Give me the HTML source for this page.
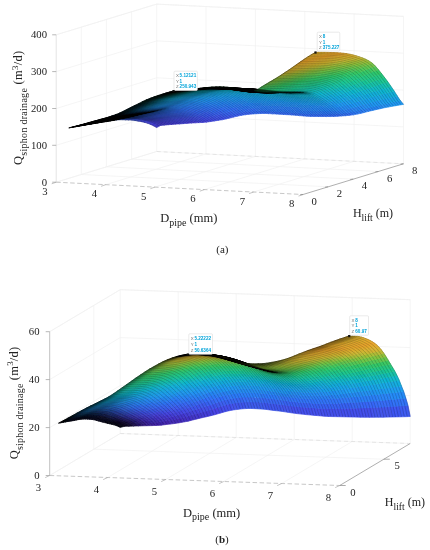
<!DOCTYPE html>
<html><head><meta charset="utf-8"><title>Siphon drainage surfaces</title>
<style>
html,body{margin:0;padding:0;background:#fff}
body{width:430px;height:550px;overflow:hidden}
svg{display:block}
text{font-family:"Liberation Serif",serif;fill:#222}
.surf path{stroke-width:.7;stroke-linejoin:round}
text.tipl{font-family:"Liberation Sans",sans-serif;fill:#6e6e6e}
.tipv{fill:#00a3d9;font-weight:bold}
.aa{fill:#3c36c0;stroke:#3c36c0}.ab{fill:#3c36ba;stroke:#3c36ba}.ac{fill:#3c36c6;stroke:#3c36c6}.ad{fill:#3c3cc6;stroke:#3c3cc6}.ae{fill:#3c3ccc;stroke:#3c3ccc}.af{fill:#423ccc;stroke:#423ccc}.ag{fill:#3c3cc0;stroke:#3c3cc0}.ah{fill:#423cd2;stroke:#423cd2}.ai{fill:#4242d2;stroke:#4242d2}.aj{fill:#4242d8;stroke:#4242d8}.ak{fill:#3636ba;stroke:#3636ba}.al{fill:#3c42cc;stroke:#3c42cc}.am{fill:#363cba;stroke:#363cba}.an{fill:#4248de;stroke:#4248de}.ao{fill:#3c42d2;stroke:#3c42d2}.ap{fill:#363cc0;stroke:#363cc0}.aq{fill:#3c48de;stroke:#3c48de}.ar{fill:#3c4ede;stroke:#3c4ede}.as{fill:#3c48d2;stroke:#3c48d2}.at{fill:#3c42c6;stroke:#3c42c6}.au{fill:#3c4ee4;stroke:#3c4ee4}.av{fill:#3636ae;stroke:#3636ae}.aw{fill:#3c48d8;stroke:#3c48d8}.ax{fill:#3c54e4;stroke:#3c54e4}.ay{fill:#303cae;stroke:#303cae}.az{fill:#363cb4;stroke:#363cb4}.ba{fill:#3c48cc;stroke:#3c48cc}.bb{fill:#365aea;stroke:#365aea}.bc{fill:#3642ba;stroke:#3642ba}.bd{fill:#3642c0;stroke:#3642c0}.be{fill:#3036a2;stroke:#3036a2}.bf{fill:#3660ea;stroke:#3660ea}.bg{fill:#3c4ed8;stroke:#3c4ed8}.bh{fill:#3648c6;stroke:#3648c6}.bi{fill:#365ae4;stroke:#365ae4}.bj{fill:#303ca8;stroke:#303ca8}.bk{fill:#3654de;stroke:#3654de}.bl{fill:#3648cc;stroke:#3648cc}.bm{fill:#3066ea;stroke:#3066ea}.bn{fill:#3654e4;stroke:#3654e4}.bo{fill:#364ecc;stroke:#364ecc}.bp{fill:#3042b4;stroke:#3042b4}.bq{fill:#3666ea;stroke:#3666ea}.br{fill:#364ed2;stroke:#364ed2}.bs{fill:#3042ba;stroke:#3042ba}.bt{fill:#2a369c;stroke:#2a369c}.bu{fill:#3654d8;stroke:#3654d8}.bv{fill:#3048c0;stroke:#3048c0}.bw{fill:#306cf0;stroke:#306cf0}.bx{fill:#2a3ca2;stroke:#2a3ca2}.by{fill:#365ade;stroke:#365ade}.bz{fill:#304ec6;stroke:#304ec6}.ca{fill:#2a3ca8;stroke:#2a3ca8}.cb{fill:#304ecc;stroke:#304ecc}.cc{fill:#2a42ae;stroke:#2a42ae}.cd{fill:#3054d2;stroke:#3054d2}.ce{fill:#3660e4;stroke:#3660e4}.cf{fill:#3048b4;stroke:#3048b4}.cg{fill:#3072ea;stroke:#3072ea}.ch{fill:#3054d8;stroke:#3054d8}.ci{fill:#3048ba;stroke:#3048ba}.cj{fill:#2a3c9c;stroke:#2a3c9c}.ck{fill:#2a72ea;stroke:#2a72ea}.cl{fill:#304ec0;stroke:#304ec0}.cm{fill:#3066e4;stroke:#3066e4}.cn{fill:#3060e4;stroke:#3060e4}.co{fill:#2a42a8;stroke:#2a42a8}.cp{fill:#3054cc;stroke:#3054cc}.cq{fill:#2a48b4;stroke:#2a48b4}.cr{fill:#3072f0;stroke:#3072f0}.cs{fill:#2a78ea;stroke:#2a78ea}.ct{fill:#243690;stroke:#243690}.cu{fill:#2a48ba;stroke:#2a48ba}.cv{fill:#305ad8;stroke:#305ad8}.cw{fill:#2a4eba;stroke:#2a4eba}.cx{fill:#306cea;stroke:#306cea}.cy{fill:#243c9c;stroke:#243c9c}.cz{fill:#3060de;stroke:#3060de}.da{fill:#2a4ec0;stroke:#2a4ec0}.db{fill:#2442a2;stroke:#2442a2}.dc{fill:#3054c6;stroke:#3054c6}.dd{fill:#247eea;stroke:#247eea}.de{fill:#1e2a72;stroke:#1e2a72}.df{fill:#305ad2;stroke:#305ad2}.dg{fill:#1e3078;stroke:#1e3078}.dh{fill:#2a4eb4;stroke:#2a4eb4}.di{fill:#3060d8;stroke:#3060d8}.dj{fill:#2a6cea;stroke:#2a6cea}.dk{fill:#1e3684;stroke:#1e3684}.dl{fill:#247ee4;stroke:#247ee4}.dm{fill:#1e3c8a;stroke:#1e3c8a}.dn{fill:#2a54c0;stroke:#2a54c0}.do{fill:#243c96;stroke:#243c96}.dp{fill:#2484ea;stroke:#2484ea}.dq{fill:#2484e4;stroke:#2484e4}.dr{fill:#244296;stroke:#244296}.ds{fill:#2a5acc;stroke:#2a5acc}.dt{fill:#2a6ce4;stroke:#2a6ce4}.du{fill:#182a6c;stroke:#182a6c}.dv{fill:#2a5ad2;stroke:#2a5ad2}.dw{fill:#2a72e4;stroke:#2a72e4}.dx{fill:#2a72f0;stroke:#2a72f0}.dy{fill:#2a7eea;stroke:#2a7eea}.dz{fill:#2448a8;stroke:#2448a8}.ea{fill:#2a60d8;stroke:#2a60d8}.eb{fill:#1e8ae4;stroke:#1e8ae4}.ec{fill:#2a78f0;stroke:#2a78f0}.ed{fill:#183078;stroke:#183078}.ee{fill:#244eae;stroke:#244eae}.ef{fill:#2a66de;stroke:#2a66de}.eg{fill:#2454ba;stroke:#2454ba}.eh{fill:#1e368a;stroke:#1e368a}.ei{fill:#2a7ef0;stroke:#2a7ef0}.ej{fill:#182a60;stroke:#182a60}.ek{fill:#1e4296;stroke:#1e4296}.el{fill:#1e429c;stroke:#1e429c}.em{fill:#2484f0;stroke:#2484f0}.en{fill:#2a60d2;stroke:#2a60d2}.eo{fill:#18306c;stroke:#18306c}.ep{fill:#2478e4;stroke:#2478e4}.eq{fill:#2448a2;stroke:#2448a2}.er{fill:#1e90e4;stroke:#1e90e4}.es{fill:#2a84f0;stroke:#2a84f0}.et{fill:#183678;stroke:#183678}.eu{fill:#1e90de;stroke:#1e90de}.ev{fill:#248af0;stroke:#248af0}.ew{fill:#1e367e;stroke:#1e367e}.ex{fill:#2a6cde;stroke:#2a6cde}.ey{fill:#2490f0;stroke:#2490f0}.ez{fill:#122454;stroke:#122454}.fa{fill:#1890de;stroke:#1890de}.fb{fill:#245ac0;stroke:#245ac0}.fc{fill:#1e90f0;stroke:#1e90f0}.fd{fill:#1e4290;stroke:#1e4290}.fe{fill:#2460cc;stroke:#2460cc}.ff{fill:#1e96f0;stroke:#1e96f0}.fg{fill:#122a60;stroke:#122a60}.fh{fill:#1e4896;stroke:#1e4896}.fi{fill:#248aea;stroke:#248aea}.fj{fill:#1896de;stroke:#1896de}.fk{fill:#246cd2;stroke:#246cd2}.fl{fill:#1e4ea2;stroke:#1e4ea2}.fm{fill:#1e8aea;stroke:#1e8aea}.fn{fill:#1896d8;stroke:#1896d8}.fo{fill:#2472d8;stroke:#2472d8}.fp{fill:#183672;stroke:#183672}.fq{fill:#1e54ae;stroke:#1e54ae}.fr{fill:#000000;stroke:#000000}.fs{fill:#2478de;stroke:#2478de}.ft{fill:#18367e;stroke:#18367e}.fu{fill:#1e9cf0;stroke:#1e9cf0}.fv{fill:#245aba;stroke:#245aba}.fw{fill:#1890d8;stroke:#1890d8}.fx{fill:#183c84;stroke:#183c84}.fy{fill:#189cea;stroke:#189cea}.fz{fill:#2460c6;stroke:#2460c6}.ga{fill:#1e9cea;stroke:#1e9cea}.gb{fill:#18428a;stroke:#18428a}.gc{fill:#18a2ea;stroke:#18a2ea}.gd{fill:#247ede;stroke:#247ede}.ge{fill:#000006;stroke:#000006}.gf{fill:#18a2e4;stroke:#18a2e4}.gg{fill:#1e84de;stroke:#1e84de}.gh{fill:#1896d2;stroke:#1896d2}.gi{fill:#060c12;stroke:#060c12}.gj{fill:#1e8ade;stroke:#1e8ade}.gk{fill:#1e96ea;stroke:#1e96ea}.gl{fill:#06121e;stroke:#06121e}.gm{fill:#2478d8;stroke:#2478d8}.gn{fill:#1e5aae;stroke:#1e5aae}.go{fill:#1296cc;stroke:#1296cc}.gp{fill:#061224;stroke:#061224}.gq{fill:#18a8e4;stroke:#18a8e4}.gr{fill:#1e7ed8;stroke:#1e7ed8}.gs{fill:#1e60ba;stroke:#1e60ba}.gt{fill:#061830;stroke:#061830}.gu{fill:#189ce4;stroke:#189ce4}.gv{fill:#18a8de;stroke:#18a8de}.gw{fill:#189cd2;stroke:#189cd2}.gx{fill:#246ccc;stroke:#246ccc}.gy{fill:#0c2448;stroke:#0c2448}.gz{fill:#1890d2;stroke:#1890d2}.ha{fill:#129cd2;stroke:#129cd2}.hb{fill:#129ccc;stroke:#129ccc}.hc{fill:#12a8de;stroke:#12a8de}.hd{fill:#2472d2;stroke:#2472d2}.he{fill:#12366c;stroke:#12366c}.hf{fill:#12aed8;stroke:#12aed8}.hg{fill:#188ade;stroke:#188ade}.hh{fill:#1e78d2;stroke:#1e78d2}.hi{fill:#184284;stroke:#184284}.hj{fill:#189cde;stroke:#189cde}.hk{fill:#129cc6;stroke:#129cc6}.hl{fill:#1e7ed2;stroke:#1e7ed2}.hm{fill:#18549c;stroke:#18549c}.hn{fill:#18a2de;stroke:#18a2de}.ho{fill:#1296c6;stroke:#1296c6}.hp{fill:#1e84d8;stroke:#1e84d8}.hq{fill:#1e66ba;stroke:#1e66ba}.hr{fill:#000606;stroke:#000606}.hs{fill:#12b4d2;stroke:#12b4d2}.ht{fill:#1890cc;stroke:#1890cc}.hu{fill:#1296c0;stroke:#1296c0}.hv{fill:#188ad8;stroke:#188ad8}.hw{fill:#1e6cc6;stroke:#1e6cc6}.hx{fill:#0cb4d2;stroke:#0cb4d2}.hy{fill:#1296ba;stroke:#1296ba}.hz{fill:#1290c6;stroke:#1290c6}.ia{fill:#188ad2;stroke:#188ad2}.ib{fill:#12a8d8;stroke:#12a8d8}.ic{fill:#1e72c6;stroke:#1e72c6}.id{fill:#0c2a4e;stroke:#0c2a4e}.ie{fill:#12bacc;stroke:#12bacc}.if{fill:#129cc0;stroke:#129cc0}.ig{fill:#1290b4;stroke:#1290b4}.ih{fill:#18a2d8;stroke:#18a2d8}.ii{fill:#1878c6;stroke:#1878c6}.ij{fill:#0c90b4;stroke:#0c90b4}.ik{fill:#12427e;stroke:#12427e}.il{fill:#12bac6;stroke:#12bac6}.im{fill:#12b4cc;stroke:#12b4cc}.in{fill:#0c90ae;stroke:#0c90ae}.io{fill:#1890c6;stroke:#1890c6}.ip{fill:#187ecc;stroke:#187ecc}.iq{fill:#185aa2;stroke:#185aa2}.ir{fill:#0cb4cc;stroke:#0cb4cc}.is{fill:#129cba;stroke:#129cba}.it{fill:#0c96b4;stroke:#0c96b4}.iu{fill:#1884cc;stroke:#1884cc}.iv{fill:#12bac0;stroke:#12bac0}.iw{fill:#00060c;stroke:#00060c}.ix{fill:#12aed2;stroke:#12aed2}.iy{fill:#1290c0;stroke:#1290c0}.iz{fill:#0c90a8;stroke:#0c90a8}.ja{fill:#188ac6;stroke:#188ac6}.jb{fill:#1872ba;stroke:#1872ba}.jc{fill:#12baba;stroke:#12baba}.jd{fill:#12a2cc;stroke:#12a2cc}.je{fill:#0c8aa2;stroke:#0c8aa2}.jf{fill:#1290ba;stroke:#1290ba}.jg{fill:#12a8d2;stroke:#12a8d2}.jh{fill:#12c0b4;stroke:#12c0b4}.ji{fill:#128ac0;stroke:#128ac0}.jj{fill:#124278;stroke:#124278}.jk{fill:#0c849c;stroke:#0c849c}.jl{fill:#12bab4;stroke:#12bab4}.jm{fill:#18c0a8;stroke:#18c0a8}.jn{fill:#0c8496;stroke:#0c8496}.jo{fill:#1284ba;stroke:#1284ba}.jp{fill:#1878c0;stroke:#1878c0}.jq{fill:#12a2c0;stroke:#12a2c0}.jr{fill:#0c7e96;stroke:#0c7e96}.js{fill:#0c7e90;stroke:#0c7e90}.jt{fill:#12c0ae;stroke:#12c0ae}.ju{fill:#1284b4;stroke:#1284b4}.jv{fill:#12aecc;stroke:#12aecc}.jw{fill:#186cb4;stroke:#186cb4}.jx{fill:#187ec0;stroke:#187ec0}.jy{fill:#0c1e3c;stroke:#0c1e3c}.jz{fill:#1284ae;stroke:#1284ae}.ka{fill:#0c788a;stroke:#0c788a}.kb{fill:#12b4c6;stroke:#12b4c6}.kc{fill:#123666;stroke:#123666}.kd{fill:#0c7884;stroke:#0c7884}.ke{fill:#12a8c6;stroke:#12a8c6}.kf{fill:#0c7284;stroke:#0c7284}.kg{fill:#0c84a8;stroke:#0c84a8}.kh{fill:#0c6c78;stroke:#0c6c78}.ki{fill:#18c0a2;stroke:#18c0a2}.kj{fill:#12b4c0;stroke:#12b4c0}.kk{fill:#18488a;stroke:#18488a}.kl{fill:#127eb4;stroke:#127eb4}.km{fill:#18c696;stroke:#18c696}.kn{fill:#0c8a9c;stroke:#0c8a9c}.ko{fill:#1860a8;stroke:#1860a8}.kp{fill:#127ea8;stroke:#127ea8}.kq{fill:#1878ba;stroke:#1878ba}.kr{fill:#064e54;stroke:#064e54}.ks{fill:#06606c;stroke:#06606c}.kt{fill:#0c90a2;stroke:#0c90a2}.ku{fill:#1ec690;stroke:#1ec690}.kv{fill:#063c42;stroke:#063c42}.kw{fill:#065a60;stroke:#065a60}.kx{fill:#0c7ea2;stroke:#0c7ea2}.ky{fill:#186cba;stroke:#186cba}.kz{fill:#12baae;stroke:#12baae}.la{fill:#061e36;stroke:#061e36}.lb{fill:#062a30;stroke:#062a30}.lc{fill:#0c7896;stroke:#0c7896}.ld{fill:#123660;stroke:#123660}.le{fill:#064e5a;stroke:#064e5a}.lf{fill:#001818;stroke:#001818}.lg{fill:#063030;stroke:#063030}.lh{fill:#0c7890;stroke:#0c7890}.li{fill:#062a2a;stroke:#062a2a}.lj{fill:#0c9cae;stroke:#0c9cae}.lk{fill:#124884;stroke:#124884}.ll{fill:#127eae;stroke:#127eae}.lm{fill:#18c09c;stroke:#18c09c}.ln{fill:#06363c;stroke:#06363c}.lo{fill:#1ec68a;stroke:#1ec68a}.lp{fill:#001212;stroke:#001212}.lq{fill:#0caec0;stroke:#0caec0}.lr{fill:#1860a2;stroke:#1860a2}.ls{fill:#127ea2;stroke:#127ea2}.lt{fill:#06545a;stroke:#06545a}.lu{fill:#24c684;stroke:#24c684}.lv{fill:#066678;stroke:#066678}.lw{fill:#12b4ba;stroke:#12b4ba}.lx{fill:#0c666c;stroke:#0c666c}.ly{fill:#0c789c;stroke:#0c789c}.lz{fill:#24c67e;stroke:#24c67e}.ma{fill:#12b4ae;stroke:#12b4ae}.mb{fill:#0c305a;stroke:#0c305a}.mc{fill:#1872b4;stroke:#1872b4}.md{fill:#0c6c72;stroke:#0c6c72}.me{fill:#12baa8;stroke:#12baa8}.mf{fill:#124878;stroke:#124878}.mg{fill:#0c848a;stroke:#0c848a}.mh{fill:#066c7e;stroke:#066c7e}.mi{fill:#12a8ae;stroke:#12a8ae}.mj{fill:#18ba9c;stroke:#18ba9c}.mk{fill:#185a9c;stroke:#185a9c}.ml{fill:#1278b4;stroke:#1278b4}.mm{fill:#2ac678;stroke:#2ac678}.mn{fill:#18c096;stroke:#18c096}.mo{fill:#186cae;stroke:#186cae}.mp{fill:#2ac672;stroke:#2ac672}.mq{fill:#06484e;stroke:#06484e}.mr{fill:#0c2a48;stroke:#0c2a48}.ms{fill:#1872ae;stroke:#1872ae}.mt{fill:#1ec08a;stroke:#1ec08a}.mu{fill:#12b4a2;stroke:#12b4a2}.mv{fill:#30c666;stroke:#30c666}.mw{fill:#12426c;stroke:#12426c}.mx{fill:#1272a8;stroke:#1272a8}.my{fill:#1ec084;stroke:#1ec084}.mz{fill:#065a5a;stroke:#065a5a}.na{fill:#30c66c;stroke:#30c66c}.nb{fill:#125490;stroke:#125490}.nc{fill:#12a8a2;stroke:#12a8a2}.nd{fill:#1278a8;stroke:#1278a8}.ne{fill:#18ba90;stroke:#18ba90}.nf{fill:#36c666;stroke:#36c666}.ng{fill:#1266a2;stroke:#1266a2}.nh{fill:#42c660;stroke:#42c660}.ni{fill:#126ca2;stroke:#126ca2}.nj{fill:#18b496;stroke:#18b496}.nk{fill:#24c07e;stroke:#24c07e}.nl{fill:#54c65a;stroke:#54c65a}.nm{fill:#0c3c66;stroke:#0c3c66}.nn{fill:#0c727e;stroke:#0c727e}.no{fill:#126c9c;stroke:#126c9c}.np{fill:#36c660;stroke:#36c660}.nq{fill:#24c078;stroke:#24c078}.nr{fill:#125484;stroke:#125484}.ns{fill:#12a296;stroke:#12a296}.nt{fill:#0c7290;stroke:#0c7290}.nu{fill:#1eba84;stroke:#1eba84}.nv{fill:#48c65a;stroke:#48c65a}.nw{fill:#2ac06c;stroke:#2ac06c}.nx{fill:#126096;stroke:#126096}.ny{fill:#1278a2;stroke:#1278a2}.nz{fill:#12b49c;stroke:#12b49c}.oa{fill:#54c654;stroke:#54c654}.ob{fill:#1eba7e;stroke:#1eba7e}.oc{fill:#063636;stroke:#063636}.od{fill:#06243c;stroke:#06243c}.oe{fill:#126696;stroke:#126696}.of{fill:#0c6c7e;stroke:#0c6c7e}.og{fill:#18b490;stroke:#18b490}.oh{fill:#60c64e;stroke:#60c64e}.oi{fill:#3cc660;stroke:#3cc660}.oj{fill:#0c365a;stroke:#0c365a}.ok{fill:#126690;stroke:#126690}.ol{fill:#0c728a;stroke:#0c728a}.om{fill:#18b484;stroke:#18b484}.on{fill:#72c048;stroke:#72c048}.oo{fill:#4ec05a;stroke:#4ec05a}.op{fill:#0c4878;stroke:#0c4878}.oq{fill:#0c6690;stroke:#0c6690}.or{fill:#129c90;stroke:#129c90}.os{fill:#064848;stroke:#064848}.ot{fill:#30c066;stroke:#30c066}.ou{fill:#5ac04e;stroke:#5ac04e}.ov{fill:#125a84;stroke:#125a84}.ow{fill:#060c18;stroke:#060c18}.ox{fill:#066672;stroke:#066672}.oy{fill:#0c7296;stroke:#0c7296}.oz{fill:#061e1e;stroke:#061e1e}.pa{fill:#24ba78;stroke:#24ba78}.pb{fill:#3cc05a;stroke:#3cc05a}.pc{fill:#6cc048;stroke:#6cc048}.pd{fill:#18b48a;stroke:#18b48a}.pe{fill:#2aba6c;stroke:#2aba6c}.pf{fill:#0c304e;stroke:#0c304e}.pg{fill:#78c042;stroke:#78c042}.ph{fill:#4ec054;stroke:#4ec054}.pi{fill:#0c5a84;stroke:#0c5a84}.pj{fill:#0c667e;stroke:#0c667e}.pk{fill:#1eb47e;stroke:#1eb47e}.pl{fill:#0c4266;stroke:#0c4266}.pm{fill:#2ac066;stroke:#2ac066}.pn{fill:#8ac03c;stroke:#8ac03c}.po{fill:#0c607e;stroke:#0c607e}.pp{fill:#066072;stroke:#066072}.pq{fill:#12a290;stroke:#12a290}.pr{fill:#24b478;stroke:#24b478}.ps{fill:#0c4e72;stroke:#0c4e72}.pt{fill:#000c12;stroke:#000c12}.pu{fill:#065a66;stroke:#065a66}.pv{fill:#0c6684;stroke:#0c6684}.pw{fill:#24ba6c;stroke:#24ba6c}.px{fill:#061e30;stroke:#061e30}.py{fill:#0c5472;stroke:#0c5472}.pz{fill:#48c054;stroke:#48c054}.qa{fill:#7ec03c;stroke:#7ec03c}.qb{fill:#06302a;stroke:#06302a}.qc{fill:#062a42;stroke:#062a42}.qd{fill:#2aba66;stroke:#2aba66}.qe{fill:#065454;stroke:#065454}.qf{fill:#90ba3c;stroke:#90ba3c}.qg{fill:#1eb478;stroke:#1eb478}.qh{fill:#0c3654;stroke:#0c3654}.qi{fill:#063c3c;stroke:#063c3c}.qj{fill:#36ba60;stroke:#36ba60}.qk{fill:#12a28a;stroke:#12a28a}.ql{fill:#6cba48;stroke:#6cba48}.qm{fill:#9cba36;stroke:#9cba36}.qn{fill:#24b472;stroke:#24b472}.qo{fill:#0c4260;stroke:#0c4260}.qp{fill:#0c5a72;stroke:#0c5a72}.qq{fill:#42ba54;stroke:#42ba54}.qr{fill:#7eba3c;stroke:#7eba3c}.qs{fill:#061824;stroke:#061824}.qt{fill:#0c4860;stroke:#0c4860}.qu{fill:#06241e;stroke:#06241e}.qv{fill:#064e4e;stroke:#064e4e}.qw{fill:#065a6c;stroke:#065a6c}.qx{fill:#54ba4e;stroke:#54ba4e}.qy{fill:#90ba36;stroke:#90ba36}.qz{fill:#06362a;stroke:#06362a}.ra{fill:#062436;stroke:#062436}.rb{fill:#064842;stroke:#064842}.rc{fill:#0c485a;stroke:#0c485a}.rd{fill:#30ba60;stroke:#30ba60}.re{fill:#065460;stroke:#065460}.rf{fill:#66ba48;stroke:#66ba48}.rg{fill:#063042;stroke:#063042}.rh{fill:#06485a;stroke:#06485a}.ri{fill:#42ba5a;stroke:#42ba5a}.rj{fill:#12a284;stroke:#12a284}.rk{fill:#78ba3c;stroke:#78ba3c}.rl{fill:#aeb430;stroke:#aeb430}.rm{fill:#00120c;stroke:#00120c}.rn{fill:#06364e;stroke:#06364e}.ro{fill:#24b46c;stroke:#24b46c}.rp{fill:#064e60;stroke:#064e60}.rq{fill:#4eba4e;stroke:#4eba4e}.rr{fill:#8aba36;stroke:#8aba36}.rs{fill:#063c30;stroke:#063c30}.rt{fill:#2aba60;stroke:#2aba60}.ru{fill:#064242;stroke:#064242}.rv{fill:#60ba48;stroke:#60ba48}.rw{fill:#06483c;stroke:#06483c}.rx{fill:#061e2a;stroke:#061e2a}.ry{fill:#9cb436;stroke:#9cb436}.rz{fill:#063c48;stroke:#063c48}.sa{fill:#063c36;stroke:#063c36}.sb{fill:#36ba5a;stroke:#36ba5a}.sc{fill:#061e18;stroke:#061e18}.sd{fill:#72ba42;stroke:#72ba42}.se{fill:#12a27e;stroke:#12a27e}.sf{fill:#48ba54;stroke:#48ba54}.sg{fill:#84ba3c;stroke:#84ba3c}.sh{fill:#062a3c;stroke:#062a3c}.si{fill:#c0b430;stroke:#c0b430}.sj{fill:#2ab466;stroke:#2ab466}.sk{fill:#06424e;stroke:#06424e}.sl{fill:#5aba48;stroke:#5aba48}.sm{fill:#18b47e;stroke:#18b47e}.sn{fill:#064248;stroke:#064248}.so{fill:#6cba42;stroke:#6cba42}.sp{fill:#1eb472;stroke:#1eb472}.sq{fill:#062a36;stroke:#062a36}.sr{fill:#063036;stroke:#063036}.ss{fill:#129c78;stroke:#129c78}.st{fill:#90b436;stroke:#90b436}.su{fill:#06303c;stroke:#06303c}.sv{fill:#2ab460;stroke:#2ab460}.sw{fill:#c6ae30;stroke:#c6ae30}.sx{fill:#1eae78;stroke:#1eae78}.sy{fill:#66ba42;stroke:#66ba42}.sz{fill:#000c0c;stroke:#000c0c}.ta{fill:#a8b436;stroke:#a8b436}.tb{fill:#36b45a;stroke:#36b45a}.tc{fill:#061812;stroke:#061812}.td{fill:#78b43c;stroke:#78b43c}.te{fill:#24ae72;stroke:#24ae72}.tf{fill:#062a24;stroke:#062a24}.tg{fill:#bab430;stroke:#bab430}.th{fill:#48b44e;stroke:#48b44e}.ti{fill:#001218;stroke:#001218}.tj{fill:#8ab436;stroke:#8ab436}.tk{fill:#061818;stroke:#061818}.tl{fill:#24b466;stroke:#24b466}.tm{fill:#00242a;stroke:#00242a}.tn{fill:#189c72;stroke:#189c72}.to{fill:#5ab448;stroke:#5ab448}.tp{fill:#00181e;stroke:#00181e}.tq{fill:#06242a;stroke:#06242a}.tr{fill:#2ab45a;stroke:#2ab45a}.ts{fill:#cca82a;stroke:#cca82a}.tt{fill:#6cb442;stroke:#6cb442}.tu{fill:#062424;stroke:#062424}.tv{fill:#b4b430;stroke:#b4b430}.tw{fill:#3cb454;stroke:#3cb454}.tx{fill:#24ae6c;stroke:#24ae6c}.ty{fill:#7eb436;stroke:#7eb436}.tz{fill:#4eb44e;stroke:#4eb44e}.ua{fill:#001812;stroke:#001812}.ub{fill:#2aae60;stroke:#2aae60}.uc{fill:#96b436;stroke:#96b436}.ud{fill:#18966c;stroke:#18966c}.ue{fill:#60b442;stroke:#60b442}.uf{fill:#001e1e;stroke:#001e1e}.ug{fill:#30ae54;stroke:#30ae54}.uh{fill:#a8ae30;stroke:#a8ae30}.ui{fill:#d2a82a;stroke:#d2a82a}.uj{fill:#1eae72;stroke:#1eae72}.uk{fill:#72ae3c;stroke:#72ae3c}.ul{fill:#42ae4e;stroke:#42ae4e}.um{fill:#c0ae30;stroke:#c0ae30}.un{fill:#24ae66;stroke:#24ae66}.uo{fill:#84ae36;stroke:#84ae36}.up{fill:#c6a82a;stroke:#c6a82a}.uq{fill:#54ae48;stroke:#54ae48}.ur{fill:#2aae5a;stroke:#2aae5a}.us{fill:#9cae30;stroke:#9cae30}.ut{fill:#189066;stroke:#189066}.uu{fill:#66ae3c;stroke:#66ae3c}.uv{fill:#36ae54;stroke:#36ae54}.uw{fill:#b4ae30;stroke:#b4ae30}.ux{fill:#1ea86c;stroke:#1ea86c}.uy{fill:#d2a22a;stroke:#d2a22a}.uz{fill:#78ae36;stroke:#78ae36}.va{fill:#48ae48;stroke:#48ae48}.vb{fill:#c0a82a;stroke:#c0a82a}.vc{fill:#24ae60;stroke:#24ae60}.vd{fill:#90ae36;stroke:#90ae36}.ve{fill:#5aae42;stroke:#5aae42}.vf{fill:#000c06;stroke:#000c06}.vg{fill:#a2ae30;stroke:#a2ae30}.vh{fill:#188a60;stroke:#188a60}.vi{fill:#6cae3c;stroke:#6cae3c}.vj{fill:#3ca84e;stroke:#3ca84e}.vk{fill:#baa82a;stroke:#baa82a}.vl{fill:#1ea866;stroke:#1ea866}.vm{fill:#d29c2a;stroke:#d29c2a}.vn{fill:#7eae36;stroke:#7eae36}.vo{fill:#4ea848;stroke:#4ea848}.vp{fill:#2aa85a;stroke:#2aa85a}.vq{fill:#96a830;stroke:#96a830}.vr{fill:#60a83c;stroke:#60a83c}.vs{fill:#cca22a;stroke:#cca22a}.vt{fill:#30a854;stroke:#30a854}.vu{fill:#aea830;stroke:#aea830}.vv{fill:#188a5a;stroke:#188a5a}.vw{fill:#72a836;stroke:#72a836}.vx{fill:#42a848;stroke:#42a848}.vy{fill:#24a260;stroke:#24a260}.vz{fill:#d89c2a;stroke:#d89c2a}.wa{fill:#8aa830;stroke:#8aa830}.wb{fill:#54a842;stroke:#54a842}.wc{fill:#c6a22a;stroke:#c6a22a}.wd{fill:#2aa854;stroke:#2aa854}.we{fill:#9ca830;stroke:#9ca830}.wf{fill:#66a83c;stroke:#66a83c}.wg{fill:#36a84e;stroke:#36a84e}.wh{fill:#b4a82a;stroke:#b4a82a}.wi{fill:#188454;stroke:#188454}.wj{fill:#06120c;stroke:#06120c}.wk{fill:#78a836;stroke:#78a836}.wl{fill:#000600;stroke:#000600}.wm{fill:#48a248;stroke:#48a248}.wn{fill:#060c06;stroke:#060c06}.wo{fill:#c0a22a;stroke:#c0a22a}.wp{fill:#249c5a;stroke:#249c5a}.wq{fill:#90a230;stroke:#90a230}.wr{fill:#d89624;stroke:#d89624}.ws{fill:#5aa23c;stroke:#5aa23c}.wt{fill:#30a254;stroke:#30a254}.wu{fill:#a2a230;stroke:#a2a230}.wv{fill:#6ca836;stroke:#6ca836}.ww{fill:#cc9c2a;stroke:#cc9c2a}.wx{fill:#061206;stroke:#061206}.wy{fill:#42a248;stroke:#42a248}.wz{fill:#b4a22a;stroke:#b4a22a}.xa{fill:#187848;stroke:#187848}.xb{fill:#06180c;stroke:#06180c}.xc{fill:#7ea230;stroke:#7ea230}.xd{fill:#d2962a;stroke:#d2962a}.xe{fill:#4ea242;stroke:#4ea242}.xf{fill:#249c54;stroke:#249c54}.xg{fill:#96a230;stroke:#96a230}.xh{fill:#d29624;stroke:#d29624}.xi{fill:#60a23c;stroke:#60a23c}.xj{fill:#c69c2a;stroke:#c69c2a}.xk{fill:#061e0c;stroke:#061e0c}.xl{fill:#36a24e;stroke:#36a24e}.xm{fill:#a8a22a;stroke:#a8a22a}.xn{fill:#72a230;stroke:#72a230}.xo{fill:#48a242;stroke:#48a242}.xp{fill:#baa22a;stroke:#baa22a}.xq{fill:#187842;stroke:#187842}.xr{fill:#84a230;stroke:#84a230}.xs{fill:#549c3c;stroke:#549c3c}.xt{fill:#c09c2a;stroke:#c09c2a}.xu{fill:#2a964e;stroke:#2a964e}.xv{fill:#9ca22a;stroke:#9ca22a}.xw{fill:#669c36;stroke:#669c36}.xx{fill:#3c9c48;stroke:#3c9c48}.xy{fill:#ae9c2a;stroke:#ae9c2a}.xz{fill:#789c30;stroke:#789c30}.ya{fill:#4e9c42;stroke:#4e9c42}.yb{fill:#ba9c2a;stroke:#ba9c2a}.yc{fill:#1e723c;stroke:#1e723c}.yd{fill:#8a9c30;stroke:#8a9c30}.ye{fill:#5a9c36;stroke:#5a9c36}.yf{fill:#309648;stroke:#309648}.yg{fill:#a29c2a;stroke:#a29c2a}.yh{fill:#6c9c30;stroke:#6c9c30}.yi{fill:#cc962a;stroke:#cc962a}.yj{fill:#429c42;stroke:#429c42}.yk{fill:#b49c2a;stroke:#b49c2a}.yl{fill:#7e9c30;stroke:#7e9c30}.ym{fill:#ba962a;stroke:#ba962a}.yn{fill:#909c2a;stroke:#909c2a}.yo{fill:#609c36;stroke:#609c36}.yp{fill:#c6962a;stroke:#c6962a}.yq{fill:#a8962a;stroke:#a8962a}.yr{fill:#729c30;stroke:#729c30}.ys{fill:#cc9624;stroke:#cc9624}.yt{fill:#b4962a;stroke:#b4962a}.yu{fill:#849c2a;stroke:#849c2a}.yv{fill:#9c962a;stroke:#9c962a}.yw{fill:#c69624;stroke:#c69624}.yx{fill:#cc9c24;stroke:#cc9c24}.yy{fill:#d29024;stroke:#d29024}.yz{fill:#b49624;stroke:#b49624}.za{fill:#c09624;stroke:#c09624}.zb{fill:#c69024;stroke:#c69024}.zc{fill:#cc9024;stroke:#cc9024}.zd{fill:#060612;stroke:#060612}.ze{fill:#0c061e;stroke:#0c061e}.zf{fill:#120c30;stroke:#120c30}.zg{fill:#1e124e;stroke:#1e124e}.zh{fill:#241266;stroke:#241266}.zi{fill:#30187e;stroke:#30187e}.zj{fill:#361e90;stroke:#361e90}.zk{fill:#3c1e9c;stroke:#3c1e9c}.zl{fill:#3c1ea2;stroke:#3c1ea2}.zm{fill:#3c24a8;stroke:#3c24a8}.zn{fill:#241866;stroke:#241866}.zo{fill:#4224ae;stroke:#4224ae}.zp{fill:#301e7e;stroke:#301e7e}.zq{fill:#422ab4;stroke:#422ab4}.zr{fill:#3624a2;stroke:#3624a2}.zs{fill:#422aba;stroke:#422aba}.zt{fill:#3c2aa8;stroke:#3c2aa8}.zu{fill:#4230c0;stroke:#4230c0}.zv{fill:#3c2ab4;stroke:#3c2ab4}.zw{fill:#24186c;stroke:#24186c}.zx{fill:#4230c6;stroke:#4230c6}.zy{fill:#4230ba;stroke:#4230ba}.zz{fill:#301e84;stroke:#301e84}.aa1{fill:#4236c6;stroke:#4236c6}.ab1{fill:#36249c;stroke:#36249c}.ac1{fill:#4236cc;stroke:#4236cc}.ad1{fill:#3c30b4;stroke:#3c30b4}.ae1{fill:#423cd8;stroke:#423cd8}.af1{fill:#241e6c;stroke:#241e6c}.ag1{fill:#4242de;stroke:#4242de}.ah1{fill:#30248a;stroke:#30248a}.ai1{fill:#4842e4;stroke:#4842e4}.aj1{fill:#362aa2;stroke:#362aa2}.ak1{fill:#120c36;stroke:#120c36}.al1{fill:#3c30ae;stroke:#3c30ae}.am1{fill:#4248e4;stroke:#4248e4}.an1{fill:#1e1854;stroke:#1e1854}.ao1{fill:#424eea;stroke:#424eea}.ap1{fill:#241e72;stroke:#241e72}.aq1{fill:#424ee4;stroke:#424ee4}.ar1{fill:#302a90;stroke:#302a90}.as1{fill:#4254ea;stroke:#4254ea}.at1{fill:#3630a8;stroke:#3630a8}.au1{fill:#3c54ea;stroke:#3c54ea}.av1{fill:#3c5aea;stroke:#3c5aea}.aw1{fill:#1e185a;stroke:#1e185a}.ax1{fill:#3c60f0;stroke:#3c60f0}.ay1{fill:#242478;stroke:#242478}.az1{fill:#3660f0;stroke:#3660f0}.ba1{fill:#302a96;stroke:#302a96}.bb1{fill:#0c0c24;stroke:#0c0c24}.bc1{fill:#3666f0;stroke:#3666f0}.bd1{fill:#12123c;stroke:#12123c}.be1{fill:#366cf6;stroke:#366cf6}.bf1{fill:#24247e;stroke:#24247e}.bg1{fill:#306cf6;stroke:#306cf6}.bh1{fill:#366cf0;stroke:#366cf0}.bi1{fill:#30309c;stroke:#30309c}.bj1{fill:#3072f6;stroke:#3072f6}.bk1{fill:#3c54de;stroke:#3c54de}.bl1{fill:#3078f6;stroke:#3078f6}.bm1{fill:#3642c6;stroke:#3642c6}.bn1{fill:#2a78f6;stroke:#2a78f6}.bo1{fill:#1e1e60;stroke:#1e1e60}.bp1{fill:#3648d2;stroke:#3648d2}.bq1{fill:#242a84;stroke:#242a84}.br1{fill:#060618;stroke:#060618}.bs1{fill:#364ed8;stroke:#364ed8}.bt1{fill:#2a7ef6;stroke:#2a7ef6}.bu1{fill:#121242;stroke:#121242}.bv1{fill:#243084;stroke:#243084}.bw1{fill:#3078f0;stroke:#3078f0}.bx1{fill:#121842;stroke:#121842}.by1{fill:#182460;stroke:#182460}.bz1{fill:#2a42a2;stroke:#2a42a2}.ca1{fill:#182466;stroke:#182466}.cb1{fill:#3c54f0;stroke:#3c54f0}.cc1{fill:#24368a;stroke:#24368a}.cd1{fill:#1e90ea;stroke:#1e90ea}.ce1{fill:#3666f6;stroke:#3666f6}.cf1{fill:#2442a8;stroke:#2442a8}.cg1{fill:#3c5af0;stroke:#3c5af0}.ch1{fill:#182a66;stroke:#182a66}.ci1{fill:#2a78e4;stroke:#2a78e4}.cj1{fill:#2a5ac0;stroke:#2a5ac0}.ck1{fill:#2a66d2;stroke:#2a66d2}.cl1{fill:#2a84f6;stroke:#2a84f6}.cm1{fill:#1896e4;stroke:#1896e4}.cn1{fill:#060c24;stroke:#060c24}.co1{fill:#244ea8;stroke:#244ea8}.cp1{fill:#1e96e4;stroke:#1e96e4}.cq1{fill:#0c1842;stroke:#0c1842}.cr1{fill:#12a2d2;stroke:#12a2d2}.cs1{fill:#248af6;stroke:#248af6}.ct1{fill:#2466cc;stroke:#2466cc}.cu1{fill:#189cd8;stroke:#189cd8}.cv1{fill:#12aec0;stroke:#12aec0}.cw1{fill:#0ca8c0;stroke:#0ca8c0}.cx1{fill:#246cc6;stroke:#246cc6}.cy1{fill:#0ca2c0;stroke:#0ca2c0}.cz1{fill:#1e72d2;stroke:#1e72d2}.da1{fill:#12b4a8;stroke:#12b4a8}.db1{fill:#1e60b4;stroke:#1e60b4}.dc1{fill:#18baa8;stroke:#18baa8}.dd1{fill:#12aeae;stroke:#12aeae}.de1{fill:#18c090;stroke:#18c090}.df1{fill:#0ca8b4;stroke:#0ca8b4}.dg1{fill:#0ca2b4;stroke:#0ca2b4}.dh1{fill:#0ca2ba;stroke:#0ca2ba}.di1{fill:#12aede;stroke:#12aede}.dj1{fill:#18ba96;stroke:#18ba96}.dk1{fill:#122a5a;stroke:#122a5a}.dl1{fill:#1e72c0;stroke:#1e72c0}.dm1{fill:#24c084;stroke:#24c084}.dn1{fill:#12a2c6;stroke:#12a2c6}.do1{fill:#18baa2;stroke:#18baa2}.dp1{fill:#18427e;stroke:#18427e}.dq1{fill:#1e7ecc;stroke:#1e7ecc}.dr1{fill:#12ae9c;stroke:#12ae9c}.ds1{fill:#12aea2;stroke:#12aea2}.dt1{fill:#060c1e;stroke:#060c1e}.du1{fill:#185496;stroke:#185496}.dv1{fill:#1884d2;stroke:#1884d2}.dw1{fill:#12a8a8;stroke:#12a8a8}.dx1{fill:#0c1836;stroke:#0c1836}.dy1{fill:#0caec6;stroke:#0caec6}.dz1{fill:#12a8cc;stroke:#12a8cc}.ea1{fill:#2ac072;stroke:#2ac072}.eb1{fill:#12a8b4;stroke:#12a8b4}.ec1{fill:#1eb484;stroke:#1eb484}.ed1{fill:#12aec6;stroke:#12aec6}.ee1{fill:#123c78;stroke:#123c78}.ef1{fill:#12aeba;stroke:#12aeba}.eg1{fill:#187ec6;stroke:#187ec6}.eh1{fill:#18ae84;stroke:#18ae84}.ei1{fill:#18ae8a;stroke:#18ae8a}.ej1{fill:#184e90;stroke:#184e90}.ek1{fill:#1884c6;stroke:#1884c6}.el1{fill:#12ae90;stroke:#12ae90}.em1{fill:#12a896;stroke:#12a896}.en1{fill:#12baa2;stroke:#12baa2}.eo1{fill:#0c2a54;stroke:#0c2a54}.ep1{fill:#36c060;stroke:#36c060}.eq1{fill:#12b4b4;stroke:#12b4b4}.er1{fill:#123c72;stroke:#123c72}.es1{fill:#12aea8;stroke:#12aea8}.et1{fill:#42c05a;stroke:#42c05a}.eu1{fill:#124e8a;stroke:#124e8a}.ev1{fill:#3cc060;stroke:#3cc060}.ew1{fill:#18a87e;stroke:#18a87e}.ex1{fill:#125a96;stroke:#125a96}.ey1{fill:#12aeb4;stroke:#12aeb4}.ez1{fill:#126ca8;stroke:#126ca8}.fa1{fill:#3cba5a;stroke:#3cba5a}.fb1{fill:#54c054;stroke:#54c054}.fc1{fill:#18c690;stroke:#18c690}.fd1{fill:#18ae90;stroke:#18ae90}.fe1{fill:#30c060;stroke:#30c060}.ff1{fill:#123c6c;stroke:#123c6c}.fg1{fill:#1278ae;stroke:#1278ae}.fh1{fill:#5aba4e;stroke:#5aba4e}.fi1{fill:#124e84;stroke:#124e84}.fj1{fill:#1e9c60;stroke:#1e9c60}.fk1{fill:#54c04e;stroke:#54c04e}.fl1{fill:#125a90;stroke:#125a90}.fm1{fill:#1e9c66;stroke:#1e9c66}.fn1{fill:#128ab4;stroke:#128ab4}.fo1{fill:#1ec684;stroke:#1ec684}.fp1{fill:#1e9c6c;stroke:#1e9c6c}.fq1{fill:#12669c;stroke:#12669c}.fr1{fill:#18a272;stroke:#18a272}.fs1{fill:#18a878;stroke:#18a878}.ft1{fill:#12ae96;stroke:#12ae96}.fu1{fill:#48a848;stroke:#48a848}.fv1{fill:#124e7e;stroke:#124e7e}.fw1{fill:#369648;stroke:#369648}.fx1{fill:#72b43c;stroke:#72b43c}.fy1{fill:#248a42;stroke:#248a42}.fz1{fill:#1e7e42;stroke:#1e7e42}.ga1{fill:#1e7e48;stroke:#1e7e48}.gb1{fill:#1e844e;stroke:#1e844e}.gc1{fill:#12a89c;stroke:#12a89c}.gd1{fill:#1e8a5a;stroke:#1e8a5a}.ge1{fill:#24c678;stroke:#24c678}.gf1{fill:#66a236;stroke:#66a236}.gg1{fill:#1e9660;stroke:#1e9660}.gh1{fill:#1272a2;stroke:#1272a2}.gi1{fill:#1ea266;stroke:#1ea266}.gj1{fill:#488a36;stroke:#488a36}.gk1{fill:#1ea872;stroke:#1ea872}.gl1{fill:#3c7830;stroke:#3c7830}.gm1{fill:#84a830;stroke:#84a830}.gn1{fill:#24602a;stroke:#24602a}.go1{fill:#12a2a2;stroke:#12a2a2}.gp1{fill:#125a8a;stroke:#125a8a}.gq1{fill:#24c072;stroke:#24c072}.gr1{fill:#18421e;stroke:#18421e}.gs1{fill:#42c65a;stroke:#42c65a}.gt1{fill:#124224;stroke:#124224}.gu1{fill:#12542a;stroke:#12542a}.gv1{fill:#54b44e;stroke:#54b44e}.gw1{fill:#8aae36;stroke:#8aae36}.gx1{fill:#0c96ae;stroke:#0c96ae}.gy1{fill:#4ec65a;stroke:#4ec65a}.gz1{fill:#24ba72;stroke:#24ba72}.ha1{fill:#186c3c;stroke:#186c3c}.hb1{fill:#90ae30;stroke:#90ae30}.hc1{fill:#12729c;stroke:#12729c}.hd1{fill:#6c8a2a;stroke:#6c8a2a}.he1{fill:#0c9ca8;stroke:#0c9ca8}.hf1{fill:#547224;stroke:#547224}.hg1{fill:#1e9054;stroke:#1e9054}.hh1{fill:#304818;stroke:#304818}.hi1{fill:#0c78a2;stroke:#0c78a2}.hj1{fill:#78b436;stroke:#78b436}.hk1{fill:#060600;stroke:#060600}.hl1{fill:#12a29c;stroke:#12a29c}.hm1{fill:#126090;stroke:#126090}.hn1{fill:#66c64e;stroke:#66c64e}.ho1{fill:#24a866;stroke:#24a866}.hp1{fill:#0c84a2;stroke:#0c84a2}.hq1{fill:#8a962a;stroke:#8a962a}.hr1{fill:#12a890;stroke:#12a890}.hs1{fill:#6cc648;stroke:#6cc648}.ht1{fill:#000612;stroke:#000612}.hu1{fill:#8a902a;stroke:#8a902a}.hv1{fill:#0c96a8;stroke:#0c96a8}.hw1{fill:#0c426c;stroke:#0c426c}.hx1{fill:#788424;stroke:#788424}.hy1{fill:#60c04e;stroke:#60c04e}.hz1{fill:#72c648;stroke:#72c648}.ia1{fill:#9ca230;stroke:#9ca230}.ib1{fill:#18ae7e;stroke:#18ae7e}.ic1{fill:#0c361e;stroke:#0c361e}.id1{fill:#48c05a;stroke:#48c05a}.ie1{fill:#5a661e;stroke:#5a661e}.if1{fill:#0c9ca2;stroke:#0c9ca2}.ig1{fill:#242a0c;stroke:#242a0c}.ih1{fill:#7ec642;stroke:#7ec642}.ii1{fill:#186036;stroke:#186036}.ij1{fill:#42b454;stroke:#42b454}.ik1{fill:#0c7e9c;stroke:#0c7e9c}.il1{fill:#1e8a48;stroke:#1e8a48}.im1{fill:#84c03c;stroke:#84c03c}.in1{fill:#968a24;stroke:#968a24}.io1{fill:#24964e;stroke:#24964e}.ip1{fill:#66c048;stroke:#66c048}.iq1{fill:#8a7e24;stroke:#8a7e24}.ir1{fill:#90c03c;stroke:#90c03c}.is1{fill:#12a88a;stroke:#12a88a}.it1{fill:#847e24;stroke:#847e24}.iu1{fill:#72c042;stroke:#72c042}.iv1{fill:#666018;stroke:#666018}.iw1{fill:#30ae5a;stroke:#30ae5a}.ix1{fill:#30b45a;stroke:#30b45a}.iy1{fill:#a89c2a;stroke:#a89c2a}.iz1{fill:#24240c;stroke:#24240c}.ja1{fill:#9cc036;stroke:#9cc036}.jb1{fill:#129ca2;stroke:#129ca2}.jc1{fill:#0c4e78;stroke:#0c4e78}.jd1{fill:#0c1e12;stroke:#0c1e12}.je1{fill:#48ae4e;stroke:#48ae4e}.jf1{fill:#a89624;stroke:#a89624}.jg1{fill:#06182a;stroke:#06182a}.jh1{fill:#a8c036;stroke:#a8c036}.ji1{fill:#90a830;stroke:#90a830}.jj1{fill:#6cc042;stroke:#6cc042}.jk1{fill:#1e6c36;stroke:#1e6c36}.jl1{fill:#0c547e;stroke:#0c547e}.jm1{fill:#8a781e;stroke:#8a781e}.jn1{fill:#60ae42;stroke:#60ae42}.jo1{fill:#aeba36;stroke:#aeba36}.jp1{fill:#0c2442;stroke:#0c2442}.jq1{fill:#2a8442;stroke:#2a8442}.jr1{fill:#726618;stroke:#726618}.js1{fill:#0c6084;stroke:#0c6084}.jt1{fill:#18a884;stroke:#18a884}.ju1{fill:#a8ba36;stroke:#a8ba36}.jv1{fill:#30a24e;stroke:#30a24e}.jw1{fill:#baba36;stroke:#baba36}.jx1{fill:#6c6018;stroke:#6c6018}.jy1{fill:#72ae36;stroke:#72ae36}.jz1{fill:#0c6c8a;stroke:#0c6c8a}.ka1{fill:#302a0c;stroke:#302a0c}.kb1{fill:#b4ba36;stroke:#b4ba36}.kc1{fill:#a89024;stroke:#a89024}.kd1{fill:#129c9c;stroke:#129c9c}.ke1{fill:#c0ba30;stroke:#c0ba30}.kf1{fill:#4eae48;stroke:#4eae48}.kg1{fill:#9c8424;stroke:#9c8424}.kh1{fill:#0c4e6c;stroke:#0c4e6c}.ki1{fill:#1e542a;stroke:#1e542a}.kj1{fill:#ccb430;stroke:#ccb430}.kk1{fill:#726018;stroke:#726018}.kl1{fill:#2a7836;stroke:#2a7836}.km1{fill:#483c12;stroke:#483c12}.kn1{fill:#d2b430;stroke:#d2b430}.ko1{fill:#3c9c42;stroke:#3c9c42}.kp1{fill:#0c8a96;stroke:#0c8a96}.kq1{fill:#c6b430;stroke:#c6b430}.kr1{fill:#062a48;stroke:#062a48}.ks1{fill:#3c360c;stroke:#3c360c}.kt1{fill:#0c6078;stroke:#0c6078}.ku1{fill:#3cae54;stroke:#3cae54}.kv1{fill:#129690;stroke:#129690}.kw1{fill:#a28a24;stroke:#a28a24}.kx1{fill:#84b436;stroke:#84b436}.ky1{fill:#0c6678;stroke:#0c6678}.kz1{fill:#90781e;stroke:#90781e}.la1{fill:#0c3c54;stroke:#0c3c54}.lb1{fill:#9c9c2a;stroke:#9c9c2a}.lc1{fill:#129c84;stroke:#129c84}.ld1{fill:#245424;stroke:#245424}.le1{fill:#d8ae30;stroke:#d8ae30}.lf1{fill:#367830;stroke:#367830}.lg1{fill:#a2962a;stroke:#a2962a}.lh1{fill:#06425a;stroke:#06425a}.li1{fill:#ccae30;stroke:#ccae30}.lj1{fill:#18a278;stroke:#18a278}.lk1{fill:#0c7e8a;stroke:#0c7e8a}.ll1{fill:#48963c;stroke:#48963c}.lm1{fill:#78a830;stroke:#78a830}.ln1{fill:#d2ae30;stroke:#d2ae30}.lo1{fill:#baae30;stroke:#baae30}.lp1{fill:#deae30;stroke:#deae30}.lq1{fill:#54a242;stroke:#54a242}.lr1{fill:#1ea26c;stroke:#1ea26c}.ls1{fill:#0c8a84;stroke:#0c8a84}.lt1{fill:#9c7e24;stroke:#9c7e24}.lu1{fill:#d8ae2a;stroke:#d8ae2a}.lv1{fill:#065466;stroke:#065466}.lw1{fill:#96ae36;stroke:#96ae36}.lx1{fill:#846c1e;stroke:#846c1e}.ly1{fill:#d8a82a;stroke:#d8a82a}.lz1{fill:#12907e;stroke:#12907e}.ma1{fill:#244e1e;stroke:#244e1e}.mb1{fill:#6ca83c;stroke:#6ca83c}.mc1{fill:#181806;stroke:#181806}.md1{fill:#0c0c00;stroke:#0c0c00}.me1{fill:#dea82a;stroke:#dea82a}.mf1{fill:#3c7230;stroke:#3c7230}.mg1{fill:#063648;stroke:#063648}.mh1{fill:#a29024;stroke:#a29024}.mi1{fill:#121206;stroke:#121206}.mj1{fill:#12966c;stroke:#12966c}.mk1{fill:#4e963c;stroke:#4e963c}.ml1{fill:#78a230;stroke:#78a230}.mm1{fill:#e4a82a;stroke:#e4a82a}.mn1{fill:#9c8a24;stroke:#9c8a24}.mo1{fill:#063c4e;stroke:#063c4e}.mp1{fill:#3ca248;stroke:#3ca248}.mq1{fill:#189666;stroke:#189666}.mr1{fill:#0c7872;stroke:#0c7872}.ms1{fill:#8a721e;stroke:#8a721e}.mt1{fill:#064254;stroke:#064254}.mu1{fill:#66a836;stroke:#66a836}.mv1{fill:#725a18;stroke:#725a18}.mw1{fill:#1e965a;stroke:#1e965a}.mx1{fill:#0c7e6c;stroke:#0c7e6c}.my1{fill:#96962a;stroke:#96962a}.mz1{fill:#dea22a;stroke:#dea22a}.na1{fill:#305a1e;stroke:#305a1e}.nb1{fill:#b4a830;stroke:#b4a830}.nc1{fill:#42782a;stroke:#42782a}.nd1{fill:#e4a22a;stroke:#e4a22a}.ne1{fill:#128460;stroke:#128460}.nf1{fill:#0c0c06;stroke:#0c0c06}.ng1{fill:#066066;stroke:#066066}.nh1{fill:#729630;stroke:#729630}.ni1{fill:#5a9636;stroke:#5a9636}.nj1{fill:#967e24;stroke:#967e24}.nk1{fill:#369642;stroke:#369642}.nl1{fill:#d8a22a;stroke:#d8a22a}.nm1{fill:#18845a;stroke:#18845a}.nn1{fill:#0c6c66;stroke:#0c6c66}.no1{fill:#7e661e;stroke:#7e661e}.np1{fill:#84962a;stroke:#84962a}.nq1{fill:#eaa22a;stroke:#eaa22a}.nr1{fill:#72a236;stroke:#72a236}.ns1{fill:#5a4812;stroke:#5a4812}.nt1{fill:#0c7260;stroke:#0c7260}.nu1{fill:#8a8a24;stroke:#8a8a24}.nv1{fill:#426c24;stroke:#426c24}.nw1{fill:#181206;stroke:#181206}.nx1{fill:#7ea830;stroke:#7ea830}.ny1{fill:#548a30;stroke:#548a30}.nz1{fill:#1e8448;stroke:#1e8448}.oa1{fill:#4e842a;stroke:#4e842a}.ob1{fill:#127254;stroke:#127254}.oc1{fill:#668a2a;stroke:#668a2a}.od1{fill:#7e6c1e;stroke:#7e6c1e}.oe1{fill:#30843c;stroke:#30843c}.of1{fill:#12724e;stroke:#12724e}.og1{fill:#de9c2a;stroke:#de9c2a}.oh1{fill:#a2a830;stroke:#a2a830}.oi1{fill:#6ca236;stroke:#6ca236}.oj1{fill:#788a2a;stroke:#788a2a}.ok1{fill:#544212;stroke:#544212}.ol1{fill:#3c7e36;stroke:#3c7e36}.om1{fill:#187248;stroke:#187248}.on1{fill:#18240c;stroke:#18240c}.oo1{fill:#787824;stroke:#787824}.op1{fill:#487224;stroke:#487224}.oq1{fill:#48782a;stroke:#48782a}.or1{fill:#8aa230;stroke:#8aa230}.os1{fill:#18723c;stroke:#18723c}.ot1{fill:#5a842a;stroke:#5a842a}.ou1{fill:#547824;stroke:#547824}.ov1{fill:#d8962a;stroke:#d8962a}.ow1{fill:#605418;stroke:#605418}.ox1{fill:#247236;stroke:#247236}.oy1{fill:#aea22a;stroke:#aea22a}.oz1{fill:#607824;stroke:#607824}.pa1{fill:#1e1806;stroke:#1e1806}.pb1{fill:#307230;stroke:#307230}.pc1{fill:#3c5a1e;stroke:#3c5a1e}.pd1{fill:#60661e;stroke:#60661e}.pe1{fill:#36662a;stroke:#36662a}.pf1{fill:#545418;stroke:#545418}.pg1{fill:#2a240c;stroke:#2a240c}.ph1{fill:#66902a;stroke:#66902a}.pi1{fill:#426624;stroke:#426624}.pj1{fill:#484212;stroke:#484212}.pk1{fill:#4e661e;stroke:#4e661e}.pl1{fill:#121806;stroke:#121806}.pm1{fill:#485418;stroke:#485418}.pn1{fill:#425a1e;stroke:#425a1e}.po1{fill:#607e2a;stroke:#607e2a}.pp1{fill:#424212;stroke:#424212}.pq1{fill:#30300c;stroke:#30300c}.pr1{fill:#364212;stroke:#364212}.ps1{fill:#8a9c2a;stroke:#8a9c2a}.pt1{fill:#4e601e;stroke:#4e601e}.pu1{fill:#120c06;stroke:#120c06}.pv1{fill:#5a7824;stroke:#5a7824}.pw1{fill:#969c2a;stroke:#969c2a}.px1{fill:#6c842a;stroke:#6c842a}.py1{fill:#ae962a;stroke:#ae962a}.pz1{fill:#3c4e18;stroke:#3c4e18}.qa1{fill:#7e8a2a;stroke:#7e8a2a}.qb1{fill:#c68a24;stroke:#c68a24}.qc1{fill:#425418;stroke:#425418}.qd1{fill:#8a8a2a;stroke:#8a8a2a}.qe1{fill:#48601e;stroke:#48601e}.qf1{fill:#ba9624;stroke:#ba9624}.qg1{fill:#969024;stroke:#969024}.qh1{fill:#ba9024;stroke:#ba9024}.qi1{fill:#54661e;stroke:#54661e}.qj1{fill:#ba8a24;stroke:#ba8a24}.qk1{fill:#2a3612;stroke:#2a3612}.ql1{fill:#606c1e;stroke:#606c1e}.qm1{fill:#303c12;stroke:#303c12}.qn1{fill:#ba7e24;stroke:#ba7e24}.qo1{fill:#6c7224;stroke:#6c7224}.qp1{fill:#ae8a24;stroke:#ae8a24}.qq1{fill:#b47e1e;stroke:#b47e1e}.qr1{fill:#c69c24;stroke:#c69c24}.qs1{fill:#ae8424;stroke:#ae8424}.qt1{fill:#ae7e1e;stroke:#ae7e1e}.qu1{fill:#3c4818;stroke:#3c4818}.qv1{fill:#968424;stroke:#968424}.qw1{fill:#ae7e24;stroke:#ae7e24}.qx1{fill:#a8781e;stroke:#a8781e}.qy1{fill:#5a6018;stroke:#5a6018}.qz1{fill:#a28424;stroke:#a28424}.ra1{fill:#b48a24;stroke:#b48a24}.rb1{fill:#a2721e;stroke:#a2721e}.rc1{fill:#66661e;stroke:#66661e}.rd1{fill:#9c721e;stroke:#9c721e}.re1{fill:#a87e24;stroke:#a87e24}.rf1{fill:#78721e;stroke:#78721e}.rg1{fill:#84781e;stroke:#84781e}.rh1{fill:#a87e1e;stroke:#a87e1e}.ri1{fill:#b49024;stroke:#b49024}.rj1{fill:#a27e1e;stroke:#a27e1e}.rk1{fill:#967e1e;stroke:#967e1e}.rl1{fill:#9c781e;stroke:#9c781e}.rm1{fill:#966c1e;stroke:#966c1e}.rn1{fill:#9c7e1e;stroke:#9c7e1e}.ro1{fill:#a2781e;stroke:#a2781e}.rp1{fill:#a2841e;stroke:#a2841e}.rq1{fill:#9c6c1e;stroke:#9c6c1e}.rr1{fill:#96721e;stroke:#96721e}
</style></head><body>
<svg width="430" height="550" viewBox="0 0 430 550">
<rect width="430" height="550" fill="#fff"/>
<g id="axesA"><line x1="56.2" y1="182.2" x2="156.7" y2="151.5" stroke="#f1f1f1" stroke-width="0.7"/>
<line x1="156.7" y1="151.5" x2="403.5" y2="163.8" stroke="#f1f1f1" stroke-width="0.7"/>
<line x1="56.2" y1="145.3" x2="156.7" y2="114.6" stroke="#f1f1f1" stroke-width="0.7"/>
<line x1="156.7" y1="114.6" x2="403.5" y2="126.9" stroke="#f1f1f1" stroke-width="0.7"/>
<line x1="56.2" y1="108.5" x2="156.7" y2="77.8" stroke="#f1f1f1" stroke-width="0.7"/>
<line x1="156.7" y1="77.8" x2="403.5" y2="90.1" stroke="#f1f1f1" stroke-width="0.7"/>
<line x1="56.2" y1="71.6" x2="156.7" y2="40.9" stroke="#f1f1f1" stroke-width="0.7"/>
<line x1="156.7" y1="40.9" x2="403.5" y2="53.2" stroke="#f1f1f1" stroke-width="0.7"/>
<line x1="56.2" y1="34.8" x2="156.7" y2="4.1" stroke="#f1f1f1" stroke-width="0.7"/>
<line x1="156.7" y1="4.1" x2="403.5" y2="16.4" stroke="#f1f1f1" stroke-width="0.7"/>
<line x1="81.3" y1="174.5" x2="81.3" y2="27.1" stroke="#f1f1f1" stroke-width="0.7"/>
<line x1="81.3" y1="174.5" x2="328.1" y2="186.8" stroke="#f1f1f1" stroke-width="0.7"/>
<line x1="106.4" y1="166.8" x2="106.4" y2="19.4" stroke="#f1f1f1" stroke-width="0.7"/>
<line x1="106.4" y1="166.8" x2="353.2" y2="179.1" stroke="#f1f1f1" stroke-width="0.7"/>
<line x1="131.6" y1="159.2" x2="131.6" y2="11.8" stroke="#f1f1f1" stroke-width="0.7"/>
<line x1="131.6" y1="159.2" x2="378.4" y2="171.5" stroke="#f1f1f1" stroke-width="0.7"/>
<line x1="206.0" y1="153.9" x2="206.0" y2="6.5" stroke="#f1f1f1" stroke-width="0.7"/>
<line x1="105.6" y1="184.7" x2="206.0" y2="153.9" stroke="#f1f1f1" stroke-width="0.7"/>
<line x1="255.4" y1="156.4" x2="255.4" y2="9.0" stroke="#f1f1f1" stroke-width="0.7"/>
<line x1="154.9" y1="187.1" x2="255.4" y2="156.4" stroke="#f1f1f1" stroke-width="0.7"/>
<line x1="304.8" y1="158.9" x2="304.8" y2="11.5" stroke="#f1f1f1" stroke-width="0.7"/>
<line x1="204.3" y1="189.6" x2="304.8" y2="158.9" stroke="#f1f1f1" stroke-width="0.7"/>
<line x1="354.1" y1="161.3" x2="354.1" y2="13.9" stroke="#f1f1f1" stroke-width="0.7"/>
<line x1="253.6" y1="192.0" x2="354.1" y2="161.3" stroke="#f1f1f1" stroke-width="0.7"/>
<line x1="156.7" y1="151.5" x2="156.7" y2="4.1" stroke="#f1f1f1" stroke-width="0.7"/>
<line x1="403.5" y1="163.8" x2="403.5" y2="16.4" stroke="#f1f1f1" stroke-width="0.7"/>
<line x1="56.2" y1="34.8" x2="156.7" y2="4.1" stroke="#f1f1f1" stroke-width="0.7"/>
<line x1="156.7" y1="4.1" x2="403.5" y2="16.4" stroke="#f1f1f1" stroke-width="0.7"/>
<line x1="56.2" y1="182.2" x2="156.7" y2="151.5" stroke="#f1f1f1" stroke-width="0.7"/>
<line x1="156.7" y1="151.5" x2="403.5" y2="163.8" stroke="#dcdcdc" stroke-width="0.7" stroke-dasharray="4 3"/>
<line x1="56.2" y1="182.2" x2="303.0" y2="194.5" stroke="#b4b4b4" stroke-width="0.75" stroke-dasharray="4.5 2.5"/>
<line x1="303.0" y1="194.5" x2="403.5" y2="163.8" stroke="#9a9a9a" stroke-width="0.8"/>
<line x1="56.2" y1="182.2" x2="56.2" y2="34.8" stroke="#dddddd" stroke-width="0.8"/></g>
<g class="surf" id="surfA"><path d="M153.5 125.7 157.4 123.7 160.5 125.5 156.7 127.6z" class="aa"/>
<path d="M157.4 123.7 161.3 123.3 164.4 125.1 160.5 125.5z" class="ab"/>
<path d="M161.3 123.3 165.1 122.9 168.2 124.7 164.4 125.1z" class="ab"/>
<path d="M165.1 122.9 169 122.6 172.1 124.4 168.2 124.7z" class="aa"/>
<path d="M169 122.6 172.8 122.3 176 124.1 172.1 124.4z" class="aa"/>
<path d="M172.8 122.3 176.7 122.0 179.8 123.9 176 124.1z" class="ac"/>
<path d="M150.4 124.3 154.3 122.4 157.4 123.7 153.5 125.7z" class="ac"/>
<path d="M176.7 122.0 180.5 121.7 183.7 123.6 179.8 123.9z" class="ad"/>
<path d="M154.3 122.4 158.1 121.9 161.3 123.3 157.4 123.7z" class="ab"/>
<path d="M180.5 121.7 184.4 121.3 187.5 123.3 183.7 123.6z" class="ae"/>
<path d="M158.1 121.9 162 121.5 165.1 122.9 161.3 123.3z" class="ab"/>
<path d="M184.4 121.3 188.2 121.1 191.4 123.0 187.5 123.3z" class="af"/>
<path d="M162 121.5 165.8 121.1 169 122.6 165.1 122.9z" class="aa"/>
<path d="M188.2 121.1 192.1 120.8 195.2 122.8 191.4 123.0z" class="af"/>
<path d="M165.8 121.1 169.7 120.7 172.8 122.3 169 122.6z" class="ag"/>
<path d="M192.1 120.8 196 120.6 199.1 122.6 195.2 122.8z" class="ah"/>
<path d="M169.7 120.7 173.5 120.4 176.7 122.0 172.8 122.3z" class="ad"/>
<path d="M147.3 123.1 151.1 121.3 154.3 122.4 150.4 124.3z" class="ad"/>
<path d="M196 120.6 199.8 120.3 203 122.4 199.1 122.6z" class="ai"/>
<path d="M173.5 120.4 177.4 120.0 180.5 121.7 176.7 122.0z" class="ad"/>
<path d="M199.8 120.3 203.7 119.9 206.8 122.1 203 122.4z" class="aj"/>
<path d="M151.1 121.3 155 120.7 158.1 121.9 154.3 122.4z" class="ak"/>
<path d="M177.4 120.0 181.2 119.7 184.4 121.3 180.5 121.7z" class="al"/>
<path d="M203.7 119.9 207.5 119.3 210.7 121.5 206.8 122.1z" class="aj"/>
<path d="M155 120.7 158.8 120.3 162 121.5 158.1 121.9z" class="ak"/>
<path d="M181.2 119.7 185.1 119.3 188.2 121.1 184.4 121.3z" class="al"/>
<path d="M158.8 120.3 162.7 119.9 165.8 121.1 162 121.5z" class="am"/>
<path d="M207.5 119.3 211.4 118.6 214.5 120.9 210.7 121.5z" class="an"/>
<path d="M185.1 119.3 189 119.0 192.1 120.8 188.2 121.1z" class="ao"/>
<path d="M162.7 119.9 166.5 119.4 169.7 120.7 165.8 121.1z" class="ap"/>
<path d="M211.4 118.6 215.2 118.0 218.4 120.3 214.5 120.9z" class="aq"/>
<path d="M189 119.0 192.8 118.7 196 120.6 192.1 120.8z" class="ao"/>
<path d="M166.5 119.4 170.4 119.0 173.5 120.4 169.7 120.7z" class="ap"/>
<path d="M215.2 118.0 219.1 117.3 222.2 119.7 218.4 120.3z" class="ar"/>
<path d="M144.1 122.2 148 120.5 151.1 121.3 147.3 123.1z" class="ad"/>
<path d="M192.8 118.7 196.7 118.4 199.8 120.3 196 120.6z" class="as"/>
<path d="M170.4 119.0 174.3 118.6 177.4 120.0 173.5 120.4z" class="at"/>
<path d="M219.1 117.3 223 116.4 226.1 118.9 222.2 119.7z" class="au"/>
<path d="M148 120.5 151.8 119.9 155 120.7 151.1 121.3z" class="av"/>
<path d="M196.7 118.4 200.5 117.9 203.7 119.9 199.8 120.3z" class="aw"/>
<path d="M174.3 118.6 178.1 118.2 181.2 119.7 177.4 120.0z" class="al"/>
<path d="M223 116.4 226.8 115.5 229.9 118.0 226.1 118.9z" class="ax"/>
<path d="M151.8 119.9 155.7 119.4 158.8 120.3 155 120.7z" class="ay"/>
<path d="M200.5 117.9 204.4 117.2 207.5 119.3 203.7 119.9z" class="aq"/>
<path d="M178.1 118.2 182 117.8 185.1 119.3 181.2 119.7z" class="al"/>
<path d="M155.7 119.4 159.5 118.9 162.7 119.9 158.8 120.3z" class="az"/>
<path d="M226.8 115.5 230.7 114.5 233.8 117.0 229.9 118.0z" class="ax"/>
<path d="M204.4 117.2 208.2 116.5 211.4 118.6 207.5 119.3z" class="ar"/>
<path d="M182 117.8 185.8 117.4 189 119.0 185.1 119.3z" class="ba"/>
<path d="M159.5 118.9 163.4 118.4 166.5 119.4 162.7 119.9z" class="am"/>
<path d="M230.7 114.5 234.5 113.5 237.7 116.1 233.8 117.0z" class="bb"/>
<path d="M208.2 116.5 212.1 115.7 215.2 118.0 211.4 118.6z" class="ar"/>
<path d="M185.8 117.4 189.7 117.1 192.8 118.7 189 119.0z" class="as"/>
<path d="M163.4 118.4 167.3 117.9 170.4 119.0 166.5 119.4z" class="bc"/>
<path d="M141 121.5 144.8 119.8 148 120.5 144.1 122.2z" class="ap"/>
<path d="M234.5 113.5 238.4 112.7 241.5 115.3 237.7 116.1z" class="bb"/>
<path d="M212.1 115.7 216 114.9 219.1 117.3 215.2 118.0z" class="ax"/>
<path d="M189.7 117.1 193.5 116.6 196.7 118.4 192.8 118.7z" class="as"/>
<path d="M167.3 117.9 171.1 117.5 174.3 118.6 170.4 119.0z" class="bd"/>
<path d="M144.8 119.8 148.7 119.2 151.8 119.9 148 120.5z" class="be"/>
<path d="M238.4 112.7 242.2 112.1 245.4 114.7 241.5 115.3z" class="bf"/>
<path d="M216 114.9 219.8 114.0 223 116.4 219.1 117.3z" class="ax"/>
<path d="M193.5 116.6 197.4 116.1 200.5 117.9 196.7 118.4z" class="bg"/>
<path d="M171.1 117.5 175 117.0 178.1 118.2 174.3 118.6z" class="bh"/>
<path d="M148.7 119.2 152.5 118.7 155.7 119.4 151.8 119.9z" class="be"/>
<path d="M242.2 112.1 246.1 111.6 249.2 114.2 245.4 114.7z" class="bf"/>
<path d="M219.8 114.0 223.7 113.0 226.8 115.5 223 116.4z" class="bi"/>
<path d="M197.4 116.1 201.2 115.3 204.4 117.2 200.5 117.9z" class="ar"/>
<path d="M175 117.0 178.8 116.5 182 117.8 178.1 118.2z" class="bh"/>
<path d="M152.5 118.7 156.4 118.1 159.5 118.9 155.7 119.4z" class="bj"/>
<path d="M246.1 111.6 249.9 111.3 253.1 113.9 249.2 114.2z" class="bf"/>
<path d="M223.7 113.0 227.5 112.0 230.7 114.5 226.8 115.5z" class="bf"/>
<path d="M201.2 115.3 205.1 114.5 208.2 116.5 204.4 117.2z" class="bk"/>
<path d="M178.8 116.5 182.7 116.1 185.8 117.4 182 117.8z" class="bl"/>
<path d="M156.4 118.1 160.3 117.6 163.4 118.4 159.5 118.9z" class="ay"/>
<path d="M249.9 111.3 253.8 111.0 256.9 113.7 253.1 113.9z" class="bm"/>
<path d="M205.1 114.5 209 113.6 212.1 115.7 208.2 116.5z" class="bn"/>
<path d="M227.5 112.0 231.4 110.9 234.5 113.5 230.7 114.5z" class="bf"/>
<path d="M182.7 116.1 186.5 115.7 189.7 117.1 185.8 117.4z" class="bo"/>
<path d="M160.3 117.6 164.1 117.1 167.3 117.9 163.4 118.4z" class="bp"/>
<path d="M137.8 121.0 141.7 119.3 144.8 119.8 141 121.5z" class="am"/>
<path d="M253.8 111.0 257.7 110.8 260.8 113.5 256.9 113.7z" class="bm"/>
<path d="M209 113.6 212.8 112.8 216 114.9 212.1 115.7z" class="bi"/>
<path d="M231.4 110.9 235.2 110.1 238.4 112.7 234.5 113.5z" class="bq"/>
<path d="M186.5 115.7 190.4 115.2 193.5 116.6 189.7 117.1z" class="br"/>
<path d="M257.7 110.8 261.5 110.7 264.7 113.4 260.8 113.5z" class="bm"/>
<path d="M164.1 117.1 168 116.5 171.1 117.5 167.3 117.9z" class="bs"/>
<path d="M141.7 119.3 145.6 118.7 148.7 119.2 144.8 119.8z" class="bt"/>
<path d="M235.2 110.1 239.1 109.4 242.2 112.1 238.4 112.7z" class="bm"/>
<path d="M212.8 112.8 216.7 111.8 219.8 114.0 216 114.9z" class="bf"/>
<path d="M190.4 115.2 194.3 114.6 197.4 116.1 193.5 116.6z" class="bu"/>
<path d="M261.5 110.7 265.4 110.8 268.5 113.6 264.7 113.4z" class="bm"/>
<path d="M168 116.5 171.8 116.0 175 117.0 171.1 117.5z" class="bv"/>
<path d="M145.6 118.7 149.4 118.1 152.5 118.7 148.7 119.2z" class="bt"/>
<path d="M265.4 110.8 269.2 111.0 272.4 113.8 268.5 113.6z" class="bm"/>
<path d="M239.1 109.4 242.9 108.9 246.1 111.6 242.2 112.1z" class="bw"/>
<path d="M194.3 114.6 198.1 113.7 201.2 115.3 197.4 116.1z" class="bk"/>
<path d="M216.7 111.8 220.5 110.7 223.7 113.0 219.8 114.0z" class="bf"/>
<path d="M171.8 116.0 175.7 115.5 178.8 116.5 175 117.0z" class="bv"/>
<path d="M149.4 118.1 153.3 117.5 156.4 118.1 152.5 118.7z" class="bx"/>
<path d="M269.2 111.0 273.1 111.2 276.2 114.0 272.4 113.8z" class="bm"/>
<path d="M242.9 108.9 246.8 108.5 249.9 111.3 246.1 111.6z" class="bw"/>
<path d="M198.1 113.7 202 112.7 205.1 114.5 201.2 115.3z" class="by"/>
<path d="M220.5 110.7 224.4 109.6 227.5 112.0 223.7 113.0z" class="bm"/>
<path d="M175.7 115.5 179.5 115.0 182.7 116.1 178.8 116.5z" class="bz"/>
<path d="M153.3 117.5 157.1 116.9 160.3 117.6 156.4 118.1z" class="ca"/>
<path d="M273.1 111.2 276.9 111.5 280.1 114.2 276.2 114.0z" class="bm"/>
<path d="M246.8 108.5 250.7 108.2 253.8 111.0 249.9 111.3z" class="bw"/>
<path d="M202 112.7 205.8 111.8 209 113.6 205.1 114.5z" class="bi"/>
<path d="M179.5 115.0 183.4 114.5 186.5 115.7 182.7 116.1z" class="cb"/>
<path d="M134.7 120.4 138.6 118.9 141.7 119.3 137.8 121.0z" class="bp"/>
<path d="M224.4 109.6 228.2 108.5 231.4 110.9 227.5 112.0z" class="bw"/>
<path d="M157.1 116.9 161 116.3 164.1 117.1 160.3 117.6z" class="cc"/>
<path d="M276.9 111.5 280.8 111.7 283.9 114.5 280.1 114.2z" class="bm"/>
<path d="M250.7 108.2 254.5 107.9 257.7 110.8 253.8 111.0z" class="bw"/>
<path d="M183.4 114.5 187.3 113.9 190.4 115.2 186.5 115.7z" class="cd"/>
<path d="M205.8 111.8 209.7 110.8 212.8 112.8 209 113.6z" class="ce"/>
<path d="M280.8 111.7 284.7 111.9 287.8 114.7 283.9 114.5z" class="bm"/>
<path d="M138.6 118.9 142.4 118.1 145.6 118.7 141.7 119.3z" class="bt"/>
<path d="M161 116.3 164.8 115.7 168 116.5 164.1 117.1z" class="cf"/>
<path d="M228.2 108.5 232.1 107.6 235.2 110.1 231.4 110.9z" class="bw"/>
<path d="M254.5 107.9 258.4 107.8 261.5 110.7 257.7 110.8z" class="cg"/>
<path d="M284.7 111.9 288.5 112.1 291.6 114.9 287.8 114.7z" class="bm"/>
<path d="M187.3 113.9 191.1 113.2 194.3 114.6 190.4 115.2z" class="ch"/>
<path d="M209.7 110.8 213.5 109.8 216.7 111.8 212.8 112.8z" class="bm"/>
<path d="M164.8 115.7 168.7 115.1 171.8 116.0 168 116.5z" class="ci"/>
<path d="M142.4 118.1 146.3 117.5 149.4 118.1 145.6 118.7z" class="cj"/>
<path d="M232.1 107.6 236 106.9 239.1 109.4 235.2 110.1z" class="bw"/>
<path d="M258.4 107.8 262.2 107.9 265.4 110.8 261.5 110.7z" class="ck"/>
<path d="M288.5 112.1 292.4 112.4 295.5 115.2 291.6 114.9z" class="bm"/>
<path d="M191.1 113.2 195 112.3 198.1 113.7 194.3 114.6z" class="by"/>
<path d="M168.7 115.1 172.5 114.6 175.7 115.5 171.8 116.0z" class="cl"/>
<path d="M146.3 117.5 150.1 116.9 153.3 117.5 149.4 118.1z" class="bx"/>
<path d="M213.5 109.8 217.4 108.6 220.5 110.7 216.7 111.8z" class="bm"/>
<path d="M236 106.9 239.8 106.3 242.9 108.9 239.1 109.4z" class="ck"/>
<path d="M262.2 107.9 266.1 108.1 269.2 111.0 265.4 110.8z" class="ck"/>
<path d="M292.4 112.4 296.2 112.7 299.4 115.6 295.5 115.2z" class="cm"/>
<path d="M266.1 108.1 269.9 108.2 273.1 111.2 269.2 111.0z" class="ck"/>
<path d="M195 112.3 198.8 111.2 202 112.7 198.1 113.7z" class="cn"/>
<path d="M172.5 114.6 176.4 114.0 179.5 115.0 175.7 115.5z" class="bz"/>
<path d="M150.1 116.9 154 116.2 157.1 116.9 153.3 117.5z" class="co"/>
<path d="M239.8 106.3 243.7 105.9 246.8 108.5 242.9 108.9z" class="ck"/>
<path d="M217.4 108.6 221.2 107.4 224.4 109.6 220.5 110.7z" class="bw"/>
<path d="M296.2 112.7 300.1 113.0 303.2 115.9 299.4 115.6z" class="bm"/>
<path d="M269.9 108.2 273.8 108.4 276.9 111.5 273.1 111.2z" class="ck"/>
<path d="M131.6 120.0 135.4 118.5 138.6 118.9 134.7 120.4z" class="cc"/>
<path d="M176.4 114.0 180.3 113.4 183.4 114.5 179.5 115.0z" class="cp"/>
<path d="M243.7 105.9 247.5 105.5 250.7 108.2 246.8 108.5z" class="ck"/>
<path d="M154 116.2 157.8 115.6 161 116.3 157.1 116.9z" class="cq"/>
<path d="M300.1 113.0 303.9 113.3 307.1 116.2 303.2 115.9z" class="bm"/>
<path d="M198.8 111.2 202.7 110.2 205.8 111.8 202 112.7z" class="cn"/>
<path d="M221.2 107.4 225.1 106.3 228.2 108.5 224.4 109.6z" class="cr"/>
<path d="M273.8 108.4 277.7 108.6 280.8 111.7 276.9 111.5z" class="ck"/>
<path d="M303.9 113.3 307.8 113.5 310.9 116.4 307.1 116.2z" class="bm"/>
<path d="M180.3 113.4 184.1 112.8 187.3 113.9 183.4 114.5z" class="cd"/>
<path d="M247.5 105.5 251.4 105.2 254.5 107.9 250.7 108.2z" class="cs"/>
<path d="M135.4 118.5 139.3 117.8 142.4 118.1 138.6 118.9z" class="ct"/>
<path d="M157.8 115.6 161.7 114.9 164.8 115.7 161 116.3z" class="cu"/>
<path d="M202.7 110.2 206.5 109.1 209.7 110.8 205.8 111.8z" class="cm"/>
<path d="M225.1 106.3 229 105.4 232.1 107.6 228.2 108.5z" class="ck"/>
<path d="M277.7 108.6 281.5 108.8 284.7 111.9 280.8 111.7z" class="ck"/>
<path d="M307.8 113.5 311.6 113.7 314.8 116.4 310.9 116.4z" class="bm"/>
<path d="M251.4 105.2 255.2 105.0 258.4 107.8 254.5 107.9z" class="cs"/>
<path d="M184.1 112.8 188 112.0 191.1 113.2 187.3 113.9z" class="cv"/>
<path d="M139.3 117.8 143.1 117.1 146.3 117.5 142.4 118.1z" class="ct"/>
<path d="M161.7 114.9 165.6 114.3 168.7 115.1 164.8 115.7z" class="cw"/>
<path d="M206.5 109.1 210.4 108.0 213.5 109.8 209.7 110.8z" class="cx"/>
<path d="M281.5 108.8 285.4 109.0 288.5 112.1 284.7 111.9z" class="ck"/>
<path d="M229 105.4 232.8 104.6 236 106.9 232.1 107.6z" class="cs"/>
<path d="M311.6 113.7 315.5 113.8 318.6 116.5 314.8 116.4z" class="bm"/>
<path d="M255.2 105.0 259.1 105.0 262.2 107.9 258.4 107.8z" class="cs"/>
<path d="M143.1 117.1 147 116.4 150.1 116.9 146.3 117.5z" class="cy"/>
<path d="M188 112.0 191.8 111.0 195 112.3 191.1 113.2z" class="cz"/>
<path d="M165.6 114.3 169.4 113.7 172.5 114.6 168.7 115.1z" class="da"/>
<path d="M285.4 109.0 289.2 109.3 292.4 112.4 288.5 112.1z" class="ck"/>
<path d="M210.4 108.0 214.2 106.8 217.4 108.6 213.5 109.8z" class="cx"/>
<path d="M315.5 113.8 319.4 113.8 322.5 116.5 318.6 116.5z" class="bm"/>
<path d="M232.8 104.6 236.7 104.0 239.8 106.3 236 106.9z" class="cs"/>
<path d="M259.1 105.0 262.9 105.2 266.1 108.1 262.2 107.9z" class="cs"/>
<path d="M289.2 109.3 293.1 109.6 296.2 112.7 292.4 112.4z" class="ck"/>
<path d="M147 116.4 150.8 115.7 154 116.2 150.1 116.9z" class="db"/>
<path d="M169.4 113.7 173.3 113.1 176.4 114.0 172.5 114.6z" class="dc"/>
<path d="M191.8 111.0 195.7 109.8 198.8 111.2 195 112.3z" class="cn"/>
<path d="M319.4 113.8 323.2 113.9 326.4 116.5 322.5 116.5z" class="bm"/>
<path d="M262.9 105.2 266.8 105.3 269.9 108.2 266.1 108.1z" class="cs"/>
<path d="M236.7 104.0 240.5 103.4 243.7 105.9 239.8 106.3z" class="cs"/>
<path d="M214.2 106.8 218.1 105.5 221.2 107.4 217.4 108.6z" class="ck"/>
<path d="M293.1 109.6 296.9 109.9 300.1 113.0 296.2 112.7z" class="ck"/>
<path d="M128.4 119.9 132.3 118.4 135.4 118.5 131.6 120.0z" class="cj"/>
<path d="M150.8 115.7 154.7 115.0 157.8 115.6 154 116.2z" class="co"/>
<path d="M173.3 113.1 177.1 112.4 180.3 113.4 176.4 114.0z" class="cp"/>
<path d="M323.2 113.9 327.1 113.9 330.2 116.4 326.4 116.5z" class="bm"/>
<path d="M195.7 109.8 199.5 108.7 202.7 110.2 198.8 111.2z" class="cm"/>
<path d="M266.8 105.3 270.7 105.5 273.8 108.4 269.9 108.2z" class="cs"/>
<path d="M240.5 103.4 244.4 103.0 247.5 105.5 243.7 105.9z" class="dd"/>
<path d="M296.9 109.9 300.8 110.1 303.9 113.3 300.1 113.0z" class="ck"/>
<path d="M218.1 105.5 222 104.4 225.1 106.3 221.2 107.4z" class="cs"/>
<path d="M132.3 118.4 136.1 117.6 139.3 117.8 135.4 118.5z" class="de"/>
<path d="M327.1 113.9 330.9 113.9 334.1 116.4 330.2 116.4z" class="bm"/>
<path d="M177.1 112.4 181 111.7 184.1 112.8 180.3 113.4z" class="df"/>
<path d="M154.7 115.0 158.6 114.3 161.7 114.9 157.8 115.6z" class="cq"/>
<path d="M270.7 105.5 274.5 105.7 277.7 108.6 273.8 108.4z" class="cs"/>
<path d="M199.5 108.7 203.4 107.6 206.5 109.1 202.7 110.2z" class="cx"/>
<path d="M300.8 110.1 304.6 110.4 307.8 113.5 303.9 113.3z" class="ck"/>
<path d="M244.4 103.0 248.2 102.6 251.4 105.2 247.5 105.5z" class="dd"/>
<path d="M222 104.4 225.8 103.4 229 105.4 225.1 106.3z" class="cs"/>
<path d="M136.1 117.6 140 116.9 143.1 117.1 139.3 117.8z" class="dg"/>
<path d="M330.9 113.9 334.8 113.8 337.9 116.2 334.1 116.4z" class="bm"/>
<path d="M274.5 105.7 278.4 105.8 281.5 108.8 277.7 108.6z" class="cs"/>
<path d="M158.6 114.3 162.4 113.6 165.6 114.3 161.7 114.9z" class="dh"/>
<path d="M181 111.7 184.8 110.8 188 112.0 184.1 112.8z" class="di"/>
<path d="M304.6 110.4 308.5 110.5 311.6 113.7 307.8 113.5z" class="ck"/>
<path d="M248.2 102.6 252.1 102.4 255.2 105.0 251.4 105.2z" class="dd"/>
<path d="M203.4 107.6 207.3 106.4 210.4 108.0 206.5 109.1z" class="dj"/>
<path d="M225.8 103.4 229.7 102.6 232.8 104.6 229 105.4z" class="dd"/>
<path d="M278.4 105.8 282.2 106.0 285.4 109.0 281.5 108.8z" class="cs"/>
<path d="M334.8 113.8 338.6 113.6 341.8 115.9 337.9 116.2z" class="bm"/>
<path d="M140 116.9 143.8 116.1 147 116.4 143.1 117.1z" class="dk"/>
<path d="M308.5 110.5 312.4 110.6 315.5 113.8 311.6 113.7z" class="ck"/>
<path d="M162.4 113.6 166.3 112.9 169.4 113.7 165.6 114.3z" class="cw"/>
<path d="M184.8 110.8 188.7 109.7 191.8 111.0 188 112.0z" class="cz"/>
<path d="M252.1 102.4 256 102.4 259.1 105.0 255.2 105.0z" class="dl"/>
<path d="M207.3 106.4 211.1 105.1 214.2 106.8 210.4 108.0z" class="ck"/>
<path d="M282.2 106.0 286.1 106.2 289.2 109.3 285.4 109.0z" class="cs"/>
<path d="M338.6 113.6 342.5 113.3 345.6 115.7 341.8 115.9z" class="cx"/>
<path d="M229.7 102.6 233.5 101.9 236.7 104.0 232.8 104.6z" class="dd"/>
<path d="M312.4 110.6 316.2 110.8 319.4 113.8 315.5 113.8z" class="ck"/>
<path d="M143.8 116.1 147.7 115.4 150.8 115.7 147 116.4z" class="dm"/>
<path d="M256 102.4 259.8 102.5 262.9 105.2 259.1 105.0z" class="dl"/>
<path d="M166.3 112.9 170.1 112.3 173.3 113.1 169.4 113.7z" class="dn"/>
<path d="M188.7 109.7 192.5 108.5 195.7 109.8 191.8 111.0z" class="cm"/>
<path d="M286.1 106.2 289.9 106.5 293.1 109.6 289.2 109.3z" class="cs"/>
<path d="M342.5 113.3 346.4 112.8 349.5 115.3 345.6 115.7z" class="cx"/>
<path d="M125.3 119.8 129.1 118.3 132.3 118.4 128.4 119.9z" class="do"/>
<path d="M211.1 105.1 215 103.8 218.1 105.5 214.2 106.8z" class="cs"/>
<path d="M316.2 110.8 320.1 110.8 323.2 113.9 319.4 113.8z" class="ck"/>
<path d="M233.5 101.9 237.4 101.3 240.5 103.4 236.7 104.0z" class="dp"/>
<path d="M259.8 102.5 263.7 102.6 266.8 105.3 262.9 105.2z" class="dq"/>
<path d="M147.7 115.4 151.6 114.6 154.7 115.0 150.8 115.7z" class="dr"/>
<path d="M170.1 112.3 174 111.5 177.1 112.4 173.3 113.1z" class="ds"/>
<path d="M289.9 106.5 293.8 106.8 296.9 109.9 293.1 109.6z" class="cs"/>
<path d="M192.5 108.5 196.4 107.3 199.5 108.7 195.7 109.8z" class="dt"/>
<path d="M320.1 110.8 323.9 110.9 327.1 113.9 323.2 113.9z" class="ck"/>
<path d="M346.4 112.8 350.2 112.2 353.3 114.8 349.5 115.3z" class="bw"/>
<path d="M263.7 102.6 267.5 102.8 270.7 105.5 266.8 105.3z" class="dq"/>
<path d="M129.1 118.3 133 117.5 136.1 117.6 132.3 118.4z" class="du"/>
<path d="M237.4 101.3 241.2 100.8 244.4 103.0 240.5 103.4z" class="dq"/>
<path d="M215 103.8 218.8 102.6 222 104.4 218.1 105.5z" class="dd"/>
<path d="M151.6 114.6 155.4 113.9 158.6 114.3 154.7 115.0z" class="db"/>
<path d="M293.8 106.8 297.7 107.0 300.8 110.1 296.9 109.9z" class="cs"/>
<path d="M174 111.5 177.8 110.7 181 111.7 177.1 112.4z" class="dv"/>
<path d="M323.9 110.9 327.8 110.9 330.9 113.9 327.1 113.9z" class="ck"/>
<path d="M196.4 107.3 200.3 106.1 203.4 107.6 199.5 108.7z" class="dw"/>
<path d="M267.5 102.8 271.4 102.9 274.5 105.7 270.7 105.5z" class="dq"/>
<path d="M350.2 112.2 354.1 111.4 357.2 114.1 353.3 114.8z" class="dx"/>
<path d="M241.2 100.8 245.1 100.4 248.2 102.6 244.4 103.0z" class="dq"/>
<path d="M133 117.5 136.8 116.7 140 116.9 136.1 117.6z" class="du"/>
<path d="M297.7 107.0 301.5 107.3 304.6 110.4 300.8 110.1z" class="dy"/>
<path d="M218.8 102.6 222.7 101.6 225.8 103.4 222 104.4z" class="dd"/>
<path d="M155.4 113.9 159.3 113.1 162.4 113.6 158.6 114.3z" class="dz"/>
<path d="M177.8 110.7 181.7 109.8 184.8 110.8 181 111.7z" class="ea"/>
<path d="M327.8 110.9 331.6 110.9 334.8 113.8 330.9 113.9z" class="ck"/>
<path d="M271.4 102.9 275.2 103.1 278.4 105.8 274.5 105.7z" class="dq"/>
<path d="M200.3 106.1 204.1 104.8 207.3 106.4 203.4 107.6z" class="ck"/>
<path d="M245.1 100.4 249 100.1 252.1 102.4 248.2 102.6z" class="eb"/>
<path d="M301.5 107.3 305.4 107.5 308.5 110.5 304.6 110.4z" class="dy"/>
<path d="M354.1 111.4 357.9 110.5 361.1 113.3 357.2 114.1z" class="ec"/>
<path d="M136.8 116.7 140.7 116.0 143.8 116.1 140 116.9z" class="ed"/>
<path d="M222.7 101.6 226.5 100.7 229.7 102.6 225.8 103.4z" class="dp"/>
<path d="M159.3 113.1 163.1 112.4 166.3 112.9 162.4 113.6z" class="ee"/>
<path d="M331.6 110.9 335.5 110.7 338.6 113.6 334.8 113.8z" class="ck"/>
<path d="M181.7 109.8 185.5 108.7 188.7 109.7 184.8 110.8z" class="ef"/>
<path d="M275.2 103.1 279.1 103.2 282.2 106.0 278.4 105.8z" class="dq"/>
<path d="M305.4 107.5 309.2 107.6 312.4 110.6 308.5 110.5z" class="dy"/>
<path d="M249 100.1 252.8 100.0 256 102.4 252.1 102.4z" class="eb"/>
<path d="M204.1 104.8 208 103.4 211.1 105.1 207.3 106.4z" class="cs"/>
<path d="M357.9 110.5 361.8 109.5 364.9 112.3 361.1 113.3z" class="ec"/>
<path d="M140.7 116.0 144.6 115.2 147.7 115.4 143.8 116.1z" class="dk"/>
<path d="M226.5 100.7 230.4 99.9 233.5 101.9 229.7 102.6z" class="dq"/>
<path d="M163.1 112.4 167 111.7 170.1 112.3 166.3 112.9z" class="eg"/>
<path d="M279.1 103.2 282.9 103.4 286.1 106.2 282.2 106.0z" class="dq"/>
<path d="M335.5 110.7 339.4 110.3 342.5 113.3 338.6 113.6z" class="ec"/>
<path d="M185.5 108.7 189.4 107.3 192.5 108.5 188.7 109.7z" class="dt"/>
<path d="M309.2 107.6 313.1 107.7 316.2 110.8 312.4 110.6z" class="dd"/>
<path d="M252.8 100.0 256.7 100.1 259.8 102.5 256 102.4z" class="eb"/>
<path d="M122.1 119.7 126 118.3 129.1 118.3 125.3 119.8z" class="eh"/>
<path d="M361.8 109.5 365.6 108.4 368.8 111.3 364.9 112.3z" class="ei"/>
<path d="M144.6 115.2 148.4 114.4 151.6 114.6 147.7 115.4z" class="dm"/>
<path d="M282.9 103.4 286.8 103.7 289.9 106.5 286.1 106.2z" class="dq"/>
<path d="M208 103.4 211.8 102.1 215 103.8 211.1 105.1z" class="dd"/>
<path d="M230.4 99.9 234.2 99.2 237.4 101.3 233.5 101.9z" class="eb"/>
<path d="M167 111.7 170.8 110.9 174 111.5 170.1 112.3z" class="dn"/>
<path d="M339.4 110.3 343.2 109.7 346.4 112.8 342.5 113.3z" class="ec"/>
<path d="M313.1 107.7 316.9 107.8 320.1 110.8 316.2 110.8z" class="dd"/>
<path d="M256.7 100.1 260.5 100.2 263.7 102.6 259.8 102.5z" class="eb"/>
<path d="M189.4 107.3 193.3 106.0 196.4 107.3 192.5 108.5z" class="dw"/>
<path d="M126 118.3 129.9 117.5 133 117.5 129.1 118.3z" class="ej"/>
<path d="M286.8 103.7 290.7 103.9 293.8 106.8 289.9 106.5z" class="dq"/>
<path d="M148.4 114.4 152.3 113.6 155.4 113.9 151.6 114.6z" class="ek"/>
<path d="M365.6 108.4 369.5 107.4 372.6 110.4 368.8 111.3z" class="ei"/>
<path d="M234.2 99.2 238.1 98.7 241.2 100.8 237.4 101.3z" class="eb"/>
<path d="M211.8 102.1 215.7 100.8 218.8 102.6 215 103.8z" class="dp"/>
<path d="M316.9 107.8 320.8 107.9 323.9 110.9 320.1 110.8z" class="dd"/>
<path d="M343.2 109.7 347.1 108.9 350.2 112.2 346.4 112.8z" class="ei"/>
<path d="M260.5 100.2 264.4 100.3 267.5 102.8 263.7 102.6z" class="eb"/>
<path d="M170.8 110.9 174.7 110.0 177.8 110.7 174 111.5z" class="ds"/>
<path d="M290.7 103.9 294.5 104.2 297.7 107.0 293.8 106.8z" class="dq"/>
<path d="M193.3 106.0 197.1 104.8 200.3 106.1 196.4 107.3z" class="dw"/>
<path d="M129.9 117.5 133.7 116.7 136.8 116.7 133 117.5z" class="ej"/>
<path d="M320.8 107.9 324.6 108.0 327.8 110.9 323.9 110.9z" class="dd"/>
<path d="M152.3 113.6 156.1 112.8 159.3 113.1 155.4 113.9z" class="el"/>
<path d="M264.4 100.3 268.2 100.4 271.4 102.9 267.5 102.8z" class="eb"/>
<path d="M369.5 107.4 373.3 106.4 376.5 109.5 372.6 110.4z" class="em"/>
<path d="M238.1 98.7 242 98.2 245.1 100.4 241.2 100.8z" class="eb"/>
<path d="M347.1 108.9 350.9 108.0 354.1 111.4 350.2 112.2z" class="ei"/>
<path d="M215.7 100.8 219.5 99.8 222.7 101.6 218.8 102.6z" class="dq"/>
<path d="M174.7 110.0 178.6 109.0 181.7 109.8 177.8 110.7z" class="en"/>
<path d="M294.5 104.2 298.4 104.5 301.5 107.3 297.7 107.0z" class="dq"/>
<path d="M133.7 116.7 137.6 115.9 140.7 116.0 136.8 116.7z" class="eo"/>
<path d="M197.1 104.8 201 103.4 204.1 104.8 200.3 106.1z" class="ep"/>
<path d="M268.2 100.4 272.1 100.6 275.2 103.1 271.4 102.9z" class="eb"/>
<path d="M324.6 108.0 328.5 107.9 331.6 110.9 327.8 110.9z" class="dd"/>
<path d="M156.1 112.8 160 112.0 163.1 112.4 159.3 113.1z" class="eq"/>
<path d="M242 98.2 245.8 97.9 249 100.1 245.1 100.4z" class="er"/>
<path d="M373.3 106.4 377.2 105.5 380.3 108.7 376.5 109.5z" class="em"/>
<path d="M298.4 104.5 302.2 104.7 305.4 107.5 301.5 107.3z" class="dq"/>
<path d="M350.9 108.0 354.8 107.0 357.9 110.5 354.1 111.4z" class="es"/>
<path d="M219.5 99.8 223.4 98.8 226.5 100.7 222.7 101.6z" class="eb"/>
<path d="M178.6 109.0 182.4 107.8 185.5 108.7 181.7 109.8z" class="ef"/>
<path d="M272.1 100.6 275.9 100.7 279.1 103.2 275.2 103.1z" class="eb"/>
<path d="M328.5 107.9 332.4 107.8 335.5 110.7 331.6 110.9z" class="dd"/>
<path d="M137.6 115.9 141.4 115.0 144.6 115.2 140.7 116.0z" class="et"/>
<path d="M245.8 97.9 249.7 97.8 252.8 100.0 249 100.1z" class="eu"/>
<path d="M201 103.4 204.8 102.0 208 103.4 204.1 104.8z" class="dd"/>
<path d="M302.2 104.7 306.1 104.8 309.2 107.6 305.4 107.5z" class="dq"/>
<path d="M160 112.0 163.8 111.2 167 111.7 163.1 112.4z" class="ee"/>
<path d="M377.2 105.5 381.1 104.6 384.2 107.8 380.3 108.7z" class="ev"/>
<path d="M354.8 107.0 358.6 105.9 361.8 109.5 357.9 110.5z" class="em"/>
<path d="M223.4 98.8 227.2 98.0 230.4 99.9 226.5 100.7z" class="eb"/>
<path d="M119 119.7 122.9 118.4 126 118.3 122.1 119.7z" class="ew"/>
<path d="M182.4 107.8 186.3 106.4 189.4 107.3 185.5 108.7z" class="ex"/>
<path d="M275.9 100.7 279.8 100.9 282.9 103.4 279.1 103.2z" class="eb"/>
<path d="M332.4 107.8 336.2 107.3 339.4 110.3 335.5 110.7z" class="dp"/>
<path d="M249.7 97.8 253.5 97.9 256.7 100.1 252.8 100.0z" class="eu"/>
<path d="M141.4 115.0 145.3 114.2 148.4 114.4 144.6 115.2z" class="dk"/>
<path d="M306.1 104.8 309.9 105.0 313.1 107.7 309.2 107.6z" class="dq"/>
<path d="M163.8 111.2 167.7 110.4 170.8 110.9 167 111.7z" class="eg"/>
<path d="M204.8 102.0 208.7 100.6 211.8 102.1 208 103.4z" class="dp"/>
<path d="M381.1 104.6 384.9 103.7 388.1 107.1 384.2 107.8z" class="ey"/>
<path d="M279.8 100.9 283.7 101.1 286.8 103.7 282.9 103.4z" class="eb"/>
<path d="M227.2 98.0 231.1 97.3 234.2 99.2 230.4 99.9z" class="er"/>
<path d="M358.6 105.9 362.5 104.7 365.6 108.4 361.8 109.5z" class="ev"/>
<path d="M122.9 118.4 126.7 117.5 129.9 117.5 126 118.3z" class="ez"/>
<path d="M186.3 106.4 190.1 105.0 193.3 106.0 189.4 107.3z" class="dw"/>
<path d="M253.5 97.9 257.4 97.9 260.5 100.2 256.7 100.1z" class="fa"/>
<path d="M336.2 107.3 340.1 106.5 343.2 109.7 339.4 110.3z" class="em"/>
<path d="M309.9 105.0 313.8 105.1 316.9 107.8 313.1 107.7z" class="dp"/>
<path d="M145.3 114.2 149.1 113.4 152.3 113.6 148.4 114.4z" class="dm"/>
<path d="M167.7 110.4 171.6 109.5 174.7 110.0 170.8 110.9z" class="fb"/>
<path d="M283.7 101.1 287.5 101.4 290.7 103.9 286.8 103.7z" class="eb"/>
<path d="M384.9 103.7 388.8 102.8 391.9 106.3 388.1 107.1z" class="fc"/>
<path d="M208.7 100.6 212.5 99.3 215.7 100.8 211.8 102.1z" class="eb"/>
<path d="M231.1 97.3 235 96.7 238.1 98.7 234.2 99.2z" class="er"/>
<path d="M257.4 97.9 261.2 98.0 264.4 100.3 260.5 100.2z" class="fa"/>
<path d="M126.7 117.5 130.6 116.7 133.7 116.7 129.9 117.5z" class="ez"/>
<path d="M362.5 104.7 366.3 103.6 369.5 107.4 365.6 108.4z" class="ey"/>
<path d="M313.8 105.1 317.7 105.2 320.8 107.9 316.9 107.8z" class="dp"/>
<path d="M340.1 106.5 343.9 105.6 347.1 108.9 343.2 109.7z" class="ev"/>
<path d="M190.1 105.0 194 103.6 197.1 104.8 193.3 106.0z" class="ep"/>
<path d="M149.1 113.4 153 112.6 156.1 112.8 152.3 113.6z" class="fd"/>
<path d="M287.5 101.4 291.4 101.7 294.5 104.2 290.7 103.9z" class="eb"/>
<path d="M171.6 109.5 175.4 108.4 178.6 109.0 174.7 110.0z" class="fe"/>
<path d="M388.8 102.8 392.6 102.0 395.8 105.7 391.9 106.3z" class="ff"/>
<path d="M235 96.7 238.8 96.2 242 98.2 238.1 98.7z" class="fa"/>
<path d="M261.2 98.0 265.1 98.1 268.2 100.4 264.4 100.3z" class="fa"/>
<path d="M212.5 99.3 216.4 98.2 219.5 99.8 215.7 100.8z" class="eb"/>
<path d="M317.7 105.2 321.5 105.2 324.6 108.0 320.8 107.9z" class="dp"/>
<path d="M130.6 116.7 134.4 115.9 137.6 115.9 133.7 116.7z" class="fg"/>
<path d="M366.3 103.6 370.2 102.5 373.3 106.4 369.5 107.4z" class="fc"/>
<path d="M343.9 105.6 347.8 104.6 350.9 108.0 347.1 108.9z" class="ev"/>
<path d="M291.4 101.7 295.2 101.9 298.4 104.5 294.5 104.2z" class="eb"/>
<path d="M153 112.6 156.8 111.8 160 112.0 156.1 112.8z" class="fh"/>
<path d="M194 103.6 197.8 102.2 201 103.4 197.1 104.8z" class="dl"/>
<path d="M265.1 98.1 269 98.2 272.1 100.6 268.2 100.4z" class="fa"/>
<path d="M321.5 105.2 325.4 105.2 328.5 107.9 324.6 108.0z" class="fi"/>
<path d="M238.8 96.2 242.7 95.8 245.8 97.9 242 98.2z" class="fj"/>
<path d="M175.4 108.4 179.3 107.1 182.4 107.8 178.6 109.0z" class="fk"/>
<path d="M392.6 102.0 396.5 101.3 399.6 105.0 395.8 105.7z" class="ff"/>
<path d="M216.4 98.2 220.3 97.2 223.4 98.8 219.5 99.8z" class="er"/>
<path d="M295.2 101.9 299.1 102.1 302.2 104.7 298.4 104.5z" class="eb"/>
<path d="M134.4 115.9 138.3 115.0 141.4 115.0 137.6 115.9z" class="eo"/>
<path d="M370.2 102.5 374.1 101.5 377.2 105.5 373.3 106.4z" class="ff"/>
<path d="M347.8 104.6 351.6 103.5 354.8 107.0 350.9 108.0z" class="fc"/>
<path d="M156.8 111.8 160.7 111.0 163.8 111.2 160 112.0z" class="fl"/>
<path d="M269 98.2 272.8 98.4 275.9 100.7 272.1 100.6z" class="fa"/>
<path d="M197.8 102.2 201.7 100.7 204.8 102.0 201 103.4z" class="dq"/>
<path d="M325.4 105.2 329.2 105.1 332.4 107.8 328.5 107.9z" class="fm"/>
<path d="M242.7 95.8 246.5 95.7 249.7 97.8 245.8 97.9z" class="fn"/>
<path d="M115.9 120.0 119.7 118.7 122.9 118.4 119 119.7z" class="ez"/>
<path d="M396.5 101.3 400.3 100.6 403.5 104.4 399.6 105.0z" class="ff"/>
<path d="M299.1 102.1 302.9 102.3 306.1 104.8 302.2 104.7z" class="er"/>
<path d="M179.3 107.1 183.1 105.6 186.3 106.4 182.4 107.8z" class="fo"/>
<path d="M220.3 97.2 224.1 96.3 227.2 98.0 223.4 98.8z" class="er"/>
<path d="M138.3 115.0 142.1 114.2 145.3 114.2 141.4 115.0z" class="fp"/>
<path d="M374.1 101.5 377.9 100.4 381.1 104.6 377.2 105.5z" class="ff"/>
<path d="M272.8 98.4 276.7 98.6 279.8 100.9 275.9 100.7z" class="fa"/>
<path d="M351.6 103.5 355.5 102.2 358.6 105.9 354.8 107.0z" class="ff"/>
<path d="M160.7 111.0 164.6 110.1 167.7 110.4 163.8 111.2z" class="fq"/>
<path d="M246.5 95.7 250.4 95.7 253.5 97.9 249.7 97.8z" class="fn"/>
<path d="M329.2 105.1 333.1 104.5 336.2 107.3 332.4 107.8z" class="fm"/>
<path d="M302.9 102.3 306.8 102.5 309.9 105.0 306.1 104.8z" class="er"/>
<path d="M201.7 100.7 205.5 99.2 208.7 100.6 204.8 102.0z" class="eb"/>
<path d="M119.7 118.7 123.6 117.9 126.7 117.5 122.9 118.4z" class="fr"/>
<path d="M224.1 96.3 228 95.5 231.1 97.3 227.2 98.0z" class="fa"/>
<path d="M183.1 105.6 187 104.2 190.1 105.0 186.3 106.4z" class="fs"/>
<path d="M276.7 98.6 280.5 98.8 283.7 101.1 279.8 100.9z" class="fa"/>
<path d="M142.1 114.2 146 113.3 149.1 113.4 145.3 114.2z" class="ft"/>
<path d="M377.9 100.4 381.8 99.4 384.9 103.7 381.1 104.6z" class="fu"/>
<path d="M250.4 95.7 254.2 95.8 257.4 97.9 253.5 97.9z" class="fn"/>
<path d="M164.6 110.1 168.4 109.1 171.6 109.5 167.7 110.4z" class="fv"/>
<path d="M355.5 102.2 359.4 100.9 362.5 104.7 358.6 105.9z" class="ff"/>
<path d="M306.8 102.5 310.7 102.6 313.8 105.1 309.9 105.0z" class="er"/>
<path d="M333.1 104.5 336.9 103.5 340.1 106.5 336.2 107.3z" class="fc"/>
<path d="M123.6 117.9 127.4 117.0 130.6 116.7 126.7 117.5z" class="fr"/>
<path d="M205.5 99.2 209.4 97.9 212.5 99.3 208.7 100.6z" class="eb"/>
<path d="M280.5 98.8 284.4 99.0 287.5 101.4 283.7 101.1z" class="fw"/>
<path d="M228 95.5 231.8 94.9 235 96.7 231.1 97.3z" class="fj"/>
<path d="M146 113.3 149.9 112.5 153 112.6 149.1 113.4z" class="fx"/>
<path d="M254.2 95.8 258.1 95.8 261.2 98.0 257.4 97.9z" class="fn"/>
<path d="M187 104.2 190.8 102.8 194 103.6 190.1 105.0z" class="fs"/>
<path d="M381.8 99.4 385.6 98.4 388.8 102.8 384.9 103.7z" class="fy"/>
<path d="M310.7 102.6 314.5 102.7 317.7 105.2 313.8 105.1z" class="er"/>
<path d="M168.4 109.1 172.3 108.0 175.4 108.4 171.6 109.5z" class="fz"/>
<path d="M359.4 100.9 363.2 99.7 366.3 103.6 362.5 104.7z" class="ga"/>
<path d="M336.9 103.5 340.8 102.4 343.9 105.6 340.1 106.5z" class="ff"/>
<path d="M284.4 99.0 288.2 99.3 291.4 101.7 287.5 101.4z" class="fw"/>
<path d="M127.4 117.0 131.3 116.2 134.4 115.9 130.6 116.7z" class="fr"/>
<path d="M209.4 97.9 213.3 96.7 216.4 98.2 212.5 99.3z" class="er"/>
<path d="M231.8 94.9 235.7 94.3 238.8 96.2 235 96.7z" class="fn"/>
<path d="M258.1 95.8 262 95.9 265.1 98.1 261.2 98.0z" class="fn"/>
<path d="M149.9 112.5 153.7 111.7 156.8 111.8 153 112.6z" class="gb"/>
<path d="M314.5 102.7 318.4 102.7 321.5 105.2 317.7 105.2z" class="er"/>
<path d="M385.6 98.4 389.5 97.5 392.6 102.0 388.8 102.8z" class="gc"/>
<path d="M190.8 102.8 194.7 101.3 197.8 102.2 194 103.6z" class="gd"/>
<path d="M288.2 99.3 292.1 99.6 295.2 101.9 291.4 101.7z" class="fw"/>
<path d="M172.3 108.0 176.1 106.7 179.3 107.1 175.4 108.4z" class="fk"/>
<path d="M340.8 102.4 344.6 101.3 347.8 104.6 343.9 105.6z" class="ff"/>
<path d="M363.2 99.7 367.1 98.5 370.2 102.5 366.3 103.6z" class="fy"/>
<path d="M131.3 116.2 135.1 115.3 138.3 115.0 134.4 115.9z" class="fr"/>
<path d="M262 95.9 265.8 96.0 269 98.2 265.1 98.1z" class="fn"/>
<path d="M235.7 94.3 239.5 93.9 242.7 95.8 238.8 96.2z" class="fn"/>
<path d="M213.3 96.7 217.1 95.7 220.3 97.2 216.4 98.2z" class="fa"/>
<path d="M318.4 102.7 322.2 102.7 325.4 105.2 321.5 105.2z" class="er"/>
<path d="M153.7 111.7 157.6 110.8 160.7 111.0 156.8 111.8z" class="fh"/>
<path d="M292.1 99.6 295.9 99.9 299.1 102.1 295.2 101.9z" class="fw"/>
<path d="M112.7 120.5 116.6 119.3 119.7 118.7 115.9 120.0z" class="ge"/>
<path d="M389.5 97.5 393.3 96.7 396.5 101.3 392.6 102.0z" class="gf"/>
<path d="M194.7 101.3 198.5 99.7 201.7 100.7 197.8 102.2z" class="gg"/>
<path d="M265.8 96.0 269.7 96.2 272.8 98.4 269 98.2z" class="gh"/>
<path d="M344.6 101.3 348.5 100.1 351.6 103.5 347.8 104.6z" class="ga"/>
<path d="M367.1 98.5 370.9 97.3 374.1 101.5 370.2 102.5z" class="gc"/>
<path d="M176.1 106.7 180 105.1 183.1 105.6 179.3 107.1z" class="fo"/>
<path d="M135.1 115.3 139 114.4 142.1 114.2 138.3 115.0z" class="gi"/>
<path d="M239.5 93.9 243.4 93.8 246.5 95.7 242.7 95.8z" class="gh"/>
<path d="M322.2 102.7 326.1 102.6 329.2 105.1 325.4 105.2z" class="er"/>
<path d="M217.1 95.7 221 94.8 224.1 96.3 220.3 97.2z" class="fj"/>
<path d="M295.9 99.9 299.8 100.1 302.9 102.3 299.1 102.1z" class="fw"/>
<path d="M157.6 110.8 161.4 109.9 164.6 110.1 160.7 111.0z" class="fl"/>
<path d="M116.6 119.3 120.4 118.4 123.6 117.9 119.7 118.7z" class="fr"/>
<path d="M393.3 96.7 397.2 95.9 400.3 100.6 396.5 101.3z" class="gf"/>
<path d="M269.7 96.2 273.5 96.4 276.7 98.6 272.8 98.4z" class="gh"/>
<path d="M198.5 99.7 202.4 98.2 205.5 99.2 201.7 100.7z" class="gj"/>
<path d="M243.4 93.8 247.2 93.7 250.4 95.7 246.5 95.7z" class="gh"/>
<path d="M326.1 102.6 329.9 101.9 333.1 104.5 329.2 105.1z" class="gk"/>
<path d="M370.9 97.3 374.8 96.2 377.9 100.4 374.1 101.5z" class="gf"/>
<path d="M348.5 100.1 352.4 98.7 355.5 102.2 351.6 103.5z" class="fy"/>
<path d="M139 114.4 142.9 113.5 146 113.3 142.1 114.2z" class="gl"/>
<path d="M299.8 100.1 303.7 100.2 306.8 102.5 302.9 102.3z" class="fw"/>
<path d="M180 105.1 183.8 103.6 187 104.2 183.1 105.6z" class="gm"/>
<path d="M221 94.8 224.8 93.9 228 95.5 224.1 96.3z" class="fn"/>
<path d="M161.4 109.9 165.3 108.9 168.4 109.1 164.6 110.1z" class="gn"/>
<path d="M273.5 96.4 277.4 96.6 280.5 98.8 276.7 98.6z" class="gh"/>
<path d="M120.4 118.4 124.3 117.5 127.4 117.0 123.6 117.9z" class="fr"/>
<path d="M247.2 93.7 251.1 93.8 254.2 95.8 250.4 95.7z" class="go"/>
<path d="M303.7 100.2 307.5 100.4 310.7 102.6 306.8 102.5z" class="fw"/>
<path d="M202.4 98.2 206.3 96.9 209.4 97.9 205.5 99.2z" class="fa"/>
<path d="M329.9 101.9 333.8 100.7 336.9 103.5 333.1 104.5z" class="gk"/>
<path d="M142.9 113.5 146.7 112.7 149.9 112.5 146 113.3z" class="gp"/>
<path d="M374.8 96.2 378.6 95.0 381.8 99.4 377.9 100.4z" class="gq"/>
<path d="M352.4 98.7 356.2 97.3 359.4 100.9 355.5 102.2z" class="gf"/>
<path d="M224.8 93.9 228.7 93.2 231.8 94.9 228 95.5z" class="fn"/>
<path d="M183.8 103.6 187.7 102.1 190.8 102.8 187 104.2z" class="gr"/>
<path d="M277.4 96.6 281.2 96.8 284.4 99.0 280.5 98.8z" class="gh"/>
<path d="M165.3 108.9 169.1 107.7 172.3 108.0 168.4 109.1z" class="gs"/>
<path d="M251.1 93.8 255 93.8 258.1 95.8 254.2 95.8z" class="go"/>
<path d="M124.3 117.5 128.1 116.7 131.3 116.2 127.4 117.0z" class="fr"/>
<path d="M307.5 100.4 311.4 100.4 314.5 102.7 310.7 102.6z" class="fn"/>
<path d="M146.7 112.7 150.6 111.8 153.7 111.7 149.9 112.5z" class="gt"/>
<path d="M281.2 96.8 285.1 97.1 288.2 99.3 284.4 99.0z" class="gh"/>
<path d="M206.3 96.9 210.1 95.7 213.3 96.7 209.4 97.9z" class="fw"/>
<path d="M333.8 100.7 337.6 99.5 340.8 102.4 336.9 103.5z" class="gu"/>
<path d="M378.6 95.0 382.5 93.9 385.6 98.4 381.8 99.4z" class="gv"/>
<path d="M228.7 93.2 232.5 92.6 235.7 94.3 231.8 94.9z" class="gw"/>
<path d="M356.2 97.3 360.1 96.0 363.2 99.7 359.4 100.9z" class="gf"/>
<path d="M255 93.8 258.8 93.9 262 95.9 258.1 95.8z" class="go"/>
<path d="M187.7 102.1 191.6 100.6 194.7 101.3 190.8 102.8z" class="gr"/>
<path d="M311.4 100.4 315.2 100.5 318.4 102.7 314.5 102.7z" class="fn"/>
<path d="M169.1 107.7 173 106.3 176.1 106.7 172.3 108.0z" class="gx"/>
<path d="M128.1 116.7 132 115.8 135.1 115.3 131.3 116.2z" class="fr"/>
<path d="M285.1 97.1 288.9 97.4 292.1 99.6 288.2 99.3z" class="gh"/>
<path d="M150.6 111.8 154.4 111.0 157.6 110.8 153.7 111.7z" class="gy"/>
<path d="M109.6 121.1 113.4 119.9 116.6 119.3 112.7 120.5z" class="fr"/>
<path d="M210.1 95.7 214 94.6 217.1 95.7 213.3 96.7z" class="gz"/>
<path d="M232.5 92.6 236.4 92.2 239.5 93.9 235.7 94.3z" class="ha"/>
<path d="M337.6 99.5 341.5 98.2 344.6 101.3 340.8 102.4z" class="gf"/>
<path d="M258.8 93.9 262.7 94.0 265.8 96.0 262 95.9z" class="hb"/>
<path d="M382.5 93.9 386.3 92.9 389.5 97.5 385.6 98.4z" class="hc"/>
<path d="M360.1 96.0 363.9 94.7 367.1 98.5 363.2 99.7z" class="gv"/>
<path d="M315.2 100.5 319.1 100.5 322.2 102.7 318.4 102.7z" class="fn"/>
<path d="M191.6 100.6 195.4 99.0 198.5 99.7 194.7 101.3z" class="gj"/>
<path d="M132 115.8 135.9 114.9 139 114.4 135.1 115.3z" class="fr"/>
<path d="M288.9 97.4 292.8 97.7 295.9 99.9 292.1 99.6z" class="gh"/>
<path d="M173 106.3 176.8 104.8 180 105.1 176.1 106.7z" class="hd"/>
<path d="M262.7 94.0 266.5 94.1 269.7 96.2 265.8 96.0z" class="hb"/>
<path d="M236.4 92.2 240.3 92.0 243.4 93.8 239.5 93.9z" class="hb"/>
<path d="M154.4 111.0 158.3 110.0 161.4 109.9 157.6 110.8z" class="he"/>
<path d="M113.4 119.9 117.3 119.0 120.4 118.4 116.6 119.3z" class="fr"/>
<path d="M214 94.6 217.8 93.6 221 94.8 217.1 95.7z" class="gh"/>
<path d="M386.3 92.9 390.2 91.9 393.3 96.7 389.5 97.5z" class="hf"/>
<path d="M319.1 100.5 322.9 100.3 326.1 102.6 322.2 102.7z" class="fj"/>
<path d="M341.5 98.2 345.4 96.9 348.5 100.1 344.6 101.3z" class="gf"/>
<path d="M292.8 97.7 296.7 98.0 299.8 100.1 295.9 99.9z" class="gh"/>
<path d="M363.9 94.7 367.8 93.3 370.9 97.3 367.1 98.5z" class="hc"/>
<path d="M135.9 114.9 139.7 114.0 142.9 113.5 139 114.4z" class="fr"/>
<path d="M195.4 99.0 199.3 97.5 202.4 98.2 198.5 99.7z" class="hg"/>
<path d="M266.5 94.1 270.4 94.3 273.5 96.4 269.7 96.2z" class="hb"/>
<path d="M176.8 104.8 180.7 103.2 183.8 103.6 180 105.1z" class="hh"/>
<path d="M240.3 92.0 244.1 91.9 247.2 93.7 243.4 93.8z" class="hb"/>
<path d="M117.3 119.0 121.1 118.1 124.3 117.5 120.4 118.4z" class="fr"/>
<path d="M158.3 110.0 162.1 108.9 165.3 108.9 161.4 109.9z" class="hi"/>
<path d="M322.9 100.3 326.8 99.4 329.9 101.9 326.1 102.6z" class="hj"/>
<path d="M296.7 98.0 300.5 98.1 303.7 100.2 299.8 100.1z" class="gh"/>
<path d="M217.8 93.6 221.7 92.7 224.8 93.9 221 94.8z" class="go"/>
<path d="M390.2 91.9 394.1 91.0 397.2 95.9 393.3 96.7z" class="hf"/>
<path d="M345.4 96.9 349.2 95.4 352.4 98.7 348.5 100.1z" class="gv"/>
<path d="M367.8 93.3 371.6 92.1 374.8 96.2 370.9 97.3z" class="hf"/>
<path d="M270.4 94.3 274.2 94.5 277.4 96.6 273.5 96.4z" class="hb"/>
<path d="M139.7 114.0 143.6 113.1 146.7 112.7 142.9 113.5z" class="fr"/>
<path d="M244.1 91.9 248 91.9 251.1 93.8 247.2 93.7z" class="hk"/>
<path d="M199.3 97.5 203.1 96.1 206.3 96.9 202.4 98.2z" class="fw"/>
<path d="M300.5 98.1 304.4 98.3 307.5 100.4 303.7 100.2z" class="gh"/>
<path d="M180.7 103.2 184.6 101.7 187.7 102.1 183.8 103.6z" class="hl"/>
<path d="M121.1 118.1 125 117.2 128.1 116.7 124.3 117.5z" class="fr"/>
<path d="M162.1 108.9 166 107.8 169.1 107.7 165.3 108.9z" class="hm"/>
<path d="M221.7 92.7 225.5 92.0 228.7 93.2 224.8 93.9z" class="go"/>
<path d="M326.8 99.4 330.7 98.1 333.8 100.7 329.9 101.9z" class="hn"/>
<path d="M274.2 94.5 278.1 94.8 281.2 96.8 277.4 96.6z" class="ho"/>
<path d="M349.2 95.4 353.1 93.9 356.2 97.3 352.4 98.7z" class="hc"/>
<path d="M248 91.9 251.8 92.0 255 93.8 251.1 93.8z" class="hk"/>
<path d="M371.6 92.1 375.5 90.8 378.6 95.0 374.8 96.2z" class="hf"/>
<path d="M143.6 113.1 147.4 112.2 150.6 111.8 146.7 112.7z" class="fr"/>
<path d="M304.4 98.3 308.2 98.3 311.4 100.4 307.5 100.4z" class="gh"/>
<path d="M203.1 96.1 207 94.9 210.1 95.7 206.3 96.9z" class="gz"/>
<path d="M125 117.2 128.9 116.3 132 115.8 128.1 116.7z" class="fr"/>
<path d="M278.1 94.8 282 95.1 285.1 97.1 281.2 96.8z" class="ho"/>
<path d="M184.6 101.7 188.4 100.1 191.6 100.6 187.7 102.1z" class="hp"/>
<path d="M225.5 92.0 229.4 91.4 232.5 92.6 228.7 93.2z" class="ho"/>
<path d="M166 107.8 169.8 106.3 173 106.3 169.1 107.7z" class="hq"/>
<path d="M330.7 98.1 334.5 96.8 337.6 99.5 333.8 100.7z" class="hn"/>
<path d="M251.8 92.0 255.7 92.0 258.8 93.9 255 93.8z" class="hk"/>
<path d="M106.4 121.6 110.3 120.4 113.4 119.9 109.6 121.1z" class="hr"/>
<path d="M353.1 93.9 356.9 92.5 360.1 96.0 356.2 97.3z" class="hf"/>
<path d="M147.4 112.2 151.3 111.3 154.4 111.0 150.6 111.8z" class="fr"/>
<path d="M308.2 98.3 312.1 98.3 315.2 100.5 311.4 100.4z" class="gh"/>
<path d="M375.5 90.8 379.4 89.5 382.5 93.9 378.6 95.0z" class="hs"/>
<path d="M282 95.1 285.8 95.5 288.9 97.4 285.1 97.1z" class="ho"/>
<path d="M207 94.9 210.8 93.7 214 94.6 210.1 95.7z" class="ht"/>
<path d="M229.4 91.4 233.3 90.9 236.4 92.2 232.5 92.6z" class="hu"/>
<path d="M128.9 116.3 132.7 115.4 135.9 114.9 132 115.8z" class="fr"/>
<path d="M255.7 92.0 259.5 92.1 262.7 94.0 258.8 93.9z" class="hk"/>
<path d="M188.4 100.1 192.3 98.5 195.4 99.0 191.6 100.6z" class="hv"/>
<path d="M334.5 96.8 338.4 95.3 341.5 98.2 337.6 99.5z" class="hc"/>
<path d="M169.8 106.3 173.7 104.7 176.8 104.8 173 106.3z" class="hw"/>
<path d="M312.1 98.3 315.9 98.3 319.1 100.5 315.2 100.5z" class="gw"/>
<path d="M110.3 120.4 114.2 119.5 117.3 119.0 113.4 119.9z" class="fr"/>
<path d="M151.3 111.3 155.1 110.3 158.3 110.0 154.4 111.0z" class="gi"/>
<path d="M285.8 95.5 289.7 95.8 292.8 97.7 288.9 97.4z" class="ho"/>
<path d="M356.9 92.5 360.8 91.0 363.9 94.7 360.1 96.0z" class="hf"/>
<path d="M379.4 89.5 383.2 88.4 386.3 92.9 382.5 93.9z" class="hx"/>
<path d="M233.3 90.9 237.1 90.6 240.3 92.0 236.4 92.2z" class="hy"/>
<path d="M259.5 92.1 263.4 92.3 266.5 94.1 262.7 94.0z" class="hk"/>
<path d="M210.8 93.7 214.7 92.7 217.8 93.6 214 94.6z" class="hz"/>
<path d="M132.7 115.4 136.6 114.4 139.7 114.0 135.9 114.9z" class="fr"/>
<path d="M315.9 98.3 319.8 98.2 322.9 100.3 319.1 100.5z" class="gw"/>
<path d="M289.7 95.8 293.5 96.0 296.7 98.0 292.8 97.7z" class="ho"/>
<path d="M192.3 98.5 196.1 96.9 199.3 97.5 195.4 99.0z" class="ia"/>
<path d="M338.4 95.3 342.2 93.9 345.4 96.9 341.5 98.2z" class="ib"/>
<path d="M173.7 104.7 177.6 103.1 180.7 103.2 176.8 104.8z" class="ic"/>
<path d="M114.2 119.5 118 118.6 121.1 118.1 117.3 119.0z" class="fr"/>
<path d="M155.1 110.3 159 109.2 162.1 108.9 158.3 110.0z" class="id"/>
<path d="M383.2 88.4 387.1 87.3 390.2 91.9 386.3 92.9z" class="ie"/>
<path d="M263.4 92.3 267.2 92.4 270.4 94.3 266.5 94.1z" class="if"/>
<path d="M360.8 91.0 364.6 89.6 367.8 93.3 363.9 94.7z" class="hs"/>
<path d="M237.1 90.6 241 90.6 244.1 91.9 240.3 92.0z" class="ig"/>
<path d="M214.7 92.7 218.5 91.8 221.7 92.7 217.8 93.6z" class="ho"/>
<path d="M136.6 114.4 140.4 113.5 143.6 113.1 139.7 114.0z" class="fr"/>
<path d="M319.8 98.2 323.7 97.2 326.8 99.4 322.9 100.3z" class="ih"/>
<path d="M293.5 96.0 297.4 96.2 300.5 98.1 296.7 98.0z" class="ho"/>
<path d="M196.1 96.9 200 95.5 203.1 96.1 199.3 97.5z" class="ht"/>
<path d="M267.2 92.4 271.1 92.6 274.2 94.5 270.4 94.3z" class="if"/>
<path d="M342.2 93.9 346.1 92.3 349.2 95.4 345.4 96.9z" class="hf"/>
<path d="M118 118.6 121.9 117.7 125 117.2 121.1 118.1z" class="fr"/>
<path d="M177.6 103.1 181.4 101.5 184.6 101.7 180.7 103.2z" class="ii"/>
<path d="M241 90.6 244.8 90.6 248 91.9 244.1 91.9z" class="ij"/>
<path d="M159 109.2 162.9 108.0 166 107.8 162.1 108.9z" class="ik"/>
<path d="M387.1 87.3 390.9 86.3 394.1 91.0 390.2 91.9z" class="il"/>
<path d="M364.6 89.6 368.5 88.2 371.6 92.1 367.8 93.3z" class="im"/>
<path d="M218.5 91.8 222.4 91.1 225.5 92.0 221.7 92.7z" class="hu"/>
<path d="M297.4 96.2 301.2 96.3 304.4 98.3 300.5 98.1z" class="hk"/>
<path d="M140.4 113.5 144.3 112.6 147.4 112.2 143.6 113.1z" class="fr"/>
<path d="M323.7 97.2 327.5 95.7 330.7 98.1 326.8 99.4z" class="ib"/>
<path d="M271.1 92.6 275 92.9 278.1 94.8 274.2 94.5z" class="if"/>
<path d="M244.8 90.6 248.7 90.6 251.8 92.0 248 91.9z" class="in"/>
<path d="M121.9 117.7 125.7 116.7 128.9 116.3 125 117.2z" class="fr"/>
<path d="M200 95.5 203.8 94.3 207 94.9 203.1 96.1z" class="io"/>
<path d="M346.1 92.3 349.9 90.7 353.1 93.9 349.2 95.4z" class="hs"/>
<path d="M181.4 101.5 185.3 99.9 188.4 100.1 184.6 101.7z" class="ip"/>
<path d="M162.9 108.0 166.7 106.5 169.8 106.3 166 107.8z" class="iq"/>
<path d="M301.2 96.3 305.1 96.4 308.2 98.3 304.4 98.3z" class="hk"/>
<path d="M222.4 91.1 226.3 90.4 229.4 91.4 225.5 92.0z" class="hy"/>
<path d="M368.5 88.2 372.4 86.8 375.5 90.8 371.6 92.1z" class="il"/>
<path d="M103.3 122.0 107.2 120.9 110.3 120.4 106.4 121.6z" class="fr"/>
<path d="M275 92.9 278.8 93.3 282 95.1 278.1 94.8z" class="if"/>
<path d="M144.3 112.6 148.1 111.7 151.3 111.3 147.4 112.2z" class="fr"/>
<path d="M248.7 90.6 252.5 90.7 255.7 92.0 251.8 92.0z" class="in"/>
<path d="M327.5 95.7 331.4 94.2 334.5 96.8 330.7 98.1z" class="ib"/>
<path d="M125.7 116.7 129.6 115.8 132.7 115.4 128.9 116.3z" class="fr"/>
<path d="M305.1 96.4 308.9 96.4 312.1 98.3 308.2 98.3z" class="hb"/>
<path d="M203.8 94.3 207.7 93.1 210.8 93.7 207 94.9z" class="hz"/>
<path d="M349.9 90.7 353.8 89.1 356.9 92.5 353.1 93.9z" class="ir"/>
<path d="M278.8 93.3 282.7 93.6 285.8 95.5 282 95.1z" class="is"/>
<path d="M226.3 90.4 230.1 89.9 233.3 90.9 229.4 91.4z" class="it"/>
<path d="M185.3 99.9 189.1 98.3 192.3 98.5 188.4 100.1z" class="iu"/>
<path d="M166.7 106.5 170.6 104.9 173.7 104.7 169.8 106.3z" class="hq"/>
<path d="M372.4 86.8 376.2 85.4 379.4 89.5 375.5 90.8z" class="iv"/>
<path d="M107.2 120.9 111 120.0 114.2 119.5 110.3 120.4z" class="fr"/>
<path d="M252.5 90.7 256.4 90.8 259.5 92.1 255.7 92.0z" class="in"/>
<path d="M148.1 111.7 152 110.7 155.1 110.3 151.3 111.3z" class="iw"/>
<path d="M308.9 96.4 312.8 96.4 315.9 98.3 312.1 98.3z" class="hb"/>
<path d="M331.4 94.2 335.2 92.6 338.4 95.3 334.5 96.8z" class="ix"/>
<path d="M282.7 93.6 286.5 93.9 289.7 95.8 285.8 95.5z" class="is"/>
<path d="M129.6 115.8 133.4 114.8 136.6 114.4 132.7 115.4z" class="fr"/>
<path d="M207.7 93.1 211.6 92.1 214.7 92.7 210.8 93.7z" class="iy"/>
<path d="M230.1 89.9 234 89.7 237.1 90.6 233.3 90.9z" class="iz"/>
<path d="M256.4 90.8 260.2 90.9 263.4 92.3 259.5 92.1z" class="iz"/>
<path d="M353.8 89.1 357.6 87.6 360.8 91.0 356.9 92.5z" class="il"/>
<path d="M111 120.0 114.9 119.1 118 118.6 114.2 119.5z" class="fr"/>
<path d="M189.1 98.3 193 96.7 196.1 96.9 192.3 98.5z" class="ja"/>
<path d="M170.6 104.9 174.4 103.2 177.6 103.1 173.7 104.7z" class="jb"/>
<path d="M376.2 85.4 380.1 84.1 383.2 88.4 379.4 89.5z" class="jc"/>
<path d="M152 110.7 155.9 109.6 159 109.2 155.1 110.3z" class="gy"/>
<path d="M312.8 96.4 316.7 96.2 319.8 98.2 315.9 98.3z" class="jd"/>
<path d="M286.5 93.9 290.4 94.2 293.5 96.0 289.7 95.8z" class="if"/>
<path d="M335.2 92.6 339.1 91.1 342.2 93.9 338.4 95.3z" class="hs"/>
<path d="M133.4 114.8 137.3 113.9 140.4 113.5 136.6 114.4z" class="fr"/>
<path d="M234 89.7 237.8 89.6 241 90.6 237.1 90.6z" class="je"/>
<path d="M260.2 90.9 264.1 91.1 267.2 92.4 263.4 92.3z" class="je"/>
<path d="M211.6 92.1 215.4 91.2 218.5 91.8 214.7 92.7z" class="jf"/>
<path d="M114.9 119.1 118.7 118.2 121.9 117.7 118 118.6z" class="fr"/>
<path d="M357.6 87.6 361.5 86.1 364.6 89.6 360.8 91.0z" class="iv"/>
<path d="M290.4 94.2 294.2 94.4 297.4 96.2 293.5 96.0z" class="if"/>
<path d="M316.7 96.2 320.5 95.1 323.7 97.2 319.8 98.2z" class="jg"/>
<path d="M380.1 84.1 383.9 82.9 387.1 87.3 383.2 88.4z" class="jh"/>
<path d="M193 96.7 196.8 95.2 200 95.5 196.1 96.9z" class="ji"/>
<path d="M155.9 109.6 159.7 108.3 162.9 108.0 159 109.2z" class="jj"/>
<path d="M174.4 103.2 178.3 101.6 181.4 101.5 177.6 103.1z" class="jb"/>
<path d="M237.8 89.6 241.7 89.6 244.8 90.6 241 90.6z" class="jk"/>
<path d="M264.1 91.1 268 91.3 271.1 92.6 267.2 92.4z" class="je"/>
<path d="M137.3 113.9 141.1 113.0 144.3 112.6 140.4 113.5z" class="fr"/>
<path d="M215.4 91.2 219.3 90.4 222.4 91.1 218.5 91.8z" class="ig"/>
<path d="M339.1 91.1 342.9 89.4 346.1 92.3 342.2 93.9z" class="im"/>
<path d="M294.2 94.4 298.1 94.5 301.2 96.3 297.4 96.2z" class="if"/>
<path d="M118.7 118.2 122.6 117.2 125.7 116.7 121.9 117.7z" class="fr"/>
<path d="M361.5 86.1 365.4 84.5 368.5 88.2 364.6 89.6z" class="jl"/>
<path d="M383.9 82.9 387.8 81.8 390.9 86.3 387.1 87.3z" class="jm"/>
<path d="M268 91.3 271.8 91.6 275 92.9 271.1 92.6z" class="jk"/>
<path d="M241.7 89.6 245.5 89.6 248.7 90.6 244.8 90.6z" class="jn"/>
<path d="M196.8 95.2 200.7 94.0 203.8 94.3 200 95.5z" class="jo"/>
<path d="M320.5 95.1 324.4 93.4 327.5 95.7 323.7 97.2z" class="ix"/>
<path d="M159.7 108.3 163.6 106.8 166.7 106.5 162.9 108.0z" class="iq"/>
<path d="M178.3 101.6 182.1 100.0 185.3 99.9 181.4 101.5z" class="jp"/>
<path d="M100.2 122.5 104 121.4 107.2 120.9 103.3 122.0z" class="fr"/>
<path d="M141.1 113.0 145 112.0 148.1 111.7 144.3 112.6z" class="ge"/>
<path d="M219.3 90.4 223.1 89.7 226.3 90.4 222.4 91.1z" class="in"/>
<path d="M298.1 94.5 302 94.5 305.1 96.4 301.2 96.3z" class="jq"/>
<path d="M342.9 89.4 346.8 87.7 349.9 90.7 346.1 92.3z" class="iv"/>
<path d="M271.8 91.6 275.7 92.0 278.8 93.3 275 92.9z" class="jr"/>
<path d="M245.5 89.6 249.4 89.7 252.5 90.7 248.7 90.6z" class="js"/>
<path d="M122.6 117.2 126.4 116.2 129.6 115.8 125.7 116.7z" class="fr"/>
<path d="M365.4 84.5 369.2 83.0 372.4 86.8 368.5 88.2z" class="jt"/>
<path d="M200.7 94.0 204.6 92.8 207.7 93.1 203.8 94.3z" class="ju"/>
<path d="M324.4 93.4 328.2 91.7 331.4 94.2 327.5 95.7z" class="jv"/>
<path d="M163.6 106.8 167.4 105.1 170.6 104.9 166.7 106.5z" class="jw"/>
<path d="M182.1 100.0 186 98.3 189.1 98.3 185.3 99.9z" class="jx"/>
<path d="M104 121.4 107.9 120.5 111 120.0 107.2 120.9z" class="fr"/>
<path d="M302 94.5 305.8 94.5 308.9 96.4 305.1 96.4z" class="jq"/>
<path d="M223.1 89.7 227 89.2 230.1 89.9 226.3 90.4z" class="iz"/>
<path d="M145 112.0 148.9 111.0 152 110.7 148.1 111.7z" class="jy"/>
<path d="M275.7 92.0 279.5 92.4 282.7 93.6 278.8 93.3z" class="js"/>
<path d="M249.4 89.7 253.3 89.8 256.4 90.8 252.5 90.7z" class="js"/>
<path d="M346.8 87.7 350.6 86.0 353.8 89.1 349.9 90.7z" class="jc"/>
<path d="M126.4 116.2 130.3 115.3 133.4 114.8 129.6 115.8z" class="fr"/>
<path d="M204.6 92.8 208.4 91.8 211.6 92.1 207.7 93.1z" class="jz"/>
<path d="M305.8 94.5 309.7 94.5 312.8 96.4 308.9 96.4z" class="jq"/>
<path d="M369.2 83.0 373.1 81.5 376.2 85.4 372.4 86.8z" class="jm"/>
<path d="M279.5 92.4 283.4 92.7 286.5 93.9 282.7 93.6z" class="ka"/>
<path d="M227 89.2 230.8 88.9 234 89.7 230.1 89.9z" class="jr"/>
<path d="M107.9 120.5 111.7 119.6 114.9 119.1 111 120.0z" class="fr"/>
<path d="M328.2 91.7 332.1 90.1 335.2 92.6 331.4 94.2z" class="kb"/>
<path d="M167.4 105.1 171.3 103.4 174.4 103.2 170.6 104.9z" class="jb"/>
<path d="M186 98.3 189.8 96.6 193 96.7 189.1 98.3z" class="jo"/>
<path d="M148.9 111.0 152.7 109.8 155.9 109.6 152 110.7z" class="kc"/>
<path d="M253.3 89.8 257.1 90.0 260.2 90.9 256.4 90.8z" class="kd"/>
<path d="M130.3 115.3 134.2 114.3 137.3 113.9 133.4 114.8z" class="fr"/>
<path d="M350.6 86.0 354.5 84.3 357.6 87.6 353.8 89.1z" class="jl"/>
<path d="M309.7 94.5 313.5 94.2 316.7 96.2 312.8 96.4z" class="ke"/>
<path d="M283.4 92.7 287.2 93.0 290.4 94.2 286.5 93.9z" class="js"/>
<path d="M230.8 88.9 234.7 88.8 237.8 89.6 234 89.7z" class="kf"/>
<path d="M208.4 91.8 212.3 90.8 215.4 91.2 211.6 92.1z" class="kg"/>
<path d="M257.1 90.0 261 90.2 264.1 91.1 260.2 90.9z" class="kh"/>
<path d="M373.1 81.5 376.9 80.1 380.1 84.1 376.2 85.4z" class="ki"/>
<path d="M111.7 119.6 115.6 118.7 118.7 118.2 114.9 119.1z" class="fr"/>
<path d="M332.1 90.1 335.9 88.4 339.1 91.1 335.2 92.6z" class="kj"/>
<path d="M152.7 109.8 156.6 108.6 159.7 108.3 155.9 109.6z" class="kk"/>
<path d="M171.3 103.4 175.1 101.7 178.3 101.6 174.4 103.2z" class="jb"/>
<path d="M189.8 96.6 193.7 95.2 196.8 95.2 193 96.7z" class="kl"/>
<path d="M287.2 93.0 291.1 93.2 294.2 94.4 290.4 94.2z" class="jr"/>
<path d="M134.2 114.3 138 113.4 141.1 113.0 137.3 113.9z" class="fr"/>
<path d="M313.5 94.2 317.4 93.0 320.5 95.1 316.7 96.2z" class="jv"/>
<path d="M234.7 88.8 238.5 88.8 241.7 89.6 237.8 89.6z" class="kh"/>
<path d="M261 90.2 264.8 90.4 268 91.3 264.1 91.1z" class="kh"/>
<path d="M354.5 84.3 358.4 82.7 361.5 86.1 357.6 87.6z" class="jm"/>
<path d="M212.3 90.8 216.1 90.0 219.3 90.4 215.4 91.2z" class="jk"/>
<path d="M115.6 118.7 119.4 117.7 122.6 117.2 118.7 118.2z" class="fr"/>
<path d="M376.9 80.1 380.8 78.8 383.9 82.9 380.1 84.1z" class="km"/>
<path d="M291.1 93.2 295 93.3 298.1 94.5 294.2 94.4z" class="kn"/>
<path d="M156.6 108.6 160.4 107.0 163.6 106.8 159.7 108.3z" class="ko"/>
<path d="M335.9 88.4 339.8 86.6 342.9 89.4 339.1 91.1z" class="jc"/>
<path d="M193.7 95.2 197.6 93.9 200.7 94.0 196.8 95.2z" class="kp"/>
<path d="M175.1 101.7 179 100.1 182.1 100.0 178.3 101.6z" class="kq"/>
<path d="M97 123.1 100.9 122.0 104 121.4 100.2 122.5z" class="fr"/>
<path d="M264.8 90.4 268.7 90.8 271.8 91.6 268 91.3z" class="kr"/>
<path d="M238.5 88.8 242.4 88.9 245.5 89.6 241.7 89.6z" class="ks"/>
<path d="M138 113.4 141.9 112.4 145 112.0 141.1 113.0z" class="fr"/>
<path d="M317.4 93.0 321.2 91.2 324.4 93.4 320.5 95.1z" class="ir"/>
<path d="M216.1 90.0 220 89.3 223.1 89.7 219.3 90.4z" class="jr"/>
<path d="M358.4 82.7 362.2 81.0 365.4 84.5 361.5 86.1z" class="ki"/>
<path d="M119.4 117.7 123.3 116.7 126.4 116.2 122.6 117.2z" class="fr"/>
<path d="M295 93.3 298.8 93.3 302 94.5 298.1 94.5z" class="kt"/>
<path d="M380.8 78.8 384.6 77.6 387.8 81.8 383.9 82.9z" class="ku"/>
<path d="M268.7 90.8 272.5 91.2 275.7 92.0 271.8 91.6z" class="kv"/>
<path d="M242.4 88.9 246.3 89.0 249.4 89.7 245.5 89.6z" class="kw"/>
<path d="M197.6 93.9 201.4 92.8 204.6 92.8 200.7 94.0z" class="kx"/>
<path d="M160.4 107.0 164.3 105.3 167.4 105.1 163.6 106.8z" class="ky"/>
<path d="M100.9 122.0 104.7 121.1 107.9 120.5 104 121.4z" class="fr"/>
<path d="M339.8 86.6 343.7 84.8 346.8 87.7 342.9 89.4z" class="kz"/>
<path d="M179 100.1 182.8 98.3 186 98.3 182.1 100.0z" class="jx"/>
<path d="M141.9 112.4 145.7 111.3 148.9 111.0 145 112.0z" class="la"/>
<path d="M220 89.3 223.8 88.8 227 89.2 223.1 89.7z" class="kf"/>
<path d="M298.8 93.3 302.7 93.3 305.8 94.5 302 94.5z" class="kt"/>
<path d="M321.2 91.2 325.1 89.4 328.2 91.7 324.4 93.4z" class="kj"/>
<path d="M272.5 91.2 276.4 91.6 279.5 92.4 275.7 92.0z" class="lb"/>
<path d="M123.3 116.7 127.2 115.7 130.3 115.3 126.4 116.2z" class="fr"/>
<path d="M362.2 81.0 366.1 79.4 369.2 83.0 365.4 84.5z" class="km"/>
<path d="M246.3 89.0 250.1 89.1 253.3 89.8 249.4 89.7z" class="kr"/>
<path d="M201.4 92.8 205.3 91.7 208.4 91.8 204.6 92.8z" class="lc"/>
<path d="M104.7 121.1 108.6 120.1 111.7 119.6 107.9 120.5z" class="fr"/>
<path d="M164.3 105.3 168.1 103.5 171.3 103.4 167.4 105.1z" class="jb"/>
<path d="M145.7 111.3 149.6 110.2 152.7 109.8 148.9 111.0z" class="ld"/>
<path d="M223.8 88.8 227.7 88.5 230.8 88.9 227 89.2z" class="le"/>
<path d="M343.7 84.8 347.5 83.0 350.6 86.0 346.8 87.7z" class="jm"/>
<path d="M182.8 98.3 186.7 96.7 189.8 96.6 186 98.3z" class="jo"/>
<path d="M276.4 91.6 280.2 92.0 283.4 92.7 279.5 92.4z" class="lf"/>
<path d="M302.7 93.3 306.5 93.3 309.7 94.5 305.8 94.5z" class="kt"/>
<path d="M250.1 89.1 254 89.3 257.1 90.0 253.3 89.8z" class="kv"/>
<path d="M127.2 115.7 131 114.8 134.2 114.3 130.3 115.3z" class="fr"/>
<path d="M325.1 89.4 328.9 87.6 332.1 90.1 328.2 91.7z" class="jc"/>
<path d="M366.1 79.4 369.9 77.8 373.1 81.5 369.2 83.0z" class="ku"/>
<path d="M280.2 92.0 284.1 92.3 287.2 93.0 283.4 92.7z" class="lg"/>
<path d="M108.6 120.1 112.4 119.2 115.6 118.7 111.7 119.6z" class="fr"/>
<path d="M205.3 91.7 209.1 90.7 212.3 90.8 208.4 91.8z" class="lh"/>
<path d="M227.7 88.5 231.5 88.4 234.7 88.8 230.8 88.9z" class="li"/>
<path d="M306.5 93.3 310.4 93.0 313.5 94.2 309.7 94.5z" class="lj"/>
<path d="M254 89.3 257.8 89.6 261 90.2 257.1 90.0z" class="lf"/>
<path d="M149.6 110.2 153.4 108.8 156.6 108.6 152.7 109.8z" class="lk"/>
<path d="M168.1 103.5 172 101.8 175.1 101.7 171.3 103.4z" class="kq"/>
<path d="M186.7 96.7 190.6 95.2 193.7 95.2 189.8 96.6z" class="ll"/>
<path d="M347.5 83.0 351.4 81.3 354.5 84.3 350.6 86.0z" class="lm"/>
<path d="M131 114.8 134.9 113.8 138 113.4 134.2 114.3z" class="fr"/>
<path d="M284.1 92.3 288 92.5 291.1 93.2 287.2 93.0z" class="ln"/>
<path d="M328.9 87.6 332.8 85.8 335.9 88.4 332.1 90.1z" class="kz"/>
<path d="M369.9 77.8 373.8 76.3 376.9 80.1 373.1 81.5z" class="lo"/>
<path d="M231.5 88.4 235.4 88.4 238.5 88.8 234.7 88.8z" class="fr"/>
<path d="M257.8 89.6 261.7 89.8 264.8 90.4 261 90.2z" class="lp"/>
<path d="M209.1 90.7 213 89.9 216.1 90.0 212.3 90.8z" class="kf"/>
<path d="M112.4 119.2 116.3 118.2 119.4 117.7 115.6 118.7z" class="fr"/>
<path d="M310.4 93.0 314.2 91.7 317.4 93.0 313.5 94.2z" class="lq"/>
<path d="M153.4 108.8 157.3 107.3 160.4 107.0 156.6 108.6z" class="lr"/>
<path d="M93.9 123.6 97.7 122.5 100.9 122.0 97 123.1z" class="fr"/>
<path d="M190.6 95.2 194.4 93.9 197.6 93.9 193.7 95.2z" class="ls"/>
<path d="M172 101.8 175.9 100.1 179 100.1 175.1 101.7z" class="kq"/>
<path d="M351.4 81.3 355.2 79.5 358.4 82.7 354.5 84.3z" class="km"/>
<path d="M288 92.5 291.8 92.7 295 93.3 291.1 93.2z" class="lt"/>
<path d="M134.9 113.8 138.7 112.8 141.9 112.4 138 113.4z" class="fr"/>
<path d="M235.4 88.4 239.3 88.5 242.4 88.9 238.5 88.8z" class="fr"/>
<path d="M261.7 89.8 265.5 90.2 268.7 90.8 264.8 90.4z" class="fr"/>
<path d="M373.8 76.3 377.6 74.8 380.8 78.8 376.9 80.1z" class="lu"/>
<path d="M332.8 85.8 336.7 83.9 339.8 86.6 335.9 88.4z" class="jm"/>
<path d="M213 89.9 216.8 89.1 220 89.3 216.1 90.0z" class="lv"/>
<path d="M116.3 118.2 120.2 117.2 123.3 116.7 119.4 117.7z" class="fr"/>
<path d="M314.2 91.7 318.1 89.7 321.2 91.2 317.4 93.0z" class="lw"/>
<path d="M291.8 92.7 295.7 92.6 298.8 93.3 295 93.3z" class="lx"/>
<path d="M97.7 122.5 101.6 121.6 104.7 121.1 100.9 122.0z" class="fr"/>
<path d="M265.5 90.2 269.4 90.6 272.5 91.2 268.7 90.8z" class="fr"/>
<path d="M239.3 88.5 243.1 88.6 246.3 89.0 242.4 88.9z" class="fr"/>
<path d="M157.3 107.3 161.1 105.5 164.3 105.3 160.4 107.0z" class="jw"/>
<path d="M194.4 93.9 198.3 92.7 201.4 92.8 197.6 93.9z" class="ly"/>
<path d="M175.9 100.1 179.7 98.4 182.8 98.3 179 100.1z" class="jo"/>
<path d="M138.7 112.8 142.6 111.7 145.7 111.3 141.9 112.4z" class="gt"/>
<path d="M355.2 79.5 359.1 77.7 362.2 81.0 358.4 82.7z" class="ku"/>
<path d="M216.8 89.1 220.7 88.6 223.8 88.8 220 89.3z" class="lt"/>
<path d="M377.6 74.8 381.5 73.6 384.6 77.6 380.8 78.8z" class="lz"/>
<path d="M120.2 117.2 124 116.2 127.2 115.7 123.3 116.7z" class="fr"/>
<path d="M336.7 83.9 340.5 82.0 343.7 84.8 339.8 86.6z" class="lm"/>
<path d="M295.7 92.6 299.5 92.6 302.7 93.3 298.8 93.3z" class="kh"/>
<path d="M269.4 90.6 273.2 91.1 276.4 91.6 272.5 91.2z" class="fr"/>
<path d="M243.1 88.6 247 88.7 250.1 89.1 246.3 89.0z" class="fr"/>
<path d="M318.1 89.7 321.9 87.7 325.1 89.4 321.2 91.2z" class="ma"/>
<path d="M101.6 121.6 105.4 120.7 108.6 120.1 104.7 121.1z" class="fr"/>
<path d="M198.3 92.7 202.1 91.6 205.3 91.7 201.4 92.8z" class="lh"/>
<path d="M142.6 111.7 146.4 110.5 149.6 110.2 145.7 111.3z" class="mb"/>
<path d="M161.1 105.5 165 103.7 168.1 103.5 164.3 105.3z" class="mc"/>
<path d="M179.7 98.4 183.6 96.7 186.7 96.7 182.8 98.3z" class="ju"/>
<path d="M220.7 88.6 224.6 88.3 227.7 88.5 223.8 88.8z" class="fr"/>
<path d="M359.1 77.7 362.9 76.0 366.1 79.4 362.2 81.0z" class="lu"/>
<path d="M273.2 91.1 277.1 91.5 280.2 92.0 276.4 91.6z" class="fr"/>
<path d="M299.5 92.6 303.4 92.5 306.5 93.3 302.7 93.3z" class="md"/>
<path d="M124 116.2 127.9 115.2 131 114.8 127.2 115.7z" class="fr"/>
<path d="M247 88.7 250.8 88.9 254 89.3 250.1 89.1z" class="fr"/>
<path d="M340.5 82.0 344.4 80.1 347.5 83.0 343.7 84.8z" class="km"/>
<path d="M105.4 120.7 109.3 119.7 112.4 119.2 108.6 120.1z" class="fr"/>
<path d="M202.1 91.6 206 90.6 209.1 90.7 205.3 91.7z" class="ka"/>
<path d="M321.9 87.7 325.8 85.8 328.9 87.6 325.1 89.4z" class="me"/>
<path d="M224.6 88.3 228.4 88.2 231.5 88.4 227.7 88.5z" class="fr"/>
<path d="M277.1 91.5 281 91.9 284.1 92.3 280.2 92.0z" class="fr"/>
<path d="M146.4 110.5 150.3 109.2 153.4 108.8 149.6 110.2z" class="mf"/>
<path d="M165 103.7 168.9 102.0 172 101.8 168.1 103.5z" class="mc"/>
<path d="M250.8 88.9 254.7 89.2 257.8 89.6 254 89.3z" class="fr"/>
<path d="M303.4 92.5 307.2 92.3 310.4 93.0 306.5 93.3z" class="mg"/>
<path d="M183.6 96.7 187.4 95.2 190.6 95.2 186.7 96.7z" class="kp"/>
<path d="M362.9 76.0 366.8 74.2 369.9 77.8 366.1 79.4z" class="lz"/>
<path d="M127.9 115.2 131.7 114.3 134.9 113.8 131 114.8z" class="fr"/>
<path d="M281 91.9 284.8 92.2 288 92.5 284.1 92.3z" class="fr"/>
<path d="M109.3 119.7 113.2 118.7 116.3 118.2 112.4 119.2z" class="fr"/>
<path d="M228.4 88.2 232.3 88.2 235.4 88.4 231.5 88.4z" class="fr"/>
<path d="M344.4 80.1 348.2 78.2 351.4 81.3 347.5 83.0z" class="lo"/>
<path d="M206 90.6 209.8 89.8 213 89.9 209.1 90.7z" class="mh"/>
<path d="M254.7 89.2 258.5 89.5 261.7 89.8 257.8 89.6z" class="fr"/>
<path d="M307.2 92.3 311.1 90.8 314.2 91.7 310.4 93.0z" class="mi"/>
<path d="M325.8 85.8 329.7 83.9 332.8 85.8 328.9 87.6z" class="mj"/>
<path d="M150.3 109.2 154.1 107.6 157.3 107.3 153.4 108.8z" class="mk"/>
<path d="M90.7 124.1 94.6 123.1 97.7 122.5 93.9 123.6z" class="fr"/>
<path d="M168.9 102.0 172.7 100.3 175.9 100.1 172 101.8z" class="ml"/>
<path d="M187.4 95.2 191.3 93.9 194.4 93.9 190.6 95.2z" class="kx"/>
<path d="M131.7 114.3 135.6 113.2 138.7 112.8 134.9 113.8z" class="fr"/>
<path d="M366.8 74.2 370.6 72.6 373.8 76.3 369.9 77.8z" class="mm"/>
<path d="M284.8 92.2 288.7 92.3 291.8 92.7 288 92.5z" class="fr"/>
<path d="M232.3 88.2 236.1 88.3 239.3 88.5 235.4 88.4z" class="fr"/>
<path d="M258.5 89.5 262.4 89.9 265.5 90.2 261.7 89.8z" class="fr"/>
<path d="M113.2 118.7 117 117.7 120.2 117.2 116.3 118.2z" class="fr"/>
<path d="M209.8 89.8 213.7 89.0 216.8 89.1 213 89.9z" class="ks"/>
<path d="M348.2 78.2 352.1 76.3 355.2 79.5 351.4 81.3z" class="lu"/>
<path d="M94.6 123.1 98.5 122.2 101.6 121.6 97.7 122.5z" class="fr"/>
<path d="M329.7 83.9 333.5 82.0 336.7 83.9 332.8 85.8z" class="mn"/>
<path d="M154.1 107.6 158 105.7 161.1 105.5 157.3 107.3z" class="mo"/>
<path d="M311.1 90.8 315 88.7 318.1 89.7 314.2 91.7z" class="ma"/>
<path d="M288.7 92.3 292.5 92.3 295.7 92.6 291.8 92.7z" class="fr"/>
<path d="M191.3 93.9 195.1 92.7 198.3 92.7 194.4 93.9z" class="jr"/>
<path d="M262.4 89.9 266.3 90.4 269.4 90.6 265.5 90.2z" class="fr"/>
<path d="M135.6 113.2 139.4 112.1 142.6 111.7 138.7 112.8z" class="gp"/>
<path d="M236.1 88.3 240 88.4 243.1 88.6 239.3 88.5z" class="fr"/>
<path d="M172.7 100.3 176.6 98.5 179.7 98.4 175.9 100.1z" class="kl"/>
<path d="M370.6 72.6 374.5 71.1 377.6 74.8 373.8 76.3z" class="mp"/>
<path d="M213.7 89.0 217.6 88.5 220.7 88.6 216.8 89.1z" class="mq"/>
<path d="M117 117.7 120.9 116.7 124 116.2 120.2 117.2z" class="fr"/>
<path d="M266.3 90.4 270.1 90.9 273.2 91.1 269.4 90.6z" class="fr"/>
<path d="M292.5 92.3 296.4 92.2 299.5 92.6 295.7 92.6z" class="lp"/>
<path d="M352.1 76.3 355.9 74.4 359.1 77.7 355.2 79.5z" class="lz"/>
<path d="M98.5 122.2 102.3 121.2 105.4 120.7 101.6 121.6z" class="fr"/>
<path d="M240 88.4 243.8 88.6 247 88.7 243.1 88.6z" class="fr"/>
<path d="M195.1 92.7 199 91.6 202.1 91.6 198.3 92.7z" class="lh"/>
<path d="M139.4 112.1 143.3 110.9 146.4 110.5 142.6 111.7z" class="mr"/>
<path d="M158 105.7 161.9 103.9 165 103.7 161.1 105.5z" class="ms"/>
<path d="M333.5 82.0 337.4 79.9 340.5 82.0 336.7 83.9z" class="mt"/>
<path d="M315 88.7 318.8 86.6 321.9 87.7 318.1 89.7z" class="mu"/>
<path d="M176.6 98.5 180.4 96.8 183.6 96.7 179.7 98.4z" class="jz"/>
<path d="M374.5 71.1 378.4 69.7 381.5 73.6 377.6 74.8z" class="mv"/>
<path d="M217.6 88.5 221.4 88.2 224.6 88.3 220.7 88.6z" class="fr"/>
<path d="M120.9 116.7 124.7 115.7 127.9 115.2 124 116.2z" class="fr"/>
<path d="M270.1 90.9 274 91.4 277.1 91.5 273.2 91.1z" class="fr"/>
<path d="M296.4 92.2 300.2 92.2 303.4 92.5 299.5 92.6z" class="fr"/>
<path d="M243.8 88.6 247.7 88.8 250.8 88.9 247 88.7z" class="fr"/>
<path d="M102.3 121.2 106.2 120.2 109.3 119.7 105.4 120.7z" class="fr"/>
<path d="M355.9 74.4 359.8 72.6 362.9 76.0 359.1 77.7z" class="mp"/>
<path d="M199 91.6 202.8 90.6 206 90.6 202.1 91.6z" class="ka"/>
<path d="M143.3 110.9 147.2 109.5 150.3 109.2 146.4 110.5z" class="mw"/>
<path d="M221.4 88.2 225.3 88.0 228.4 88.2 224.6 88.3z" class="fr"/>
<path d="M274 91.4 277.8 91.8 281 91.9 277.1 91.5z" class="fr"/>
<path d="M161.9 103.9 165.7 102.2 168.9 102.0 165 103.7z" class="mx"/>
<path d="M337.4 79.9 341.2 78.0 344.4 80.1 340.5 82.0z" class="my"/>
<path d="M318.8 86.6 322.7 84.6 325.8 85.8 321.9 87.7z" class="mj"/>
<path d="M247.7 88.8 251.5 89.1 254.7 89.2 250.8 88.9z" class="fr"/>
<path d="M180.4 96.8 184.3 95.3 187.4 95.2 183.6 96.7z" class="kx"/>
<path d="M300.2 92.2 304.1 91.9 307.2 92.3 303.4 92.5z" class="mz"/>
<path d="M124.7 115.7 128.6 114.7 131.7 114.3 127.9 115.2z" class="fr"/>
<path d="M106.2 120.2 110 119.2 113.2 118.7 109.3 119.7z" class="fr"/>
<path d="M277.8 91.8 281.7 92.1 284.8 92.2 281 91.9z" class="fr"/>
<path d="M225.3 88.0 229.1 88.0 232.3 88.2 228.4 88.2z" class="fr"/>
<path d="M202.8 90.6 206.7 89.7 209.8 89.8 206 90.6z" class="kh"/>
<path d="M251.5 89.1 255.4 89.4 258.5 89.5 254.7 89.2z" class="fr"/>
<path d="M359.8 72.6 363.7 70.7 366.8 74.2 362.9 76.0z" class="na"/>
<path d="M87.6 124.6 91.5 123.7 94.6 123.1 90.7 124.1z" class="fr"/>
<path d="M147.2 109.5 151 107.9 154.1 107.6 150.3 109.2z" class="nb"/>
<path d="M304.1 91.9 308 90.4 311.1 90.8 307.2 92.3z" class="nc"/>
<path d="M165.7 102.2 169.6 100.4 172.7 100.3 168.9 102.0z" class="nd"/>
<path d="M128.6 114.7 132.4 113.7 135.6 113.2 131.7 114.3z" class="fr"/>
<path d="M184.3 95.3 188.1 94.0 191.3 93.9 187.4 95.2z" class="lc"/>
<path d="M341.2 78.0 345.1 76.0 348.2 78.2 344.4 80.1z" class="lz"/>
<path d="M322.7 84.6 326.5 82.6 329.7 83.9 325.8 85.8z" class="ne"/>
<path d="M281.7 92.1 285.5 92.2 288.7 92.3 284.8 92.2z" class="fr"/>
<path d="M229.1 88.0 233 88.1 236.1 88.3 232.3 88.2z" class="fr"/>
<path d="M110 119.2 113.9 118.2 117 117.7 113.2 118.7z" class="fr"/>
<path d="M255.4 89.4 259.3 89.8 262.4 89.9 258.5 89.5z" class="fr"/>
<path d="M206.7 89.7 210.6 88.9 213.7 89.0 209.8 89.8z" class="lx"/>
<path d="M91.5 123.7 95.3 122.7 98.5 122.2 94.6 123.1z" class="fr"/>
<path d="M363.7 70.7 367.5 69.0 370.6 72.6 366.8 74.2z" class="nf"/>
<path d="M151 107.9 154.9 106.1 158 105.7 154.1 107.6z" class="ng"/>
<path d="M132.4 113.7 136.3 112.6 139.4 112.1 135.6 113.2z" class="gp"/>
<path d="M188.1 94.0 192 92.7 195.1 92.7 191.3 93.9z" class="lh"/>
<path d="M285.5 92.2 289.4 92.2 292.5 92.3 288.7 92.3z" class="fr"/>
<path d="M259.3 89.8 263.1 90.3 266.3 90.4 262.4 89.9z" class="fr"/>
<path d="M169.6 100.4 173.4 98.6 176.6 98.5 172.7 100.3z" class="ll"/>
<path d="M233 88.1 236.8 88.3 240 88.4 236.1 88.3z" class="fr"/>
<path d="M308 90.4 311.8 88.1 315 88.7 311.1 90.8z" class="mu"/>
<path d="M345.1 76.0 348.9 74.0 352.1 76.3 348.2 78.2z" class="mp"/>
<path d="M326.5 82.6 330.4 80.6 333.5 82.0 329.7 83.9z" class="mt"/>
<path d="M113.9 118.2 117.7 117.2 120.9 116.7 117 117.7z" class="fr"/>
<path d="M210.6 88.9 214.4 88.3 217.6 88.5 213.7 89.0z" class="mq"/>
<path d="M95.3 122.7 99.2 121.7 102.3 121.2 98.5 122.2z" class="fr"/>
<path d="M263.1 90.3 267 90.9 270.1 90.9 266.3 90.4z" class="fr"/>
<path d="M289.4 92.2 293.2 92.1 296.4 92.2 292.5 92.3z" class="fr"/>
<path d="M236.8 88.3 240.7 88.4 243.8 88.6 240 88.4z" class="fr"/>
<path d="M367.5 69.0 371.4 67.4 374.5 71.1 370.6 72.6z" class="nh"/>
<path d="M136.3 112.6 140.2 111.3 143.3 110.9 139.4 112.1z" class="mr"/>
<path d="M192 92.7 195.8 91.6 199 91.6 195.1 92.7z" class="ka"/>
<path d="M154.9 106.1 158.7 104.2 161.9 103.9 158 105.7z" class="ni"/>
<path d="M173.4 98.6 177.3 96.9 180.4 96.8 176.6 98.5z" class="ls"/>
<path d="M311.8 88.1 315.7 85.9 318.8 86.6 315 88.7z" class="nj"/>
<path d="M117.7 117.2 121.6 116.2 124.7 115.7 120.9 116.7z" class="fr"/>
<path d="M214.4 88.3 218.3 88.0 221.4 88.2 217.6 88.5z" class="fr"/>
<path d="M348.9 74.0 352.8 72.0 355.9 74.4 352.1 76.3z" class="na"/>
<path d="M330.4 80.6 334.2 78.5 337.4 79.9 333.5 82.0z" class="nk"/>
<path d="M267 90.9 270.8 91.4 274 91.4 270.1 90.9z" class="hr"/>
<path d="M240.7 88.4 244.5 88.7 247.7 88.8 243.8 88.6z" class="fr"/>
<path d="M293.2 92.1 297.1 92.1 300.2 92.2 296.4 92.2z" class="fr"/>
<path d="M99.2 121.7 103 120.8 106.2 120.2 102.3 121.2z" class="fr"/>
<path d="M371.4 67.4 375.2 65.9 378.4 69.7 374.5 71.1z" class="nl"/>
<path d="M140.2 111.3 144 109.9 147.2 109.5 143.3 110.9z" class="nm"/>
<path d="M195.8 91.6 199.7 90.5 202.8 90.6 199 91.6z" class="nn"/>
<path d="M218.3 88.0 222.1 87.9 225.3 88.0 221.4 88.2z" class="fr"/>
<path d="M270.8 91.4 274.7 91.8 277.8 91.8 274 91.4z" class="fr"/>
<path d="M158.7 104.2 162.6 102.4 165.7 102.2 161.9 103.9z" class="no"/>
<path d="M121.6 116.2 125.4 115.2 128.6 114.7 124.7 115.7z" class="fr"/>
<path d="M177.3 96.9 181.1 95.4 184.3 95.3 180.4 96.8z" class="lc"/>
<path d="M244.5 88.7 248.4 89.0 251.5 89.1 247.7 88.8z" class="fr"/>
<path d="M297.1 92.1 301 91.8 304.1 91.9 300.2 92.2z" class="fr"/>
<path d="M315.7 85.9 319.5 83.8 322.7 84.6 318.8 86.6z" class="ne"/>
<path d="M352.8 72.0 356.7 70.1 359.8 72.6 355.9 74.4z" class="np"/>
<path d="M334.2 78.5 338.1 76.4 341.2 78.0 337.4 79.9z" class="nq"/>
<path d="M103 120.8 106.9 119.7 110 119.2 106.2 120.2z" class="fr"/>
<path d="M274.7 91.8 278.5 92.1 281.7 92.1 277.8 91.8z" class="fr"/>
<path d="M222.1 87.9 226 87.9 229.1 88.0 225.3 88.0z" class="fr"/>
<path d="M199.7 90.5 203.6 89.6 206.7 89.7 202.8 90.6z" class="lx"/>
<path d="M84.5 125.2 88.3 124.2 91.5 123.7 87.6 124.6z" class="fr"/>
<path d="M248.4 89.0 252.3 89.3 255.4 89.4 251.5 89.1z" class="fr"/>
<path d="M144 109.9 147.9 108.3 151 107.9 147.2 109.5z" class="nr"/>
<path d="M125.4 115.2 129.3 114.2 132.4 113.7 128.6 114.7z" class="fr"/>
<path d="M162.6 102.4 166.4 100.7 169.6 100.4 165.7 102.2z" class="no"/>
<path d="M301 91.8 304.8 90.2 308 90.4 304.1 91.9z" class="ns"/>
<path d="M181.1 95.4 185 94.1 188.1 94.0 184.3 95.3z" class="nt"/>
<path d="M278.5 92.1 282.4 92.2 285.5 92.2 281.7 92.1z" class="fr"/>
<path d="M106.9 119.7 110.7 118.7 113.9 118.2 110 119.2z" class="fr"/>
<path d="M319.5 83.8 323.4 81.8 326.5 82.6 322.7 84.6z" class="nu"/>
<path d="M356.7 70.1 360.5 68.1 363.7 70.7 359.8 72.6z" class="nv"/>
<path d="M226 87.9 229.8 88.0 233 88.1 229.1 88.0z" class="fr"/>
<path d="M338.1 76.4 341.9 74.4 345.1 76.0 341.2 78.0z" class="nw"/>
<path d="M252.3 89.3 256.1 89.8 259.3 89.8 255.4 89.4z" class="fr"/>
<path d="M203.6 89.6 207.4 88.9 210.6 88.9 206.7 89.7z" class="mz"/>
<path d="M88.3 124.2 92.2 123.3 95.3 122.7 91.5 123.7z" class="fr"/>
<path d="M147.9 108.3 151.7 106.4 154.9 106.1 151 107.9z" class="nx"/>
<path d="M129.3 114.2 133.2 113.0 136.3 112.6 132.4 113.7z" class="gl"/>
<path d="M185 94.1 188.9 92.8 192 92.7 188.1 94.0z" class="kf"/>
<path d="M282.4 92.2 286.3 92.2 289.4 92.2 285.5 92.2z" class="fr"/>
<path d="M166.4 100.7 170.3 98.8 173.4 98.6 169.6 100.4z" class="ny"/>
<path d="M256.1 89.8 260 90.3 263.1 90.3 259.3 89.8z" class="fr"/>
<path d="M229.8 88.0 233.7 88.1 236.8 88.3 233 88.1z" class="fr"/>
<path d="M304.8 90.2 308.7 87.7 311.8 88.1 308 90.4z" class="nz"/>
<path d="M110.7 118.7 114.6 117.7 117.7 117.2 113.9 118.2z" class="fr"/>
<path d="M360.5 68.1 364.4 66.3 367.5 69.0 363.7 70.7z" class="oa"/>
<path d="M323.4 81.8 327.2 79.7 330.4 80.6 326.5 82.6z" class="ob"/>
<path d="M207.4 88.9 211.3 88.3 214.4 88.3 210.6 88.9z" class="oc"/>
<path d="M341.9 74.4 345.8 72.4 348.9 74.0 345.1 76.0z" class="mv"/>
<path d="M92.2 123.3 96 122.3 99.2 121.7 95.3 122.7z" class="fr"/>
<path d="M260 90.3 263.8 90.8 267 90.9 263.1 90.3z" class="fr"/>
<path d="M286.3 92.2 290.1 92.2 293.2 92.1 289.4 92.2z" class="fr"/>
<path d="M233.7 88.1 237.6 88.3 240.7 88.4 236.8 88.3z" class="fr"/>
<path d="M133.2 113.0 137 111.7 140.2 111.3 136.3 112.6z" class="od"/>
<path d="M151.7 106.4 155.6 104.5 158.7 104.2 154.9 106.1z" class="oe"/>
<path d="M188.9 92.8 192.7 91.7 195.8 91.6 192 92.7z" class="of"/>
<path d="M170.3 98.8 174.1 97.1 177.3 96.9 173.4 98.6z" class="lc"/>
<path d="M114.6 117.7 118.5 116.7 121.6 116.2 117.7 117.2z" class="fr"/>
<path d="M211.3 88.3 215.1 88.0 218.3 88.0 214.4 88.3z" class="fr"/>
<path d="M308.7 87.7 312.5 85.5 315.7 85.9 311.8 88.1z" class="og"/>
<path d="M263.8 90.8 267.7 91.4 270.8 91.4 267 90.9z" class="lf"/>
<path d="M364.4 66.3 368.2 64.6 371.4 67.4 367.5 69.0z" class="oh"/>
<path d="M96 122.3 99.9 121.3 103 120.8 99.2 121.7z" class="fr"/>
<path d="M290.1 92.2 294 92.1 297.1 92.1 293.2 92.1z" class="fr"/>
<path d="M237.6 88.3 241.4 88.6 244.5 88.7 240.7 88.4z" class="fr"/>
<path d="M327.2 79.7 331.1 77.5 334.2 78.5 330.4 80.6z" class="nq"/>
<path d="M345.8 72.4 349.7 70.3 352.8 72.0 348.9 74.0z" class="oi"/>
<path d="M137 111.7 140.9 110.3 144 109.9 140.2 111.3z" class="oj"/>
<path d="M192.7 91.7 196.6 90.6 199.7 90.5 195.8 91.6z" class="md"/>
<path d="M155.6 104.5 159.4 102.7 162.6 102.4 158.7 104.2z" class="ok"/>
<path d="M267.7 91.4 271.5 91.8 274.7 91.8 270.8 91.4z" class="fr"/>
<path d="M215.1 88.0 219 87.8 222.1 87.9 218.3 88.0z" class="fr"/>
<path d="M118.5 116.7 122.3 115.7 125.4 115.2 121.6 116.2z" class="fr"/>
<path d="M174.1 97.1 178 95.6 181.1 95.4 177.3 96.9z" class="ol"/>
<path d="M241.4 88.6 245.3 88.9 248.4 89.0 244.5 88.7z" class="fr"/>
<path d="M294 92.1 297.8 91.8 301 91.8 297.1 92.1z" class="fr"/>
<path d="M99.9 121.3 103.7 120.3 106.9 119.7 103 120.8z" class="fr"/>
<path d="M312.5 85.5 316.4 83.3 319.5 83.8 315.7 85.9z" class="om"/>
<path d="M368.2 64.6 372.1 63.1 375.2 65.9 371.4 67.4z" class="on"/>
<path d="M331.1 77.5 334.9 75.3 338.1 76.4 334.2 78.5z" class="nw"/>
<path d="M271.5 91.8 275.4 92.2 278.5 92.1 274.7 91.8z" class="fr"/>
<path d="M349.7 70.3 353.5 68.2 356.7 70.1 352.8 72.0z" class="oo"/>
<path d="M81.3 125.7 85.2 124.8 88.3 124.2 84.5 125.2z" class="fr"/>
<path d="M219 87.8 222.8 87.8 226 87.9 222.1 87.9z" class="fr"/>
<path d="M196.6 90.6 200.4 89.7 203.6 89.6 199.7 90.5z" class="kw"/>
<path d="M140.9 110.3 144.7 108.7 147.9 108.3 144 109.9z" class="op"/>
<path d="M245.3 88.9 249.1 89.2 252.3 89.3 248.4 89.0z" class="fr"/>
<path d="M122.3 115.7 126.2 114.6 129.3 114.2 125.4 115.2z" class="fr"/>
<path d="M159.4 102.7 163.3 101.0 166.4 100.7 162.6 102.4z" class="oq"/>
<path d="M178 95.6 181.9 94.3 185 94.1 181.1 95.4z" class="of"/>
<path d="M297.8 91.8 301.7 90.1 304.8 90.2 301 91.8z" class="or"/>
<path d="M103.7 120.3 107.6 119.2 110.7 118.7 106.9 119.7z" class="fr"/>
<path d="M275.4 92.2 279.3 92.3 282.4 92.2 278.5 92.1z" class="fr"/>
<path d="M222.8 87.8 226.7 87.9 229.8 88.0 226 87.9z" class="fr"/>
<path d="M316.4 83.3 320.2 81.2 323.4 81.8 319.5 83.8z" class="ob"/>
<path d="M249.1 89.2 253 89.7 256.1 89.8 252.3 89.3z" class="fr"/>
<path d="M85.2 124.8 89 123.8 92.2 123.3 88.3 124.2z" class="fr"/>
<path d="M200.4 89.7 204.3 88.9 207.4 88.9 203.6 89.6z" class="os"/>
<path d="M334.9 75.3 338.8 73.2 341.9 74.4 338.1 76.4z" class="ot"/>
<path d="M353.5 68.2 357.4 66.2 360.5 68.1 356.7 70.1z" class="ou"/>
<path d="M144.7 108.7 148.6 106.8 151.7 106.4 147.9 108.3z" class="ov"/>
<path d="M126.2 114.6 130 113.5 133.2 113.0 129.3 114.2z" class="ow"/>
<path d="M181.9 94.3 185.7 93.0 188.9 92.8 185 94.1z" class="ox"/>
<path d="M163.3 101.0 167.1 99.1 170.3 98.8 166.4 100.7z" class="oy"/>
<path d="M279.3 92.3 283.1 92.3 286.3 92.2 282.4 92.2z" class="fr"/>
<path d="M253 89.7 256.8 90.2 260 90.3 256.1 89.8z" class="fr"/>
<path d="M226.7 87.9 230.6 88.1 233.7 88.1 229.8 88.0z" class="fr"/>
<path d="M107.6 119.2 111.5 118.2 114.6 117.7 110.7 118.7z" class="fr"/>
<path d="M301.7 90.1 305.5 87.6 308.7 87.7 304.8 90.2z" class="nj"/>
<path d="M204.3 88.9 208.1 88.3 211.3 88.3 207.4 88.9z" class="oz"/>
<path d="M89 123.8 92.9 122.8 96 122.3 92.2 123.3z" class="fr"/>
<path d="M320.2 81.2 324.1 79.0 327.2 79.7 323.4 81.8z" class="pa"/>
<path d="M256.8 90.2 260.7 90.8 263.8 90.8 260 90.3z" class="hr"/>
<path d="M283.1 92.3 287 92.2 290.1 92.2 286.3 92.2z" class="fr"/>
<path d="M130 113.5 133.9 112.2 137 111.7 133.2 113.0z" class="la"/>
<path d="M338.8 73.2 342.7 71.1 345.8 72.4 341.9 74.4z" class="pb"/>
<path d="M357.4 66.2 361.2 64.3 364.4 66.3 360.5 68.1z" class="pc"/>
<path d="M230.6 88.1 234.4 88.2 237.6 88.3 233.7 88.1z" class="fr"/>
<path d="M148.6 106.8 152.4 104.9 155.6 104.5 151.7 106.4z" class="ov"/>
<path d="M185.7 93.0 189.6 91.8 192.7 91.7 188.9 92.8z" class="ks"/>
<path d="M167.1 99.1 171 97.4 174.1 97.1 170.3 98.8z" class="ol"/>
<path d="M111.5 118.2 115.3 117.2 118.5 116.7 114.6 117.7z" class="fr"/>
<path d="M208.1 88.3 212 88.0 215.1 88.0 211.3 88.3z" class="fr"/>
<path d="M305.5 87.6 309.4 85.2 312.5 85.5 308.7 87.7z" class="pd"/>
<path d="M260.7 90.8 264.5 91.4 267.7 91.4 263.8 90.8z" class="oz"/>
<path d="M92.9 122.8 96.7 121.8 99.9 121.3 96 122.3z" class="fr"/>
<path d="M287 92.2 290.8 92.2 294 92.1 290.1 92.2z" class="fr"/>
<path d="M234.4 88.2 238.3 88.5 241.4 88.6 237.6 88.3z" class="fr"/>
<path d="M324.1 79.0 328 76.8 331.1 77.5 327.2 79.7z" class="pe"/>
<path d="M133.9 112.2 137.7 110.8 140.9 110.3 137 111.7z" class="pf"/>
<path d="M361.2 64.3 365.1 62.5 368.2 64.6 364.4 66.3z" class="pg"/>
<path d="M189.6 91.8 193.4 90.8 196.6 90.6 192.7 91.7z" class="kw"/>
<path d="M342.7 71.1 346.5 69.0 349.7 70.3 345.8 72.4z" class="ph"/>
<path d="M152.4 104.9 156.3 103.1 159.4 102.7 155.6 104.5z" class="pi"/>
<path d="M115.3 117.2 119.2 116.2 122.3 115.7 118.5 116.7z" class="fr"/>
<path d="M264.5 91.4 268.4 91.9 271.5 91.8 267.7 91.4z" class="fr"/>
<path d="M212 88.0 215.8 87.8 219 87.8 215.1 88.0z" class="fr"/>
<path d="M171 97.4 174.9 95.9 178 95.6 174.1 97.1z" class="pj"/>
<path d="M238.3 88.5 242.1 88.8 245.3 88.9 241.4 88.6z" class="fr"/>
<path d="M290.8 92.2 294.7 91.8 297.8 91.8 294 92.1z" class="fr"/>
<path d="M96.7 121.8 100.6 120.8 103.7 120.3 99.9 121.3z" class="fr"/>
<path d="M309.4 85.2 313.2 83.0 316.4 83.3 312.5 85.5z" class="pk"/>
<path d="M78.2 126.3 82 125.3 85.2 124.8 81.3 125.7z" class="fr"/>
<path d="M268.4 91.9 272.3 92.2 275.4 92.2 271.5 91.8z" class="fr"/>
<path d="M137.7 110.8 141.6 109.1 144.7 108.7 140.9 110.3z" class="pl"/>
<path d="M193.4 90.8 197.3 89.8 200.4 89.7 196.6 90.6z" class="os"/>
<path d="M215.8 87.8 219.7 87.8 222.8 87.8 219 87.8z" class="fr"/>
<path d="M328 76.8 331.8 74.6 334.9 75.3 331.1 77.5z" class="pm"/>
<path d="M365.1 62.5 368.9 60.9 372.1 63.1 368.2 64.6z" class="pn"/>
<path d="M119.2 116.2 123 115.1 126.2 114.6 122.3 115.7z" class="fr"/>
<path d="M242.1 88.8 246 89.1 249.1 89.2 245.3 88.9z" class="fr"/>
<path d="M156.3 103.1 160.2 101.3 163.3 101.0 159.4 102.7z" class="po"/>
<path d="M346.5 69.0 350.4 66.8 353.5 68.2 349.7 70.3z" class="ou"/>
<path d="M174.9 95.9 178.7 94.5 181.9 94.3 178 95.6z" class="pp"/>
<path d="M294.7 91.8 298.5 90.1 301.7 90.1 297.8 91.8z" class="pq"/>
<path d="M100.6 120.8 104.5 119.7 107.6 119.2 103.7 120.3z" class="fr"/>
<path d="M272.3 92.2 276.1 92.4 279.3 92.3 275.4 92.2z" class="fr"/>
<path d="M219.7 87.8 223.6 87.9 226.7 87.9 222.8 87.8z" class="fr"/>
<path d="M82 125.3 85.9 124.4 89 123.8 85.2 124.8z" class="fr"/>
<path d="M246 89.1 249.8 89.6 253 89.7 249.1 89.2z" class="fr"/>
<path d="M313.2 83.0 317.1 80.8 320.2 81.2 316.4 83.3z" class="pr"/>
<path d="M197.3 89.8 201.1 89.0 204.3 88.9 200.4 89.7z" class="li"/>
<path d="M141.6 109.1 145.4 107.2 148.6 106.8 144.7 108.7z" class="ps"/>
<path d="M123 115.1 126.9 113.9 130 113.5 126.2 114.6z" class="pt"/>
<path d="M331.8 74.6 335.7 72.4 338.8 73.2 334.9 75.3z" class="pb"/>
<path d="M178.7 94.5 182.6 93.2 185.7 93.0 181.9 94.3z" class="pu"/>
<path d="M160.2 101.3 164 99.4 167.1 99.1 163.3 101.0z" class="pv"/>
<path d="M276.1 92.4 280 92.3 283.1 92.3 279.3 92.3z" class="fr"/>
<path d="M350.4 66.8 354.2 64.7 357.4 66.2 353.5 68.2z" class="pc"/>
<path d="M104.5 119.7 108.3 118.7 111.5 118.2 107.6 119.2z" class="fr"/>
<path d="M249.8 89.6 253.7 90.2 256.8 90.2 253 89.7z" class="hr"/>
<path d="M223.6 87.9 227.4 88.0 230.6 88.1 226.7 87.9z" class="fr"/>
<path d="M298.5 90.1 302.4 87.4 305.5 87.6 301.7 90.1z" class="og"/>
<path d="M85.9 124.4 89.7 123.4 92.9 122.8 89 123.8z" class="fr"/>
<path d="M201.1 89.0 205 88.4 208.1 88.3 204.3 88.9z" class="fr"/>
<path d="M317.1 80.8 321 78.5 324.1 79.0 320.2 81.2z" class="pw"/>
<path d="M126.9 113.9 130.7 112.6 133.9 112.2 130 113.5z" class="px"/>
<path d="M253.7 90.2 257.6 90.8 260.7 90.8 256.8 90.2z" class="lf"/>
<path d="M280 92.3 283.8 92.3 287 92.2 283.1 92.3z" class="fr"/>
<path d="M145.4 107.2 149.3 105.2 152.4 104.9 148.6 106.8z" class="py"/>
<path d="M227.4 88.0 231.3 88.2 234.4 88.2 230.6 88.1z" class="fr"/>
<path d="M182.6 93.2 186.4 92.0 189.6 91.8 185.7 93.0z" class="mz"/>
<path d="M335.7 72.4 339.5 70.2 342.7 71.1 338.8 73.2z" class="pz"/>
<path d="M108.3 118.7 112.2 117.7 115.3 117.2 111.5 118.2z" class="fr"/>
<path d="M164 99.4 167.9 97.6 171 97.4 167.1 99.1z" class="pj"/>
<path d="M354.2 64.7 358.1 62.8 361.2 64.3 357.4 66.2z" class="qa"/>
<path d="M205 88.4 208.9 88.1 212 88.0 208.1 88.3z" class="fr"/>
<path d="M89.7 123.4 93.6 122.3 96.7 121.8 92.9 122.8z" class="fr"/>
<path d="M257.6 90.8 261.4 91.4 264.5 91.4 260.7 90.8z" class="qb"/>
<path d="M302.4 87.4 306.2 85.0 309.4 85.2 305.5 87.6z" class="om"/>
<path d="M283.8 92.3 287.7 92.2 290.8 92.2 287 92.2z" class="fr"/>
<path d="M231.3 88.2 235.1 88.5 238.3 88.5 234.4 88.2z" class="fr"/>
<path d="M130.7 112.6 134.6 111.2 137.7 110.8 133.9 112.2z" class="qc"/>
<path d="M321 78.5 324.8 76.2 328 76.8 324.1 79.0z" class="qd"/>
<path d="M186.4 92.0 190.3 90.9 193.4 90.8 189.6 91.8z" class="qe"/>
<path d="M149.3 105.2 153.2 103.4 156.3 103.1 152.4 104.9z" class="py"/>
<path d="M112.2 117.7 116 116.7 119.2 116.2 115.3 117.2z" class="fr"/>
<path d="M261.4 91.4 265.3 91.9 268.4 91.9 264.5 91.4z" class="fr"/>
<path d="M208.9 88.1 212.7 87.9 215.8 87.8 212 88.0z" class="fr"/>
<path d="M167.9 97.6 171.7 96.1 174.9 95.9 171 97.4z" class="ks"/>
<path d="M339.5 70.2 343.4 68.0 346.5 69.0 342.7 71.1z" class="ou"/>
<path d="M358.1 62.8 361.9 60.9 365.1 62.5 361.2 64.3z" class="qf"/>
<path d="M93.6 122.3 97.5 121.3 100.6 120.8 96.7 121.8z" class="fr"/>
<path d="M235.1 88.5 239 88.8 242.1 88.8 238.3 88.5z" class="fr"/>
<path d="M287.7 92.2 291.5 91.9 294.7 91.8 290.8 92.2z" class="fr"/>
<path d="M306.2 85.0 310.1 82.7 313.2 83.0 309.4 85.2z" class="qg"/>
<path d="M75 126.8 78.9 125.9 82 125.3 78.2 126.3z" class="fr"/>
<path d="M265.3 91.9 269.1 92.3 272.3 92.2 268.4 91.9z" class="fr"/>
<path d="M134.6 111.2 138.4 109.5 141.6 109.1 137.7 110.8z" class="qh"/>
<path d="M190.3 90.9 194.1 90.0 197.3 89.8 193.4 90.8z" class="qi"/>
<path d="M212.7 87.9 216.6 87.9 219.7 87.8 215.8 87.8z" class="fr"/>
<path d="M116 116.7 119.9 115.6 123 115.1 119.2 116.2z" class="fr"/>
<path d="M239 88.8 242.8 89.1 246 89.1 242.1 88.8z" class="fr"/>
<path d="M153.2 103.4 157 101.6 160.2 101.3 156.3 103.1z" class="py"/>
<path d="M324.8 76.2 328.7 74.0 331.8 74.6 328 76.8z" class="qj"/>
<path d="M171.7 96.1 175.6 94.8 178.7 94.5 174.9 95.9z" class="pu"/>
<path d="M291.5 91.9 295.4 90.1 298.5 90.1 294.7 91.8z" class="qk"/>
<path d="M97.5 121.3 101.3 120.2 104.5 119.7 100.6 120.8z" class="fr"/>
<path d="M343.4 68.0 347.2 65.8 350.4 66.8 346.5 69.0z" class="ql"/>
<path d="M361.9 60.9 365.8 59.3 368.9 60.9 365.1 62.5z" class="qm"/>
<path d="M269.1 92.3 273 92.4 276.1 92.4 272.3 92.2z" class="fr"/>
<path d="M78.9 125.9 82.8 124.9 85.9 124.4 82 125.3z" class="fr"/>
<path d="M216.6 87.9 220.4 88.0 223.6 87.9 219.7 87.8z" class="fr"/>
<path d="M242.8 89.1 246.7 89.6 249.8 89.6 246 89.1z" class="fr"/>
<path d="M194.1 90.0 198 89.2 201.1 89.0 197.3 89.8z" class="oz"/>
<path d="M310.1 82.7 314 80.4 317.1 80.8 313.2 83.0z" class="qn"/>
<path d="M138.4 109.5 142.3 107.6 145.4 107.2 141.6 109.1z" class="qo"/>
<path d="M119.9 115.6 123.7 114.4 126.9 113.9 123 115.1z" class="pt"/>
<path d="M157 101.6 160.9 99.7 164 99.4 160.2 101.3z" class="qp"/>
<path d="M175.6 94.8 179.4 93.5 182.6 93.2 178.7 94.5z" class="lt"/>
<path d="M328.7 74.0 332.5 71.7 335.7 72.4 331.8 74.6z" class="qq"/>
<path d="M101.3 120.2 105.2 119.2 108.3 118.7 104.5 119.7z" class="fr"/>
<path d="M273 92.4 276.8 92.4 280 92.3 276.1 92.4z" class="fr"/>
<path d="M246.7 89.6 250.6 90.2 253.7 90.2 249.8 89.6z" class="lp"/>
<path d="M220.4 88.0 224.3 88.1 227.4 88.0 223.6 87.9z" class="fr"/>
<path d="M295.4 90.1 299.3 87.4 302.4 87.4 298.5 90.1z" class="pd"/>
<path d="M347.2 65.8 351.1 63.6 354.2 64.7 350.4 66.8z" class="qr"/>
<path d="M82.8 124.9 86.6 123.9 89.7 123.4 85.9 124.4z" class="fr"/>
<path d="M198 89.2 201.9 88.6 205 88.4 201.1 89.0z" class="fr"/>
<path d="M123.7 114.4 127.6 113.1 130.7 112.6 126.9 113.9z" class="qs"/>
<path d="M314 80.4 317.8 78.1 321 78.5 317.1 80.8z" class="qd"/>
<path d="M142.3 107.6 146.2 105.6 149.3 105.2 145.4 107.2z" class="qt"/>
<path d="M276.8 92.4 280.7 92.3 283.8 92.3 280 92.3z" class="fr"/>
<path d="M250.6 90.2 254.4 90.8 257.6 90.8 253.7 90.2z" class="qu"/>
<path d="M224.3 88.1 228.1 88.3 231.3 88.2 227.4 88.0z" class="fr"/>
<path d="M179.4 93.5 183.3 92.3 186.4 92.0 182.6 93.2z" class="qv"/>
<path d="M105.2 119.2 109 118.2 112.2 117.7 108.3 118.7z" class="fr"/>
<path d="M160.9 99.7 164.7 97.9 167.9 97.6 164 99.4z" class="qw"/>
<path d="M332.5 71.7 336.4 69.5 339.5 70.2 335.7 72.4z" class="qx"/>
<path d="M86.6 123.9 90.5 122.9 93.6 122.3 89.7 123.4z" class="fr"/>
<path d="M201.9 88.6 205.7 88.2 208.9 88.1 205 88.4z" class="fr"/>
<path d="M351.1 63.6 354.9 61.6 358.1 62.8 354.2 64.7z" class="qy"/>
<path d="M254.4 90.8 258.3 91.4 261.4 91.4 257.6 90.8z" class="qz"/>
<path d="M299.3 87.4 303.1 84.8 306.2 85.0 302.4 87.4z" class="pk"/>
<path d="M280.7 92.3 284.5 92.3 287.7 92.2 283.8 92.3z" class="fr"/>
<path d="M228.1 88.3 232 88.5 235.1 88.5 231.3 88.2z" class="fr"/>
<path d="M127.6 113.1 131.5 111.6 134.6 111.2 130.7 112.6z" class="ra"/>
<path d="M183.3 92.3 187.1 91.2 190.3 90.9 186.4 92.0z" class="rb"/>
<path d="M146.2 105.6 150 103.8 153.2 103.4 149.3 105.2z" class="rc"/>
<path d="M109 118.2 112.9 117.1 116 116.7 112.2 117.7z" class="fr"/>
<path d="M317.8 78.1 321.7 75.8 324.8 76.2 321 78.5z" class="rd"/>
<path d="M164.7 97.9 168.6 96.4 171.7 96.1 167.9 97.6z" class="re"/>
<path d="M258.3 91.4 262.1 91.9 265.3 91.9 261.4 91.4z" class="fr"/>
<path d="M205.7 88.2 209.6 88.1 212.7 87.9 208.9 88.1z" class="fr"/>
<path d="M90.5 122.9 94.3 121.8 97.5 121.3 93.6 122.3z" class="fr"/>
<path d="M232 88.5 235.8 88.8 239 88.8 235.1 88.5z" class="fr"/>
<path d="M336.4 69.5 340.2 67.2 343.4 68.0 339.5 70.2z" class="rf"/>
<path d="M284.5 92.3 288.4 92.0 291.5 91.9 287.7 92.2z" class="fr"/>
<path d="M354.9 61.6 358.8 59.7 361.9 60.9 358.1 62.8z" class="qm"/>
<path d="M71.9 127.4 75.8 126.4 78.9 125.9 75 126.8z" class="fr"/>
<path d="M303.1 84.8 307 82.4 310.1 82.7 306.2 85.0z" class="qn"/>
<path d="M131.5 111.6 135.3 109.9 138.4 109.5 134.6 111.2z" class="rg"/>
<path d="M262.1 91.9 266 92.3 269.1 92.3 265.3 91.9z" class="fr"/>
<path d="M187.1 91.2 191 90.2 194.1 90.0 190.3 90.9z" class="qb"/>
<path d="M112.9 117.1 116.7 116.0 119.9 115.6 116 116.7z" class="fr"/>
<path d="M209.6 88.1 213.4 88.0 216.6 87.9 212.7 87.9z" class="fr"/>
<path d="M150 103.8 153.9 102.0 157 101.6 153.2 103.4z" class="rh"/>
<path d="M235.8 88.8 239.7 89.1 242.8 89.1 239 88.8z" class="fr"/>
<path d="M168.6 96.4 172.4 95.0 175.6 94.8 171.7 96.1z" class="kr"/>
<path d="M321.7 75.8 325.5 73.4 328.7 74.0 324.8 76.2z" class="ri"/>
<path d="M94.3 121.8 98.2 120.7 101.3 120.2 97.5 121.3z" class="fr"/>
<path d="M288.4 92.0 292.3 90.1 295.4 90.1 291.5 91.9z" class="rj"/>
<path d="M266 92.3 269.8 92.5 273 92.4 269.1 92.3z" class="fr"/>
<path d="M340.2 67.2 344.1 64.9 347.2 65.8 343.4 68.0z" class="rk"/>
<path d="M75.8 126.4 79.6 125.4 82.8 124.9 78.9 125.9z" class="fr"/>
<path d="M358.8 59.7 362.7 58.0 365.8 59.3 361.9 60.9z" class="rl"/>
<path d="M213.4 88.0 217.3 88.1 220.4 88.0 216.6 87.9z" class="fr"/>
<path d="M239.7 89.1 243.6 89.6 246.7 89.6 242.8 89.1z" class="qu"/>
<path d="M191 90.2 194.9 89.4 198 89.2 194.1 90.0z" class="rm"/>
<path d="M116.7 116.0 120.6 114.8 123.7 114.4 119.9 115.6z" class="pt"/>
<path d="M135.3 109.9 139.2 108.0 142.3 107.6 138.4 109.5z" class="rn"/>
<path d="M307 82.4 310.8 80.1 314 80.4 310.1 82.7z" class="ro"/>
<path d="M153.9 102.0 157.7 100.0 160.9 99.7 157 101.6z" class="rp"/>
<path d="M172.4 95.0 176.3 93.8 179.4 93.5 175.6 94.8z" class="os"/>
<path d="M98.2 120.7 102 119.7 105.2 119.2 101.3 120.2z" class="fr"/>
<path d="M269.8 92.5 273.7 92.5 276.8 92.4 273 92.4z" class="fr"/>
<path d="M325.5 73.4 329.4 71.1 332.5 71.7 328.7 74.0z" class="rq"/>
<path d="M243.6 89.6 247.4 90.2 250.6 90.2 246.7 89.6z" class="qb"/>
<path d="M217.3 88.1 221.1 88.2 224.3 88.1 220.4 88.0z" class="fr"/>
<path d="M79.6 125.4 83.5 124.4 86.6 123.9 82.8 124.9z" class="fr"/>
<path d="M292.3 90.1 296.1 87.3 299.3 87.4 295.4 90.1z" class="om"/>
<path d="M194.9 89.4 198.7 88.8 201.9 88.6 198 89.2z" class="fr"/>
<path d="M344.1 64.9 348 62.7 351.1 63.6 347.2 65.8z" class="rr"/>
<path d="M120.6 114.8 124.5 113.5 127.6 113.1 123.7 114.4z" class="gl"/>
<path d="M139.2 108.0 143 106.0 146.2 105.6 142.3 107.6z" class="rn"/>
<path d="M273.7 92.5 277.5 92.4 280.7 92.3 276.8 92.4z" class="fr"/>
<path d="M247.4 90.2 251.3 90.8 254.4 90.8 250.6 90.2z" class="rs"/>
<path d="M310.8 80.1 314.7 77.8 317.8 78.1 314 80.4z" class="rt"/>
<path d="M102 119.7 105.9 118.6 109 118.2 105.2 119.2z" class="fr"/>
<path d="M176.3 93.8 180.2 92.6 183.3 92.3 179.4 93.5z" class="ru"/>
<path d="M221.1 88.2 225 88.4 228.1 88.3 224.3 88.1z" class="fr"/>
<path d="M157.7 100.0 161.6 98.3 164.7 97.9 160.9 99.7z" class="le"/>
<path d="M83.5 124.4 87.3 123.4 90.5 122.9 86.6 123.9z" class="fr"/>
<path d="M198.7 88.8 202.6 88.4 205.7 88.2 201.9 88.6z" class="fr"/>
<path d="M329.4 71.1 333.2 68.8 336.4 69.5 332.5 71.7z" class="rv"/>
<path d="M251.3 90.8 255.1 91.5 258.3 91.4 254.4 90.8z" class="rw"/>
<path d="M296.1 87.3 300 84.7 303.1 84.8 299.3 87.4z" class="qg"/>
<path d="M277.5 92.4 281.4 92.4 284.5 92.3 280.7 92.3z" class="fr"/>
<path d="M124.5 113.5 128.3 112.0 131.5 111.6 127.6 113.1z" class="rx"/>
<path d="M348 62.7 351.8 60.6 354.9 61.6 351.1 63.6z" class="ry"/>
<path d="M225 88.4 228.8 88.6 232 88.5 228.1 88.3z" class="fr"/>
<path d="M105.9 118.6 109.7 117.6 112.9 117.1 109 118.2z" class="fr"/>
<path d="M143 106.0 146.9 104.2 150 103.8 146.2 105.6z" class="rz"/>
<path d="M180.2 92.6 184 91.4 187.1 91.2 183.3 92.3z" class="sa"/>
<path d="M161.6 98.3 165.4 96.8 168.6 96.4 164.7 97.9z" class="mq"/>
<path d="M314.7 77.8 318.5 75.4 321.7 75.8 317.8 78.1z" class="sb"/>
<path d="M202.6 88.4 206.4 88.2 209.6 88.1 205.7 88.2z" class="fr"/>
<path d="M255.1 91.5 259 92.0 262.1 91.9 258.3 91.4z" class="sc"/>
<path d="M87.3 123.4 91.2 122.3 94.3 121.8 90.5 122.9z" class="fr"/>
<path d="M228.8 88.6 232.7 88.9 235.8 88.8 232 88.5z" class="fr"/>
<path d="M281.4 92.4 285.3 92.1 288.4 92.0 284.5 92.3z" class="fr"/>
<path d="M333.2 68.8 337.1 66.5 340.2 67.2 336.4 69.5z" class="sd"/>
<path d="M68.8 127.9 72.6 126.9 75.8 126.4 71.9 127.4z" class="fr"/>
<path d="M128.3 112.0 132.2 110.3 135.3 109.9 131.5 111.6z" class="ra"/>
<path d="M351.8 60.6 355.7 58.6 358.8 59.7 354.9 61.6z" class="rl"/>
<path d="M300 84.7 303.8 82.3 307 82.4 303.1 84.8z" class="qn"/>
<path d="M109.7 117.6 113.6 116.5 116.7 116.0 112.9 117.1z" class="fr"/>
<path d="M259 92.0 262.8 92.4 266 92.3 262.1 91.9z" class="fr"/>
<path d="M184 91.4 187.9 90.5 191 90.2 187.1 91.2z" class="qu"/>
<path d="M206.4 88.2 210.3 88.2 213.4 88.0 209.6 88.1z" class="fr"/>
<path d="M146.9 104.2 150.7 102.3 153.9 102.0 150 103.8z" class="rz"/>
<path d="M232.7 88.9 236.6 89.2 239.7 89.1 235.8 88.8z" class="fr"/>
<path d="M165.4 96.8 169.3 95.4 172.4 95.0 168.6 96.4z" class="ru"/>
<path d="M91.2 122.3 95 121.2 98.2 120.7 94.3 121.8z" class="fr"/>
<path d="M285.3 92.1 289.1 90.2 292.3 90.1 288.4 92.0z" class="se"/>
<path d="M318.5 75.4 322.4 73.0 325.5 73.4 321.7 75.8z" class="sf"/>
<path d="M72.6 126.9 76.5 126.0 79.6 125.4 75.8 126.4z" class="fr"/>
<path d="M262.8 92.4 266.7 92.6 269.8 92.5 266 92.3z" class="fr"/>
<path d="M210.3 88.2 214.1 88.2 217.3 88.1 213.4 88.0z" class="fr"/>
<path d="M337.1 66.5 341 64.1 344.1 64.9 340.2 67.2z" class="sg"/>
<path d="M187.9 90.5 191.7 89.6 194.9 89.4 191 90.2z" class="hr"/>
<path d="M236.6 89.2 240.4 89.7 243.6 89.6 239.7 89.1z" class="rm"/>
<path d="M113.6 116.5 117.5 115.3 120.6 114.8 116.7 116.0z" class="iw"/>
<path d="M132.2 110.3 136 108.4 139.2 108.0 135.3 109.9z" class="sh"/>
<path d="M355.7 58.6 359.5 56.9 362.7 58.0 358.8 59.7z" class="si"/>
<path d="M303.8 82.3 307.7 79.9 310.8 80.1 307 82.4z" class="sj"/>
<path d="M150.7 102.3 154.6 100.4 157.7 100.0 153.9 102.0z" class="sk"/>
<path d="M95 121.2 98.9 120.2 102 119.7 98.2 120.7z" class="fr"/>
<path d="M169.3 95.4 173.2 94.1 176.3 93.8 172.4 95.0z" class="qi"/>
<path d="M266.7 92.6 270.6 92.6 273.7 92.5 269.8 92.5z" class="fr"/>
<path d="M76.5 126.0 80.3 125.0 83.5 124.4 79.6 125.4z" class="fr"/>
<path d="M214.1 88.2 218 88.3 221.1 88.2 217.3 88.1z" class="fr"/>
<path d="M240.4 89.7 244.3 90.2 247.4 90.2 243.6 89.6z" class="sc"/>
<path d="M322.4 73.0 326.2 70.6 329.4 71.1 325.5 73.4z" class="sl"/>
<path d="M289.1 90.2 293 87.3 296.1 87.3 292.3 90.1z" class="sm"/>
<path d="M191.7 89.6 195.6 89.0 198.7 88.8 194.9 89.4z" class="fr"/>
<path d="M117.5 115.3 121.3 114.0 124.5 113.5 120.6 114.8z" class="pt"/>
<path d="M341 64.1 344.8 61.8 348 62.7 344.1 64.9z" class="qm"/>
<path d="M136 108.4 139.9 106.4 143 106.0 139.2 108.0z" class="sh"/>
<path d="M270.6 92.6 274.4 92.6 277.5 92.4 273.7 92.5z" class="fr"/>
<path d="M98.9 120.2 102.8 119.1 105.9 118.6 102 119.7z" class="fr"/>
<path d="M244.3 90.2 248.1 90.8 251.3 90.8 247.4 90.2z" class="qu"/>
<path d="M173.2 94.1 177 92.9 180.2 92.6 176.3 93.8z" class="oc"/>
<path d="M218 88.3 221.9 88.5 225 88.4 221.1 88.2z" class="fr"/>
<path d="M307.7 79.9 311.5 77.5 314.7 77.8 310.8 80.1z" class="rd"/>
<path d="M154.6 100.4 158.4 98.6 161.6 98.3 157.7 100.0z" class="sn"/>
<path d="M80.3 125.0 84.2 123.9 87.3 123.4 83.5 124.4z" class="fr"/>
<path d="M195.6 89.0 199.4 88.6 202.6 88.4 198.7 88.8z" class="fr"/>
<path d="M326.2 70.6 330.1 68.3 333.2 68.8 329.4 71.1z" class="so"/>
<path d="M248.1 90.8 252 91.5 255.1 91.5 251.3 90.8z" class="qz"/>
<path d="M121.3 114.0 125.2 112.5 128.3 112.0 124.5 113.5z" class="gl"/>
<path d="M274.4 92.6 278.3 92.6 281.4 92.4 277.5 92.4z" class="fr"/>
<path d="M293 87.3 296.8 84.7 300 84.7 296.1 87.3z" class="sp"/>
<path d="M221.9 88.5 225.7 88.7 228.8 88.6 225 88.4z" class="fr"/>
<path d="M102.8 119.1 106.6 118.1 109.7 117.6 105.9 118.6z" class="fr"/>
<path d="M139.9 106.4 143.7 104.5 146.9 104.2 143 106.0z" class="sq"/>
<path d="M344.8 61.8 348.7 59.7 351.8 60.6 348 62.7z" class="rl"/>
<path d="M177 92.9 180.9 91.7 184 91.4 180.2 92.6z" class="qb"/>
<path d="M158.4 98.6 162.3 97.1 165.4 96.8 161.6 98.3z" class="qi"/>
<path d="M84.2 123.9 88 122.8 91.2 122.3 87.3 123.4z" class="fr"/>
<path d="M199.4 88.6 203.3 88.4 206.4 88.2 202.6 88.4z" class="fr"/>
<path d="M252 91.5 255.8 92.0 259 92.0 255.1 91.5z" class="fr"/>
<path d="M311.5 77.5 315.4 75.1 318.5 75.4 314.7 77.8z" class="qq"/>
<path d="M278.3 92.6 282.1 92.3 285.3 92.1 281.4 92.4z" class="fr"/>
<path d="M225.7 88.7 229.6 88.9 232.7 88.9 228.8 88.6z" class="fr"/>
<path d="M125.2 112.5 129 110.8 132.2 110.3 128.3 112.0z" class="qs"/>
<path d="M330.1 68.3 334 65.9 337.1 66.5 333.2 68.8z" class="qr"/>
<path d="M106.6 118.1 110.5 117.0 113.6 116.5 109.7 117.6z" class="fr"/>
<path d="M180.9 91.7 184.7 90.7 187.9 90.5 184 91.4z" class="sc"/>
<path d="M296.8 84.7 300.7 82.2 303.8 82.3 300 84.7z" class="ro"/>
<path d="M255.8 92.0 259.7 92.4 262.8 92.4 259 92.0z" class="fr"/>
<path d="M203.3 88.4 207.1 88.4 210.3 88.2 206.4 88.2z" class="fr"/>
<path d="M143.7 104.5 147.6 102.7 150.7 102.3 146.9 104.2z" class="sr"/>
<path d="M348.7 59.7 352.5 57.7 355.7 58.6 351.8 60.6z" class="si"/>
<path d="M162.3 97.1 166.2 95.7 169.3 95.4 165.4 96.8z" class="oc"/>
<path d="M88 122.8 91.9 121.7 95 121.2 91.2 122.3z" class="fr"/>
<path d="M229.6 88.9 233.4 89.2 236.6 89.2 232.7 88.9z" class="fr"/>
<path d="M282.1 92.3 286 90.4 289.1 90.2 285.3 92.1z" class="ss"/>
<path d="M315.4 75.1 319.2 72.6 322.4 73.0 318.5 75.4z" class="qx"/>
<path d="M259.7 92.4 263.6 92.6 266.7 92.6 262.8 92.4z" class="fr"/>
<path d="M207.1 88.4 211 88.4 214.1 88.2 210.3 88.2z" class="fr"/>
<path d="M110.5 117.0 114.3 115.8 117.5 115.3 113.6 116.5z" class="hr"/>
<path d="M129 110.8 132.9 108.8 136 108.4 132.2 110.3z" class="rx"/>
<path d="M184.7 90.7 188.6 89.9 191.7 89.6 187.9 90.5z" class="fr"/>
<path d="M233.4 89.2 237.3 89.6 240.4 89.7 236.6 89.2z" class="fr"/>
<path d="M334 65.9 337.8 63.5 341 64.1 337.1 66.5z" class="st"/>
<path d="M91.9 121.7 95.8 120.7 98.9 120.2 95 121.2z" class="fr"/>
<path d="M147.6 102.7 151.4 100.7 154.6 100.4 150.7 102.3z" class="su"/>
<path d="M300.7 82.2 304.5 79.8 307.7 79.9 303.8 82.3z" class="sv"/>
<path d="M166.2 95.7 170 94.4 173.2 94.1 169.3 95.4z" class="lg"/>
<path d="M352.5 57.7 356.4 55.9 359.5 56.9 355.7 58.6z" class="sw"/>
<path d="M263.6 92.6 267.4 92.7 270.6 92.6 266.7 92.6z" class="fr"/>
<path d="M211 88.4 214.9 88.5 218 88.3 214.1 88.2z" class="fr"/>
<path d="M237.3 89.6 241.1 90.2 244.3 90.2 240.4 89.7z" class="fr"/>
<path d="M286 90.4 289.8 87.4 293 87.3 289.1 90.2z" class="sx"/>
<path d="M319.2 72.6 323.1 70.2 326.2 70.6 322.4 73.0z" class="sy"/>
<path d="M188.6 89.9 192.4 89.2 195.6 89.0 191.7 89.6z" class="fr"/>
<path d="M114.3 115.8 118.2 114.4 121.3 114.0 117.5 115.3z" class="sz"/>
<path d="M132.9 108.8 136.7 106.8 139.9 106.4 136 108.4z" class="rx"/>
<path d="M95.8 120.7 99.6 119.6 102.8 119.1 98.9 120.2z" class="fr"/>
<path d="M267.4 92.7 271.3 92.7 274.4 92.6 270.6 92.6z" class="fr"/>
<path d="M337.8 63.5 341.7 61.1 344.8 61.8 341 64.1z" class="ta"/>
<path d="M170 94.4 173.9 93.2 177 92.9 173.2 94.1z" class="qb"/>
<path d="M241.1 90.2 245 90.8 248.1 90.8 244.3 90.2z" class="hr"/>
<path d="M151.4 100.7 155.3 98.9 158.4 98.6 154.6 100.4z" class="sr"/>
<path d="M214.9 88.5 218.7 88.6 221.9 88.5 218 88.3z" class="fr"/>
<path d="M304.5 79.8 308.4 77.4 311.5 77.5 307.7 79.9z" class="tb"/>
<path d="M192.4 89.2 196.3 88.8 199.4 88.6 195.6 89.0z" class="fr"/>
<path d="M118.2 114.4 122 112.9 125.2 112.5 121.3 114.0z" class="pt"/>
<path d="M245 90.8 248.8 91.4 252 91.5 248.1 90.8z" class="tc"/>
<path d="M323.1 70.2 327 67.8 330.1 68.3 326.2 70.6z" class="td"/>
<path d="M271.3 92.7 275.1 92.7 278.3 92.6 274.4 92.6z" class="fr"/>
<path d="M289.8 87.4 293.7 84.8 296.8 84.7 293 87.3z" class="te"/>
<path d="M218.7 88.6 222.6 88.7 225.7 88.7 221.9 88.5z" class="fr"/>
<path d="M99.6 119.6 103.5 118.6 106.6 118.1 102.8 119.1z" class="fr"/>
<path d="M136.7 106.8 140.6 104.9 143.7 104.5 139.9 106.4z" class="rx"/>
<path d="M173.9 93.2 177.7 92.0 180.9 91.7 177 92.9z" class="tf"/>
<path d="M155.3 98.9 159.2 97.4 162.3 97.1 158.4 98.6z" class="lb"/>
<path d="M341.7 61.1 345.5 58.9 348.7 59.7 344.8 61.8z" class="tg"/>
<path d="M196.3 88.8 200.1 88.6 203.3 88.4 199.4 88.6z" class="fr"/>
<path d="M248.8 91.4 252.7 91.9 255.8 92.0 252 91.5z" class="fr"/>
<path d="M308.4 77.4 312.3 74.9 315.4 75.1 311.5 77.5z" class="th"/>
<path d="M275.1 92.7 279 92.4 282.1 92.3 278.3 92.6z" class="fr"/>
<path d="M222.6 88.7 226.4 88.9 229.6 88.9 225.7 88.7z" class="fr"/>
<path d="M122 112.9 125.9 111.2 129 110.8 125.2 112.5z" class="ti"/>
<path d="M103.5 118.6 107.3 117.5 110.5 117.0 106.6 118.1z" class="fr"/>
<path d="M327 67.8 330.8 65.4 334 65.9 330.1 68.3z" class="tj"/>
<path d="M177.7 92.0 181.6 91.0 184.7 90.7 180.9 91.7z" class="tk"/>
<path d="M293.7 84.8 297.5 82.2 300.7 82.2 296.8 84.7z" class="tl"/>
<path d="M252.7 91.9 256.6 92.4 259.7 92.4 255.8 92.0z" class="fr"/>
<path d="M140.6 104.9 144.5 103.1 147.6 102.7 143.7 104.5z" class="tm"/>
<path d="M200.1 88.6 204 88.5 207.1 88.4 203.3 88.4z" class="fr"/>
<path d="M159.2 97.4 163 96.0 166.2 95.7 162.3 97.1z" class="li"/>
<path d="M226.4 88.9 230.3 89.1 233.4 89.2 229.6 88.9z" class="fr"/>
<path d="M345.5 58.9 349.4 56.8 352.5 57.7 348.7 59.7z" class="sw"/>
<path d="M279 92.4 282.8 90.5 286 90.4 282.1 92.3z" class="tn"/>
<path d="M312.3 74.9 316.1 72.4 319.2 72.6 315.4 75.1z" class="to"/>
<path d="M256.6 92.4 260.4 92.6 263.6 92.6 259.7 92.4z" class="fr"/>
<path d="M107.3 117.5 111.2 116.2 114.3 115.8 110.5 117.0z" class="hr"/>
<path d="M204 88.5 207.9 88.5 211 88.4 207.1 88.4z" class="fr"/>
<path d="M125.9 111.2 129.7 109.2 132.9 108.8 129 110.8z" class="tp"/>
<path d="M181.6 91.0 185.4 90.2 188.6 89.9 184.7 90.7z" class="hr"/>
<path d="M230.3 89.1 234.1 89.5 237.3 89.6 233.4 89.2z" class="fr"/>
<path d="M330.8 65.4 334.7 62.9 337.8 63.5 334 65.9z" class="ry"/>
<path d="M144.5 103.1 148.3 101.1 151.4 100.7 147.6 102.7z" class="tq"/>
<path d="M163 96.0 166.9 94.7 170 94.4 166.2 95.7z" class="tf"/>
<path d="M297.5 82.2 301.4 79.8 304.5 79.8 300.7 82.2z" class="tr"/>
<path d="M349.4 56.8 353.2 55.0 356.4 55.9 352.5 57.7z" class="ts"/>
<path d="M260.4 92.6 264.3 92.7 267.4 92.7 263.6 92.6z" class="fr"/>
<path d="M207.9 88.5 211.7 88.6 214.9 88.5 211 88.4z" class="fr"/>
<path d="M234.1 89.5 238 90.0 241.1 90.2 237.3 89.6z" class="fr"/>
<path d="M282.8 90.5 286.7 87.5 289.8 87.4 286 90.4z" class="sx"/>
<path d="M185.4 90.2 189.3 89.5 192.4 89.2 188.6 89.9z" class="fr"/>
<path d="M111.2 116.2 115 114.9 118.2 114.4 114.3 115.8z" class="iw"/>
<path d="M316.1 72.4 320 70.0 323.1 70.2 319.2 72.6z" class="tt"/>
<path d="M129.7 109.2 133.6 107.2 136.7 106.8 132.9 108.8z" class="tp"/>
<path d="M166.9 94.7 170.7 93.4 173.9 93.2 170 94.4z" class="qu"/>
<path d="M264.3 92.7 268.1 92.7 271.3 92.7 267.4 92.7z" class="fr"/>
<path d="M148.3 101.1 152.2 99.3 155.3 98.9 151.4 100.7z" class="tu"/>
<path d="M238 90.0 241.8 90.6 245 90.8 241.1 90.2z" class="fr"/>
<path d="M211.7 88.6 215.6 88.6 218.7 88.6 214.9 88.5z" class="fr"/>
<path d="M334.7 62.9 338.5 60.5 341.7 61.1 337.8 63.5z" class="tv"/>
<path d="M301.4 79.8 305.3 77.3 308.4 77.4 304.5 79.8z" class="tw"/>
<path d="M189.3 89.5 193.2 89.1 196.3 88.8 192.4 89.2z" class="fr"/>
<path d="M115 114.9 118.9 113.4 122 112.9 118.2 114.4z" class="sz"/>
<path d="M241.8 90.6 245.7 91.3 248.8 91.4 245 90.8z" class="fr"/>
<path d="M268.1 92.7 272 92.8 275.1 92.7 271.3 92.7z" class="fr"/>
<path d="M286.7 87.5 290.5 84.8 293.7 84.8 289.8 87.4z" class="tx"/>
<path d="M320 70.0 323.8 67.5 327 67.8 323.1 70.2z" class="ty"/>
<path d="M215.6 88.6 219.4 88.7 222.6 88.7 218.7 88.6z" class="fr"/>
<path d="M133.6 107.2 137.5 105.3 140.6 104.9 136.7 106.8z" class="tp"/>
<path d="M170.7 93.4 174.6 92.3 177.7 92.0 173.9 93.2z" class="qu"/>
<path d="M152.2 99.3 156 97.8 159.2 97.4 155.3 98.9z" class="oz"/>
<path d="M193.2 89.1 197 88.8 200.1 88.6 196.3 88.8z" class="fr"/>
<path d="M338.5 60.5 342.4 58.2 345.5 58.9 341.7 61.1z" class="sw"/>
<path d="M245.7 91.3 249.6 91.8 252.7 91.9 248.8 91.4z" class="fr"/>
<path d="M305.3 77.3 309.1 74.8 312.3 74.9 308.4 77.4z" class="tz"/>
<path d="M272 92.8 275.8 92.6 279 92.4 275.1 92.7z" class="fr"/>
<path d="M219.4 88.7 223.3 88.9 226.4 88.9 222.6 88.7z" class="fr"/>
<path d="M118.9 113.4 122.7 111.6 125.9 111.2 122 112.9z" class="pt"/>
<path d="M174.6 92.3 178.4 91.3 181.6 91.0 177.7 92.0z" class="ua"/>
<path d="M137.5 105.3 141.3 103.5 144.5 103.1 140.6 104.9z" class="tp"/>
<path d="M290.5 84.8 294.4 82.3 297.5 82.2 293.7 84.8z" class="ub"/>
<path d="M197 88.8 200.9 88.7 204 88.5 200.1 88.6z" class="fr"/>
<path d="M323.8 67.5 327.7 65.0 330.8 65.4 327 67.8z" class="uc"/>
<path d="M249.6 91.8 253.4 92.2 256.6 92.4 252.7 91.9z" class="fr"/>
<path d="M156 97.8 159.9 96.3 163 96.0 159.2 97.4z" class="oz"/>
<path d="M223.3 88.9 227.1 89.0 230.3 89.1 226.4 88.9z" class="fr"/>
<path d="M275.8 92.6 279.7 90.6 282.8 90.5 279 92.4z" class="ud"/>
<path d="M342.4 58.2 346.2 56.1 349.4 56.8 345.5 58.9z" class="ts"/>
<path d="M309.1 74.8 313 72.3 316.1 72.4 312.3 74.9z" class="ue"/>
<path d="M253.4 92.2 257.3 92.5 260.4 92.6 256.6 92.4z" class="fr"/>
<path d="M122.7 111.6 126.6 109.6 129.7 109.2 125.9 111.2z" class="ti"/>
<path d="M200.9 88.7 204.7 88.7 207.9 88.5 204 88.5z" class="fr"/>
<path d="M178.4 91.3 182.3 90.4 185.4 90.2 181.6 91.0z" class="hr"/>
<path d="M227.1 89.0 231 89.4 234.1 89.5 230.3 89.1z" class="fr"/>
<path d="M141.3 103.5 145.2 101.5 148.3 101.1 144.5 103.1z" class="uf"/>
<path d="M159.9 96.3 163.7 95.0 166.9 94.7 163 96.0z" class="sc"/>
<path d="M294.4 82.3 298.3 79.8 301.4 79.8 297.5 82.2z" class="ug"/>
<path d="M327.7 65.0 331.5 62.5 334.7 62.9 330.8 65.4z" class="uh"/>
<path d="M257.3 92.5 261.1 92.6 264.3 92.7 260.4 92.6z" class="fr"/>
<path d="M204.7 88.7 208.6 88.6 211.7 88.6 207.9 88.5z" class="fr"/>
<path d="M346.2 56.1 350.1 54.3 353.2 55.0 349.4 56.8z" class="ui"/>
<path d="M231 89.4 234.9 89.8 238 90.0 234.1 89.5z" class="fr"/>
<path d="M279.7 90.6 283.6 87.7 286.7 87.5 282.8 90.5z" class="uj"/>
<path d="M182.3 90.4 186.2 89.7 189.3 89.5 185.4 90.2z" class="fr"/>
<path d="M313 72.3 316.8 69.8 320 70.0 316.1 72.4z" class="uk"/>
<path d="M126.6 109.6 130.5 107.6 133.6 107.2 129.7 109.2z" class="ti"/>
<path d="M163.7 95.0 167.6 93.8 170.7 93.4 166.9 94.7z" class="tk"/>
<path d="M145.2 101.5 149 99.7 152.2 99.3 148.3 101.1z" class="lf"/>
<path d="M261.1 92.6 265 92.6 268.1 92.7 264.3 92.7z" class="fr"/>
<path d="M208.6 88.6 212.4 88.6 215.6 88.6 211.7 88.6z" class="fr"/>
<path d="M234.9 89.8 238.7 90.4 241.8 90.6 238 90.0z" class="fr"/>
<path d="M298.3 79.8 302.1 77.4 305.3 77.3 301.4 79.8z" class="ul"/>
<path d="M331.5 62.5 335.4 60.0 338.5 60.5 334.7 62.9z" class="um"/>
<path d="M186.2 89.7 190 89.3 193.2 89.1 189.3 89.5z" class="fr"/>
<path d="M265 92.6 268.8 92.8 272 92.8 268.1 92.7z" class="fr"/>
<path d="M283.6 87.7 287.4 84.9 290.5 84.8 286.7 87.5z" class="un"/>
<path d="M238.7 90.4 242.6 91.0 245.7 91.3 241.8 90.6z" class="fr"/>
<path d="M130.5 107.6 134.3 105.7 137.5 105.3 133.6 107.2z" class="ti"/>
<path d="M212.4 88.6 216.3 88.7 219.4 88.7 215.6 88.6z" class="fr"/>
<path d="M316.8 69.8 320.7 67.3 323.8 67.5 320 70.0z" class="uo"/>
<path d="M167.6 93.8 171.4 92.6 174.6 92.3 170.7 93.4z" class="tc"/>
<path d="M149 99.7 152.9 98.1 156 97.8 152.2 99.3z" class="lf"/>
<path d="M190 89.3 193.9 89.0 197 88.8 193.2 89.1z" class="fr"/>
<path d="M242.6 91.0 246.4 91.5 249.6 91.8 245.7 91.3z" class="fr"/>
<path d="M335.4 60.0 339.2 57.7 342.4 58.2 338.5 60.5z" class="up"/>
<path d="M302.1 77.4 306 74.8 309.1 74.8 305.3 77.3z" class="uq"/>
<path d="M268.8 92.8 272.7 92.6 275.8 92.6 272 92.8z" class="fr"/>
<path d="M216.3 88.7 220.1 88.8 223.3 88.9 219.4 88.7z" class="fr"/>
<path d="M171.4 92.6 175.3 91.6 178.4 91.3 174.6 92.3z" class="sz"/>
<path d="M134.3 105.7 138.2 103.9 141.3 103.5 137.5 105.3z" class="ti"/>
<path d="M193.9 89.0 197.7 88.8 200.9 88.7 197 88.8z" class="fr"/>
<path d="M287.4 84.9 291.3 82.4 294.4 82.3 290.5 84.8z" class="ur"/>
<path d="M152.9 98.1 156.7 96.7 159.9 96.3 156 97.8z" class="ua"/>
<path d="M320.7 67.3 324.5 64.8 327.7 65.0 323.8 67.5z" class="us"/>
<path d="M246.4 91.5 250.3 92.0 253.4 92.2 249.6 91.8z" class="fr"/>
<path d="M220.1 88.8 224 88.8 227.1 89.0 223.3 88.9z" class="fr"/>
<path d="M272.7 92.6 276.6 90.7 279.7 90.6 275.8 92.6z" class="ut"/>
<path d="M339.2 57.7 343.1 55.6 346.2 56.1 342.4 58.2z" class="ts"/>
<path d="M306 74.8 309.8 72.3 313 72.3 309.1 74.8z" class="uu"/>
<path d="M197.7 88.8 201.6 88.7 204.7 88.7 200.9 88.7z" class="fr"/>
<path d="M250.3 92.0 254.1 92.2 257.3 92.5 253.4 92.2z" class="fr"/>
<path d="M175.3 91.6 179.2 90.7 182.3 90.4 178.4 91.3z" class="fr"/>
<path d="M138.2 103.9 142 101.9 145.2 101.5 141.3 103.5z" class="lf"/>
<path d="M224 88.8 227.9 89.1 231 89.4 227.1 89.0z" class="fr"/>
<path d="M156.7 96.7 160.6 95.4 163.7 95.0 159.9 96.3z" class="lp"/>
<path d="M291.3 82.4 295.1 79.9 298.3 79.8 294.4 82.3z" class="uv"/>
<path d="M324.5 64.8 328.4 62.3 331.5 62.5 327.7 65.0z" class="uw"/>
<path d="M254.1 92.2 258 92.4 261.1 92.6 257.3 92.5z" class="fr"/>
<path d="M201.6 88.7 205.4 88.7 208.6 88.6 204.7 88.7z" class="fr"/>
<path d="M276.6 90.7 280.4 87.7 283.6 87.7 279.7 90.6z" class="ux"/>
<path d="M179.2 90.7 183 90.0 186.2 89.7 182.3 90.4z" class="fr"/>
<path d="M343.1 55.6 347 53.7 350.1 54.3 346.2 56.1z" class="uy"/>
<path d="M227.9 89.1 231.7 89.5 234.9 89.8 231 89.4z" class="fr"/>
<path d="M309.8 72.3 313.7 69.8 316.8 69.8 313 72.3z" class="uz"/>
<path d="M160.6 95.4 164.4 94.1 167.6 93.8 163.7 95.0z" class="lp"/>
<path d="M142 101.9 145.9 100.1 149 99.7 145.2 101.5z" class="ua"/>
<path d="M258 92.4 261.8 92.5 265 92.6 261.1 92.6z" class="fr"/>
<path d="M205.4 88.7 209.3 88.6 212.4 88.6 208.6 88.6z" class="fr"/>
<path d="M231.7 89.5 235.6 90.0 238.7 90.4 234.9 89.8z" class="fr"/>
<path d="M295.1 79.9 299 77.4 302.1 77.4 298.3 79.8z" class="va"/>
<path d="M328.4 62.3 332.3 59.7 335.4 60.0 331.5 62.5z" class="vb"/>
<path d="M183 90.0 186.9 89.5 190 89.3 186.2 89.7z" class="fr"/>
<path d="M280.4 87.7 284.3 85.0 287.4 84.9 283.6 87.7z" class="vc"/>
<path d="M261.8 92.5 265.7 92.7 268.8 92.8 265 92.6z" class="fr"/>
<path d="M235.6 90.0 239.4 90.6 242.6 91.0 238.7 90.4z" class="fr"/>
<path d="M164.4 94.1 168.3 92.9 171.4 92.6 167.6 93.8z" class="rm"/>
<path d="M209.3 88.6 213.1 88.6 216.3 88.7 212.4 88.6z" class="fr"/>
<path d="M313.7 69.8 317.5 67.3 320.7 67.3 316.8 69.8z" class="vd"/>
<path d="M145.9 100.1 149.7 98.5 152.9 98.1 149 99.7z" class="lp"/>
<path d="M186.9 89.5 190.7 89.2 193.9 89.0 190 89.3z" class="fr"/>
<path d="M299 77.4 302.8 74.9 306 74.8 302.1 77.4z" class="ve"/>
<path d="M239.4 90.6 243.3 91.1 246.4 91.5 242.6 91.0z" class="fr"/>
<path d="M332.3 59.7 336.1 57.4 339.2 57.7 335.4 60.0z" class="up"/>
<path d="M265.7 92.7 269.6 92.6 272.7 92.6 268.8 92.8z" class="fr"/>
<path d="M213.1 88.6 217 88.5 220.1 88.8 216.3 88.7z" class="fr"/>
<path d="M168.3 92.9 172.2 91.9 175.3 91.6 171.4 92.6z" class="vf"/>
<path d="M190.7 89.2 194.6 89.0 197.7 88.8 193.9 89.0z" class="fr"/>
<path d="M284.3 85.0 288.1 82.5 291.3 82.4 287.4 84.9z" class="ug"/>
<path d="M149.7 98.5 153.6 97.1 156.7 96.7 152.9 98.1z" class="lp"/>
<path d="M317.5 67.3 321.4 64.7 324.5 64.8 320.7 67.3z" class="vg"/>
<path d="M243.3 91.1 247.1 91.5 250.3 92.0 246.4 91.5z" class="fr"/>
<path d="M217 88.5 220.9 88.5 224 88.8 220.1 88.8z" class="fr"/>
<path d="M269.6 92.6 273.4 90.8 276.6 90.7 272.7 92.6z" class="vh"/>
<path d="M302.8 74.9 306.7 72.3 309.8 72.3 306 74.8z" class="vi"/>
<path d="M336.1 57.4 340 55.2 343.1 55.6 339.2 57.7z" class="uy"/>
<path d="M172.2 91.9 176 91.0 179.2 90.7 175.3 91.6z" class="fr"/>
<path d="M194.6 89.0 198.4 88.8 201.6 88.7 197.7 88.8z" class="fr"/>
<path d="M247.1 91.5 251 91.8 254.1 92.2 250.3 92.0z" class="fr"/>
<path d="M153.6 97.1 157.5 95.7 160.6 95.4 156.7 96.7z" class="rm"/>
<path d="M220.9 88.5 224.7 88.7 227.9 89.1 224 88.8z" class="fr"/>
<path d="M288.1 82.5 292 80.0 295.1 79.9 291.3 82.4z" class="vj"/>
<path d="M321.4 64.7 325.3 62.1 328.4 62.3 324.5 64.8z" class="vk"/>
<path d="M198.4 88.8 202.3 88.7 205.4 88.7 201.6 88.7z" class="fr"/>
<path d="M251 91.8 254.9 92.0 258 92.4 254.1 92.2z" class="fr"/>
<path d="M176 91.0 179.9 90.2 183 90.0 179.2 90.7z" class="fr"/>
<path d="M273.4 90.8 277.3 87.8 280.4 87.7 276.6 90.7z" class="vl"/>
<path d="M224.7 88.7 228.6 89.0 231.7 89.5 227.9 89.1z" class="fr"/>
<path d="M340 55.2 343.8 53.3 347 53.7 343.1 55.6z" class="vm"/>
<path d="M306.7 72.3 310.5 69.8 313.7 69.8 309.8 72.3z" class="vn"/>
<path d="M157.5 95.7 161.3 94.5 164.4 94.1 160.6 95.4z" class="rm"/>
<path d="M254.9 92.0 258.7 92.2 261.8 92.5 258 92.4z" class="fr"/>
<path d="M202.3 88.7 206.2 88.5 209.3 88.6 205.4 88.7z" class="fr"/>
<path d="M292 80.0 295.8 77.5 299 77.4 295.1 79.9z" class="vo"/>
<path d="M228.6 89.0 232.4 89.4 235.6 90.0 231.7 89.5z" class="fr"/>
<path d="M179.9 90.2 183.7 89.7 186.9 89.5 183 90.0z" class="fr"/>
<path d="M325.3 62.1 329.1 59.6 332.3 59.7 328.4 62.3z" class="up"/>
<path d="M277.3 87.8 281.1 85.1 284.3 85.0 280.4 87.7z" class="vp"/>
<path d="M161.3 94.5 165.2 93.3 168.3 92.9 164.4 94.1z" class="sz"/>
<path d="M258.7 92.2 262.6 92.5 265.7 92.7 261.8 92.5z" class="fr"/>
<path d="M206.2 88.5 210 88.4 213.1 88.6 209.3 88.6z" class="fr"/>
<path d="M310.5 69.8 314.4 67.2 317.5 67.3 313.7 69.8z" class="vq"/>
<path d="M232.4 89.4 236.3 89.9 239.4 90.6 235.6 90.0z" class="fr"/>
<path d="M183.7 89.7 187.6 89.4 190.7 89.2 186.9 89.5z" class="fr"/>
<path d="M295.8 77.5 299.7 74.9 302.8 74.9 299 77.4z" class="vr"/>
<path d="M262.6 92.5 266.4 92.5 269.6 92.6 265.7 92.7z" class="fr"/>
<path d="M329.1 59.6 333 57.2 336.1 57.4 332.3 59.7z" class="vs"/>
<path d="M236.3 89.9 240.1 90.4 243.3 91.1 239.4 90.6z" class="fr"/>
<path d="M210 88.4 213.9 88.3 217 88.5 213.1 88.6z" class="fr"/>
<path d="M165.2 93.3 169 92.2 172.2 91.9 168.3 92.9z" class="hr"/>
<path d="M187.6 89.4 191.4 89.1 194.6 89.0 190.7 89.2z" class="fr"/>
<path d="M281.1 85.1 285 82.5 288.1 82.5 284.3 85.0z" class="vt"/>
<path d="M314.4 67.2 318.3 64.6 321.4 64.7 317.5 67.3z" class="vu"/>
<path d="M240.1 90.4 244 90.9 247.1 91.5 243.3 91.1z" class="fr"/>
<path d="M266.4 92.5 270.3 90.7 273.4 90.8 269.6 92.6z" class="vv"/>
<path d="M213.9 88.3 217.7 88.1 220.9 88.5 217 88.5z" class="fr"/>
<path d="M299.7 74.9 303.5 72.4 306.7 72.3 302.8 74.9z" class="vw"/>
<path d="M169 92.2 172.9 91.3 176 91.0 172.2 91.9z" class="fr"/>
<path d="M333 57.2 336.8 55.0 340 55.2 336.1 57.4z" class="uy"/>
<path d="M191.4 89.1 195.3 88.9 198.4 88.8 194.6 89.0z" class="fr"/>
<path d="M244 90.9 247.9 91.2 251 91.8 247.1 91.5z" class="fr"/>
<path d="M217.7 88.1 221.6 88.2 224.7 88.7 220.9 88.5z" class="fr"/>
<path d="M285 82.5 288.8 80.1 292 80.0 288.1 82.5z" class="vx"/>
<path d="M318.3 64.6 322.1 62.0 325.3 62.1 321.4 64.7z" class="vb"/>
<path d="M195.3 88.9 199.2 88.7 202.3 88.7 198.4 88.8z" class="fr"/>
<path d="M172.9 91.3 176.7 90.5 179.9 90.2 176 91.0z" class="fr"/>
<path d="M247.9 91.2 251.7 91.5 254.9 92.0 251 91.8z" class="fr"/>
<path d="M270.3 90.7 274.1 87.7 277.3 87.8 273.4 90.8z" class="vy"/>
<path d="M336.8 55.0 340.7 53.0 343.8 53.3 340 55.2z" class="vz"/>
<path d="M303.5 72.4 307.4 69.8 310.5 69.8 306.7 72.3z" class="wa"/>
<path d="M221.6 88.2 225.4 88.4 228.6 89.0 224.7 88.7z" class="fr"/>
<path d="M199.2 88.7 203 88.5 206.2 88.5 202.3 88.7z" class="fr"/>
<path d="M251.7 91.5 255.6 91.8 258.7 92.2 254.9 92.0z" class="fr"/>
<path d="M288.8 80.1 292.7 77.6 295.8 77.5 292 80.0z" class="wb"/>
<path d="M176.7 90.5 180.6 90.0 183.7 89.7 179.9 90.2z" class="fr"/>
<path d="M322.1 62.0 326 59.4 329.1 59.6 325.3 62.1z" class="wc"/>
<path d="M225.4 88.4 229.3 88.7 232.4 89.4 228.6 89.0z" class="fr"/>
<path d="M274.1 87.7 278 85.1 281.1 85.1 277.3 87.8z" class="wd"/>
<path d="M255.6 91.8 259.4 92.1 262.6 92.5 258.7 92.2z" class="fr"/>
<path d="M307.4 69.8 311.3 67.2 314.4 67.2 310.5 69.8z" class="we"/>
<path d="M203 88.5 206.9 88.2 210 88.4 206.2 88.5z" class="fr"/>
<path d="M229.3 88.7 233.1 89.2 236.3 89.9 232.4 89.4z" class="fr"/>
<path d="M180.6 90.0 184.4 89.6 187.6 89.4 183.7 89.7z" class="fr"/>
<path d="M292.7 77.6 296.6 75.0 299.7 74.9 295.8 77.5z" class="wf"/>
<path d="M259.4 92.1 263.3 92.2 266.4 92.5 262.6 92.5z" class="fr"/>
<path d="M326 59.4 329.8 57.0 333 57.2 329.1 59.6z" class="vs"/>
<path d="M206.9 88.2 210.7 87.9 213.9 88.3 210 88.4z" class="fr"/>
<path d="M233.1 89.2 237 89.7 240.1 90.4 236.3 89.9z" class="fr"/>
<path d="M184.4 89.6 188.3 89.3 191.4 89.1 187.6 89.4z" class="fr"/>
<path d="M278 85.1 281.8 82.6 285 82.5 281.1 85.1z" class="wg"/>
<path d="M311.3 67.2 315.1 64.6 318.3 64.6 314.4 67.2z" class="wh"/>
<path d="M237 89.7 240.9 90.1 244 90.9 240.1 90.4z" class="fr"/>
<path d="M263.3 92.2 267.1 90.5 270.3 90.7 266.4 92.5z" class="wi"/>
<path d="M210.7 87.9 214.6 87.6 217.7 88.1 213.9 88.3z" class="wj"/>
<path d="M296.6 75.0 300.4 72.5 303.5 72.4 299.7 74.9z" class="wk"/>
<path d="M188.3 89.3 192.2 89.0 195.3 88.9 191.4 89.1z" class="fr"/>
<path d="M329.8 57.0 333.7 54.8 336.8 55.0 333 57.2z" class="vm"/>
<path d="M240.9 90.1 244.7 90.5 247.9 91.2 244 90.9z" class="wl"/>
<path d="M281.8 82.6 285.7 80.1 288.8 80.1 285 82.5z" class="wm"/>
<path d="M214.6 87.6 218.4 87.6 221.6 88.2 217.7 88.1z" class="wn"/>
<path d="M315.1 64.6 319 62.0 322.1 62.0 318.3 64.6z" class="wo"/>
<path d="M192.2 89.0 196 88.7 199.2 88.7 195.3 88.9z" class="fr"/>
<path d="M267.1 90.5 271 87.6 274.1 87.7 270.3 90.7z" class="wp"/>
<path d="M244.7 90.5 248.6 90.9 251.7 91.5 247.9 91.2z" class="hr"/>
<path d="M300.4 72.5 304.3 69.9 307.4 69.8 303.5 72.4z" class="wq"/>
<path d="M333.7 54.8 337.5 52.8 340.7 53.0 336.8 55.0z" class="wr"/>
<path d="M218.4 87.6 222.3 87.7 225.4 88.4 221.6 88.2z" class="wj"/>
<path d="M196 88.7 199.9 88.3 203 88.5 199.2 88.7z" class="fr"/>
<path d="M285.7 80.1 289.6 77.7 292.7 77.6 288.8 80.1z" class="ws"/>
<path d="M248.6 90.9 252.4 91.2 255.6 91.8 251.7 91.5z" class="fr"/>
<path d="M319 62.0 322.8 59.4 326 59.4 322.1 62.0z" class="wc"/>
<path d="M222.3 87.7 226.1 87.9 229.3 88.7 225.4 88.4z" class="wj"/>
<path d="M271 87.6 274.8 85.0 278 85.1 274.1 87.7z" class="wt"/>
<path d="M304.3 69.9 308.1 67.3 311.3 67.2 307.4 69.8z" class="wu"/>
<path d="M199.9 88.3 203.7 87.9 206.9 88.2 203 88.5z" class="hr"/>
<path d="M252.4 91.2 256.3 91.7 259.4 92.1 255.6 91.8z" class="fr"/>
<path d="M226.1 87.9 230 88.3 233.1 89.2 229.3 88.7z" class="vf"/>
<path d="M289.6 77.7 293.4 75.1 296.6 75.0 292.7 77.6z" class="wv"/>
<path d="M322.8 59.4 326.7 56.9 329.8 57.0 326 59.4z" class="ww"/>
<path d="M256.3 91.7 260.1 91.9 263.3 92.2 259.4 92.1z" class="fr"/>
<path d="M203.7 87.9 207.6 87.5 210.7 87.9 206.9 88.2z" class="wx"/>
<path d="M230 88.3 233.9 88.7 237 89.7 233.1 89.2z" class="wj"/>
<path d="M274.8 85.0 278.7 82.5 281.8 82.6 278 85.1z" class="wy"/>
<path d="M308.1 67.3 312 64.6 315.1 64.6 311.3 67.2z" class="wz"/>
<path d="M260.1 91.9 264 90.2 267.1 90.5 263.3 92.2z" class="xa"/>
<path d="M233.9 88.7 237.7 89.2 240.9 90.1 237 89.7z" class="wj"/>
<path d="M207.6 87.5 211.4 87.1 214.6 87.6 210.7 87.9z" class="xb"/>
<path d="M293.4 75.1 297.3 72.5 300.4 72.5 296.6 75.0z" class="xc"/>
<path d="M326.7 56.9 330.5 54.7 333.7 54.8 329.8 57.0z" class="xd"/>
<path d="M278.7 82.5 282.6 80.1 285.7 80.1 281.8 82.6z" class="xe"/>
<path d="M237.7 89.2 241.6 89.7 244.7 90.5 240.9 90.1z" class="xb"/>
<path d="M312 64.6 315.8 62.0 319 62.0 315.1 64.6z" class="wo"/>
<path d="M211.4 87.1 215.3 86.9 218.4 87.6 214.6 87.6z" class="xb"/>
<path d="M264 90.2 267.9 87.4 271 87.6 267.1 90.5z" class="xf"/>
<path d="M297.3 72.5 301.1 69.9 304.3 69.9 300.4 72.5z" class="xg"/>
<path d="M241.6 89.7 245.4 90.1 248.6 90.9 244.7 90.5z" class="xb"/>
<path d="M330.5 54.7 334.4 52.6 337.5 52.8 333.7 54.8z" class="xh"/>
<path d="M215.3 86.9 219.2 86.8 222.3 87.7 218.4 87.6z" class="xb"/>
<path d="M282.6 80.1 286.4 77.7 289.6 77.7 285.7 80.1z" class="xi"/>
<path d="M245.4 90.1 249.3 90.5 252.4 91.2 248.6 90.9z" class="wl"/>
<path d="M315.8 62.0 319.7 59.3 322.8 59.4 319 62.0z" class="xj"/>
<path d="M219.2 86.8 223 86.9 226.1 87.9 222.3 87.7z" class="xk"/>
<path d="M267.9 87.4 271.7 84.9 274.8 85.0 271 87.6z" class="xl"/>
<path d="M301.1 69.9 305 67.3 308.1 67.3 304.3 69.9z" class="xm"/>
<path d="M249.3 90.5 253.1 91.1 256.3 91.7 252.4 91.2z" class="fr"/>
<path d="M223 86.9 226.9 87.2 230 88.3 226.1 87.9z" class="xb"/>
<path d="M286.4 77.7 290.3 75.1 293.4 75.1 289.6 77.7z" class="xn"/>
<path d="M319.7 59.3 323.5 56.9 326.7 56.9 322.8 59.4z" class="vm"/>
<path d="M253.1 91.1 257 91.4 260.1 91.9 256.3 91.7z" class="fr"/>
<path d="M271.7 84.9 275.6 82.5 278.7 82.5 274.8 85.0z" class="xo"/>
<path d="M226.9 87.2 230.7 87.6 233.9 88.7 230 88.3z" class="xk"/>
<path d="M305 67.3 308.8 64.6 312 64.6 308.1 67.3z" class="xp"/>
<path d="M257 91.4 260.9 89.9 264 90.2 260.1 91.9z" class="xq"/>
<path d="M290.3 75.1 294.1 72.5 297.3 72.5 293.4 75.1z" class="xr"/>
<path d="M230.7 87.6 234.6 88.1 237.7 89.2 233.9 88.7z" class="xk"/>
<path d="M323.5 56.9 327.4 54.6 330.5 54.7 326.7 56.9z" class="wr"/>
<path d="M275.6 82.5 279.4 80.1 282.6 80.1 278.7 82.5z" class="xs"/>
<path d="M308.8 64.6 312.7 61.9 315.8 62.0 312 64.6z" class="xt"/>
<path d="M234.6 88.1 238.4 88.6 241.6 89.7 237.7 89.2z" class="xk"/>
<path d="M260.9 89.9 264.7 87.2 267.9 87.4 264 90.2z" class="xu"/>
<path d="M294.1 72.5 298 69.9 301.1 69.9 297.3 72.5z" class="xv"/>
<path d="M327.4 54.6 331.3 52.5 334.4 52.6 330.5 54.7z" class="xh"/>
<path d="M238.4 88.6 242.3 89.1 245.4 90.1 241.6 89.7z" class="xk"/>
<path d="M279.4 80.1 283.3 77.7 286.4 77.7 282.6 80.1z" class="xw"/>
<path d="M312.7 61.9 316.6 59.3 319.7 59.3 315.8 62.0z" class="ww"/>
<path d="M242.3 89.1 246.1 89.7 249.3 90.5 245.4 90.1z" class="wn"/>
<path d="M264.7 87.2 268.6 84.7 271.7 84.9 267.9 87.4z" class="xx"/>
<path d="M298 69.9 301.8 67.3 305 67.3 301.1 69.9z" class="xy"/>
<path d="M246.1 89.7 250 90.4 253.1 91.1 249.3 90.5z" class="fr"/>
<path d="M283.3 77.7 287.1 75.1 290.3 75.1 286.4 77.7z" class="xz"/>
<path d="M316.6 59.3 320.4 56.8 323.5 56.9 319.7 59.3z" class="xh"/>
<path d="M250 90.4 253.9 90.9 257 91.4 253.1 91.1z" class="fr"/>
<path d="M268.6 84.7 272.4 82.4 275.6 82.5 271.7 84.9z" class="ya"/>
<path d="M301.8 67.3 305.7 64.6 308.8 64.6 305 67.3z" class="yb"/>
<path d="M253.9 90.9 257.7 89.5 260.9 89.9 257 91.4z" class="yc"/>
<path d="M287.1 75.1 291 72.6 294.1 72.5 290.3 75.1z" class="yd"/>
<path d="M320.4 56.8 324.3 54.5 327.4 54.6 323.5 56.9z" class="wr"/>
<path d="M272.4 82.4 276.3 80.1 279.4 80.1 275.6 82.5z" class="ye"/>
<path d="M305.7 64.6 309.6 61.9 312.7 61.9 308.8 64.6z" class="xj"/>
<path d="M257.7 89.5 261.6 86.9 264.7 87.2 260.9 89.9z" class="yf"/>
<path d="M291 72.6 294.8 70.0 298 69.9 294.1 72.5z" class="yg"/>
<path d="M324.3 54.5 328.1 52.4 331.3 52.5 327.4 54.6z" class="xh"/>
<path d="M276.3 80.1 280.1 77.7 283.3 77.7 279.4 80.1z" class="yh"/>
<path d="M309.6 61.9 313.4 59.2 316.6 59.3 312.7 61.9z" class="yi"/>
<path d="M261.6 86.9 265.4 84.6 268.6 84.7 264.7 87.2z" class="yj"/>
<path d="M294.8 70.0 298.7 67.4 301.8 67.3 298 69.9z" class="yk"/>
<path d="M280.1 77.7 284 75.2 287.1 75.1 283.3 77.7z" class="yl"/>
<path d="M313.4 59.2 317.3 56.7 320.4 56.8 316.6 59.3z" class="xh"/>
<path d="M265.4 84.6 269.3 82.3 272.4 82.4 268.6 84.7z" class="xs"/>
<path d="M298.7 67.4 302.6 64.7 305.7 64.6 301.8 67.3z" class="ym"/>
<path d="M284 75.2 287.8 72.6 291 72.6 287.1 75.1z" class="yn"/>
<path d="M317.3 56.7 321.1 54.4 324.3 54.5 320.4 56.8z" class="xh"/>
<path d="M269.3 82.3 273.1 80.1 276.3 80.1 272.4 82.4z" class="yo"/>
<path d="M302.6 64.7 306.4 61.9 309.6 61.9 305.7 64.6z" class="yp"/>
<path d="M287.8 72.6 291.7 70.1 294.8 70.0 291 72.6z" class="yq"/>
<path d="M321.1 54.4 325 52.3 328.1 52.4 324.3 54.5z" class="vm"/>
<path d="M273.1 80.1 277 77.7 280.1 77.7 276.3 80.1z" class="yr"/>
<path d="M306.4 61.9 310.3 59.2 313.4 59.2 309.6 61.9z" class="ys"/>
<path d="M291.7 70.1 295.6 67.4 298.7 67.4 294.8 70.0z" class="yt"/>
<path d="M277 77.7 280.9 75.3 284 75.2 280.1 77.7z" class="yu"/>
<path d="M310.3 59.2 314.1 56.7 317.3 56.7 313.4 59.2z" class="xh"/>
<path d="M295.6 67.4 299.4 64.7 302.6 64.7 298.7 67.4z" class="ym"/>
<path d="M280.9 75.3 284.7 72.7 287.8 72.6 284 75.2z" class="yv"/>
<path d="M314.1 56.7 318 54.4 321.1 54.4 317.3 56.7z" class="xh"/>
<path d="M299.4 64.7 303.3 62.0 306.4 61.9 302.6 64.7z" class="yw"/>
<path d="M284.7 72.7 288.6 70.2 291.7 70.1 287.8 72.6z" class="yq"/>
<path d="M318 54.4 321.8 52.3 325 52.3 321.1 54.4z" class="yx"/>
<path d="M303.3 62.0 307.1 59.3 310.3 59.2 306.4 61.9z" class="yy"/>
<path d="M288.6 70.2 292.4 67.5 295.6 67.4 291.7 70.1z" class="yz"/>
<path d="M307.1 59.3 311 56.8 314.1 56.7 310.3 59.2z" class="xh"/>
<path d="M292.4 67.5 296.3 64.8 299.4 64.7 295.6 67.4z" class="za"/>
<path d="M311 56.8 314.8 54.4 318 54.4 314.1 56.7z" class="ys"/>
<path d="M296.3 64.8 300.1 62.1 303.3 62.0 299.4 64.7z" class="zb"/>
<path d="M314.8 54.4 318.7 52.3 321.8 52.3 318 54.4z" class="yx"/>
<path d="M300.1 62.1 304 59.4 307.1 59.3 303.3 62.0z" class="zc"/>
<path d="M304 59.4 307.8 56.9 311 56.8 307.1 59.3z" class="ys"/>
<path d="M307.8 56.9 311.7 54.5 314.8 54.4 311 56.8z" class="yx"/>
<path d="M311.7 54.5 315.6 52.4 318.7 52.3 314.8 54.4z" class="yx"/></g>
<path d="M68.8 127.9 72.9 127.2 77.1 126.5 81.3 125.7 85.5 125.0 89.7 124.3 93.9 123.6 98.1 122.9 102.3 122.2 106.4 121.6 110.6 120.9 114.8 120.2 119.0 119.7 123.2 119.7 127.4 119.9 131.6 120.0 135.7 120.6 139.9 121.4 144.1 122.2 148.3 123.5 152.5 125.2 156.7 127.6M71.3 127.3 75.4 126.6 79.6 125.8 83.8 125.1 88.0 124.4 92.2 123.6 96.4 122.9 100.6 122.1 104.7 121.4 108.9 120.7 113.1 120.0 117.3 119.2 121.5 118.7 125.7 118.6 129.9 118.7 134.1 118.8 138.2 119.3 142.4 120.0 146.6 120.7 150.8 121.9 155.0 123.5 159.2 125.8M73.7 126.7 77.9 125.9 82.1 125.2 86.3 124.5 90.5 123.8 94.7 123.0 98.9 122.3 103.1 121.5 107.2 120.8 111.4 120.1 115.6 119.4 119.8 118.6 124.0 118.1 128.2 118.1 132.4 118.1 136.5 118.3 140.7 118.8 144.9 119.5 149.1 120.3 153.3 121.4 157.5 123.1 161.7 125.3M76.2 126.0 80.4 125.3 84.6 124.6 88.8 123.9 93.0 123.1 97.2 122.4 101.4 121.7 105.5 120.9 109.7 120.2 113.9 119.5 118.1 118.9 122.3 118.1 126.5 117.6 130.7 117.5 134.9 117.6 139.0 117.8 143.2 118.4 147.4 119.1 151.6 119.9 155.8 121.1 160.0 122.8 164.2 125.1M78.7 125.4 82.9 124.7 87.1 124.0 91.3 123.2 95.5 122.5 99.7 121.8 103.9 121.1 108.0 120.3 112.2 119.6 116.4 119.0 120.6 118.3 124.8 117.5 129.0 117.0 133.2 117.0 137.3 117.1 141.5 117.3 145.7 118.0 149.9 118.7 154.1 119.6 158.3 120.8 162.5 122.5 166.7 124.8M81.2 124.7 85.4 124.0 89.6 123.3 93.8 122.6 98.0 121.9 102.2 121.2 106.3 120.4 110.5 119.7 114.7 119.0 118.9 118.4 123.1 117.7 127.3 117.0 131.5 116.5 135.7 116.5 139.8 116.6 144.0 116.9 148.2 117.6 152.4 118.3 156.6 119.3 160.8 120.6 165.0 122.3 169.1 124.7M83.7 124.0 87.9 123.3 92.1 122.6 96.3 121.9 100.5 121.2 104.7 120.5 108.8 119.8 113.0 119.1 117.2 118.4 121.4 117.8 125.6 117.1 129.8 116.4 134.0 116.0 138.1 116.0 142.3 116.1 146.5 116.5 150.7 117.2 154.9 118.0 159.1 119.0 163.3 120.3 167.5 122.1 171.6 124.5M86.2 123.3 90.4 122.7 94.6 122.0 98.8 121.3 103.0 120.6 107.1 119.9 111.3 119.2 115.5 118.5 119.7 117.8 123.9 117.2 128.1 116.6 132.3 115.9 136.5 115.4 140.6 115.5 144.8 115.7 149.0 116.0 153.2 116.7 157.4 117.6 161.6 118.6 165.8 120.0 169.9 121.9 174.1 124.3M88.7 122.6 92.9 122.0 97.1 121.3 101.3 120.6 105.5 119.9 109.6 119.2 113.8 118.5 118.0 117.8 122.2 117.2 126.4 116.6 130.6 116.0 134.8 115.3 138.9 114.9 143.1 114.9 147.3 115.2 151.5 115.6 155.7 116.3 159.9 117.3 164.1 118.3 168.3 119.8 172.4 121.7 176.6 124.1M91.2 121.9 95.4 121.3 99.6 120.6 103.8 119.9 107.9 119.2 112.1 118.5 116.3 117.9 120.5 117.2 124.7 116.6 128.9 116.0 133.1 115.4 137.2 114.7 141.4 114.3 145.6 114.4 149.8 114.7 154.0 115.1 158.2 115.9 162.4 116.9 166.6 118.0 170.7 119.5 174.9 121.5 179.1 123.9M93.7 121.2 97.9 120.6 102.1 119.9 106.2 119.2 110.4 118.6 114.6 117.9 118.8 117.2 123.0 116.5 127.2 115.9 131.4 115.3 135.6 114.8 139.7 114.1 143.9 113.8 148.1 113.9 152.3 114.2 156.5 114.7 160.7 115.5 164.9 116.5 169.0 117.7 173.2 119.3 177.4 121.3 181.6 123.7M96.2 120.5 100.4 119.9 104.6 119.2 108.7 118.6 112.9 117.9 117.1 117.2 121.3 116.6 125.5 115.9 129.7 115.3 133.9 114.7 138.0 114.2 142.2 113.6 146.4 113.2 150.6 113.3 154.8 113.7 159.0 114.2 163.2 115.1 167.4 116.2 171.5 117.4 175.7 119.0 179.9 121.0 184.1 123.5M98.7 119.9 102.9 119.2 107.0 118.6 111.2 117.9 115.4 117.3 119.6 116.6 123.8 115.9 128.0 115.3 132.2 114.7 136.4 114.1 140.5 113.6 144.7 113.0 148.9 112.7 153.1 112.8 157.3 113.2 161.5 113.8 165.7 114.7 169.8 115.8 174.0 117.1 178.2 118.8 182.4 120.8 186.6 123.4M101.2 119.2 105.4 118.6 109.5 117.9 113.7 117.3 117.9 116.6 122.1 115.9 126.3 115.3 130.5 114.7 134.7 114.1 138.8 113.6 143.0 113.0 147.2 112.5 151.4 112.2 155.6 112.3 159.8 112.7 164.0 113.3 168.2 114.3 172.3 115.5 176.5 116.8 180.7 118.5 184.9 120.6 189.1 123.2M103.7 118.5 107.8 117.9 112.0 117.2 116.2 116.6 120.4 116.0 124.6 115.3 128.8 114.7 133.0 114.1 137.2 113.5 141.3 113.0 145.5 112.5 149.7 111.9 153.9 111.6 158.1 111.8 162.3 112.2 166.5 112.9 170.6 113.9 174.8 115.2 179.0 116.5 183.2 118.3 187.4 120.4 191.6 123.0M106.2 117.8 110.3 117.2 114.5 116.5 118.7 115.9 122.9 115.3 127.1 114.6 131.3 114.0 135.5 113.4 139.6 112.9 143.8 112.3 148.0 111.9 152.2 111.3 156.4 111.1 160.6 111.3 164.8 111.7 169.0 112.5 173.1 113.6 177.3 114.8 181.5 116.2 185.7 118.0 189.9 120.3 194.1 122.9M108.6 117.0 112.8 116.4 117.0 115.8 121.2 115.2 125.4 114.6 129.6 113.9 133.8 113.3 138.0 112.7 142.1 112.2 146.3 111.7 150.5 111.2 154.7 110.7 158.9 110.5 163.1 110.7 167.3 111.2 171.4 112.0 175.6 113.2 179.8 114.5 184.0 116.0 188.2 117.8 192.4 120.1 196.6 122.7M111.1 116.2 115.3 115.6 119.5 115.0 123.7 114.4 127.9 113.8 132.1 113.2 136.3 112.6 140.4 112.0 144.6 111.5 148.8 111.0 153.0 110.6 157.2 110.1 161.4 109.9 165.6 110.2 169.8 110.7 173.9 111.5 178.1 112.7 182.3 114.1 186.5 115.7 190.7 117.6 194.9 119.9 199.1 122.6M113.6 115.4 117.8 114.8 122.0 114.2 126.2 113.6 130.4 113.0 134.6 112.4 138.8 111.8 142.9 111.2 147.1 110.7 151.3 110.3 155.5 109.9 159.7 109.4 163.9 109.3 168.1 109.6 172.2 110.1 176.4 111.0 180.6 112.3 184.8 113.7 189.0 115.4 193.2 117.3 197.4 119.8 201.6 122.5M116.1 114.5 120.3 113.9 124.5 113.3 128.7 112.7 132.9 112.1 137.1 111.5 141.2 110.9 145.4 110.4 149.6 109.9 153.8 109.5 158.0 109.1 162.2 108.7 166.4 108.6 170.6 108.9 174.7 109.5 178.9 110.5 183.1 111.8 187.3 113.3 191.5 115.0 195.7 117.1 199.9 119.5 204.0 122.3M118.6 113.5 122.8 112.9 127.0 112.3 131.2 111.7 135.4 111.2 139.6 110.6 143.7 110.0 147.9 109.5 152.1 109.0 156.3 108.6 160.5 108.3 164.7 107.9 168.9 107.8 173.0 108.2 177.2 108.9 181.4 109.9 185.6 111.3 189.8 112.9 194.0 114.6 198.2 116.7 202.4 119.3 206.5 122.1M121.1 112.4 125.3 111.8 129.5 111.2 133.7 110.7 137.9 110.1 142.0 109.6 146.2 109.0 150.4 108.5 154.6 108.1 158.8 107.7 163.0 107.4 167.2 107.0 171.4 107.0 175.5 107.4 179.7 108.1 183.9 109.2 188.1 110.6 192.3 112.3 196.5 114.1 200.7 116.3 204.8 118.9 209.0 121.8M123.6 111.2 127.8 110.6 132.0 110.0 136.2 109.5 140.4 108.9 144.5 108.4 148.7 107.9 152.9 107.4 157.1 107.0 161.3 106.6 165.5 106.4 169.7 106.0 173.8 106.0 178.0 106.5 182.2 107.2 186.4 108.4 190.6 109.9 194.8 111.6 199.0 113.5 203.2 115.8 207.3 118.5 211.5 121.4M126.1 109.9 130.3 109.3 134.5 108.8 138.7 108.2 142.8 107.7 147.0 107.2 151.2 106.7 155.4 106.2 159.6 105.8 163.8 105.5 168.0 105.2 172.2 105.0 176.3 105.0 180.5 105.5 184.7 106.3 188.9 107.5 193.1 109.1 197.3 110.9 201.5 112.9 205.6 115.2 209.8 118.0 214.0 121.0M128.6 108.6 132.8 108.0 137.0 107.5 141.2 106.9 145.3 106.4 149.5 105.9 153.7 105.4 157.9 105.0 162.1 104.6 166.3 104.3 170.5 104.1 174.6 103.9 178.8 103.9 183.0 104.5 187.2 105.4 191.4 106.7 195.6 108.3 199.8 110.2 204.0 112.3 208.1 114.7 212.3 117.6 216.5 120.6M131.1 107.3 135.3 106.7 139.5 106.2 143.6 105.7 147.8 105.2 152.0 104.7 156.2 104.2 160.4 103.8 164.6 103.5 168.8 103.2 172.9 103.0 177.1 102.9 181.3 102.9 185.5 103.5 189.7 104.4 193.9 105.8 198.1 107.6 202.3 109.5 206.4 111.6 210.6 114.2 214.8 117.1 219.0 120.2M133.6 106.1 137.8 105.5 141.9 105.0 146.1 104.5 150.3 104.0 154.5 103.5 158.7 103.1 162.9 102.7 167.1 102.4 171.3 102.1 175.4 102.0 179.6 101.8 183.8 102.0 188.0 102.6 192.2 103.6 196.4 105.0 200.6 106.8 204.7 108.8 208.9 111.0 213.1 113.6 217.3 116.6 221.5 119.8M136.1 104.9 140.3 104.3 144.4 103.8 148.6 103.3 152.8 102.8 157.0 102.4 161.2 101.9 165.4 101.6 169.6 101.3 173.7 101.1 177.9 101.0 182.1 100.8 186.3 101.0 190.5 101.7 194.7 102.7 198.9 104.2 203.1 106.0 207.2 108.1 211.4 110.4 215.6 113.0 219.8 116.1 224.0 119.3M138.6 103.7 142.7 103.1 146.9 102.6 151.1 102.1 155.3 101.7 159.5 101.2 163.7 100.8 167.9 100.4 172.1 100.1 176.2 100.0 180.4 99.9 184.6 99.8 188.8 100.0 193.0 100.7 197.2 101.7 201.4 103.3 205.5 105.2 209.7 107.3 213.9 109.7 218.1 112.4 222.3 115.5 226.5 118.8M141.1 102.4 145.2 101.8 149.4 101.3 153.6 100.9 157.8 100.4 162.0 100.0 166.2 99.6 170.4 99.2 174.5 99.0 178.7 98.8 182.9 98.7 187.1 98.7 191.3 98.9 195.5 99.6 199.7 100.7 203.9 102.3 208.0 104.3 212.2 106.5 216.4 108.9 220.6 111.7 224.8 114.9 229.0 118.3M143.5 101.1 147.7 100.6 151.9 100.1 156.1 99.6 160.3 99.2 164.5 98.8 168.7 98.4 172.9 98.0 177.0 97.8 181.2 97.7 185.4 97.6 189.6 97.6 193.8 97.8 198.0 98.6 202.2 99.7 206.3 101.4 210.5 103.4 214.7 105.7 218.9 108.2 223.1 111.0 227.3 114.3 231.5 117.7M146.0 100.0 150.2 99.5 154.4 99.0 158.6 98.5 162.8 98.1 167.0 97.7 171.2 97.3 175.3 97.0 179.5 96.7 183.7 96.6 187.9 96.6 192.1 96.6 196.3 96.8 200.5 97.6 204.7 98.8 208.8 100.5 213.0 102.6 217.2 104.9 221.4 107.4 225.6 110.3 229.8 113.6 234.0 117.0M148.5 99.0 152.7 98.5 156.9 98.0 161.1 97.5 165.3 97.1 169.5 96.7 173.7 96.3 177.8 96.0 182.0 95.8 186.2 95.7 190.4 95.6 194.6 95.6 198.8 95.9 203.0 96.7 207.1 97.9 211.3 99.7 215.5 101.8 219.7 104.1 223.9 106.7 228.1 109.6 232.3 113.0 236.5 116.4M151.0 98.0 155.2 97.5 159.4 97.0 163.6 96.6 167.8 96.2 172.0 95.8 176.1 95.4 180.3 95.1 184.5 94.9 188.7 94.8 192.9 94.8 197.1 94.8 201.3 95.1 205.5 95.9 209.6 97.1 213.8 98.9 218.0 101.1 222.2 103.4 226.4 106.0 230.6 109.0 234.8 112.4 238.9 115.8M153.5 97.1 157.7 96.6 161.9 96.1 166.1 95.7 170.3 95.3 174.5 94.9 178.6 94.5 182.8 94.2 187.0 94.0 191.2 93.9 195.4 93.9 199.6 94.0 203.8 94.3 207.9 95.1 212.1 96.3 216.3 98.2 220.5 100.4 224.7 102.8 228.9 105.4 233.1 108.5 237.3 111.9 241.4 115.3M156.0 96.2 160.2 95.7 164.4 95.3 168.6 94.9 172.8 94.4 176.9 94.0 181.1 93.7 185.3 93.4 189.5 93.2 193.7 93.1 197.9 93.2 202.1 93.2 206.3 93.5 210.4 94.4 214.6 95.6 218.8 97.5 223.0 99.8 227.2 102.2 231.4 104.9 235.6 108.0 239.7 111.4 243.9 114.9M158.5 95.4 162.7 94.9 166.9 94.4 171.1 94.0 175.3 93.6 179.4 93.2 183.6 92.9 187.8 92.6 192.0 92.4 196.2 92.4 200.4 92.4 204.6 92.5 208.7 92.8 212.9 93.7 217.1 95.0 221.3 96.9 225.5 99.2 229.7 101.7 233.9 104.4 238.1 107.6 242.2 111.1 246.4 114.5M161.0 94.6 165.2 94.1 169.4 93.6 173.6 93.2 177.7 92.9 181.9 92.5 186.1 92.1 190.3 91.9 194.5 91.7 198.7 91.7 202.9 91.7 207.1 91.8 211.2 92.2 215.4 93.1 219.6 94.4 223.8 96.4 228.0 98.7 232.2 101.2 236.4 104.0 240.5 107.2 244.7 110.8 248.9 114.3M163.5 93.8 167.7 93.3 171.9 92.9 176.1 92.5 180.2 92.1 184.4 91.7 188.6 91.4 192.8 91.1 197.0 91.0 201.2 91.0 205.4 91.1 209.5 91.2 213.7 91.6 217.9 92.5 222.1 93.8 226.3 95.9 230.5 98.2 234.7 100.8 238.9 103.7 243.0 106.9 247.2 110.5 251.4 114.1M166.0 93.0 170.2 92.6 174.4 92.2 178.5 91.8 182.7 91.4 186.9 91.0 191.1 90.7 195.3 90.5 199.5 90.4 203.7 90.4 207.9 90.5 212.0 90.6 216.2 91.0 220.4 91.9 224.6 93.3 228.8 95.4 233.0 97.8 237.2 100.5 241.3 103.3 245.5 106.6 249.7 110.3 253.9 113.9M168.5 92.4 172.7 91.9 176.9 91.5 181.0 91.1 185.2 90.8 189.4 90.4 193.6 90.1 197.8 89.9 202.0 89.8 206.2 89.8 210.3 89.9 214.5 90.1 218.7 90.5 222.9 91.5 227.1 92.9 231.3 95.0 235.5 97.4 239.7 100.1 243.8 103.1 248.0 106.4 252.2 110.1 256.4 113.7M171.0 91.7 175.2 91.3 179.3 90.9 183.5 90.6 187.7 90.2 191.9 89.9 196.1 89.6 200.3 89.4 204.5 89.2 208.7 89.3 212.8 89.4 217.0 89.6 221.2 90.0 225.4 91.0 229.6 92.4 233.8 94.6 238.0 97.1 242.1 99.8 246.3 102.8 250.5 106.2 254.7 110.0 258.9 113.6M173.5 91.2 177.6 90.8 181.8 90.4 186.0 90.0 190.2 89.7 194.4 89.4 198.6 89.1 202.8 88.9 207.0 88.8 211.1 88.8 215.3 89.0 219.5 89.1 223.7 89.6 227.9 90.6 232.1 92.1 236.3 94.3 240.4 96.8 244.6 99.6 248.8 102.6 253.0 106.0 257.2 109.8 261.4 113.5M176.0 90.7 180.1 90.3 184.3 89.9 188.5 89.6 192.7 89.3 196.9 89.0 201.1 88.7 205.3 88.5 209.4 88.4 213.6 88.4 217.8 88.6 222.0 88.8 226.2 89.3 230.4 90.3 234.6 91.8 238.8 94.0 242.9 96.6 247.1 99.4 251.3 102.4 255.5 105.9 259.7 109.7 263.9 113.4M178.4 90.3 182.6 89.9 186.8 89.6 191.0 89.3 195.2 88.9 199.4 88.6 203.6 88.4 207.8 88.2 211.9 88.1 216.1 88.2 220.3 88.3 224.5 88.5 228.7 89.0 232.9 90.0 237.1 91.5 241.2 93.8 245.4 96.4 249.6 99.3 253.8 102.4 258.0 105.9 262.2 109.7 266.4 113.4M180.9 90.0 185.1 89.6 189.3 89.3 193.5 89.0 197.7 88.7 201.9 88.4 206.1 88.2 210.2 88.0 214.4 87.9 218.6 88.0 222.8 88.2 227.0 88.4 231.2 88.9 235.4 89.9 239.6 91.5 243.7 93.8 247.9 96.4 252.1 99.3 256.3 102.4 260.5 106.0 264.7 109.9 268.9 113.6M183.4 89.7 187.6 89.4 191.8 89.1 196.0 88.9 200.2 88.6 204.4 88.3 208.6 88.1 212.7 87.9 216.9 87.8 221.1 87.9 225.3 88.1 229.5 88.3 233.7 88.8 237.9 89.9 242.0 91.4 246.2 93.7 250.4 96.4 254.6 99.3 258.8 102.5 263.0 106.1 267.2 110.0 271.4 113.7M185.9 89.5 190.1 89.2 194.3 89.0 198.5 88.8 202.7 88.5 206.9 88.3 211.0 88.0 215.2 87.9 219.4 87.8 223.6 87.9 227.8 88.1 232.0 88.3 236.2 88.8 240.4 89.9 244.5 91.4 248.7 93.7 252.9 96.4 257.1 99.4 261.3 102.6 265.5 106.2 269.7 110.1 273.8 113.9M188.4 89.3 192.6 89.1 196.8 88.9 201.0 88.7 205.2 88.5 209.4 88.2 213.5 88.0 217.7 87.9 221.9 87.8 226.1 87.9 230.3 88.1 234.5 88.3 238.7 88.8 242.8 89.9 247.0 91.4 251.2 93.8 255.4 96.5 259.6 99.4 263.8 102.7 268.0 106.3 272.2 110.3 276.3 114.0M190.9 89.1 195.1 89.0 199.3 88.8 203.5 88.7 207.7 88.5 211.8 88.3 216.0 88.1 220.2 87.9 224.4 87.9 228.6 87.9 232.8 88.1 237.0 88.4 241.2 88.9 245.3 89.9 249.5 91.4 253.7 93.8 257.9 96.5 262.1 99.5 266.3 102.7 270.5 106.4 274.6 110.4 278.8 114.2M193.4 88.9 197.6 88.8 201.8 88.7 206.0 88.6 210.2 88.5 214.3 88.3 218.5 88.1 222.7 88.0 226.9 87.9 231.1 88.0 235.3 88.2 239.5 88.4 243.6 88.9 247.8 89.9 252.0 91.5 256.2 93.9 260.4 96.6 264.6 99.6 268.8 102.8 273.0 106.5 277.1 110.6 281.3 114.3M195.9 88.7 200.1 88.7 204.3 88.7 208.5 88.6 212.6 88.5 216.8 88.4 221.0 88.2 225.2 88.1 229.4 88.0 233.6 88.1 237.8 88.3 242.0 88.5 246.1 89.0 250.3 90.0 254.5 91.5 258.7 93.9 262.9 96.7 267.1 99.6 271.3 102.9 275.4 106.6 279.6 110.7 283.8 114.5M198.4 88.5 202.6 88.6 206.8 88.6 211.0 88.6 215.1 88.6 219.3 88.4 223.5 88.3 227.7 88.2 231.9 88.1 236.1 88.2 240.3 88.4 244.4 88.6 248.6 89.1 252.8 90.0 257.0 91.6 261.2 94.0 265.4 96.7 269.6 99.7 273.8 103.0 277.9 106.7 282.1 110.8 286.3 114.6M200.9 88.2 205.1 88.4 209.3 88.6 213.4 88.6 217.6 88.6 221.8 88.5 226.0 88.4 230.2 88.3 234.4 88.3 238.6 88.4 242.8 88.5 246.9 88.7 251.1 89.2 255.3 90.1 259.5 91.6 263.7 94.0 267.9 96.8 272.1 99.8 276.2 103.1 280.4 106.8 284.6 110.9 288.8 114.7M203.4 88.0 207.6 88.3 211.8 88.5 215.9 88.7 220.1 88.7 224.3 88.7 228.5 88.6 232.7 88.5 236.9 88.4 241.1 88.5 245.2 88.7 249.4 88.9 253.6 89.3 257.8 90.2 262.0 91.7 266.2 94.1 270.4 96.9 274.6 99.9 278.7 103.2 282.9 106.9 287.1 111.1 291.3 114.9M205.9 87.7 210.1 88.1 214.2 88.5 218.4 88.7 222.6 88.8 226.8 88.8 231.0 88.8 235.2 88.7 239.4 88.6 243.6 88.7 247.7 88.9 251.9 89.0 256.1 89.4 260.3 90.4 264.5 91.8 268.7 94.2 272.9 97.0 277.0 100.0 281.2 103.3 285.4 107.1 289.6 111.3 293.8 115.1M208.4 87.4 212.6 88.0 216.7 88.4 220.9 88.8 225.1 88.9 229.3 89.0 233.5 88.9 237.7 88.9 241.9 88.9 246.0 88.9 250.2 89.1 254.4 89.2 258.6 89.6 262.8 90.5 267.0 92.0 271.2 94.4 275.4 97.1 279.5 100.1 283.7 103.5 287.9 107.3 292.1 111.5 296.3 115.3M210.9 87.1 215.0 87.8 219.2 88.4 223.4 88.8 227.6 89.0 231.8 89.1 236.0 89.1 240.2 89.1 244.4 89.1 248.5 89.1 252.7 89.3 256.9 89.4 261.1 89.8 265.3 90.6 269.5 92.1 273.7 94.5 277.8 97.2 282.0 100.3 286.2 103.6 290.4 107.5 294.6 111.7 298.8 115.5M213.3 86.9 217.5 87.8 221.7 88.4 225.9 88.9 230.1 89.2 234.3 89.3 238.5 89.4 242.7 89.3 246.8 89.3 251.0 89.4 255.2 89.5 259.4 89.6 263.6 90.0 267.8 90.8 272.0 92.2 276.1 94.7 280.3 97.4 284.5 100.4 288.7 103.8 292.9 107.6 297.1 111.9 301.3 115.7M215.8 86.8 220.0 87.8 224.2 88.6 228.4 89.2 232.6 89.5 236.8 89.7 241.0 89.7 245.1 89.7 249.3 89.7 253.5 89.8 257.7 89.9 261.9 90.0 266.1 90.3 270.3 91.1 274.5 92.5 278.6 94.9 282.8 97.6 287.0 100.6 291.2 104.0 295.4 107.8 299.6 112.1 303.8 115.9M218.3 86.8 222.5 87.9 226.7 88.7 230.9 89.4 235.1 89.8 239.3 90.0 243.5 90.1 247.6 90.1 251.8 90.1 256.0 90.1 260.2 90.2 264.4 90.3 268.6 90.5 272.8 91.3 276.9 92.7 281.1 95.1 285.3 97.8 289.5 100.8 293.7 104.2 297.9 108.0 302.1 112.2 306.3 116.1M220.8 86.8 225.0 88.0 229.2 88.9 233.4 89.7 237.6 90.1 241.8 90.4 245.9 90.5 250.1 90.5 254.3 90.4 258.5 90.5 262.7 90.5 266.9 90.6 271.1 90.8 275.3 91.6 279.4 92.9 283.6 95.3 287.8 98.0 292.0 101.0 296.2 104.3 300.4 108.1 304.6 112.4 308.7 116.3M223.3 86.9 227.5 88.2 231.7 89.2 235.9 90.0 240.1 90.5 244.3 90.8 248.4 90.9 252.6 90.9 256.8 90.9 261.0 90.9 265.2 90.9 269.4 90.9 273.6 91.1 277.7 91.8 281.9 93.1 286.1 95.5 290.3 98.2 294.5 101.1 298.7 104.5 302.9 108.3 307.1 112.5 311.2 116.4M225.8 87.1 230.0 88.5 234.2 89.6 238.4 90.4 242.6 90.9 246.7 91.2 250.9 91.3 255.1 91.3 259.3 91.3 263.5 91.3 267.7 91.3 271.9 91.3 276.1 91.4 280.2 92.1 284.4 93.4 288.6 95.7 292.8 98.3 297.0 101.3 301.2 104.6 305.4 108.4 309.5 112.6 313.7 116.4M228.3 87.4 232.5 88.8 236.7 89.9 240.9 90.7 245.1 91.3 249.2 91.6 253.4 91.7 257.6 91.7 261.8 91.6 266.0 91.6 270.2 91.6 274.4 91.5 278.5 91.7 282.7 92.3 286.9 93.6 291.1 95.9 295.3 98.5 299.5 101.4 303.7 104.7 307.9 108.5 312.0 112.7 316.2 116.4M230.8 87.6 235.0 89.1 239.2 90.2 243.4 91.1 247.5 91.6 251.7 91.9 255.9 92.0 260.1 92.0 264.3 91.9 268.5 91.9 272.7 91.8 276.9 91.8 281.0 91.9 285.2 92.5 289.4 93.7 293.6 96.0 297.8 98.6 302.0 101.6 306.2 104.8 310.3 108.6 314.5 112.8 318.7 116.5M233.3 88.0 237.5 89.4 241.7 90.5 245.9 91.4 250.0 91.9 254.2 92.2 258.4 92.3 262.6 92.3 266.8 92.2 271.0 92.1 275.2 92.1 279.3 92.0 283.5 92.1 287.7 92.7 291.9 93.9 296.1 96.2 300.3 98.8 304.5 101.7 308.7 104.9 312.8 108.7 317.0 112.8 321.2 116.5M235.8 88.3 240.0 89.7 244.2 90.8 248.3 91.6 252.5 92.2 256.7 92.4 260.9 92.5 265.1 92.4 269.3 92.3 273.5 92.3 277.7 92.2 281.8 92.1 286.0 92.2 290.2 92.8 294.4 94.0 298.6 96.3 302.8 98.9 307.0 101.8 311.1 105.0 315.3 108.7 319.5 112.9 323.7 116.5M238.3 88.6 242.5 90.0 246.7 91.0 250.8 91.8 255.0 92.3 259.2 92.6 263.4 92.6 267.6 92.5 271.8 92.4 276.0 92.4 280.1 92.3 284.3 92.2 288.5 92.3 292.7 92.8 296.9 94.0 301.1 96.3 305.3 98.9 309.5 101.8 313.6 105.1 317.8 108.8 322.0 112.9 326.2 116.5M240.8 88.9 245.0 90.2 249.1 91.2 253.3 92.0 257.5 92.4 261.7 92.6 265.9 92.7 270.1 92.6 274.3 92.4 278.5 92.4 282.6 92.3 286.8 92.2 291.0 92.3 295.2 92.8 299.4 94.0 303.6 96.4 307.8 99.0 311.9 101.9 316.1 105.1 320.3 108.8 324.5 113.0 328.7 116.5M243.3 89.2 247.5 90.4 251.6 91.4 255.8 92.1 260.0 92.5 264.2 92.7 268.4 92.7 272.6 92.6 276.8 92.4 280.9 92.3 285.1 92.2 289.3 92.2 293.5 92.2 297.7 92.8 301.9 94.0 306.1 96.4 310.3 99.0 314.4 101.9 318.6 105.2 322.8 108.9 327.0 113.0 331.2 116.4M245.8 89.6 249.9 90.7 254.1 91.5 258.3 92.2 262.5 92.6 266.7 92.7 270.9 92.6 275.1 92.5 279.3 92.4 283.4 92.3 287.6 92.2 291.8 92.1 296.0 92.2 300.2 92.8 304.4 94.0 308.6 96.4 312.7 99.0 316.9 101.9 321.1 105.2 325.3 108.9 329.5 113.0 333.7 116.4M248.3 90.1 252.4 91.1 256.6 91.8 260.8 92.4 265.0 92.7 269.2 92.8 273.4 92.7 277.6 92.5 281.7 92.4 285.9 92.2 290.1 92.2 294.3 92.1 298.5 92.2 302.7 92.8 306.9 94.0 311.1 96.4 315.2 99.0 319.4 102.0 323.6 105.2 327.8 108.9 332.0 113.0 336.2 116.3M250.7 90.5 254.9 91.4 259.1 92.0 263.3 92.5 267.5 92.8 271.7 92.8 275.9 92.7 280.1 92.5 284.2 92.3 288.4 92.2 292.6 92.1 296.8 92.0 301.0 92.1 305.2 92.7 309.4 93.9 313.5 96.4 317.7 99.0 321.9 102.0 326.1 105.2 330.3 108.9 334.5 112.9 338.7 116.1M253.2 90.8 257.4 91.6 261.6 92.1 265.8 92.5 270.0 92.7 274.2 92.6 278.4 92.5 282.5 92.3 286.7 92.1 290.9 92.0 295.1 91.9 299.3 91.8 303.5 91.9 307.7 92.5 311.9 93.8 316.0 96.2 320.2 98.9 324.4 101.9 328.6 105.1 332.8 108.8 337.0 112.8 341.2 116.0M255.7 90.7 259.9 91.3 264.1 91.8 268.3 92.1 272.5 92.2 276.7 92.2 280.8 92.0 285.0 91.8 289.2 91.5 293.4 91.4 297.6 91.4 301.8 91.4 306.0 91.5 310.2 92.1 314.3 93.4 318.5 95.9 322.7 98.6 326.9 101.6 331.1 104.9 335.3 108.6 339.5 112.6 343.6 115.8M258.2 89.2 262.4 89.7 266.6 90.0 270.8 90.3 275.0 90.4 279.2 90.3 283.3 90.2 287.5 89.9 291.7 89.8 295.9 89.7 300.1 89.8 304.3 89.8 308.5 90.1 312.6 90.8 316.8 92.2 321.0 94.9 325.2 97.7 329.4 100.9 333.6 104.3 337.8 108.2 342.0 112.3 346.1 115.6M260.7 87.5 264.9 87.9 269.1 88.2 273.3 88.4 277.5 88.4 281.6 88.4 285.8 88.2 290.0 88.0 294.2 87.9 298.4 88.0 302.6 88.1 306.8 88.2 311.0 88.6 315.1 89.4 319.3 91.0 323.5 93.8 327.7 96.8 331.9 100.1 336.1 103.7 340.3 107.7 344.4 112.0 348.6 115.4M263.2 85.9 267.4 86.2 271.6 86.4 275.8 86.6 280.0 86.6 284.1 86.5 288.3 86.4 292.5 86.2 296.7 86.2 300.9 86.3 305.1 86.4 309.3 86.7 313.4 87.1 317.6 88.1 321.8 89.8 326.0 92.7 330.2 95.9 334.4 99.3 338.6 103.1 342.8 107.2 346.9 111.6 351.1 115.2M265.7 84.4 269.9 84.6 274.1 84.8 278.3 84.9 282.4 84.9 286.6 84.8 290.8 84.7 295.0 84.5 299.2 84.5 303.4 84.7 307.6 84.9 311.8 85.2 315.9 85.8 320.1 86.8 324.3 88.6 328.5 91.6 332.7 94.9 336.9 98.5 341.1 102.4 345.2 106.6 349.4 111.2 353.6 114.8M268.2 82.9 272.4 83.1 276.6 83.2 280.8 83.3 284.9 83.2 289.1 83.1 293.3 83.0 297.5 82.9 301.7 82.9 305.9 83.1 310.1 83.4 314.2 83.8 318.4 84.4 322.6 85.5 326.8 87.4 331.0 90.5 335.2 93.9 339.4 97.6 343.6 101.6 347.7 106.0 351.9 110.6 356.1 114.3M270.7 81.5 274.9 81.6 279.1 81.6 283.2 81.7 287.4 81.6 291.6 81.5 295.8 81.4 300.0 81.3 304.2 81.3 308.4 81.6 312.6 81.9 316.7 82.4 320.9 83.1 325.1 84.3 329.3 86.2 333.5 89.5 337.7 93.0 341.9 96.7 346.0 100.8 350.2 105.3 354.4 110.0 358.6 113.8M273.2 80.1 277.4 80.1 281.6 80.1 285.7 80.1 289.9 80.0 294.1 79.9 298.3 79.8 302.5 79.8 306.7 79.8 310.9 80.1 315.0 80.5 319.2 81.0 323.4 81.7 327.6 83.0 331.8 85.0 336.0 88.4 340.2 92.0 344.4 95.9 348.5 100.0 352.7 104.6 356.9 109.4 361.1 113.2M275.7 78.6 279.9 78.6 284.0 78.5 288.2 78.5 292.4 78.5 296.6 78.3 300.8 78.2 305.0 78.2 309.2 78.3 313.4 78.6 317.5 79.0 321.7 79.6 325.9 80.4 330.1 81.7 334.3 83.8 338.5 87.3 342.7 90.9 346.8 94.9 351.0 99.2 355.2 103.8 359.4 108.7 363.6 112.6M278.2 77.0 282.4 77.0 286.5 76.9 290.7 76.9 294.9 76.8 299.1 76.7 303.3 76.6 307.5 76.6 311.7 76.7 315.8 77.1 320.0 77.5 324.2 78.2 328.4 79.0 332.6 80.4 336.8 82.5 341.0 86.1 345.2 89.9 349.3 93.9 353.5 98.3 357.7 103.0 361.9 108.0 366.1 112.0M280.7 75.4 284.8 75.3 289.0 75.2 293.2 75.2 297.4 75.1 301.6 75.0 305.8 75.0 310.0 75.0 314.2 75.1 318.3 75.5 322.5 76.0 326.7 76.7 330.9 77.6 335.1 79.0 339.3 81.3 343.5 84.9 347.6 88.8 351.8 92.9 356.0 97.4 360.2 102.2 364.4 107.3 368.6 111.3M283.2 73.7 287.3 73.6 291.5 73.6 295.7 73.5 299.9 73.5 304.1 73.4 308.3 73.3 312.5 73.3 316.6 73.5 320.8 73.9 325.0 74.5 329.2 75.3 333.4 76.2 337.6 77.7 341.8 80.0 346.0 83.7 350.1 87.7 354.3 91.9 358.5 96.5 362.7 101.4 366.9 106.6 371.1 110.7M285.6 72.1 289.8 72.0 294.0 71.9 298.2 71.9 302.4 71.8 306.6 71.7 310.8 71.7 315.0 71.7 319.1 72.0 323.3 72.4 327.5 73.1 331.7 73.8 335.9 74.8 340.1 76.4 344.3 78.8 348.4 82.6 352.6 86.6 356.8 91.0 361.0 95.6 365.2 100.7 369.4 106.0 373.6 110.2M288.1 70.5 292.3 70.3 296.5 70.2 300.7 70.2 304.9 70.2 309.1 70.1 313.3 70.1 317.4 70.1 321.6 70.4 325.8 70.9 330.0 71.6 334.2 72.4 338.4 73.5 342.6 75.1 346.8 77.6 350.9 81.5 355.1 85.6 359.3 90.0 363.5 94.8 367.7 99.9 371.9 105.3 376.1 109.6M290.6 68.8 294.8 68.6 299.0 68.5 303.2 68.5 307.4 68.5 311.6 68.4 315.8 68.4 319.9 68.5 324.1 68.8 328.3 69.4 332.5 70.1 336.7 71.0 340.9 72.1 345.1 73.8 349.2 76.3 353.4 80.3 357.6 84.5 361.8 89.1 366.0 94.0 370.2 99.2 374.4 104.7 378.6 109.0M293.1 67.1 297.3 66.9 301.5 66.8 305.7 66.8 309.9 66.8 314.1 66.8 318.2 66.8 322.4 66.9 326.6 67.3 330.8 67.8 335.0 68.6 339.2 69.6 343.4 70.7 347.6 72.5 351.7 75.1 355.9 79.2 360.1 83.5 364.3 88.1 368.5 93.1 372.7 98.5 376.9 104.1 381.0 108.5M295.6 65.3 299.8 65.2 304.0 65.1 308.2 65.1 312.4 65.1 316.5 65.1 320.7 65.1 324.9 65.3 329.1 65.6 333.3 66.3 337.5 67.1 341.7 68.1 345.9 69.3 350.0 71.2 354.2 73.8 358.4 78.0 362.6 82.4 366.8 87.2 371.0 92.3 375.2 97.7 379.3 103.4 383.5 108.0M298.1 63.5 302.3 63.4 306.5 63.3 310.7 63.4 314.9 63.4 319.0 63.4 323.2 63.5 327.4 63.7 331.6 64.1 335.8 64.7 340.0 65.6 344.2 66.7 348.3 68.0 352.5 69.9 356.7 72.6 360.9 76.9 365.1 81.4 369.3 86.2 373.5 91.4 377.7 97.0 381.8 102.8 386.0 107.5M300.6 61.8 304.8 61.6 309.0 61.6 313.2 61.6 317.3 61.6 321.5 61.7 325.7 61.8 329.9 62.0 334.1 62.5 338.3 63.2 342.5 64.1 346.7 65.2 350.8 66.6 355.0 68.5 359.2 71.4 363.4 75.7 367.6 80.4 371.8 85.3 376.0 90.6 380.1 96.3 384.3 102.3 388.5 107.0M303.1 60.0 307.3 59.9 311.5 59.8 315.7 59.9 319.8 59.9 324.0 60.0 328.2 60.1 332.4 60.4 336.6 60.9 340.8 61.6 345.0 62.6 349.1 63.8 353.3 65.2 357.5 67.2 361.7 70.2 365.9 74.6 370.1 79.3 374.3 84.4 378.5 89.8 382.6 95.6 386.8 101.7 391.0 106.5M305.6 58.3 309.8 58.2 314.0 58.2 318.1 58.2 322.3 58.3 326.5 58.4 330.7 58.6 334.9 58.8 339.1 59.4 343.3 60.2 347.5 61.2 351.6 62.4 355.8 63.9 360.0 66.0 364.2 69.0 368.4 73.5 372.6 78.4 376.8 83.5 380.9 89.0 385.1 95.0 389.3 101.1 393.5 106.1M308.1 56.7 312.3 56.6 316.5 56.6 320.6 56.7 324.8 56.7 329.0 56.8 333.2 57.0 337.4 57.4 341.6 57.9 345.8 58.8 349.9 59.8 354.1 61.1 358.3 62.6 362.5 64.8 366.7 67.9 370.9 72.5 375.1 77.4 379.3 82.7 383.4 88.3 387.6 94.3 391.8 100.6 396.0 105.6M310.6 55.2 314.8 55.1 318.9 55.0 323.1 55.1 327.3 55.2 331.5 55.4 335.7 55.6 339.9 55.9 344.1 56.5 348.3 57.4 352.4 58.5 356.6 59.9 360.8 61.4 365.0 63.7 369.2 66.8 373.4 71.5 377.6 76.5 381.7 81.9 385.9 87.6 390.1 93.7 394.3 100.1 398.5 105.2M313.1 53.7 317.3 53.6 321.4 53.6 325.6 53.7 329.8 53.9 334.0 54.0 338.2 54.2 342.4 54.6 346.6 55.2 350.7 56.2 354.9 57.3 359.1 58.7 363.3 60.3 367.5 62.6 371.7 65.8 375.9 70.6 380.1 75.7 384.2 81.1 388.4 86.9 392.6 93.1 396.8 99.6 401.0 104.8M315.6 52.4 319.7 52.3 323.9 52.3 328.1 52.4 332.3 52.6 336.5 52.7 340.7 53.0 344.9 53.4 349.1 54.0 353.2 55.0 357.4 56.2 361.6 57.6 365.8 59.3 370.0 61.6 374.2 64.8 378.4 69.7 382.5 74.9 386.7 80.4 390.9 86.3 395.1 92.6 399.3 99.2 403.5 104.4" fill="none" stroke="#000" stroke-opacity="0.38" stroke-width=".45"/>
<polyline points="68.8,127.9 72.6,126.9 76.5,126.0 80.3,125.0 84.2,123.9 88.0,122.8 91.9,121.7 95.8,120.7 99.6,119.6 103.5,118.6 107.3,117.5 111.2,116.2 115.0,114.9 118.9,113.4 122.7,111.6 126.6,109.6 130.5,107.6 134.3,105.7 138.2,103.9 142.0,101.9 145.9,100.1 149.7,98.5 153.6,97.1 157.5,95.7 161.3,94.5 165.2,93.3 169.0,92.2 172.9,91.3 176.7,90.5 180.6,90.0 184.4,89.6 188.3,89.3 192.2,89.0 196.0,88.7 199.9,88.3 203.7,87.9 207.6,87.5 211.4,87.1 215.3,86.9 219.2,86.8 223.0,86.9 226.9,87.2 230.7,87.6 234.6,88.1 238.4,88.6 242.3,89.1 246.1,89.7 250.0,90.4 253.9,90.9 257.7,89.5 261.6,86.9 265.4,84.6 269.3,82.3 273.1,80.1 277.0,77.7 280.9,75.3 284.7,72.7 288.6,70.2 292.4,67.5 296.3,64.8 300.1,62.1 304.0,59.4 307.8,56.9 311.7,54.5 315.6,52.4" fill="none" stroke="#000" stroke-opacity=".55" stroke-width=".7"/>
<g id="ticksA"><line x1="52.2" y1="182.2" x2="56.2" y2="182.2" stroke="#999" stroke-width="0.7"/>
<text x="47.0" y="185.8" text-anchor="end" font-size="10.7">0</text>
<line x1="52.2" y1="145.3" x2="56.2" y2="145.3" stroke="#999" stroke-width="0.7"/>
<text x="47.0" y="148.9" text-anchor="end" font-size="10.7">100</text>
<line x1="52.2" y1="108.5" x2="56.2" y2="108.5" stroke="#999" stroke-width="0.7"/>
<text x="47.0" y="112.1" text-anchor="end" font-size="10.7">200</text>
<line x1="52.2" y1="71.6" x2="56.2" y2="71.6" stroke="#999" stroke-width="0.7"/>
<text x="47.0" y="75.2" text-anchor="end" font-size="10.7">300</text>
<line x1="52.2" y1="34.8" x2="56.2" y2="34.8" stroke="#999" stroke-width="0.7"/>
<text x="47.0" y="38.4" text-anchor="end" font-size="10.7">400</text>
<line x1="56.2" y1="182.2" x2="51.7" y2="183.8" stroke="#aaa" stroke-width="0.7"/>
<text x="44.9" y="194.7" text-anchor="middle" font-size="10.7">3</text>
<line x1="105.6" y1="184.7" x2="101.1" y2="186.3" stroke="#aaa" stroke-width="0.7"/>
<text x="94.3" y="197.2" text-anchor="middle" font-size="10.7">4</text>
<line x1="154.9" y1="187.1" x2="150.4" y2="188.7" stroke="#aaa" stroke-width="0.7"/>
<text x="143.6" y="199.6" text-anchor="middle" font-size="10.7">5</text>
<line x1="204.3" y1="189.6" x2="199.8" y2="191.2" stroke="#aaa" stroke-width="0.7"/>
<text x="193.0" y="202.1" text-anchor="middle" font-size="10.7">6</text>
<line x1="253.6" y1="192.0" x2="249.1" y2="193.6" stroke="#aaa" stroke-width="0.7"/>
<text x="242.3" y="204.5" text-anchor="middle" font-size="10.7">7</text>
<line x1="303.0" y1="194.5" x2="298.5" y2="196.1" stroke="#aaa" stroke-width="0.7"/>
<text x="291.7" y="207.0" text-anchor="middle" font-size="10.7">8</text>
<line x1="303.0" y1="194.5" x2="300.0" y2="194.8" stroke="#888" stroke-width="0.7"/>
<text x="314.2" y="204.8" text-anchor="middle" font-size="10.7">0</text>
<line x1="328.1" y1="186.8" x2="325.1" y2="187.1" stroke="#888" stroke-width="0.7"/>
<text x="339.3" y="197.1" text-anchor="middle" font-size="10.7">2</text>
<line x1="353.2" y1="179.1" x2="350.2" y2="179.4" stroke="#888" stroke-width="0.7"/>
<text x="364.4" y="189.4" text-anchor="middle" font-size="10.7">4</text>
<line x1="378.4" y1="171.5" x2="375.4" y2="171.8" stroke="#888" stroke-width="0.7"/>
<text x="389.6" y="181.8" text-anchor="middle" font-size="10.7">6</text>
<line x1="403.5" y1="163.8" x2="400.5" y2="164.1" stroke="#888" stroke-width="0.7"/>
<text x="414.7" y="174.1" text-anchor="middle" font-size="10.7">8</text></g>
<rect x="174.0" y="71.2" width="23.4" height="19.3" rx="1" fill="#fff" stroke="#dcdcdc" stroke-width="0.6"/>
<text class="tipl" x="175.9" y="77.0" font-size="4.4">X <tspan class="tipv" font-size="4.6" x="179.6">5.12121</tspan></text>
<text class="tipl" x="175.9" y="82.7" font-size="4.4">Y <tspan class="tipv" font-size="4.6" x="179.6">1</tspan></text>
<text class="tipl" x="175.9" y="88.4" font-size="4.4">Z <tspan class="tipv" font-size="4.6" x="179.6">250.943</tspan></text>
<rect x="172.4" y="90" width="2.2" height="2.2" fill="#111"/>
<rect x="317.2" y="32.2" width="22.6" height="18.8" rx="1" fill="#fff" stroke="#dcdcdc" stroke-width="0.6"/>
<text class="tipl" x="319.1" y="37.9" font-size="4.4">X <tspan class="tipv" font-size="4.6" x="322.8">8</tspan></text>
<text class="tipl" x="319.1" y="43.5" font-size="4.4">Y <tspan class="tipv" font-size="4.6" x="322.8">1</tspan></text>
<text class="tipl" x="319.1" y="49.0" font-size="4.4">Z <tspan class="tipv" font-size="4.6" x="322.8">375.227</tspan></text>
<rect x="314.4" y="51.4" width="2.2" height="2.2" fill="#111"/>
<text id="qa" transform="translate(22,165) rotate(-90)" font-size="12.5" letter-spacing=".28">Q<tspan font-size="10" dy="5">siphon drainage</tspan><tspan dy="-5"> (m</tspan><tspan font-size="9" dy="-4.5">3</tspan><tspan dy="4.5">/d)</tspan></text>
<text id="da" x="160.2" y="222.3" font-size="12.5">D<tspan font-size="10" dy="3.6">pipe</tspan><tspan dy="-3.6"> (mm)</tspan></text>
<text id="ha" x="352.9" y="217" font-size="12">H<tspan font-size="9.6" dy="3.6">lift</tspan><tspan dy="-3.6"> (m)</tspan></text>
<text x="222.4" y="252.5" font-size="11" text-anchor="middle">(a)</text>
<g id="axesB"><line x1="49.7" y1="475.5" x2="120.2" y2="433.5" stroke="#f1f1f1" stroke-width="0.7"/>
<line x1="120.2" y1="433.5" x2="410.2" y2="443.5" stroke="#f1f1f1" stroke-width="0.7"/>
<line x1="49.7" y1="427.6" x2="120.2" y2="385.6" stroke="#f1f1f1" stroke-width="0.7"/>
<line x1="120.2" y1="385.6" x2="410.2" y2="395.6" stroke="#f1f1f1" stroke-width="0.7"/>
<line x1="49.7" y1="379.6" x2="120.2" y2="337.6" stroke="#f1f1f1" stroke-width="0.7"/>
<line x1="120.2" y1="337.6" x2="410.2" y2="347.6" stroke="#f1f1f1" stroke-width="0.7"/>
<line x1="49.7" y1="331.7" x2="120.2" y2="289.7" stroke="#f1f1f1" stroke-width="0.7"/>
<line x1="120.2" y1="289.7" x2="410.2" y2="299.7" stroke="#f1f1f1" stroke-width="0.7"/>
<line x1="93.8" y1="449.2" x2="93.8" y2="305.4" stroke="#f1f1f1" stroke-width="0.7"/>
<line x1="93.8" y1="449.2" x2="383.8" y2="459.2" stroke="#f1f1f1" stroke-width="0.7"/>
<line x1="178.2" y1="435.5" x2="178.2" y2="291.7" stroke="#f1f1f1" stroke-width="0.7"/>
<line x1="107.7" y1="477.5" x2="178.2" y2="435.5" stroke="#f1f1f1" stroke-width="0.7"/>
<line x1="236.2" y1="437.5" x2="236.2" y2="293.7" stroke="#f1f1f1" stroke-width="0.7"/>
<line x1="165.7" y1="479.5" x2="236.2" y2="437.5" stroke="#f1f1f1" stroke-width="0.7"/>
<line x1="294.2" y1="439.5" x2="294.2" y2="295.7" stroke="#f1f1f1" stroke-width="0.7"/>
<line x1="223.7" y1="481.5" x2="294.2" y2="439.5" stroke="#f1f1f1" stroke-width="0.7"/>
<line x1="352.2" y1="441.5" x2="352.2" y2="297.7" stroke="#f1f1f1" stroke-width="0.7"/>
<line x1="281.7" y1="483.5" x2="352.2" y2="441.5" stroke="#f1f1f1" stroke-width="0.7"/>
<line x1="120.2" y1="433.5" x2="120.2" y2="289.7" stroke="#f1f1f1" stroke-width="0.7"/>
<line x1="410.2" y1="443.5" x2="410.2" y2="299.7" stroke="#f1f1f1" stroke-width="0.7"/>
<line x1="49.7" y1="331.7" x2="120.2" y2="289.7" stroke="#f1f1f1" stroke-width="0.7"/>
<line x1="120.2" y1="289.7" x2="410.2" y2="299.7" stroke="#f1f1f1" stroke-width="0.7"/>
<line x1="49.7" y1="475.5" x2="120.2" y2="433.5" stroke="#f1f1f1" stroke-width="0.7"/>
<line x1="120.2" y1="433.5" x2="410.2" y2="443.5" stroke="#dcdcdc" stroke-width="0.7" stroke-dasharray="4 3"/>
<line x1="49.7" y1="475.5" x2="339.7" y2="485.5" stroke="#b4b4b4" stroke-width="0.75" stroke-dasharray="4.5 2.5"/>
<line x1="339.7" y1="485.5" x2="410.2" y2="443.5" stroke="#9a9a9a" stroke-width="0.8"/>
<line x1="49.7" y1="475.5" x2="49.7" y2="331.7" stroke="#c2c2c2" stroke-width="1.0"/></g>
<g class="surf" id="surfB"><path d="M118 426.3 122.5 425.0 124.7 426.3 120.2 427.4z" class="zd"/>
<path d="M122.5 425.0 127 424.6 129.2 426.2 124.7 426.3z" class="ze"/>
<path d="M127 424.6 131.6 424.3 133.8 426.1 129.2 426.2z" class="zf"/>
<path d="M131.6 424.3 136.1 423.9 138.3 425.9 133.8 426.1z" class="zg"/>
<path d="M136.1 423.9 140.6 423.6 142.8 425.8 138.3 425.9z" class="zh"/>
<path d="M140.6 423.6 145.2 423.2 147.4 425.7 142.8 425.8z" class="zi"/>
<path d="M115.8 425.4 120.3 424.0 122.5 425.0 118 426.3z" class="zd"/>
<path d="M145.2 423.2 149.7 422.9 151.9 425.6 147.4 425.7z" class="zj"/>
<path d="M120.3 424.0 124.8 423.5 127 424.6 122.5 425.0z" class="ze"/>
<path d="M149.7 422.9 154.2 422.5 156.4 425.4 151.9 425.6z" class="zk"/>
<path d="M124.8 423.5 129.4 422.9 131.6 424.3 127 424.6z" class="zf"/>
<path d="M154.2 422.5 158.8 422.0 161 425.2 156.4 425.4z" class="zl"/>
<path d="M129.4 422.9 133.9 422.4 136.1 423.9 131.6 424.3z" class="zg"/>
<path d="M158.8 422.0 163.3 421.3 165.5 424.6 161 425.2z" class="zm"/>
<path d="M133.9 422.4 138.4 421.9 140.6 423.6 136.1 423.9z" class="zn"/>
<path d="M163.3 421.3 167.8 420.5 170 424.1 165.5 424.6z" class="zo"/>
<path d="M138.4 421.9 143 421.3 145.2 423.2 140.6 423.6z" class="zp"/>
<path d="M113.6 424.7 118.1 423.2 120.3 424.0 115.8 425.4z" class="zd"/>
<path d="M167.8 420.5 172.4 419.7 174.6 423.5 170 424.1z" class="zq"/>
<path d="M143 421.3 147.5 420.8 149.7 422.9 145.2 423.2z" class="zj"/>
<path d="M118.1 423.2 122.6 422.5 124.8 423.5 120.3 424.0z" class="ze"/>
<path d="M172.4 419.7 176.9 418.8 179.1 422.8 174.6 423.5z" class="zq"/>
<path d="M147.5 420.8 152 420.3 154.2 422.5 149.7 422.9z" class="zr"/>
<path d="M122.6 422.5 127.2 421.8 129.4 422.9 124.8 423.5z" class="zf"/>
<path d="M176.9 418.8 181.4 417.8 183.6 422.0 179.1 422.8z" class="zs"/>
<path d="M152 420.3 156.6 419.7 158.8 422.0 154.2 422.5z" class="zt"/>
<path d="M127.2 421.8 131.7 421.1 133.9 422.4 129.4 422.9z" class="zg"/>
<path d="M181.4 417.8 185.9 416.7 188.1 421.2 183.6 422.0z" class="zu"/>
<path d="M156.6 419.7 161.1 418.8 163.3 421.3 158.8 422.0z" class="zv"/>
<path d="M131.7 421.1 136.2 420.4 138.4 421.9 133.9 422.4z" class="zw"/>
<path d="M185.9 416.7 190.5 415.3 192.7 420.0 188.1 421.2z" class="zx"/>
<path d="M161.1 418.8 165.6 417.9 167.8 420.5 163.3 421.3z" class="zy"/>
<path d="M136.2 420.4 140.8 419.7 143 421.3 138.4 421.9z" class="zz"/>
<path d="M111.4 424.2 115.9 422.6 118.1 423.2 113.6 424.7z" class="zd"/>
<path d="M190.5 415.3 195 414.0 197.2 418.9 192.7 420.0z" class="aa1"/>
<path d="M165.6 417.9 170.2 416.9 172.4 419.7 167.8 420.5z" class="zu"/>
<path d="M140.8 419.7 145.3 419.0 147.5 420.8 143 421.3z" class="ab1"/>
<path d="M115.9 422.6 120.4 421.7 122.6 422.5 118.1 423.2z" class="ze"/>
<path d="M195 414.0 199.5 412.7 201.7 417.8 197.2 418.9z" class="ac1"/>
<path d="M170.2 416.9 174.7 415.8 176.9 418.8 172.4 419.7z" class="zx"/>
<path d="M145.3 419.0 149.8 418.3 152 420.3 147.5 420.8z" class="zt"/>
<path d="M120.4 421.7 125 420.9 127.2 421.8 122.6 422.5z" class="zf"/>
<path d="M199.5 412.7 204.1 411.4 206.3 416.8 201.7 417.8z" class="ah"/>
<path d="M174.7 415.8 179.2 414.6 181.4 417.8 176.9 418.8z" class="aa1"/>
<path d="M149.8 418.3 154.4 417.5 156.6 419.7 152 420.3z" class="ad1"/>
<path d="M125 420.9 129.5 420.0 131.7 421.1 127.2 421.8z" class="zg"/>
<path d="M204.1 411.4 208.6 410.2 210.8 415.7 206.3 416.8z" class="ae1"/>
<path d="M179.2 414.6 183.7 413.3 185.9 416.7 181.4 417.8z" class="ac1"/>
<path d="M154.4 417.5 158.9 416.5 161.1 418.8 156.6 419.7z" class="zu"/>
<path d="M129.5 420.0 134 419.2 136.2 420.4 131.7 421.1z" class="af1"/>
<path d="M208.6 410.2 213.1 408.9 215.3 414.6 210.8 415.7z" class="ag1"/>
<path d="M109.2 423.7 113.7 422.1 115.9 422.6 111.4 424.2z" class="zd"/>
<path d="M158.9 416.5 163.4 415.5 165.6 417.9 161.1 418.8z" class="aa1"/>
<path d="M183.7 413.3 188.3 411.8 190.5 415.3 185.9 416.7z" class="ah"/>
<path d="M134 419.2 138.6 418.3 140.8 419.7 136.2 420.4z" class="ah1"/>
<path d="M213.1 408.9 217.7 407.3 219.9 413.2 215.3 414.6z" class="ai1"/>
<path d="M113.7 422.1 118.2 421.0 120.4 421.7 115.9 422.6z" class="ze"/>
<path d="M163.4 415.5 167.9 414.4 170.2 416.9 165.6 417.9z" class="ac1"/>
<path d="M138.6 418.3 143.1 417.5 145.3 419.0 140.8 419.7z" class="aj1"/>
<path d="M188.3 411.8 192.8 410.3 195 414.0 190.5 415.3z" class="aj"/>
<path d="M118.2 421.0 122.8 420.0 125 420.9 120.4 421.7z" class="ak1"/>
<path d="M143.1 417.5 147.6 416.7 149.8 418.3 145.3 419.0z" class="al1"/>
<path d="M167.9 414.4 172.5 413.1 174.7 415.8 170.2 416.9z" class="ah"/>
<path d="M217.7 407.3 222.2 405.9 224.4 411.9 219.9 413.2z" class="am1"/>
<path d="M192.8 410.3 197.3 408.9 199.5 412.7 195 414.0z" class="ag1"/>
<path d="M122.8 420.0 127.3 419.0 129.5 420.0 125 420.9z" class="an1"/>
<path d="M147.6 416.7 152.2 415.8 154.4 417.5 149.8 418.3z" class="aa"/>
<path d="M172.5 413.1 177 411.7 179.2 414.6 174.7 415.8z" class="aj"/>
<path d="M222.2 405.9 226.7 404.6 228.9 410.8 224.4 411.9z" class="ao1"/>
<path d="M197.3 408.9 201.9 407.5 204.1 411.4 199.5 412.7z" class="am1"/>
<path d="M127.3 419.0 131.8 418.0 134 419.2 129.5 420.0z" class="ap1"/>
<path d="M152.2 415.8 156.7 414.7 158.9 416.5 154.4 417.5z" class="aa1"/>
<path d="M226.7 404.6 231.3 403.6 233.5 409.9 228.9 410.8z" class="ao1"/>
<path d="M177 411.7 181.5 410.2 183.7 413.3 179.2 414.6z" class="ag1"/>
<path d="M201.9 407.5 206.4 406.1 208.6 410.2 204.1 411.4z" class="aq1"/>
<path d="M107 423.2 111.5 421.5 113.7 422.1 109.2 423.7z" class="zd"/>
<path d="M131.8 418.0 136.4 417.0 138.6 418.3 134 419.2z" class="ar1"/>
<path d="M156.7 414.7 161.2 413.5 163.4 415.5 158.9 416.5z" class="af"/>
<path d="M231.3 403.6 235.8 402.8 238 409.3 233.5 409.9z" class="as1"/>
<path d="M181.5 410.2 186.1 408.6 188.3 411.8 183.7 413.3z" class="am1"/>
<path d="M206.4 406.1 210.9 404.7 213.1 408.9 208.6 410.2z" class="ao1"/>
<path d="M111.5 421.5 116 420.3 118.2 421.0 113.7 422.1z" class="ze"/>
<path d="M136.4 417.0 140.9 416.1 143.1 417.5 138.6 418.3z" class="at1"/>
<path d="M161.2 413.5 165.7 412.2 167.9 414.4 163.4 415.5z" class="aj"/>
<path d="M235.8 402.8 240.3 402.3 242.5 408.8 238 409.3z" class="au1"/>
<path d="M186.1 408.6 190.6 406.9 192.8 410.3 188.3 411.8z" class="aq1"/>
<path d="M210.9 404.7 215.5 403.0 217.7 407.3 213.1 408.9z" class="au1"/>
<path d="M116 420.3 120.6 419.2 122.8 420.0 118.2 421.0z" class="ak1"/>
<path d="M140.9 416.1 145.4 415.1 147.6 416.7 143.1 417.5z" class="ab"/>
<path d="M240.3 402.3 244.9 401.9 247.1 408.5 242.5 408.8z" class="au1"/>
<path d="M165.7 412.2 170.3 410.8 172.5 413.1 167.9 414.4z" class="ag1"/>
<path d="M190.6 406.9 195.1 405.4 197.3 408.9 192.8 410.3z" class="au1"/>
<path d="M215.5 403.0 220 401.5 222.2 405.9 217.7 407.3z" class="av1"/>
<path d="M120.6 419.2 125.1 418.0 127.3 419.0 122.8 420.0z" class="aw1"/>
<path d="M244.9 401.9 249.4 401.7 251.6 408.5 247.1 408.5z" class="av1"/>
<path d="M145.4 415.1 149.9 414.1 152.2 415.8 147.6 416.7z" class="ad"/>
<path d="M170.3 410.8 174.8 409.3 177 411.7 172.5 413.1z" class="an"/>
<path d="M249.4 401.7 253.9 401.9 256.1 408.7 251.6 408.5z" class="av1"/>
<path d="M195.1 405.4 199.7 403.8 201.9 407.5 197.3 408.9z" class="au1"/>
<path d="M220 401.5 224.5 400.1 226.7 404.6 222.2 405.9z" class="ax1"/>
<path d="M125.1 418.0 129.6 416.9 131.8 418.0 127.3 419.0z" class="ay1"/>
<path d="M149.9 414.1 154.5 412.8 156.7 414.7 152.2 415.8z" class="ai"/>
<path d="M174.8 409.3 179.3 407.7 181.5 410.2 177 411.7z" class="au"/>
<path d="M104.8 422.6 109.3 420.9 111.5 421.5 107 423.2z" class="zd"/>
<path d="M253.9 401.9 258.4 402.0 260.6 409.0 256.1 408.7z" class="av1"/>
<path d="M199.7 403.8 204.2 402.2 206.4 406.1 201.9 407.5z" class="av1"/>
<path d="M224.5 400.1 229.1 399.0 231.3 403.6 226.7 404.6z" class="az1"/>
<path d="M129.6 416.9 134.2 415.8 136.4 417.0 131.8 418.0z" class="ba1"/>
<path d="M154.5 412.8 159 411.6 161.2 413.5 156.7 414.7z" class="aj"/>
<path d="M258.4 402.0 263 402.3 265.2 409.3 260.6 409.0z" class="av1"/>
<path d="M109.3 420.9 113.8 419.6 116 420.3 111.5 421.5z" class="bb1"/>
<path d="M179.3 407.7 183.9 405.9 186.1 408.6 181.5 410.2z" class="ax"/>
<path d="M229.1 399.0 233.6 398.2 235.8 402.8 231.3 403.6z" class="bc1"/>
<path d="M134.2 415.8 138.7 414.7 140.9 416.1 136.4 417.0z" class="av"/>
<path d="M204.2 402.2 208.7 400.7 210.9 404.7 206.4 406.1z" class="az1"/>
<path d="M263 402.3 267.5 402.9 269.7 409.9 265.2 409.3z" class="au1"/>
<path d="M159 411.6 163.5 410.2 165.7 412.2 161.2 413.5z" class="aq"/>
<path d="M113.8 419.6 118.4 418.3 120.6 419.2 116 420.3z" class="bd1"/>
<path d="M267.5 402.9 272 403.4 274.2 410.5 269.7 409.9z" class="au1"/>
<path d="M183.9 405.9 188.4 404.1 190.6 406.9 186.1 408.6z" class="av1"/>
<path d="M233.6 398.2 238.1 397.6 240.3 402.3 235.8 402.8z" class="bc1"/>
<path d="M138.7 414.7 143.2 413.6 145.4 415.1 140.9 416.1z" class="ag"/>
<path d="M208.7 400.7 213.3 399.0 215.5 403.0 210.9 404.7z" class="bc1"/>
<path d="M163.5 410.2 168.1 408.6 170.3 410.8 165.7 412.2z" class="ar"/>
<path d="M272 403.4 276.6 403.9 278.8 411.0 274.2 410.5z" class="au1"/>
<path d="M118.4 418.3 122.9 417.1 125.1 418.0 120.6 419.2z" class="aw1"/>
<path d="M238.1 397.6 242.6 397.1 244.9 401.9 240.3 402.3z" class="bc1"/>
<path d="M188.4 404.1 192.9 402.4 195.1 405.4 190.6 406.9z" class="bf"/>
<path d="M143.2 413.6 147.7 412.5 149.9 414.1 145.4 415.1z" class="al"/>
<path d="M276.6 403.9 281.1 404.4 283.3 411.6 278.8 411.0z" class="au1"/>
<path d="M213.3 399.0 217.8 397.3 220 401.5 215.5 403.0z" class="be1"/>
<path d="M168.1 408.6 172.6 406.9 174.8 409.3 170.3 410.8z" class="ax"/>
<path d="M242.6 397.1 247.2 397.0 249.4 401.7 244.9 401.9z" class="be1"/>
<path d="M122.9 417.1 127.4 415.8 129.6 416.9 125.1 418.0z" class="bf1"/>
<path d="M281.1 404.4 285.6 405.1 287.8 412.3 283.3 411.6z" class="as1"/>
<path d="M147.7 412.5 152.3 411.2 154.5 412.8 149.9 414.1z" class="aw"/>
<path d="M192.9 402.4 197.5 400.7 199.7 403.8 195.1 405.4z" class="bc1"/>
<path d="M102.6 422.1 107.1 420.2 109.3 420.9 104.8 422.6z" class="zd"/>
<path d="M217.8 397.3 222.3 395.9 224.5 400.1 220 401.5z" class="bg1"/>
<path d="M247.2 397.0 251.7 397.1 253.9 401.9 249.4 401.7z" class="bh1"/>
<path d="M285.6 405.1 290.2 405.7 292.4 413.0 287.8 412.3z" class="as1"/>
<path d="M172.6 406.9 177.1 405.1 179.3 407.7 174.8 409.3z" class="av1"/>
<path d="M127.4 415.8 131.9 414.5 134.2 415.8 129.6 416.9z" class="bi1"/>
<path d="M152.3 411.2 156.8 409.8 159 411.6 154.5 412.8z" class="ar"/>
<path d="M290.2 405.7 294.7 406.3 296.9 413.6 292.4 413.0z" class="ao1"/>
<path d="M197.5 400.7 202 399.0 204.2 402.2 199.7 403.8z" class="bc1"/>
<path d="M251.7 397.1 256.2 397.2 258.4 402.0 253.9 401.9z" class="bh1"/>
<path d="M107.1 420.2 111.6 418.9 113.8 419.6 109.3 420.9z" class="bb1"/>
<path d="M222.3 395.9 226.9 394.8 229.1 399.0 224.5 400.1z" class="bj1"/>
<path d="M177.1 405.1 181.7 403.2 183.9 405.9 179.3 407.7z" class="bf"/>
<path d="M131.9 414.5 136.5 413.4 138.7 414.7 134.2 415.8z" class="az"/>
<path d="M294.7 406.3 299.2 406.8 301.4 414.1 296.9 413.6z" class="ao1"/>
<path d="M256.2 397.2 260.8 397.5 263 402.3 258.4 402.0z" class="bh1"/>
<path d="M156.8 409.8 161.3 408.2 163.5 410.2 159 411.6z" class="bk1"/>
<path d="M202 399.0 206.5 397.4 208.7 400.7 204.2 402.2z" class="bg1"/>
<path d="M111.6 418.9 116.2 417.5 118.4 418.3 113.8 419.6z" class="bd1"/>
<path d="M226.9 394.8 231.4 393.9 233.6 398.2 229.1 399.0z" class="bl1"/>
<path d="M299.2 406.8 303.8 407.2 306 414.6 301.4 414.1z" class="ao1"/>
<path d="M260.8 397.5 265.3 398.0 267.5 402.9 263 402.3z" class="bc1"/>
<path d="M136.5 413.4 141 412.2 143.2 413.6 138.7 414.7z" class="bm1"/>
<path d="M181.7 403.2 186.2 401.3 188.4 404.1 183.9 405.9z" class="bc1"/>
<path d="M303.8 407.2 308.3 407.5 310.5 415.0 306 414.6z" class="ao1"/>
<path d="M161.3 408.2 165.9 406.5 168.1 408.6 163.5 410.2z" class="bi"/>
<path d="M231.4 393.9 235.9 393.2 238.1 397.6 233.6 398.2z" class="bn1"/>
<path d="M265.3 398.0 269.8 398.5 272 403.4 267.5 402.9z" class="bc1"/>
<path d="M206.5 397.4 211.1 395.6 213.3 399.0 208.7 400.7z" class="bj1"/>
<path d="M116.2 417.5 120.7 416.1 122.9 417.1 118.4 418.3z" class="bo1"/>
<path d="M141 412.2 145.5 410.9 147.7 412.5 143.2 413.6z" class="bp1"/>
<path d="M308.3 407.5 312.8 407.8 315 415.4 310.5 415.0z" class="ao1"/>
<path d="M186.2 401.3 190.7 399.4 192.9 402.4 188.4 404.1z" class="bw"/>
<path d="M269.8 398.5 274.4 399.0 276.6 403.9 272 403.4z" class="bc1"/>
<path d="M235.9 393.2 240.4 392.7 242.6 397.1 238.1 397.6z" class="bn1"/>
<path d="M165.9 406.5 170.4 404.7 172.6 406.9 168.1 408.6z" class="bf"/>
<path d="M120.7 416.1 125.2 414.7 127.4 415.8 122.9 417.1z" class="bq1"/>
<path d="M211.1 395.6 215.6 393.9 217.8 397.3 213.3 399.0z" class="bn1"/>
<path d="M312.8 407.8 317.4 408.2 319.6 415.8 315 415.4z" class="ao1"/>
<path d="M274.4 399.0 278.9 399.6 281.1 404.4 276.6 403.9z" class="bc1"/>
<path d="M100.4 421.5 104.9 419.6 107.1 420.2 102.6 422.1z" class="br1"/>
<path d="M145.5 410.9 150.1 409.5 152.3 411.2 147.7 412.5z" class="bs1"/>
<path d="M240.4 392.7 245 392.5 247.2 397.0 242.6 397.1z" class="bt1"/>
<path d="M190.7 399.4 195.3 397.6 197.5 400.7 192.9 402.4z" class="cr"/>
<path d="M317.4 408.2 321.9 408.4 324.1 416.2 319.6 415.8z" class="ao1"/>
<path d="M278.9 399.6 283.4 400.3 285.6 405.1 281.1 404.4z" class="bc1"/>
<path d="M125.2 414.7 129.7 413.4 131.9 414.5 127.4 415.8z" class="be"/>
<path d="M170.4 404.7 174.9 402.8 177.1 405.1 172.6 406.9z" class="bq"/>
<path d="M215.6 393.9 220.1 392.4 222.3 395.9 217.8 397.3z" class="ei"/>
<path d="M245 392.5 249.5 392.5 251.7 397.1 247.2 397.0z" class="bt1"/>
<path d="M150.1 409.5 154.6 408.1 156.8 409.8 152.3 411.2z" class="bk"/>
<path d="M104.9 419.6 109.4 418.1 111.6 418.9 107.1 420.2z" class="bb1"/>
<path d="M283.4 400.3 288 401.0 290.2 405.7 285.6 405.1z" class="az1"/>
<path d="M321.9 408.4 326.4 408.6 328.6 416.5 324.1 416.2z" class="ao1"/>
<path d="M195.3 397.6 199.8 395.8 202 399.0 197.5 400.7z" class="ec"/>
<path d="M129.7 413.4 134.3 412.1 136.5 413.4 131.9 414.5z" class="bp"/>
<path d="M220.1 392.4 224.7 391.2 226.9 394.8 222.3 395.9z" class="ei"/>
<path d="M249.5 392.5 254 392.7 256.2 397.2 251.7 397.1z" class="bt1"/>
<path d="M174.9 402.8 179.5 400.8 181.7 403.2 177.1 405.1z" class="bw"/>
<path d="M288 401.0 292.5 401.6 294.7 406.3 290.2 405.7z" class="az1"/>
<path d="M326.4 408.6 330.9 408.6 333.1 416.6 328.6 416.5z" class="ao1"/>
<path d="M109.4 418.1 114 416.7 116.2 417.5 111.6 418.9z" class="bu1"/>
<path d="M154.6 408.1 159.1 406.4 161.3 408.2 156.8 409.8z" class="bi"/>
<path d="M292.5 401.6 297 402.1 299.2 406.8 294.7 406.3z" class="az1"/>
<path d="M199.8 395.8 204.3 394.1 206.5 397.4 202 399.0z" class="ei"/>
<path d="M254 392.7 258.6 392.9 260.8 397.5 256.2 397.2z" class="bt1"/>
<path d="M134.3 412.1 138.8 410.8 141 412.2 136.5 413.4z" class="bh"/>
<path d="M224.7 391.2 229.2 390.2 231.4 393.9 226.9 394.8z" class="em"/>
<path d="M330.9 408.6 335.5 408.6 337.7 416.7 333.1 416.6z" class="ao1"/>
<path d="M179.5 400.8 184 398.7 186.2 401.3 181.7 403.2z" class="cr"/>
<path d="M114 416.7 118.5 415.2 120.7 416.1 116.2 417.5z" class="bo1"/>
<path d="M297 402.1 301.6 402.5 303.8 407.2 299.2 406.8z" class="az1"/>
<path d="M258.6 392.9 263.1 393.4 265.3 398.0 260.8 397.5z" class="ec"/>
<path d="M159.1 406.4 163.7 404.5 165.9 406.5 161.3 408.2z" class="bf"/>
<path d="M335.5 408.6 340 408.5 342.2 416.8 337.7 416.7z" class="ao1"/>
<path d="M204.3 394.1 208.9 392.3 211.1 395.6 206.5 397.4z" class="ei"/>
<path d="M138.8 410.8 143.3 409.5 145.5 410.9 141 412.2z" class="br"/>
<path d="M229.2 390.2 233.7 389.5 235.9 393.2 231.4 393.9z" class="em"/>
<path d="M301.6 402.5 306.1 402.8 308.3 407.5 303.8 407.2z" class="az1"/>
<path d="M263.1 393.4 267.6 393.9 269.8 398.5 265.3 398.0z" class="bn1"/>
<path d="M184 398.7 188.5 396.8 190.7 399.4 186.2 401.3z" class="ec"/>
<path d="M118.5 415.2 123 413.7 125.2 414.7 120.7 416.1z" class="bv1"/>
<path d="M340 408.5 344.5 408.4 346.7 416.9 342.2 416.8z" class="ao1"/>
<path d="M163.7 404.5 168.2 402.6 170.4 404.7 165.9 406.5z" class="bm"/>
<path d="M98.2 420.9 102.7 419.0 104.9 419.6 100.4 421.5z" class="br1"/>
<path d="M267.6 393.9 272.2 394.5 274.4 399.0 269.8 398.5z" class="bn1"/>
<path d="M233.7 389.5 238.2 389.0 240.4 392.7 235.9 393.2z" class="ev"/>
<path d="M306.1 402.8 310.6 403.1 312.8 407.8 308.3 407.5z" class="az1"/>
<path d="M143.3 409.5 147.9 408.0 150.1 409.5 145.5 410.9z" class="by"/>
<path d="M208.9 392.3 213.4 390.5 215.6 393.9 211.1 395.6z" class="em"/>
<path d="M344.5 408.4 349.1 408.3 351.3 417.0 346.7 416.9z" class="ao1"/>
<path d="M272.2 394.5 276.7 395.1 278.9 399.6 274.4 399.0z" class="bn1"/>
<path d="M188.5 396.8 193.1 394.8 195.3 397.6 190.7 399.4z" class="ei"/>
<path d="M123 413.7 127.5 412.2 129.7 413.4 125.2 414.7z" class="bx"/>
<path d="M310.6 403.1 315.1 403.4 317.4 408.2 312.8 407.8z" class="az1"/>
<path d="M238.2 389.0 242.8 388.8 245 392.5 240.4 392.7z" class="ev"/>
<path d="M168.2 402.6 172.7 400.6 174.9 402.8 170.4 404.7z" class="bw"/>
<path d="M102.7 419.0 107.2 417.4 109.4 418.1 104.9 419.6z" class="bb1"/>
<path d="M147.9 408.0 152.4 406.5 154.6 408.1 150.1 409.5z" class="ce"/>
<path d="M213.4 390.5 217.9 388.9 220.1 392.4 215.6 393.9z" class="ev"/>
<path d="M276.7 395.1 281.2 395.8 283.4 400.3 278.9 399.6z" class="bw1"/>
<path d="M349.1 408.3 353.6 408.2 355.8 417.1 351.3 417.0z" class="ao1"/>
<path d="M315.1 403.4 319.7 403.6 321.9 408.4 317.4 408.2z" class="az1"/>
<path d="M242.8 388.8 247.3 388.8 249.5 392.5 245 392.5z" class="ev"/>
<path d="M127.5 412.2 132.1 410.8 134.3 412.1 129.7 413.4z" class="ci"/>
<path d="M193.1 394.8 197.6 392.9 199.8 395.8 195.3 397.6z" class="em"/>
<path d="M281.2 395.8 285.8 396.6 288 401.0 283.4 400.3z" class="cr"/>
<path d="M353.6 408.2 358.1 408.0 360.3 417.2 355.8 417.1z" class="ao1"/>
<path d="M172.7 400.6 177.3 398.5 179.5 400.8 174.9 402.8z" class="dx"/>
<path d="M107.2 417.4 111.7 415.8 114 416.7 109.4 418.1z" class="bx1"/>
<path d="M319.7 403.6 324.2 403.7 326.4 408.6 321.9 408.4z" class="az1"/>
<path d="M152.4 406.5 156.9 404.7 159.1 406.4 154.6 408.1z" class="bm"/>
<path d="M217.9 388.9 222.4 387.7 224.7 391.2 220.1 392.4z" class="fc"/>
<path d="M247.3 388.8 251.8 388.9 254 392.7 249.5 392.5z" class="ev"/>
<path d="M285.8 396.6 290.3 397.3 292.5 401.6 288 401.0z" class="bj1"/>
<path d="M132.1 410.8 136.6 409.5 138.8 410.8 134.3 412.1z" class="cb"/>
<path d="M358.1 408.0 362.7 407.9 364.9 417.2 360.3 417.2z" class="ao1"/>
<path d="M197.6 392.9 202.1 391.2 204.3 394.1 199.8 395.8z" class="ev"/>
<path d="M324.2 403.7 328.7 403.6 330.9 408.6 326.4 408.6z" class="az1"/>
<path d="M251.8 388.9 256.4 389.2 258.6 392.9 254 392.7z" class="ev"/>
<path d="M111.7 415.8 116.3 414.2 118.5 415.2 114 416.7z" class="by1"/>
<path d="M290.3 397.3 294.8 397.8 297 402.1 292.5 401.6z" class="bj1"/>
<path d="M177.3 398.5 181.8 396.3 184 398.7 179.5 400.8z" class="ei"/>
<path d="M222.4 387.7 227 386.6 229.2 390.2 224.7 391.2z" class="ff"/>
<path d="M156.9 404.7 161.5 402.7 163.7 404.5 159.1 406.4z" class="cx"/>
<path d="M362.7 407.9 367.2 407.7 369.4 417.3 364.9 417.2z" class="ao1"/>
<path d="M328.7 403.6 333.3 403.5 335.5 408.6 330.9 408.6z" class="az1"/>
<path d="M136.6 409.5 141.1 408.1 143.3 409.5 138.8 410.8z" class="cv"/>
<path d="M256.4 389.2 260.9 389.7 263.1 393.4 258.6 392.9z" class="ev"/>
<path d="M294.8 397.8 299.4 398.2 301.6 402.5 297 402.1z" class="bj1"/>
<path d="M202.1 391.2 206.7 389.2 208.9 392.3 204.3 394.1z" class="ey"/>
<path d="M227 386.6 231.5 385.9 233.7 389.5 229.2 390.2z" class="ff"/>
<path d="M116.3 414.2 120.8 412.6 123 413.7 118.5 415.2z" class="bv1"/>
<path d="M367.2 407.7 371.7 407.5 373.9 417.2 369.4 417.3z" class="ao1"/>
<path d="M181.8 396.3 186.3 394.3 188.5 396.8 184 398.7z" class="em"/>
<path d="M96 420.3 100.5 418.3 102.7 419.0 98.2 420.9z" class="br1"/>
<path d="M260.9 389.7 265.4 390.3 267.6 393.9 263.1 393.4z" class="ev"/>
<path d="M333.3 403.5 337.8 403.3 340 408.5 335.5 408.6z" class="az1"/>
<path d="M161.5 402.7 166 400.7 168.2 402.6 163.7 404.5z" class="dx"/>
<path d="M299.4 398.2 303.9 398.5 306.1 402.8 301.6 402.5z" class="bj1"/>
<path d="M141.1 408.1 145.7 406.5 147.9 408.0 143.3 409.5z" class="cz"/>
<path d="M231.5 385.9 236 385.3 238.2 389.0 233.7 389.5z" class="ff"/>
<path d="M265.4 390.3 270 390.9 272.2 394.5 267.6 393.9z" class="em"/>
<path d="M206.7 389.2 211.2 387.4 213.4 390.5 208.9 392.3z" class="ff"/>
<path d="M371.7 407.5 376.3 407.3 378.5 417.2 373.9 417.2z" class="as1"/>
<path d="M120.8 412.6 125.3 411.1 127.5 412.2 123 413.7z" class="bz1"/>
<path d="M337.8 403.3 342.3 403.0 344.5 408.4 340 408.5z" class="az1"/>
<path d="M303.9 398.5 308.4 398.8 310.6 403.1 306.1 402.8z" class="bj1"/>
<path d="M100.5 418.3 105 416.6 107.2 417.4 102.7 419.0z" class="bb1"/>
<path d="M186.3 394.3 190.9 392.2 193.1 394.8 188.5 396.8z" class="ev"/>
<path d="M166 400.7 170.5 398.5 172.7 400.6 168.2 402.6z" class="ec"/>
<path d="M270 390.9 274.5 391.6 276.7 395.1 272.2 394.5z" class="em"/>
<path d="M145.7 406.5 150.2 404.9 152.4 406.5 147.9 408.0z" class="cm"/>
<path d="M236 385.3 240.6 385.1 242.8 388.8 238.2 389.0z" class="gk"/>
<path d="M376.3 407.3 380.8 407.1 383 417.2 378.5 417.2z" class="as1"/>
<path d="M308.4 398.8 312.9 399.0 315.1 403.4 310.6 403.1z" class="bj1"/>
<path d="M342.3 403.0 346.9 402.8 349.1 408.3 344.5 408.4z" class="az1"/>
<path d="M211.2 387.4 215.7 385.8 217.9 388.9 213.4 390.5z" class="gk"/>
<path d="M125.3 411.1 129.9 409.6 132.1 410.8 127.5 412.2z" class="cw"/>
<path d="M274.5 391.6 279 392.4 281.2 395.8 276.7 395.1z" class="dp"/>
<path d="M105 416.6 109.5 414.9 111.7 415.8 107.2 417.4z" class="bx1"/>
<path d="M240.6 385.1 245.1 385.1 247.3 388.8 242.8 388.8z" class="gk"/>
<path d="M190.9 392.2 195.4 390.3 197.6 392.9 193.1 394.8z" class="fc"/>
<path d="M312.9 399.0 317.5 399.1 319.7 403.6 315.1 403.4z" class="bj1"/>
<path d="M380.8 407.1 385.3 406.9 387.5 417.1 383 417.2z" class="as1"/>
<path d="M170.5 398.5 175.1 396.3 177.3 398.5 172.7 400.6z" class="ei"/>
<path d="M346.9 402.8 351.4 402.5 353.6 408.2 349.1 408.3z" class="az1"/>
<path d="M150.2 404.9 154.7 403.0 156.9 404.7 152.4 406.5z" class="cx"/>
<path d="M279 392.4 283.6 393.2 285.8 396.6 281.2 395.8z" class="dd"/>
<path d="M215.7 385.8 220.2 384.4 222.4 387.7 217.9 388.9z" class="fy"/>
<path d="M129.9 409.6 134.4 408.2 136.6 409.5 132.1 410.8z" class="cp"/>
<path d="M245.1 385.1 249.6 385.2 251.8 388.9 247.3 388.8z" class="gk"/>
<path d="M317.5 399.1 322 399.1 324.2 403.7 319.7 403.6z" class="bj1"/>
<path d="M385.3 406.9 389.9 406.6 392.1 417.0 387.5 417.1z" class="as1"/>
<path d="M283.6 393.2 288.1 393.9 290.3 397.3 285.8 396.6z" class="dd"/>
<path d="M109.5 414.9 114.1 413.2 116.3 414.2 111.7 415.8z" class="ca1"/>
<path d="M351.4 402.5 355.9 402.3 358.1 408.0 353.6 408.2z" class="bc1"/>
<path d="M195.4 390.3 199.9 388.4 202.1 391.2 197.6 392.9z" class="ff"/>
<path d="M175.1 396.3 179.6 394.1 181.8 396.3 177.3 398.5z" class="em"/>
<path d="M154.7 403.0 159.3 400.9 161.5 402.7 156.9 404.7z" class="ck"/>
<path d="M249.6 385.2 254.2 385.5 256.4 389.2 251.8 388.9z" class="gk"/>
<path d="M322 399.1 326.5 399.0 328.7 403.6 324.2 403.7z" class="bj1"/>
<path d="M288.1 393.9 292.6 394.5 294.8 397.8 290.3 397.3z" class="dy"/>
<path d="M220.2 384.4 224.8 383.4 227 386.6 222.4 387.7z" class="gu"/>
<path d="M389.9 406.6 394.4 406.3 396.6 416.9 392.1 417.0z" class="cb1"/>
<path d="M134.4 408.2 138.9 406.6 141.1 408.1 136.6 409.5z" class="cz"/>
<path d="M355.9 402.3 360.5 402.0 362.7 407.9 358.1 408.0z" class="bc1"/>
<path d="M114.1 413.2 118.6 411.5 120.8 412.6 116.3 414.2z" class="cc1"/>
<path d="M254.2 385.5 258.7 386.0 260.9 389.7 256.4 389.2z" class="gk"/>
<path d="M93.8 419.7 98.3 417.6 100.5 418.3 96 420.3z" class="br1"/>
<path d="M199.9 388.4 204.4 386.4 206.7 389.2 202.1 391.2z" class="ga"/>
<path d="M292.6 394.5 297.2 394.9 299.4 398.2 294.8 397.8z" class="ei"/>
<path d="M326.5 399.0 331.1 398.7 333.3 403.5 328.7 403.6z" class="bj1"/>
<path d="M394.4 406.3 398.9 406.0 401.1 416.8 396.6 416.9z" class="cb1"/>
<path d="M224.8 383.4 229.3 382.6 231.5 385.9 227 386.6z" class="gf"/>
<path d="M179.6 394.1 184.1 391.9 186.3 394.3 181.8 396.3z" class="cd1"/>
<path d="M159.3 400.9 163.8 398.8 166 400.7 161.5 402.7z" class="cs"/>
<path d="M360.5 402.0 365 401.6 367.2 407.7 362.7 407.9z" class="ce1"/>
<path d="M138.9 406.6 143.5 405.0 145.7 406.5 141.1 408.1z" class="cm"/>
<path d="M258.7 386.0 263.2 386.6 265.4 390.3 260.9 389.7z" class="gk"/>
<path d="M297.2 394.9 301.7 395.2 303.9 398.5 299.4 398.2z" class="ei"/>
<path d="M118.6 411.5 123.1 409.9 125.3 411.1 120.8 412.6z" class="cf1"/>
<path d="M331.1 398.7 335.6 398.4 337.8 403.3 333.3 403.5z" class="bj1"/>
<path d="M398.9 406.0 403.4 405.7 405.6 416.7 401.1 416.8z" class="cg1"/>
<path d="M98.3 417.6 102.8 415.9 105 416.6 100.5 418.3z" class="bb1"/>
<path d="M204.4 386.4 209 384.5 211.2 387.4 206.7 389.2z" class="gu"/>
<path d="M229.3 382.6 233.8 382.0 236 385.3 231.5 385.9z" class="hn"/>
<path d="M365 401.6 369.5 401.3 371.7 407.5 367.2 407.7z" class="ce1"/>
<path d="M263.2 386.6 267.8 387.2 270 390.9 265.4 390.3z" class="gk"/>
<path d="M301.7 395.2 306.2 395.5 308.4 398.8 303.9 398.5z" class="ei"/>
<path d="M184.1 391.9 188.7 389.8 190.9 392.2 186.3 394.3z" class="gk"/>
<path d="M163.8 398.8 168.3 396.5 170.5 398.5 166 400.7z" class="dp"/>
<path d="M143.5 405.0 148 403.3 150.2 404.9 145.7 406.5z" class="dj"/>
<path d="M335.6 398.4 340.1 398.0 342.3 403.0 337.8 403.3z" class="bj1"/>
<path d="M403.4 405.7 408 405.4 410.2 416.5 405.6 416.7z" class="cg1"/>
<path d="M267.8 387.2 272.3 388.0 274.5 391.6 270 390.9z" class="gk"/>
<path d="M123.1 409.9 127.7 408.3 129.9 409.6 125.3 411.1z" class="dn"/>
<path d="M369.5 401.3 374.1 401.0 376.3 407.3 371.7 407.5z" class="ce1"/>
<path d="M233.8 382.0 238.4 381.8 240.6 385.1 236 385.3z" class="hn"/>
<path d="M306.2 395.5 310.7 395.7 312.9 399.0 308.4 398.8z" class="ei"/>
<path d="M102.8 415.9 107.3 414.1 109.5 414.9 105 416.6z" class="bx1"/>
<path d="M209 384.5 213.5 382.8 215.7 385.8 211.2 387.4z" class="hn"/>
<path d="M272.3 388.0 276.8 388.8 279 392.4 274.5 391.6z" class="cd1"/>
<path d="M340.1 398.0 344.7 397.6 346.9 402.8 342.3 403.0z" class="bl1"/>
<path d="M188.7 389.8 193.2 387.7 195.4 390.3 190.9 392.2z" class="ga"/>
<path d="M168.3 396.5 172.9 394.2 175.1 396.3 170.5 398.5z" class="fi"/>
<path d="M148 403.3 152.5 401.4 154.7 403.0 150.2 404.9z" class="ck"/>
<path d="M238.4 381.8 242.9 381.8 245.1 385.1 240.6 385.1z" class="hn"/>
<path d="M374.1 401.0 378.6 400.6 380.8 407.1 376.3 407.3z" class="be1"/>
<path d="M310.7 395.7 315.3 395.8 317.5 399.1 312.9 399.0z" class="ei"/>
<path d="M127.7 408.3 132.2 406.8 134.4 408.2 129.9 409.6z" class="en"/>
<path d="M276.8 388.8 281.4 389.7 283.6 393.2 279 392.4z" class="cd1"/>
<path d="M107.3 414.1 111.9 412.3 114.1 413.2 109.5 414.9z" class="ch1"/>
<path d="M213.5 382.8 218 381.5 220.2 384.4 215.7 385.8z" class="gv"/>
<path d="M344.7 397.6 349.2 397.2 351.4 402.5 346.9 402.8z" class="bl1"/>
<path d="M242.9 381.8 247.4 381.9 249.6 385.2 245.1 385.1z" class="hn"/>
<path d="M315.3 395.8 319.8 395.7 322 399.1 317.5 399.1z" class="ei"/>
<path d="M378.6 400.6 383.1 400.3 385.3 406.9 380.8 407.1z" class="be1"/>
<path d="M281.4 389.7 285.9 390.5 288.1 393.9 283.6 393.2z" class="cd1"/>
<path d="M193.2 387.7 197.7 385.8 199.9 388.4 195.4 390.3z" class="gu"/>
<path d="M152.5 401.4 157.1 399.1 159.3 400.9 154.7 403.0z" class="dy"/>
<path d="M172.9 394.2 177.4 391.9 179.6 394.1 175.1 396.3z" class="cd1"/>
<path d="M132.2 406.8 136.7 405.2 138.9 406.6 134.4 408.2z" class="ef"/>
<path d="M349.2 397.2 353.7 396.8 355.9 402.3 351.4 402.5z" class="bl1"/>
<path d="M247.4 381.9 252 382.2 254.2 385.5 249.6 385.2z" class="hn"/>
<path d="M218 381.5 222.6 380.4 224.8 383.4 220.2 384.4z" class="ib"/>
<path d="M285.9 390.5 290.4 391.1 292.6 394.5 288.1 393.9z" class="fm"/>
<path d="M111.9 412.3 116.4 410.5 118.6 411.5 114.1 413.2z" class="eh"/>
<path d="M319.8 395.7 324.3 395.5 326.5 399.0 322 399.1z" class="ei"/>
<path d="M91.5 419.4 96.1 417.3 98.3 417.6 93.8 419.7z" class="br1"/>
<path d="M383.1 400.3 387.6 399.8 389.9 406.6 385.3 406.9z" class="be1"/>
<path d="M197.7 385.8 202.2 383.8 204.4 386.4 199.9 388.4z" class="hn"/>
<path d="M252 382.2 256.5 382.7 258.7 386.0 254.2 385.5z" class="hn"/>
<path d="M290.4 391.1 294.9 391.6 297.2 394.9 292.6 394.5z" class="fi"/>
<path d="M157.1 399.1 161.6 396.9 163.8 398.8 159.3 400.9z" class="dp"/>
<path d="M353.7 396.8 358.3 396.3 360.5 402.0 355.9 402.3z" class="bn1"/>
<path d="M177.4 391.9 181.9 389.7 184.1 391.9 179.6 394.1z" class="gk"/>
<path d="M136.7 405.2 141.3 403.5 143.5 405.0 138.9 406.6z" class="dt"/>
<path d="M324.3 395.5 328.9 395.1 331.1 398.7 326.5 399.0z" class="ei"/>
<path d="M222.6 380.4 227.1 379.6 229.3 382.6 224.8 383.4z" class="ib"/>
<path d="M387.6 399.8 392.2 399.4 394.4 406.3 389.9 406.6z" class="bg1"/>
<path d="M116.4 410.5 120.9 408.8 123.1 409.9 118.6 411.5z" class="dz"/>
<path d="M96.1 417.3 100.6 415.4 102.8 415.9 98.3 417.6z" class="bb1"/>
<path d="M256.5 382.7 261 383.3 263.2 386.6 258.7 386.0z" class="hn"/>
<path d="M294.9 391.6 299.5 391.9 301.7 395.2 297.2 394.9z" class="fi"/>
<path d="M358.3 396.3 362.8 395.9 365 401.6 360.5 402.0z" class="bt1"/>
<path d="M202.2 383.8 206.8 381.8 209 384.5 204.4 386.4z" class="ib"/>
<path d="M328.9 395.1 333.4 394.7 335.6 398.4 331.1 398.7z" class="ei"/>
<path d="M392.2 399.4 396.7 399.0 398.9 406.0 394.4 406.3z" class="bj1"/>
<path d="M227.1 379.6 231.6 379.0 233.8 382.0 229.3 382.6z" class="ix"/>
<path d="M161.6 396.9 166.1 394.5 168.3 396.5 163.8 398.8z" class="fm"/>
<path d="M141.3 403.5 145.8 401.7 148 403.3 143.5 405.0z" class="ci1"/>
<path d="M181.9 389.7 186.5 387.4 188.7 389.8 184.1 391.9z" class="gu"/>
<path d="M261 383.3 265.6 384.0 267.8 387.2 263.2 386.6z" class="hj"/>
<path d="M299.5 391.9 304 392.2 306.2 395.5 301.7 395.2z" class="ev"/>
<path d="M120.9 408.8 125.5 407.1 127.7 408.3 123.1 409.9z" class="cj1"/>
<path d="M100.6 415.4 105.1 413.6 107.3 414.1 102.8 415.9z" class="bx1"/>
<path d="M362.8 395.9 367.3 395.4 369.5 401.3 365 401.6z" class="bt1"/>
<path d="M333.4 394.7 337.9 394.2 340.1 398.0 335.6 398.4z" class="em"/>
<path d="M265.6 384.0 270.1 384.9 272.3 388.0 267.8 387.2z" class="hj"/>
<path d="M396.7 399.0 401.2 398.6 403.4 405.7 398.9 406.0z" class="bj1"/>
<path d="M231.6 379.0 236.2 378.7 238.4 381.8 233.8 382.0z" class="ix"/>
<path d="M304 392.2 308.5 392.3 310.7 395.7 306.2 395.5z" class="ev"/>
<path d="M206.8 381.8 211.3 380.2 213.5 382.8 209 384.5z" class="hf"/>
<path d="M145.8 401.7 150.3 399.7 152.5 401.4 148 403.3z" class="dd"/>
<path d="M166.1 394.5 170.7 392.1 172.9 394.2 168.3 396.5z" class="gk"/>
<path d="M186.5 387.4 191 385.3 193.2 387.7 188.7 389.8z" class="hn"/>
<path d="M270.1 384.9 274.6 385.8 276.8 388.8 272.3 388.0z" class="hj"/>
<path d="M367.3 395.4 371.9 395.0 374.1 401.0 369.5 401.3z" class="bt1"/>
<path d="M125.5 407.1 130 405.5 132.2 406.8 127.7 408.3z" class="ck1"/>
<path d="M337.9 394.2 342.5 393.7 344.7 397.6 340.1 398.0z" class="em"/>
<path d="M236.2 378.7 240.7 378.8 242.9 381.8 238.4 381.8z" class="ix"/>
<path d="M401.2 398.6 405.8 398.1 408 405.4 403.4 405.7z" class="bj1"/>
<path d="M105.1 413.6 109.7 411.7 111.9 412.3 107.3 414.1z" class="ch1"/>
<path d="M308.5 392.3 313.1 392.4 315.3 395.8 310.7 395.7z" class="ev"/>
<path d="M274.6 385.8 279.2 386.7 281.4 389.7 276.8 388.8z" class="fj"/>
<path d="M211.3 380.2 215.8 378.8 218 381.5 213.5 382.8z" class="ix"/>
<path d="M371.9 395.0 376.4 394.5 378.6 400.6 374.1 401.0z" class="bt1"/>
<path d="M240.7 378.8 245.2 378.9 247.4 381.9 242.9 381.8z" class="ix"/>
<path d="M150.3 399.7 154.9 397.4 157.1 399.1 152.5 401.4z" class="dp"/>
<path d="M191 385.3 195.5 383.3 197.7 385.8 193.2 387.7z" class="ib"/>
<path d="M342.5 393.7 347 393.1 349.2 397.2 344.7 397.6z" class="em"/>
<path d="M313.1 392.4 317.6 392.2 319.8 395.7 315.3 395.8z" class="ev"/>
<path d="M170.7 392.1 175.2 389.7 177.4 391.9 172.9 394.2z" class="gu"/>
<path d="M279.2 386.7 283.7 387.6 285.9 390.5 281.4 389.7z" class="fj"/>
<path d="M130 405.5 134.5 403.9 136.7 405.2 132.2 406.8z" class="ex"/>
<path d="M89.3 419.2 93.9 417.0 96.1 417.3 91.5 419.4z" class="br1"/>
<path d="M109.7 411.7 114.2 409.8 116.4 410.5 111.9 412.3z" class="dm"/>
<path d="M215.8 378.8 220.4 377.7 222.6 380.4 218 381.5z" class="im"/>
<path d="M245.2 378.9 249.8 379.2 252 382.2 247.4 381.9z" class="jg"/>
<path d="M376.4 394.5 380.9 394.0 383.1 400.3 378.6 400.6z" class="cl1"/>
<path d="M283.7 387.6 288.2 388.2 290.4 391.1 285.9 390.5z" class="cm1"/>
<path d="M317.6 392.2 322.1 391.9 324.3 395.5 319.8 395.7z" class="ev"/>
<path d="M347 393.1 351.5 392.5 353.7 396.8 349.2 397.2z" class="ev"/>
<path d="M195.5 383.3 200 381.3 202.2 383.8 197.7 385.8z" class="hf"/>
<path d="M154.9 397.4 159.4 395.0 161.6 396.9 157.1 399.1z" class="cd1"/>
<path d="M134.5 403.9 139.1 402.1 141.3 403.5 136.7 405.2z" class="ep"/>
<path d="M175.2 389.7 179.7 387.4 181.9 389.7 177.4 391.9z" class="hn"/>
<path d="M249.8 379.2 254.3 379.7 256.5 382.7 252 382.2z" class="jg"/>
<path d="M288.2 388.2 292.7 388.8 294.9 391.6 290.4 391.1z" class="cm1"/>
<path d="M93.9 417.0 98.4 415.1 100.6 415.4 96.1 417.3z" class="cn1"/>
<path d="M114.2 409.8 118.7 408.0 120.9 408.8 116.4 410.5z" class="co1"/>
<path d="M380.9 394.0 385.4 393.4 387.6 399.8 383.1 400.3z" class="cl1"/>
<path d="M220.4 377.7 224.9 376.8 227.1 379.6 222.6 380.4z" class="ir"/>
<path d="M322.1 391.9 326.7 391.4 328.9 395.1 324.3 395.5z" class="ey"/>
<path d="M351.5 392.5 356.1 392.0 358.3 396.3 353.7 396.8z" class="ev"/>
<path d="M254.3 379.7 258.8 380.4 261 383.3 256.5 382.7z" class="jg"/>
<path d="M292.7 388.8 297.3 389.2 299.5 391.9 294.9 391.6z" class="cp1"/>
<path d="M200 381.3 204.6 379.2 206.8 381.8 202.2 383.8z" class="ix"/>
<path d="M139.1 402.1 143.6 400.3 145.8 401.7 141.3 403.5z" class="dl"/>
<path d="M159.4 395.0 163.9 392.6 166.1 394.5 161.6 396.9z" class="gk"/>
<path d="M385.4 393.4 390 392.9 392.2 399.4 387.6 399.8z" class="cl1"/>
<path d="M224.9 376.8 229.4 376.2 231.6 379.0 227.1 379.6z" class="kb"/>
<path d="M179.7 387.4 184.2 385.1 186.5 387.4 181.9 389.7z" class="gv"/>
<path d="M98.4 415.1 102.9 413.2 105.1 413.6 100.6 415.4z" class="cq1"/>
<path d="M326.7 391.4 331.2 390.9 333.4 394.7 328.9 395.1z" class="fc"/>
<path d="M118.7 408.0 123.3 406.2 125.5 407.1 120.9 408.8z" class="fb"/>
<path d="M356.1 392.0 360.6 391.4 362.8 395.9 358.3 396.3z" class="ev"/>
<path d="M258.8 380.4 263.4 381.2 265.6 384.0 261 383.3z" class="jg"/>
<path d="M297.3 389.2 301.8 389.4 304 392.2 299.5 391.9z" class="cp1"/>
<path d="M263.4 381.2 267.9 382.1 270.1 384.9 265.6 384.0z" class="cr1"/>
<path d="M390 392.9 394.5 392.4 396.7 399.0 392.2 399.4z" class="cs1"/>
<path d="M229.4 376.2 234 376.0 236.2 378.7 231.6 379.0z" class="kj"/>
<path d="M331.2 390.9 335.7 390.3 337.9 394.2 333.4 394.7z" class="fc"/>
<path d="M204.6 379.2 209.1 377.5 211.3 380.2 206.8 381.8z" class="im"/>
<path d="M143.6 400.3 148.1 398.1 150.3 399.7 145.8 401.7z" class="dp"/>
<path d="M360.6 391.4 365.1 390.8 367.3 395.4 362.8 395.9z" class="ey"/>
<path d="M301.8 389.4 306.3 389.6 308.5 392.3 304 392.2z" class="cp1"/>
<path d="M163.9 392.6 168.5 390.1 170.7 392.1 166.1 394.5z" class="gu"/>
<path d="M123.3 406.2 127.8 404.5 130 405.5 125.5 407.1z" class="ct1"/>
<path d="M102.9 413.2 107.5 411.2 109.7 411.7 105.1 413.6z" class="ej"/>
<path d="M184.2 385.1 188.8 382.9 191 385.3 186.5 387.4z" class="ib"/>
<path d="M267.9 382.1 272.4 383.1 274.6 385.8 270.1 384.9z" class="cr1"/>
<path d="M234 376.0 238.5 376.0 240.7 378.8 236.2 378.7z" class="kj"/>
<path d="M394.5 392.4 399 391.9 401.2 398.6 396.7 399.0z" class="cs1"/>
<path d="M306.3 389.6 310.9 389.6 313.1 392.4 308.5 392.3z" class="gk"/>
<path d="M335.7 390.3 340.3 389.6 342.5 393.7 337.9 394.2z" class="ff"/>
<path d="M365.1 390.8 369.7 390.2 371.9 395.0 367.3 395.4z" class="ey"/>
<path d="M272.4 383.1 276.9 384.1 279.2 386.7 274.6 385.8z" class="ha"/>
<path d="M209.1 377.5 213.6 376.1 215.8 378.8 211.3 380.2z" class="kj"/>
<path d="M148.1 398.1 152.7 395.7 154.9 397.4 150.3 399.7z" class="cd1"/>
<path d="M87.1 419.1 91.7 416.9 93.9 417.0 89.3 419.2z" class="br1"/>
<path d="M127.8 404.5 132.3 402.8 134.5 403.9 130 405.5z" class="fo"/>
<path d="M107.5 411.2 112 409.2 114.2 409.8 109.7 411.7z" class="fx"/>
<path d="M188.8 382.9 193.3 380.8 195.5 383.3 191 385.3z" class="ix"/>
<path d="M168.5 390.1 173 387.6 175.2 389.7 170.7 392.1z" class="hn"/>
<path d="M238.5 376.0 243 376.1 245.2 378.9 240.7 378.8z" class="kj"/>
<path d="M399 391.9 403.6 391.3 405.8 398.1 401.2 398.6z" class="cs1"/>
<path d="M276.9 384.1 281.5 385.0 283.7 387.6 279.2 386.7z" class="ha"/>
<path d="M310.9 389.6 315.4 389.3 317.6 392.2 313.1 392.4z" class="gk"/>
<path d="M340.3 389.6 344.8 388.9 347 393.1 342.5 393.7z" class="ff"/>
<path d="M369.7 390.2 374.2 389.7 376.4 394.5 371.9 395.0z" class="fc"/>
<path d="M213.6 376.1 218.2 375.0 220.4 377.7 215.8 378.8z" class="jc"/>
<path d="M243 376.1 247.6 376.5 249.8 379.2 245.2 378.9z" class="kj"/>
<path d="M281.5 385.0 286 385.8 288.2 388.2 283.7 387.6z" class="gw"/>
<path d="M132.3 402.8 136.9 401.0 139.1 402.1 134.5 403.9z" class="fs"/>
<path d="M91.7 416.9 96.2 414.9 98.4 415.1 93.9 417.0z" class="cn1"/>
<path d="M315.4 389.3 319.9 388.9 322.1 391.9 317.6 392.2z" class="gk"/>
<path d="M152.7 395.7 157.2 393.2 159.4 395.0 154.9 397.4z" class="cp1"/>
<path d="M112 409.2 116.5 407.3 118.7 408.0 114.2 409.8z" class="fl"/>
<path d="M193.3 380.8 197.8 378.7 200 381.3 195.5 383.3z" class="im"/>
<path d="M344.8 388.9 349.3 388.1 351.5 392.5 347 393.1z" class="fu"/>
<path d="M374.2 389.7 378.7 389.0 380.9 394.0 376.4 394.5z" class="ff"/>
<path d="M173 387.6 177.5 385.2 179.7 387.4 175.2 389.7z" class="ib"/>
<path d="M286 385.8 290.5 386.4 292.7 388.8 288.2 388.2z" class="cu1"/>
<path d="M247.6 376.5 252.1 377.0 254.3 379.7 249.8 379.2z" class="cv1"/>
<path d="M218.2 375.0 222.7 374.1 224.9 376.8 220.4 377.7z" class="jl"/>
<path d="M319.9 388.9 324.5 388.3 326.7 391.4 322.1 391.9z" class="fy"/>
<path d="M252.1 377.0 256.6 377.8 258.8 380.4 254.3 379.7z" class="cv1"/>
<path d="M290.5 386.4 295.1 386.8 297.3 389.2 292.7 388.8z" class="cu1"/>
<path d="M136.9 401.0 141.4 399.1 143.6 400.3 139.1 402.1z" class="gg"/>
<path d="M378.7 389.0 383.2 388.4 385.4 393.4 380.9 394.0z" class="ff"/>
<path d="M349.3 388.1 353.9 387.4 356.1 392.0 351.5 392.5z" class="fu"/>
<path d="M96.2 414.9 100.7 412.8 102.9 413.2 98.4 415.1z" class="cq1"/>
<path d="M116.5 407.3 121.1 405.5 123.3 406.2 118.7 408.0z" class="gs"/>
<path d="M157.2 393.2 161.7 390.7 163.9 392.6 159.4 395.0z" class="gu"/>
<path d="M197.8 378.7 202.4 376.7 204.6 379.2 200 381.3z" class="iv"/>
<path d="M177.5 385.2 182 382.8 184.2 385.1 179.7 387.4z" class="ix"/>
<path d="M222.7 374.1 227.2 373.5 229.4 376.2 224.9 376.8z" class="kz"/>
<path d="M256.6 377.8 261.2 378.7 263.4 381.2 258.8 380.4z" class="lq"/>
<path d="M324.5 388.3 329 387.7 331.2 390.9 326.7 391.4z" class="gu"/>
<path d="M295.1 386.8 299.6 387.1 301.8 389.4 297.3 389.2z" class="cu1"/>
<path d="M383.2 388.4 387.8 387.8 390 392.9 385.4 393.4z" class="fu"/>
<path d="M353.9 387.4 358.4 386.7 360.6 391.4 356.1 392.0z" class="ga"/>
<path d="M141.4 399.1 145.9 396.8 148.1 398.1 143.6 400.3z" class="eb"/>
<path d="M261.2 378.7 265.7 379.6 267.9 382.1 263.4 381.2z" class="cw1"/>
<path d="M100.7 412.8 105.3 410.8 107.5 411.2 102.9 413.2z" class="fg"/>
<path d="M121.1 405.5 125.6 403.8 127.8 404.5 123.3 406.2z" class="cx1"/>
<path d="M227.2 373.5 231.8 373.3 234 376.0 229.4 376.2z" class="me"/>
<path d="M202.4 376.7 206.9 374.9 209.1 377.5 204.6 379.2z" class="jl"/>
<path d="M161.7 390.7 166.2 388.1 168.5 390.1 163.9 392.6z" class="hn"/>
<path d="M299.6 387.1 304.1 387.2 306.3 389.6 301.8 389.4z" class="cu1"/>
<path d="M329 387.7 333.5 387.0 335.7 390.3 331.2 390.9z" class="gu"/>
<path d="M182 382.8 186.6 380.5 188.8 382.9 184.2 385.1z" class="ir"/>
<path d="M265.7 379.6 270.2 380.7 272.4 383.1 267.9 382.1z" class="cy1"/>
<path d="M387.8 387.8 392.3 387.2 394.5 392.4 390 392.9z" class="fu"/>
<path d="M358.4 386.7 362.9 386.0 365.1 390.8 360.6 391.4z" class="fy"/>
<path d="M231.8 373.3 236.3 373.3 238.5 376.0 234 376.0z" class="me"/>
<path d="M84.9 419.0 89.5 416.8 91.7 416.9 87.1 419.1z" class="br1"/>
<path d="M304.1 387.2 308.7 387.2 310.9 389.6 306.3 389.6z" class="cu1"/>
<path d="M125.6 403.8 130.1 402.0 132.3 402.8 127.8 404.5z" class="cz1"/>
<path d="M270.2 380.7 274.7 381.8 276.9 384.1 272.4 383.1z" class="jq"/>
<path d="M105.3 410.8 109.8 408.7 112 409.2 107.5 411.2z" class="fx"/>
<path d="M145.9 396.8 150.5 394.3 152.7 395.7 148.1 398.1z" class="cm1"/>
<path d="M206.9 374.9 211.4 373.5 213.6 376.1 209.1 377.5z" class="me"/>
<path d="M333.5 387.0 338.1 386.2 340.3 389.6 335.7 390.3z" class="gf"/>
<path d="M392.3 387.2 396.8 386.5 399 391.9 394.5 392.4z" class="fu"/>
<path d="M166.2 388.1 170.8 385.6 173 387.6 168.5 390.1z" class="ib"/>
<path d="M362.9 386.0 367.4 385.3 369.7 390.2 365.1 390.8z" class="gc"/>
<path d="M186.6 380.5 191.1 378.4 193.3 380.8 188.8 382.9z" class="kj"/>
<path d="M236.3 373.3 240.8 373.5 243 376.1 238.5 376.0z" class="me"/>
<path d="M274.7 381.8 279.3 382.9 281.5 385.0 276.9 384.1z" class="hk"/>
<path d="M308.7 387.2 313.2 386.9 315.4 389.3 310.9 389.6z" class="hj"/>
<path d="M89.5 416.8 94 414.7 96.2 414.9 91.7 416.9z" class="cn1"/>
<path d="M338.1 386.2 342.6 385.3 344.8 388.9 340.3 389.6z" class="gf"/>
<path d="M130.1 402.0 134.7 400.1 136.9 401.0 132.3 402.8z" class="gr"/>
<path d="M211.4 373.5 216 372.3 218.2 375.0 213.6 376.1z" class="ki"/>
<path d="M279.3 382.9 283.8 383.7 286 385.8 281.5 385.0z" class="hk"/>
<path d="M109.8 408.7 114.3 406.8 116.5 407.3 112 409.2z" class="fl"/>
<path d="M240.8 373.5 245.4 373.8 247.6 376.5 243 376.1z" class="da1"/>
<path d="M396.8 386.5 401.4 385.9 403.6 391.3 399 391.9z" class="fu"/>
<path d="M367.4 385.3 372 384.7 374.2 389.7 369.7 390.2z" class="gc"/>
<path d="M150.5 394.3 155 391.8 157.2 393.2 152.7 395.7z" class="hj"/>
<path d="M313.2 386.9 317.7 386.4 319.9 388.9 315.4 389.3z" class="hj"/>
<path d="M191.1 378.4 195.6 376.2 197.8 378.7 193.3 380.8z" class="jl"/>
<path d="M170.8 385.6 175.3 383.1 177.5 385.2 173 387.6z" class="ix"/>
<path d="M283.8 383.7 288.3 384.4 290.5 386.4 286 385.8z" class="hk"/>
<path d="M245.4 373.8 249.9 374.4 252.1 377.0 247.6 376.5z" class="da1"/>
<path d="M342.6 385.3 347.1 384.4 349.3 388.1 344.8 388.9z" class="gf"/>
<path d="M216 372.3 220.5 371.4 222.7 374.1 218.2 375.0z" class="lm"/>
<path d="M94 414.7 98.5 412.6 100.7 412.8 96.2 414.9z" class="jy"/>
<path d="M372 384.7 376.5 383.9 378.7 389.0 374.2 389.7z" class="gf"/>
<path d="M134.7 400.1 139.2 398.1 141.4 399.1 136.9 401.0z" class="gj"/>
<path d="M114.3 406.8 118.9 404.9 121.1 405.5 116.5 407.3z" class="db1"/>
<path d="M317.7 386.4 322.3 385.7 324.5 388.3 319.9 388.9z" class="hn"/>
<path d="M288.3 384.4 292.9 384.8 295.1 386.8 290.5 386.4z" class="hb"/>
<path d="M249.9 374.4 254.4 375.2 256.6 377.8 252.1 377.0z" class="da1"/>
<path d="M155 391.8 159.5 389.2 161.7 390.7 157.2 393.2z" class="ih"/>
<path d="M195.6 376.2 200.2 374.1 202.4 376.7 197.8 378.7z" class="dc1"/>
<path d="M175.3 383.1 179.8 380.6 182 382.8 177.5 385.2z" class="kb"/>
<path d="M347.1 384.4 351.7 383.5 353.9 387.4 349.3 388.1z" class="gv"/>
<path d="M220.5 371.4 225 370.8 227.2 373.5 222.7 374.1z" class="mn"/>
<path d="M376.5 383.9 381 383.1 383.2 388.4 378.7 389.0z" class="gq"/>
<path d="M254.4 375.2 259 376.2 261.2 378.7 256.6 377.8z" class="dd1"/>
<path d="M292.9 384.8 297.4 385.2 299.6 387.1 295.1 386.8z" class="hb"/>
<path d="M322.3 385.7 326.8 385.0 329 387.7 324.5 388.3z" class="ih"/>
<path d="M98.5 412.6 103.1 410.5 105.3 410.8 100.7 412.8z" class="fg"/>
<path d="M118.9 404.9 123.4 403.1 125.6 403.8 121.1 405.5z" class="hw"/>
<path d="M139.2 398.1 143.7 395.8 145.9 396.8 141.4 399.1z" class="fa"/>
<path d="M259 376.2 263.5 377.2 265.7 379.6 261.2 378.7z" class="dd1"/>
<path d="M351.7 383.5 356.2 382.7 358.4 386.7 353.9 387.4z" class="gv"/>
<path d="M159.5 389.2 164 386.5 166.2 388.1 161.7 390.7z" class="jg"/>
<path d="M225 370.8 229.6 370.6 231.8 373.3 227.2 373.5z" class="de1"/>
<path d="M297.4 385.2 301.9 385.3 304.1 387.2 299.6 387.1z" class="hb"/>
<path d="M200.2 374.1 204.7 372.4 206.9 374.9 202.4 376.7z" class="lm"/>
<path d="M381 383.1 385.6 382.4 387.8 387.8 383.2 388.4z" class="gq"/>
<path d="M179.8 380.6 184.4 378.2 186.6 380.5 182 382.8z" class="jc"/>
<path d="M326.8 385.0 331.3 384.2 333.5 387.0 329 387.7z" class="ib"/>
<path d="M82.7 419.1 87.3 416.8 89.5 416.8 84.9 419.0z" class="zd"/>
<path d="M263.5 377.2 268 378.4 270.2 380.7 265.7 379.6z" class="mi"/>
<path d="M103.1 410.5 107.6 408.4 109.8 408.7 105.3 410.8z" class="hi"/>
<path d="M123.4 403.1 127.9 401.2 130.1 402.0 125.6 403.8z" class="hh"/>
<path d="M229.6 370.6 234.1 370.6 236.3 373.3 231.8 373.3z" class="de1"/>
<path d="M301.9 385.3 306.5 385.2 308.7 387.2 304.1 387.2z" class="jd"/>
<path d="M143.7 395.8 148.3 393.2 150.5 394.3 145.9 396.8z" class="fn"/>
<path d="M356.2 382.7 360.7 381.9 362.9 386.0 358.4 386.7z" class="hc"/>
<path d="M268 378.4 272.5 379.6 274.7 381.8 270.2 380.7z" class="df1"/>
<path d="M385.6 382.4 390.1 381.7 392.3 387.2 387.8 387.8z" class="gq"/>
<path d="M204.7 372.4 209.2 370.9 211.4 373.5 206.9 374.9z" class="mn"/>
<path d="M164 386.5 168.6 383.9 170.8 385.6 166.2 388.1z" class="jv"/>
<path d="M331.3 384.2 335.9 383.2 338.1 386.2 333.5 387.0z" class="ib"/>
<path d="M184.4 378.2 188.9 376.1 191.1 378.4 186.6 380.5z" class="me"/>
<path d="M272.5 379.6 277.1 380.7 279.3 382.9 274.7 381.8z" class="dg1"/>
<path d="M87.3 416.8 91.8 414.7 94 414.7 89.5 416.8z" class="cn1"/>
<path d="M234.1 370.6 238.6 370.7 240.8 373.5 236.3 373.3z" class="de1"/>
<path d="M306.5 385.2 311 384.8 313.2 386.9 308.7 387.2z" class="cr1"/>
<path d="M360.7 381.9 365.2 381.1 367.4 385.3 362.9 386.0z" class="hf"/>
<path d="M107.6 408.4 112.1 406.4 114.3 406.8 109.8 408.7z" class="hm"/>
<path d="M127.9 401.2 132.5 399.3 134.7 400.1 130.1 402.0z" class="hp"/>
<path d="M390.1 381.7 394.6 381.0 396.8 386.5 392.3 387.2z" class="gv"/>
<path d="M148.3 393.2 152.8 390.5 155 391.8 150.5 394.3z" class="cu1"/>
<path d="M277.1 380.7 281.6 381.7 283.8 383.7 279.3 382.9z" class="dh1"/>
<path d="M209.2 370.9 213.8 369.7 216 372.3 211.4 373.5z" class="mt"/>
<path d="M335.9 383.2 340.4 382.2 342.6 385.3 338.1 386.2z" class="ib"/>
<path d="M238.6 370.7 243.2 371.1 245.4 373.8 240.8 373.5z" class="ne"/>
<path d="M311 384.8 315.5 384.2 317.7 386.4 313.2 386.9z" class="cr1"/>
<path d="M168.6 383.9 173.1 381.3 175.3 383.1 170.8 385.6z" class="kj"/>
<path d="M188.9 376.1 193.4 373.9 195.6 376.2 191.1 378.4z" class="lm"/>
<path d="M365.2 381.1 369.8 380.4 372 384.7 367.4 385.3z" class="hf"/>
<path d="M91.8 414.7 96.3 412.6 98.5 412.6 94 414.7z" class="jy"/>
<path d="M281.6 381.7 286.1 382.4 288.3 384.4 283.8 383.7z" class="cy1"/>
<path d="M394.6 381.0 399.2 380.2 401.4 385.9 396.8 386.5z" class="di1"/>
<path d="M112.1 406.4 116.7 404.5 118.9 404.9 114.3 406.8z" class="db1"/>
<path d="M243.2 371.1 247.7 371.7 249.9 374.4 245.4 373.8z" class="ne"/>
<path d="M132.5 399.3 137 397.3 139.2 398.1 134.7 400.1z" class="hv"/>
<path d="M213.8 369.7 218.3 368.8 220.5 371.4 216 372.3z" class="my"/>
<path d="M340.4 382.2 344.9 381.2 347.1 384.4 342.6 385.3z" class="ix"/>
<path d="M152.8 390.5 157.3 387.9 159.5 389.2 155 391.8z" class="jg"/>
<path d="M315.5 384.2 320.1 383.5 322.3 385.7 317.7 386.4z" class="jg"/>
<path d="M286.1 382.4 290.7 382.9 292.9 384.8 288.3 384.4z" class="cy1"/>
<path d="M247.7 371.7 252.2 372.6 254.4 375.2 249.9 374.4z" class="dj1"/>
<path d="M369.8 380.4 374.3 379.5 376.5 383.9 372 384.7z" class="hf"/>
<path d="M173.1 381.3 177.6 378.8 179.8 380.6 175.3 383.1z" class="jl"/>
<path d="M193.4 373.9 198 371.7 200.2 374.1 195.6 376.2z" class="de1"/>
<path d="M96.3 412.6 100.9 410.4 103.1 410.5 98.5 412.6z" class="dk1"/>
<path d="M116.7 404.5 121.2 402.6 123.4 403.1 118.9 404.9z" class="dl1"/>
<path d="M290.7 382.9 295.2 383.2 297.4 385.2 292.9 384.8z" class="cy1"/>
<path d="M218.3 368.8 222.8 368.1 225 370.8 220.5 371.4z" class="dm1"/>
<path d="M344.9 381.2 349.4 380.2 351.7 383.5 347.1 384.4z" class="ix"/>
<path d="M137 397.3 141.5 394.9 143.7 395.8 139.2 398.1z" class="fn"/>
<path d="M252.2 372.6 256.7 373.6 259 376.2 254.4 375.2z" class="nj"/>
<path d="M320.1 383.5 324.6 382.7 326.8 385.0 322.3 385.7z" class="jg"/>
<path d="M374.3 379.5 378.8 378.7 381 383.1 376.5 383.9z" class="hs"/>
<path d="M157.3 387.9 161.8 385.2 164 386.5 159.5 389.2z" class="jv"/>
<path d="M80.5 419.3 85.1 417.0 87.3 416.8 82.7 419.1z" class="zd"/>
<path d="M256.7 373.6 261.3 374.8 263.5 377.2 259 376.2z" class="nz"/>
<path d="M295.2 383.2 299.7 383.3 301.9 385.3 297.4 385.2z" class="dn1"/>
<path d="M222.8 368.1 227.4 367.9 229.6 370.6 225 370.8z" class="nk"/>
<path d="M198 371.7 202.5 369.9 204.7 372.4 200.2 374.1z" class="mt"/>
<path d="M177.6 378.8 182.2 376.3 184.4 378.2 179.8 380.6z" class="do1"/>
<path d="M349.4 380.2 354 379.2 356.2 382.7 351.7 383.5z" class="hs"/>
<path d="M100.9 410.4 105.4 408.2 107.6 408.4 103.1 410.5z" class="dp1"/>
<path d="M121.2 402.6 125.7 400.7 127.9 401.2 123.4 403.1z" class="dq1"/>
<path d="M324.6 382.7 329.1 381.7 331.3 384.2 326.8 385.0z" class="jv"/>
<path d="M261.3 374.8 265.8 376.0 268 378.4 263.5 377.2z" class="dr1"/>
<path d="M141.5 394.9 146 392.2 148.3 393.2 143.7 395.8z" class="gw"/>
<path d="M378.8 378.7 383.4 377.9 385.6 382.4 381 383.1z" class="hs"/>
<path d="M299.7 383.3 304.3 383.2 306.5 385.2 301.9 385.3z" class="ke"/>
<path d="M227.4 367.9 231.9 368.0 234.1 370.6 229.6 370.6z" class="nk"/>
<path d="M265.8 376.0 270.3 377.3 272.5 379.6 268 378.4z" class="ds1"/>
<path d="M85.1 417.0 89.6 414.9 91.8 414.7 87.3 416.8z" class="dt1"/>
<path d="M161.8 385.2 166.4 382.5 168.6 383.9 164 386.5z" class="kj"/>
<path d="M354 379.2 358.5 378.4 360.7 381.9 356.2 382.7z" class="ir"/>
<path d="M202.5 369.9 207 368.5 209.2 370.9 204.7 372.4z" class="nk"/>
<path d="M329.1 381.7 333.7 380.7 335.9 383.2 331.3 384.2z" class="jv"/>
<path d="M182.2 376.3 186.7 374.1 188.9 376.1 184.4 378.2z" class="mn"/>
<path d="M105.4 408.2 109.9 406.1 112.1 406.4 107.6 408.4z" class="du1"/>
<path d="M125.7 400.7 130.3 398.7 132.5 399.3 127.9 401.2z" class="dv1"/>
<path d="M270.3 377.3 274.9 378.5 277.1 380.7 272.5 379.6z" class="dw1"/>
<path d="M383.4 377.9 387.9 377.1 390.1 381.7 385.6 382.4z" class="hx"/>
<path d="M304.3 383.2 308.8 382.8 311 384.8 306.5 385.2z" class="ke"/>
<path d="M231.9 368.0 236.4 368.1 238.6 370.7 234.1 370.6z" class="nk"/>
<path d="M146 392.2 150.6 389.5 152.8 390.5 148.3 393.2z" class="cr1"/>
<path d="M274.9 378.5 279.4 379.5 281.6 381.7 277.1 380.7z" class="dw1"/>
<path d="M358.5 378.4 363 377.5 365.2 381.1 360.7 381.9z" class="im"/>
<path d="M207 368.5 211.6 367.2 213.8 369.7 209.2 370.9z" class="nq"/>
<path d="M89.6 414.9 94.1 412.7 96.3 412.6 91.8 414.7z" class="dx1"/>
<path d="M333.7 380.7 338.2 379.5 340.4 382.2 335.9 383.2z" class="ir"/>
<path d="M236.4 368.1 241 368.5 243.2 371.1 238.6 370.7z" class="nk"/>
<path d="M166.4 382.5 170.9 379.8 173.1 381.3 168.6 383.9z" class="ma"/>
<path d="M308.8 382.8 313.3 382.2 315.5 384.2 311 384.8z" class="dy1"/>
<path d="M387.9 377.1 392.4 376.2 394.6 381.0 390.1 381.7z" class="ie"/>
<path d="M109.9 406.1 114.5 404.2 116.7 404.5 112.1 406.4z" class="ko"/>
<path d="M186.7 374.1 191.2 371.9 193.4 373.9 188.9 376.1z" class="mt"/>
<path d="M130.3 398.7 134.8 396.6 137 397.3 132.5 399.3z" class="ia"/>
<path d="M279.4 379.5 283.9 380.3 286.1 382.4 281.6 381.7z" class="mi"/>
<path d="M363 377.5 367.6 376.7 369.8 380.4 365.2 381.1z" class="il"/>
<path d="M241 368.5 245.5 369.2 247.7 371.7 243.2 371.1z" class="ob"/>
<path d="M150.6 389.5 155.1 386.8 157.3 387.9 152.8 390.5z" class="dz1"/>
<path d="M211.6 367.2 216.1 366.3 218.3 368.8 213.8 369.7z" class="ea1"/>
<path d="M338.2 379.5 342.7 378.4 344.9 381.2 340.4 382.2z" class="kb"/>
<path d="M313.3 382.2 317.9 381.3 320.1 383.5 315.5 384.2z" class="dy1"/>
<path d="M283.9 380.3 288.5 380.9 290.7 382.9 286.1 382.4z" class="eb1"/>
<path d="M392.4 376.2 397 375.4 399.2 380.2 394.6 381.0z" class="ie"/>
<path d="M94.1 412.7 98.7 410.4 100.9 410.4 96.3 412.6z" class="dk1"/>
<path d="M245.5 369.2 250 370.1 252.2 372.6 247.7 371.7z" class="ob"/>
<path d="M170.9 379.8 175.4 377.2 177.6 378.8 173.1 381.3z" class="do1"/>
<path d="M114.5 404.2 119 402.2 121.2 402.6 116.7 404.5z" class="jb"/>
<path d="M191.2 371.9 195.8 369.7 198 371.7 193.4 373.9z" class="nk"/>
<path d="M134.8 396.6 139.3 394.2 141.5 394.9 137 397.3z" class="gh"/>
<path d="M367.6 376.7 372.1 375.7 374.3 379.5 369.8 380.4z" class="iv"/>
<path d="M288.5 380.9 293 381.2 295.2 383.2 290.7 382.9z" class="eb1"/>
<path d="M216.1 366.3 220.6 365.6 222.8 368.1 218.3 368.8z" class="nw"/>
<path d="M78.3 419.6 82.9 417.3 85.1 417.0 80.5 419.3z" class="zd"/>
<path d="M250 370.1 254.5 371.2 256.7 373.6 252.2 372.6z" class="ec1"/>
<path d="M317.9 381.3 322.4 380.4 324.6 382.7 320.1 383.5z" class="ed1"/>
<path d="M342.7 378.4 347.2 377.3 349.4 380.2 344.9 381.2z" class="kj"/>
<path d="M155.1 386.8 159.6 384.0 161.8 385.2 157.3 387.9z" class="cv1"/>
<path d="M98.7 410.4 103.2 408.2 105.4 408.2 100.9 410.4z" class="ee1"/>
<path d="M293 381.2 297.5 381.3 299.7 383.3 295.2 383.2z" class="ef1"/>
<path d="M254.5 371.2 259.1 372.4 261.3 374.8 256.7 373.6z" class="om"/>
<path d="M119 402.2 123.5 400.3 125.7 400.7 121.2 402.6z" class="eg1"/>
<path d="M372.1 375.7 376.6 374.8 378.8 378.7 374.3 379.5z" class="jc"/>
<path d="M175.4 377.2 180 374.7 182.2 376.3 177.6 378.8z" class="de1"/>
<path d="M195.8 369.7 200.3 367.9 202.5 369.9 198 371.7z" class="nq"/>
<path d="M220.6 365.6 225.2 365.4 227.4 367.9 222.8 368.1z" class="nw"/>
<path d="M139.3 394.2 143.8 391.5 146 392.2 141.5 394.9z" class="hb"/>
<path d="M322.4 380.4 326.9 379.3 329.1 381.7 324.6 382.7z" class="kj"/>
<path d="M347.2 377.3 351.8 376.2 354 379.2 349.4 380.2z" class="jc"/>
<path d="M259.1 372.4 263.6 373.7 265.8 376.0 261.3 374.8z" class="eh1"/>
<path d="M82.9 417.3 87.4 415.1 89.6 414.9 85.1 417.0z" class="dt1"/>
<path d="M297.5 381.3 302.1 381.2 304.3 383.2 299.7 383.3z" class="ef1"/>
<path d="M159.6 384.0 164.2 381.2 166.4 382.5 161.8 385.2z" class="ma"/>
<path d="M225.2 365.4 229.7 365.5 231.9 368.0 227.4 367.9z" class="nw"/>
<path d="M263.6 373.7 268.1 375.1 270.3 377.3 265.8 376.0z" class="ei1"/>
<path d="M103.2 408.2 107.7 406.1 109.9 406.1 105.4 408.2z" class="ej1"/>
<path d="M376.6 374.8 381.2 373.9 383.4 377.9 378.8 378.7z" class="jc"/>
<path d="M123.5 400.3 128.1 398.3 130.3 398.7 125.7 400.7z" class="ek1"/>
<path d="M200.3 367.9 204.8 366.4 207 368.5 202.5 369.9z" class="nw"/>
<path d="M180 374.7 184.5 372.5 186.7 374.1 182.2 376.3z" class="my"/>
<path d="M351.8 376.2 356.3 375.2 358.5 378.4 354 379.2z" class="jl"/>
<path d="M326.9 379.3 331.5 378.1 333.7 380.7 329.1 381.7z" class="lw"/>
<path d="M268.1 375.1 272.7 376.4 274.9 378.5 270.3 377.3z" class="el1"/>
<path d="M302.1 381.2 306.6 380.7 308.8 382.8 304.3 383.2z" class="ef1"/>
<path d="M143.8 391.5 148.4 388.6 150.6 389.5 146 392.2z" class="ke"/>
<path d="M229.7 365.5 234.2 365.6 236.4 368.1 231.9 368.0z" class="nw"/>
<path d="M87.4 415.1 91.9 412.9 94.1 412.7 89.6 414.9z" class="dx1"/>
<path d="M381.2 373.9 385.7 373.0 387.9 377.1 383.4 377.9z" class="jl"/>
<path d="M272.7 376.4 277.2 377.5 279.4 379.5 274.9 378.5z" class="em1"/>
<path d="M107.7 406.1 112.3 404.0 114.5 404.2 109.9 406.1z" class="lr"/>
<path d="M164.2 381.2 168.7 378.5 170.9 379.8 166.4 382.5z" class="en1"/>
<path d="M204.8 366.4 209.4 365.1 211.6 367.2 207 368.5z" class="ot"/>
<path d="M356.3 375.2 360.8 374.3 363 377.5 358.5 378.4z" class="kz"/>
<path d="M128.1 398.3 132.6 396.1 134.8 396.6 130.3 398.7z" class="ja"/>
<path d="M331.5 378.1 336 376.9 338.2 379.5 333.7 380.7z" class="jl"/>
<path d="M306.6 380.7 311.1 379.9 313.3 382.2 308.8 382.8z" class="lw"/>
<path d="M234.2 365.6 238.8 366.0 241 368.5 236.4 368.1z" class="pm"/>
<path d="M184.5 372.5 189 370.2 191.2 371.9 186.7 374.1z" class="nk"/>
<path d="M277.2 377.5 281.7 378.3 283.9 380.3 279.4 379.5z" class="dr1"/>
<path d="M385.7 373.0 390.2 372.1 392.4 376.2 387.9 377.1z" class="jt"/>
<path d="M148.4 388.6 152.9 385.8 155.1 386.8 150.6 389.5z" class="lq"/>
<path d="M91.9 412.9 96.5 410.6 98.7 410.4 94.1 412.7z" class="eo1"/>
<path d="M238.8 366.0 243.3 366.7 245.5 369.2 241 368.5z" class="pe"/>
<path d="M209.4 365.1 213.9 364.1 216.1 366.3 211.6 367.2z" class="ep1"/>
<path d="M360.8 374.3 365.4 373.4 367.6 376.7 363 377.5z" class="me"/>
<path d="M281.7 378.3 286.3 378.9 288.5 380.9 283.9 380.3z" class="ds1"/>
<path d="M112.3 404.0 116.8 402.1 119 402.2 114.5 404.2z" class="mo"/>
<path d="M311.1 379.9 315.7 379.0 317.9 381.3 313.3 382.2z" class="eq1"/>
<path d="M336 376.9 340.5 375.6 342.7 378.4 338.2 379.5z" class="kz"/>
<path d="M168.7 378.5 173.2 375.8 175.4 377.2 170.9 379.8z" class="ne"/>
<path d="M132.6 396.1 137.1 393.7 139.3 394.2 134.8 396.6z" class="ho"/>
<path d="M243.3 366.7 247.8 367.7 250 370.1 245.5 369.2z" class="pe"/>
<path d="M189 370.2 193.6 368.0 195.8 369.7 191.2 371.9z" class="ea1"/>
<path d="M76.1 420.0 80.7 417.7 82.9 417.3 78.3 419.6z" class="zd"/>
<path d="M390.2 372.1 394.8 371.2 397 375.4 392.4 376.2z" class="jm"/>
<path d="M286.3 378.9 290.8 379.3 293 381.2 288.5 380.9z" class="ds1"/>
<path d="M213.9 364.1 218.4 363.5 220.6 365.6 216.1 366.3z" class="pb"/>
<path d="M365.4 373.4 369.9 372.4 372.1 375.7 367.6 376.7z" class="jm"/>
<path d="M96.5 410.6 101 408.3 103.2 408.2 98.7 410.4z" class="er1"/>
<path d="M152.9 385.8 157.4 383.0 159.6 384.0 155.1 386.8z" class="dd1"/>
<path d="M247.8 367.7 252.3 368.8 254.5 371.2 250 370.1z" class="ro"/>
<path d="M315.7 379.0 320.2 378.0 322.4 380.4 317.9 381.3z" class="jl"/>
<path d="M340.5 375.6 345 374.4 347.2 377.3 342.7 378.4z" class="me"/>
<path d="M116.8 402.1 121.3 400.1 123.5 400.3 119 402.2z" class="kq"/>
<path d="M290.8 379.3 295.3 379.3 297.5 381.3 293 381.2z" class="es1"/>
<path d="M173.2 375.8 177.8 373.3 180 374.7 175.4 377.2z" class="my"/>
<path d="M252.3 368.8 256.9 370.1 259.1 372.4 254.5 371.2z" class="qn"/>
<path d="M137.1 393.7 141.6 390.9 143.8 391.5 139.3 394.2z" class="hk"/>
<path d="M193.6 368.0 198.1 366.1 200.3 367.9 195.8 369.7z" class="ot"/>
<path d="M80.7 417.7 85.2 415.4 87.4 415.1 82.9 417.3z" class="dt1"/>
<path d="M218.4 363.5 223 363.3 225.2 365.4 220.6 365.6z" class="et1"/>
<path d="M369.9 372.4 374.4 371.4 376.6 374.8 372.1 375.7z" class="ki"/>
<path d="M320.2 378.0 324.7 376.8 326.9 379.3 322.4 380.4z" class="kz"/>
<path d="M256.9 370.1 261.4 371.5 263.6 373.7 259.1 372.4z" class="uj"/>
<path d="M345 374.4 349.6 373.2 351.8 376.2 347.2 377.3z" class="ki"/>
<path d="M101 408.3 105.5 406.1 107.7 406.1 103.2 408.2z" class="eu1"/>
<path d="M295.3 379.3 299.9 379.2 302.1 381.2 297.5 381.3z" class="da1"/>
<path d="M157.4 383.0 162 380.2 164.2 381.2 159.6 384.0z" class="mu"/>
<path d="M121.3 400.1 125.8 398.0 128.1 398.3 123.5 400.3z" class="jo"/>
<path d="M223 363.3 227.5 363.3 229.7 365.5 225.2 365.4z" class="ri"/>
<path d="M261.4 371.5 265.9 373.0 268.1 375.1 263.6 373.7z" class="sx"/>
<path d="M198.1 366.1 202.6 364.6 204.8 366.4 200.3 367.9z" class="ev1"/>
<path d="M177.8 373.3 182.3 371.0 184.5 372.5 180 374.7z" class="nq"/>
<path d="M374.4 371.4 379 370.4 381.2 373.9 376.6 374.8z" class="lm"/>
<path d="M85.2 415.4 89.7 413.2 91.9 412.9 87.4 415.1z" class="gt"/>
<path d="M141.6 390.9 146.2 388.0 148.4 388.6 143.8 391.5z" class="cw1"/>
<path d="M324.7 376.8 329.2 375.5 331.5 378.1 326.9 379.3z" class="dc1"/>
<path d="M299.9 379.2 304.4 378.6 306.6 380.7 302.1 381.2z" class="da1"/>
<path d="M265.9 373.0 270.5 374.4 272.7 376.4 268.1 375.1z" class="ew1"/>
<path d="M349.6 373.2 354.1 372.2 356.3 375.2 351.8 376.2z" class="lm"/>
<path d="M227.5 363.3 232 363.5 234.2 365.6 229.7 365.5z" class="ri"/>
<path d="M105.5 406.1 110.1 404.1 112.3 404.0 107.7 406.1z" class="ex1"/>
<path d="M125.8 398.0 130.4 395.9 132.6 396.1 128.1 398.3z" class="ji"/>
<path d="M162 380.2 166.5 377.4 168.7 378.5 164.2 381.2z" class="ne"/>
<path d="M270.5 374.4 275 375.5 277.2 377.5 272.7 376.4z" class="eh1"/>
<path d="M202.6 364.6 207.2 363.3 209.4 365.1 204.8 366.4z" class="pz"/>
<path d="M379 370.4 383.5 369.5 385.7 373.0 381.2 373.9z" class="mn"/>
<path d="M182.3 371.0 186.8 368.7 189 370.2 184.5 372.5z" class="nw"/>
<path d="M304.4 378.6 308.9 377.8 311.1 379.9 306.6 380.7z" class="me"/>
<path d="M232 363.5 236.5 363.9 238.8 366.0 234.2 365.6z" class="qq"/>
<path d="M329.2 375.5 333.8 374.1 336 376.9 331.5 378.1z" class="ki"/>
<path d="M354.1 372.2 358.6 371.2 360.8 374.3 356.3 375.2z" class="mn"/>
<path d="M89.7 413.2 94.3 410.8 96.5 410.6 91.9 412.9z" class="id"/>
<path d="M275 375.5 279.5 376.4 281.7 378.3 277.2 377.5z" class="ei1"/>
<path d="M146.2 388.0 150.7 385.1 152.9 385.8 148.4 388.6z" class="ey1"/>
<path d="M110.1 404.1 114.6 402.0 116.8 402.1 112.3 404.0z" class="ez1"/>
<path d="M236.5 363.9 241.1 364.6 243.3 366.7 238.8 366.0z" class="fa1"/>
<path d="M207.2 363.3 211.7 362.3 213.9 364.1 209.4 365.1z" class="fb1"/>
<path d="M383.5 369.5 388 368.5 390.2 372.1 385.7 373.0z" class="fc1"/>
<path d="M130.4 395.9 134.9 393.3 137.1 393.7 132.6 396.1z" class="hu"/>
<path d="M73.9 420.5 78.5 418.1 80.7 417.7 76.1 420.0z" class="zd"/>
<path d="M279.5 376.4 284.1 377.1 286.3 378.9 281.7 378.3z" class="fd1"/>
<path d="M166.5 377.4 171 374.7 173.2 375.8 168.7 378.5z" class="nu"/>
<path d="M308.9 377.8 313.5 376.8 315.7 379.0 311.1 379.9z" class="do1"/>
<path d="M358.6 371.2 363.2 370.2 365.4 373.4 360.8 374.3z" class="de1"/>
<path d="M333.8 374.1 338.3 372.7 340.5 375.6 336 376.9z" class="mn"/>
<path d="M186.8 368.7 191.4 366.4 193.6 368.0 189 370.2z" class="fe1"/>
<path d="M241.1 364.6 245.6 365.6 247.8 367.7 243.3 366.7z" class="tb"/>
<path d="M94.3 410.8 98.8 408.5 101 408.3 96.5 410.6z" class="ff1"/>
<path d="M284.1 377.1 288.6 377.4 290.8 379.3 286.3 378.9z" class="el1"/>
<path d="M150.7 385.1 155.2 382.3 157.4 383.0 152.9 385.8z" class="ds1"/>
<path d="M114.6 402.0 119.1 400.0 121.3 400.1 116.8 402.1z" class="fg1"/>
<path d="M211.7 362.3 216.2 361.6 218.4 363.5 213.9 364.1z" class="fh1"/>
<path d="M388 368.5 392.6 367.5 394.8 371.2 390.2 372.1z" class="ku"/>
<path d="M245.6 365.6 250.1 366.8 252.3 368.8 247.8 367.7z" class="ur"/>
<path d="M313.5 376.8 318 375.7 320.2 378.0 315.7 379.0z" class="mj"/>
<path d="M363.2 370.2 367.7 369.1 369.9 372.4 365.4 373.4z" class="ku"/>
<path d="M78.5 418.1 83 415.8 85.2 415.4 80.7 417.7z" class="ow"/>
<path d="M134.9 393.3 139.4 390.5 141.6 390.9 137.1 393.7z" class="cy1"/>
<path d="M338.3 372.7 342.8 371.4 345 374.4 340.5 375.6z" class="de1"/>
<path d="M171 374.7 175.6 372.1 177.8 373.3 173.2 375.8z" class="pa"/>
<path d="M288.6 377.4 293.1 377.5 295.3 379.3 290.8 379.3z" class="nj"/>
<path d="M191.4 366.4 195.9 364.5 198.1 366.1 193.6 368.0z" class="et1"/>
<path d="M250.1 366.8 254.7 368.2 256.9 370.1 252.3 368.8z" class="vp"/>
<path d="M98.8 408.5 103.3 406.3 105.5 406.1 101 408.3z" class="fi1"/>
<path d="M216.2 361.6 220.8 361.4 223 363.3 218.4 363.5z" class="sl"/>
<path d="M119.1 400.0 123.6 397.9 125.8 398.0 121.3 400.1z" class="kl"/>
<path d="M155.2 382.3 159.8 379.4 162 380.2 157.4 383.0z" class="nj"/>
<path d="M318 375.7 322.5 374.4 324.7 376.8 320.2 378.0z" class="mn"/>
<path d="M254.7 368.2 259.2 369.7 261.4 371.5 256.9 370.1z" class="vy"/>
<path d="M367.7 369.1 372.2 368.0 374.4 371.4 369.9 372.4z" class="lo"/>
<path d="M293.1 377.5 297.7 377.3 299.9 379.2 295.3 379.3z" class="nj"/>
<path d="M342.8 371.4 347.4 370.1 349.6 373.2 345 374.4z" class="lo"/>
<path d="M83 415.8 87.5 413.5 89.7 413.2 85.2 415.4z" class="gt"/>
<path d="M220.8 361.4 225.3 361.5 227.5 363.3 223 363.3z" class="to"/>
<path d="M259.2 369.7 263.7 371.2 265.9 373.0 261.4 371.5z" class="fj1"/>
<path d="M139.4 390.5 144 387.5 146.2 388.0 141.6 390.9z" class="df1"/>
<path d="M175.6 372.1 180.1 369.8 182.3 371.0 177.8 373.3z" class="nw"/>
<path d="M195.9 364.5 200.4 363.0 202.6 364.6 198.1 366.1z" class="fk1"/>
<path d="M103.3 406.3 107.8 404.2 110.1 404.1 105.5 406.1z" class="fl1"/>
<path d="M297.7 377.3 302.2 376.7 304.4 378.6 299.9 379.2z" class="dj1"/>
<path d="M263.7 371.2 268.3 372.6 270.5 374.4 265.9 373.0z" class="fm1"/>
<path d="M322.5 374.4 327 373.0 329.2 375.5 324.7 376.8z" class="de1"/>
<path d="M372.2 368.0 376.8 367.0 379 370.4 374.4 371.4z" class="lu"/>
<path d="M123.6 397.9 128.2 395.7 130.4 395.9 125.8 398.0z" class="fn1"/>
<path d="M225.3 361.5 229.8 361.7 232 363.5 227.5 363.3z" class="to"/>
<path d="M347.4 370.1 351.9 369.0 354.1 372.2 349.6 373.2z" class="fo1"/>
<path d="M159.8 379.4 164.3 376.5 166.5 377.4 162 380.2z" class="nu"/>
<path d="M268.3 372.6 272.8 373.9 275 375.5 270.5 374.4z" class="fp1"/>
<path d="M87.5 413.5 92.1 411.1 94.3 410.8 89.7 413.2z" class="id"/>
<path d="M200.4 363.0 205 361.7 207.2 363.3 202.6 364.6z" class="rv"/>
<path d="M180.1 369.8 184.6 367.4 186.8 368.7 182.3 371.0z" class="ep1"/>
<path d="M144 387.5 148.5 384.6 150.7 385.1 146.2 388.0z" class="es1"/>
<path d="M302.2 376.7 306.7 375.8 308.9 377.8 304.4 378.6z" class="dj1"/>
<path d="M229.8 361.7 234.3 362.1 236.5 363.9 232 363.5z" class="to"/>
<path d="M376.8 367.0 381.3 366.0 383.5 369.5 379 370.4z" class="lz"/>
<path d="M107.8 404.2 112.4 402.1 114.6 402.0 110.1 404.1z" class="fq1"/>
<path d="M272.8 373.9 277.3 374.8 279.5 376.4 275 375.5z" class="fr1"/>
<path d="M327 373.0 331.6 371.4 333.8 374.1 329.2 375.5z" class="mt"/>
<path d="M351.9 369.0 356.4 367.9 358.6 371.2 354.1 372.2z" class="lu"/>
<path d="M71.7 420.9 76.3 418.5 78.5 418.1 73.9 420.5z" class="zd"/>
<path d="M128.2 395.7 132.7 393.1 134.9 393.3 130.4 395.9z" class="hy"/>
<path d="M234.3 362.1 238.9 362.8 241.1 364.6 236.5 363.9z" class="uq"/>
<path d="M164.3 376.5 168.8 373.8 171 374.7 166.5 377.4z" class="pa"/>
<path d="M205 361.7 209.5 360.7 211.7 362.3 207.2 363.3z" class="so"/>
<path d="M277.3 374.8 281.9 375.5 284.1 377.1 279.5 376.4z" class="fs1"/>
<path d="M92.1 411.1 96.6 408.7 98.8 408.5 94.3 410.8z" class="ff1"/>
<path d="M306.7 375.8 311.2 374.7 313.5 376.8 308.9 377.8z" class="de1"/>
<path d="M381.3 366.0 385.8 365.0 388 368.5 383.5 369.5z" class="lz"/>
<path d="M184.6 367.4 189.2 365.2 191.4 366.4 186.8 368.7z" class="pz"/>
<path d="M331.6 371.4 336.1 369.9 338.3 372.7 333.8 374.1z" class="my"/>
<path d="M356.4 367.9 361 366.8 363.2 370.2 358.6 371.2z" class="lz"/>
<path d="M112.4 402.1 116.9 400.0 119.1 400.0 114.6 402.0z" class="mx"/>
<path d="M148.5 384.6 153 381.7 155.2 382.3 150.7 385.1z" class="ft1"/>
<path d="M238.9 362.8 243.4 363.9 245.6 365.6 241.1 364.6z" class="fu1"/>
<path d="M281.9 375.5 286.4 375.9 288.6 377.4 284.1 377.1z" class="ew1"/>
<path d="M76.3 418.5 80.8 416.1 83 415.8 78.5 418.1z" class="dt1"/>
<path d="M209.5 360.7 214 360.0 216.2 361.6 211.7 362.3z" class="sd"/>
<path d="M132.7 393.1 137.2 390.2 139.4 390.5 134.9 393.3z" class="dh1"/>
<path d="M243.4 363.9 247.9 365.1 250.1 366.8 245.6 365.6z" class="wy"/>
<path d="M311.2 374.7 315.8 373.5 318 375.7 313.5 376.8z" class="mt"/>
<path d="M168.8 373.8 173.4 371.1 175.6 372.1 171 374.7z" class="pe"/>
<path d="M385.8 365.0 390.4 363.9 392.6 367.5 388 368.5z" class="mm"/>
<path d="M96.6 408.7 101.1 406.5 103.3 406.3 98.8 408.5z" class="fv1"/>
<path d="M286.4 375.9 290.9 375.9 293.1 377.5 288.6 377.4z" class="eh1"/>
<path d="M361 366.8 365.5 365.7 367.7 369.1 363.2 370.2z" class="mm"/>
<path d="M189.2 365.2 193.7 363.3 195.9 364.5 191.4 366.4z" class="fh1"/>
<path d="M336.1 369.9 340.6 368.5 342.8 371.4 338.3 372.7z" class="lz"/>
<path d="M247.9 365.1 252.5 366.6 254.7 368.2 250.1 366.8z" class="fw1"/>
<path d="M116.9 400.0 121.4 397.9 123.6 397.9 119.1 400.0z" class="kp"/>
<path d="M214 360.0 218.5 359.8 220.8 361.4 216.2 361.6z" class="fx1"/>
<path d="M153 381.7 157.6 378.8 159.8 379.4 155.2 382.3z" class="pd"/>
<path d="M80.8 416.1 85.3 413.8 87.5 413.5 83 415.8z" class="gt"/>
<path d="M252.5 366.6 257 368.1 259.2 369.7 254.7 368.2z" class="fy1"/>
<path d="M315.8 373.5 320.3 372.1 322.5 374.4 318 375.7z" class="my"/>
<path d="M290.9 375.9 295.5 375.7 297.7 377.3 293.1 377.5z" class="om"/>
<path d="M137.2 390.2 141.8 387.2 144 387.5 139.4 390.5z" class="mi"/>
<path d="M365.5 365.7 370 364.5 372.2 368.0 367.7 369.1z" class="mp"/>
<path d="M173.4 371.1 177.9 368.8 180.1 369.8 175.6 372.1z" class="rd"/>
<path d="M218.5 359.8 223.1 359.9 225.3 361.5 220.8 361.4z" class="uk"/>
<path d="M340.6 368.5 345.2 367.2 347.4 370.1 342.8 371.4z" class="mm"/>
<path d="M257 368.1 261.5 369.7 263.7 371.2 259.2 369.7z" class="fz1"/>
<path d="M101.1 406.5 105.6 404.3 107.8 404.2 103.3 406.3z" class="fl1"/>
<path d="M193.7 363.3 198.2 361.7 200.4 363.0 195.9 364.5z" class="sy"/>
<path d="M121.4 397.9 126 395.7 128.2 395.7 123.6 397.9z" class="jz"/>
<path d="M261.5 369.7 266.1 371.2 268.3 372.6 263.7 371.2z" class="ga1"/>
<path d="M295.5 375.7 300 375.0 302.2 376.7 297.7 377.3z" class="nu"/>
<path d="M157.6 378.8 162.1 375.9 164.3 376.5 159.8 379.4z" class="pk"/>
<path d="M320.3 372.1 324.8 370.5 327 373.0 322.5 374.4z" class="nk"/>
<path d="M85.3 413.8 89.9 411.4 92.1 411.1 87.5 413.5z" class="id"/>
<path d="M223.1 359.9 227.6 360.1 229.8 361.7 225.3 361.5z" class="uk"/>
<path d="M370 364.5 374.6 363.4 376.8 367.0 372.2 368.0z" class="na"/>
<path d="M266.1 371.2 270.6 372.5 272.8 373.9 268.3 372.6z" class="gb1"/>
<path d="M345.2 367.2 349.7 365.9 351.9 369.0 347.4 370.1z" class="mp"/>
<path d="M198.2 361.7 202.8 360.4 205 361.7 200.4 363.0z" class="rk"/>
<path d="M141.8 387.2 146.3 384.3 148.5 384.6 144 387.5z" class="gc1"/>
<path d="M177.9 368.8 182.4 366.4 184.6 367.4 180.1 369.8z" class="sf"/>
<path d="M105.6 404.3 110.2 402.2 112.4 402.1 107.8 404.2z" class="oe"/>
<path d="M69.5 421.2 74.1 418.8 76.3 418.5 71.7 420.9z" class="zd"/>
<path d="M300 375.0 304.5 374.1 306.7 375.8 302.2 376.7z" class="nu"/>
<path d="M227.6 360.1 232.1 360.5 234.3 362.1 229.8 361.7z" class="wv"/>
<path d="M270.6 372.5 275.1 373.5 277.3 374.8 272.8 373.9z" class="gd1"/>
<path d="M126 395.7 130.5 393.0 132.7 393.1 128.2 395.7z" class="it"/>
<path d="M324.8 370.5 329.4 368.9 331.6 371.4 327 373.0z" class="ge1"/>
<path d="M374.6 363.4 379.1 362.3 381.3 366.0 376.8 367.0z" class="mv"/>
<path d="M89.9 411.4 94.4 409.0 96.6 408.7 92.1 411.1z" class="ff1"/>
<path d="M162.1 375.9 166.6 373.1 168.8 373.8 164.3 376.5z" class="pw"/>
<path d="M349.7 365.9 354.2 364.8 356.4 367.9 351.9 369.0z" class="na"/>
<path d="M202.8 360.4 207.3 359.4 209.5 360.7 205 361.7z" class="ty"/>
<path d="M232.1 360.5 236.7 361.3 238.9 362.8 234.3 362.1z" class="gf1"/>
<path d="M275.1 373.5 279.7 374.2 281.9 375.5 277.3 374.8z" class="gg1"/>
<path d="M110.2 402.2 114.7 400.1 116.9 400.0 112.4 402.1z" class="gh1"/>
<path d="M182.4 366.4 187 364.1 189.2 365.2 184.6 367.4z" class="sl"/>
<path d="M304.5 374.1 309 372.9 311.2 374.7 306.7 375.8z" class="ob"/>
<path d="M146.3 384.3 150.8 381.3 153 381.7 148.5 384.6z" class="fd1"/>
<path d="M74.1 418.8 78.6 416.5 80.8 416.1 76.3 418.5z" class="dt1"/>
<path d="M236.7 361.3 241.2 362.3 243.4 363.9 238.9 362.8z" class="ye"/>
<path d="M279.7 374.2 284.2 374.6 286.4 375.9 281.9 375.5z" class="gi1"/>
<path d="M329.4 368.9 333.9 367.3 336.1 369.9 331.6 371.4z" class="mp"/>
<path d="M379.1 362.3 383.6 361.3 385.8 365.0 381.3 366.0z" class="nf"/>
<path d="M130.5 393.0 135 390.1 137.2 390.2 132.7 393.1z" class="lj"/>
<path d="M354.2 364.8 358.8 363.7 361 366.8 356.4 367.9z" class="mv"/>
<path d="M207.3 359.4 211.8 358.7 214 360.0 209.5 360.7z" class="uo"/>
<path d="M94.4 409.0 98.9 406.7 101.1 406.5 96.6 408.7z" class="fv1"/>
<path d="M241.2 362.3 245.7 363.7 247.9 365.1 243.4 363.9z" class="gj1"/>
<path d="M166.6 373.1 171.2 370.4 173.4 371.1 168.8 373.8z" class="rt"/>
<path d="M309 372.9 313.6 371.6 315.8 373.5 311.2 374.7z" class="nq"/>
<path d="M114.7 400.1 119.2 397.9 121.4 397.9 116.9 400.0z" class="ny"/>
<path d="M284.2 374.6 288.7 374.6 290.9 375.9 286.4 375.9z" class="gk1"/>
<path d="M187 364.1 191.5 362.2 193.7 363.3 189.2 365.2z" class="tt"/>
<path d="M245.7 363.7 250.3 365.1 252.5 366.6 247.9 365.1z" class="gl1"/>
<path d="M150.8 381.3 155.4 378.3 157.6 378.8 153 381.7z" class="sm"/>
<path d="M78.6 416.5 83.1 414.1 85.3 413.8 80.8 416.1z" class="la"/>
<path d="M383.6 361.3 388.2 360.2 390.4 363.9 385.8 365.0z" class="oi"/>
<path d="M211.8 358.7 216.3 358.5 218.5 359.8 214 360.0z" class="gm1"/>
<path d="M333.9 367.3 338.4 365.7 340.6 368.5 336.1 369.9z" class="na"/>
<path d="M358.8 363.7 363.3 362.4 365.5 365.7 361 366.8z" class="oi"/>
<path d="M250.3 365.1 254.8 366.8 257 368.1 252.5 366.6z" class="gn1"/>
<path d="M135 390.1 139.6 387.0 141.8 387.2 137.2 390.2z" class="go1"/>
<path d="M288.7 374.6 293.3 374.4 295.5 375.7 290.9 375.9z" class="uj"/>
<path d="M98.9 406.7 103.4 404.5 105.6 404.3 101.1 406.5z" class="gp1"/>
<path d="M313.6 371.6 318.1 370.1 320.3 372.1 315.8 373.5z" class="gq1"/>
<path d="M171.2 370.4 175.7 368.0 177.9 368.8 173.4 371.1z" class="qq"/>
<path d="M216.3 358.5 220.9 358.6 223.1 359.9 218.5 359.8z" class="xr"/>
<path d="M191.5 362.2 196 360.6 198.2 361.7 193.7 363.3z" class="td"/>
<path d="M254.8 366.8 259.3 368.4 261.5 369.7 257 368.1z" class="gr1"/>
<path d="M119.2 397.9 123.8 395.7 126 395.7 121.4 397.9z" class="kg"/>
<path d="M338.4 365.7 343 364.3 345.2 367.2 340.6 368.5z" class="nf"/>
<path d="M363.3 362.4 367.8 361.1 370 364.5 365.5 365.7z" class="gs1"/>
<path d="M83.1 414.1 87.6 411.6 89.9 411.4 85.3 413.8z" class="pf"/>
<path d="M155.4 378.3 159.9 375.4 162.1 375.9 157.6 378.8z" class="qn"/>
<path d="M259.3 368.4 263.9 370.0 266.1 371.2 261.5 369.7z" class="gt1"/>
<path d="M293.3 374.4 297.8 373.7 300 375.0 295.5 375.7z" class="qn"/>
<path d="M220.9 358.6 225.4 358.8 227.6 360.1 223.1 359.9z" class="xr"/>
<path d="M318.1 370.1 322.6 368.4 324.8 370.5 320.3 372.1z" class="nw"/>
<path d="M103.4 404.5 108 402.4 110.2 402.2 105.6 404.3z" class="oe"/>
<path d="M139.6 387.0 144.1 384.1 146.3 384.3 141.8 387.2z" class="em1"/>
<path d="M263.9 370.0 268.4 371.3 270.6 372.5 266.1 371.2z" class="gu1"/>
<path d="M67.3 421.6 71.9 419.2 74.1 418.8 69.5 421.2z" class="zd"/>
<path d="M175.7 368.0 180.2 365.7 182.4 366.4 177.9 368.8z" class="gv1"/>
<path d="M196 360.6 200.5 359.3 202.8 360.4 198.2 361.7z" class="gw1"/>
<path d="M123.8 395.7 128.3 393.0 130.5 393.0 126 395.7z" class="gx1"/>
<path d="M343 364.3 347.5 363.0 349.7 365.9 345.2 367.2z" class="nh"/>
<path d="M367.8 361.1 372.4 360.0 374.6 363.4 370 364.5z" class="gy1"/>
<path d="M225.4 358.8 229.9 359.2 232.1 360.5 227.6 360.1z" class="xz"/>
<path d="M297.8 373.7 302.3 372.7 304.5 374.1 300 375.0z" class="gz1"/>
<path d="M268.4 371.3 272.9 372.4 275.1 373.5 270.6 372.5z" class="ha1"/>
<path d="M87.6 411.6 92.2 409.2 94.4 409.0 89.9 411.4z" class="mw"/>
<path d="M159.9 375.4 164.4 372.6 166.6 373.1 162.1 375.9z" class="sj"/>
<path d="M322.6 368.4 327.2 366.7 329.4 368.9 324.8 370.5z" class="mv"/>
<path d="M200.5 359.3 205.1 358.3 207.3 359.4 202.8 360.4z" class="hb1"/>
<path d="M108 402.4 112.5 400.2 114.7 400.1 110.2 402.2z" class="hc1"/>
<path d="M229.9 359.2 234.5 360.0 236.7 361.3 232.1 360.5z" class="hd1"/>
<path d="M272.9 372.4 277.5 373.1 279.7 374.2 275.1 373.5z" class="gb1"/>
<path d="M144.1 384.1 148.6 381.0 150.8 381.3 146.3 384.3z" class="eh1"/>
<path d="M71.9 419.2 76.4 416.8 78.6 416.5 74.1 418.8z" class="dt1"/>
<path d="M180.2 365.7 184.8 363.3 187 364.1 182.4 366.4z" class="tt"/>
<path d="M372.4 360.0 376.9 358.9 379.1 362.3 374.6 363.4z" class="oa"/>
<path d="M347.5 363.0 352 361.8 354.2 364.8 349.7 365.9z" class="gy1"/>
<path d="M302.3 372.7 306.8 371.4 309 372.9 304.5 374.1z" class="gz1"/>
<path d="M128.3 393.0 132.8 390.0 135 390.1 130.5 393.0z" class="he1"/>
<path d="M234.5 360.0 239 361.1 241.2 362.3 236.7 361.3z" class="hf1"/>
<path d="M277.5 373.1 282 373.5 284.2 374.6 279.7 374.2z" class="hg1"/>
<path d="M92.2 409.2 96.7 406.8 98.9 406.7 94.4 409.0z" class="nr"/>
<path d="M205.1 358.3 209.6 357.6 211.8 358.7 207.3 359.4z" class="vq"/>
<path d="M327.2 366.7 331.7 365.0 333.9 367.3 329.4 368.9z" class="oi"/>
<path d="M164.4 372.6 169 369.9 171.2 370.4 166.6 373.1z" class="tb"/>
<path d="M239 361.1 243.5 362.5 245.7 363.7 241.2 362.3z" class="hh1"/>
<path d="M112.5 400.2 117 398.0 119.2 397.9 114.7 400.1z" class="hi1"/>
<path d="M376.9 358.9 381.4 357.7 383.6 361.3 379.1 362.3z" class="oh"/>
<path d="M352 361.8 356.6 360.6 358.8 363.7 354.2 364.8z" class="oa"/>
<path d="M306.8 371.4 311.4 370.0 313.6 371.6 309 372.9z" class="nw"/>
<path d="M184.8 363.3 189.3 361.4 191.5 362.2 187 364.1z" class="hj1"/>
<path d="M76.4 416.8 80.9 414.4 83.1 414.1 78.6 416.5z" class="px"/>
<path d="M282 373.5 286.5 373.6 288.7 374.6 284.2 374.6z" class="vy"/>
<path d="M148.6 381.0 153.2 378.0 155.4 378.3 150.8 381.3z" class="qg"/>
<path d="M243.5 362.5 248.1 364.0 250.3 365.1 245.7 363.7z" class="hk1"/>
<path d="M209.6 357.6 214.1 357.4 216.3 358.5 211.8 358.7z" class="yn"/>
<path d="M132.8 390.0 137.4 386.9 139.6 387.0 135 390.1z" class="hl1"/>
<path d="M96.7 406.8 101.2 404.6 103.4 404.5 98.9 406.7z" class="hm1"/>
<path d="M331.7 365.0 336.2 363.3 338.4 365.7 333.9 367.3z" class="nv"/>
<path d="M248.1 364.0 252.6 365.7 254.8 366.8 250.3 365.1z" class="fr"/>
<path d="M381.4 357.7 386 356.6 388.2 360.2 383.6 361.3z" class="hn1"/>
<path d="M286.5 373.6 291 373.3 293.3 374.4 288.7 374.6z" class="ho1"/>
<path d="M356.6 360.6 361.1 359.3 363.3 362.4 358.8 363.7z" class="oh"/>
<path d="M169 369.9 173.5 367.5 175.7 368.0 171.2 370.4z" class="tz"/>
<path d="M117 398.0 121.6 395.7 123.8 395.7 119.2 397.9z" class="hp1"/>
<path d="M311.4 370.0 315.9 368.4 318.1 370.1 313.6 371.6z" class="ot"/>
<path d="M189.3 361.4 193.8 359.8 196 360.6 191.5 362.2z" class="gw1"/>
<path d="M214.1 357.4 218.7 357.5 220.9 358.6 216.3 358.5z" class="hq1"/>
<path d="M252.6 365.7 257.1 367.4 259.3 368.4 254.8 366.8z" class="fr"/>
<path d="M80.9 414.4 85.4 411.9 87.6 411.6 83.1 414.1z" class="pf"/>
<path d="M153.2 378.0 157.7 375.1 159.9 375.4 155.4 378.3z" class="ro"/>
<path d="M257.1 367.4 261.7 369.1 263.9 370.0 259.3 368.4z" class="fr"/>
<path d="M291 373.3 295.6 372.5 297.8 373.7 293.3 374.4z" class="tl"/>
<path d="M336.2 363.3 340.8 361.8 343 364.3 338.4 365.7z" class="fb1"/>
<path d="M101.2 404.6 105.8 402.5 108 402.4 103.4 404.5z" class="oe"/>
<path d="M137.4 386.9 141.9 383.9 144.1 384.1 139.6 387.0z" class="hr1"/>
<path d="M361.1 359.3 365.6 357.9 367.8 361.1 363.3 362.4z" class="hs1"/>
<path d="M65.1 422.0 69.6 419.6 71.9 419.2 67.3 421.6z" class="ht1"/>
<path d="M218.7 357.5 223.2 357.7 225.4 358.8 220.9 358.6z" class="hu1"/>
<path d="M261.7 369.1 266.2 370.4 268.4 371.3 263.9 370.0z" class="fr"/>
<path d="M173.5 367.5 178 365.1 180.2 365.7 175.7 368.0z" class="ue"/>
<path d="M315.9 368.4 320.4 366.7 322.6 368.4 318.1 370.1z" class="ep1"/>
<path d="M193.8 359.8 198.3 358.5 200.5 359.3 196 360.6z" class="vq"/>
<path d="M121.6 395.7 126.1 393.1 128.3 393.0 123.8 395.7z" class="hv1"/>
<path d="M85.4 411.9 90 409.4 92.2 409.2 87.6 411.6z" class="hw1"/>
<path d="M223.2 357.7 227.7 358.2 229.9 359.2 225.4 358.8z" class="hx1"/>
<path d="M266.2 370.4 270.7 371.5 272.9 372.4 268.4 371.3z" class="fr"/>
<path d="M295.6 372.5 300.1 371.5 302.3 372.7 297.8 373.7z" class="sj"/>
<path d="M340.8 361.8 345.3 360.4 347.5 363.0 343 364.3z" class="hy1"/>
<path d="M157.7 375.1 162.2 372.2 164.4 372.6 159.9 375.4z" class="sv"/>
<path d="M365.6 357.9 370.2 356.7 372.4 360.0 367.8 361.1z" class="hz1"/>
<path d="M105.8 402.5 110.3 400.3 112.5 400.2 108 402.4z" class="hc1"/>
<path d="M69.6 419.6 74.2 417.1 76.4 416.8 71.9 419.2z" class="dt1"/>
<path d="M198.3 358.5 202.9 357.4 205.1 358.3 200.5 359.3z" class="ia1"/>
<path d="M141.9 383.9 146.4 380.9 148.6 381.0 144.1 384.1z" class="ib1"/>
<path d="M270.7 371.5 275.3 372.3 277.5 373.1 272.9 372.4z" class="ic1"/>
<path d="M320.4 366.7 325 364.8 327.2 366.7 322.6 368.4z" class="id1"/>
<path d="M227.7 358.2 232.3 359.0 234.5 360.0 229.9 359.2z" class="ie1"/>
<path d="M178 365.1 182.6 362.7 184.8 363.3 180.2 365.7z" class="td"/>
<path d="M126.1 393.1 130.6 390.0 132.8 390.0 128.3 393.0z" class="if1"/>
<path d="M300.1 371.5 304.6 370.2 306.8 371.4 302.3 372.7z" class="rt"/>
<path d="M90 409.4 94.5 407.1 96.7 406.8 92.2 409.2z" class="fv1"/>
<path d="M345.3 360.4 349.8 359.1 352 361.8 347.5 363.0z" class="pc"/>
<path d="M232.3 359.0 236.8 360.1 239 361.1 234.5 360.0z" class="ig1"/>
<path d="M370.2 356.7 374.7 355.5 376.9 358.9 372.4 360.0z" class="ih1"/>
<path d="M275.3 372.3 279.8 372.7 282 373.5 277.5 373.1z" class="ii1"/>
<path d="M202.9 357.4 207.4 356.7 209.6 357.6 205.1 358.3z" class="yg"/>
<path d="M162.2 372.2 166.8 369.4 169 369.9 164.4 372.6z" class="ij1"/>
<path d="M110.3 400.3 114.8 398.1 117 398.0 112.5 400.2z" class="ik1"/>
<path d="M74.2 417.1 78.7 414.7 80.9 414.4 76.4 416.8z" class="gt"/>
<path d="M325 364.8 329.5 363.0 331.7 365.0 327.2 366.7z" class="fb1"/>
<path d="M236.8 360.1 241.3 361.5 243.5 362.5 239 361.1z" class="fr"/>
<path d="M182.6 362.7 187.1 360.8 189.3 361.4 184.8 363.3z" class="uo"/>
<path d="M146.4 380.9 151 377.8 153.2 378.0 148.6 381.0z" class="uj"/>
<path d="M279.8 372.7 284.3 372.8 286.5 373.6 282 373.5z" class="il1"/>
<path d="M304.6 370.2 309.2 368.7 311.4 370.0 306.8 371.4z" class="qj"/>
<path d="M349.8 359.1 354.4 357.9 356.6 360.6 352 361.8z" class="pg"/>
<path d="M241.3 361.5 245.9 363.1 248.1 364.0 243.5 362.5z" class="fr"/>
<path d="M374.7 355.5 379.2 354.4 381.4 357.7 376.9 358.9z" class="im1"/>
<path d="M130.6 390.0 135.2 386.9 137.4 386.9 132.8 390.0z" class="ns"/>
<path d="M94.5 407.1 99 404.9 101.2 404.6 96.7 406.8z" class="gp1"/>
<path d="M207.4 356.7 211.9 356.6 214.1 357.4 209.6 357.6z" class="in1"/>
<path d="M245.9 363.1 250.4 364.9 252.6 365.7 248.1 364.0z" class="fr"/>
<path d="M114.8 398.1 119.4 395.8 121.6 395.7 117 398.0z" class="hp1"/>
<path d="M166.8 369.4 171.3 367.0 173.5 367.5 169 369.9z" class="uq"/>
<path d="M284.3 372.8 288.8 372.5 291 373.3 286.5 373.6z" class="io1"/>
<path d="M329.5 363.0 334 361.3 336.2 363.3 331.7 365.0z" class="ip1"/>
<path d="M78.7 414.7 83.2 412.2 85.4 411.9 80.9 414.4z" class="mr"/>
<path d="M187.1 360.8 191.6 359.2 193.8 359.8 189.3 361.4z" class="vq"/>
<path d="M211.9 356.6 216.5 356.7 218.7 357.5 214.1 357.4z" class="iq1"/>
<path d="M309.2 368.7 313.7 367.0 315.9 368.4 311.4 370.0z" class="ri"/>
<path d="M250.4 364.9 254.9 366.7 257.1 367.4 252.6 365.7z" class="fr"/>
<path d="M354.4 357.9 358.9 356.5 361.1 359.3 356.6 360.6z" class="im1"/>
<path d="M379.2 354.4 383.8 353.2 386 356.6 381.4 357.7z" class="ir1"/>
<path d="M151 377.8 155.5 374.8 157.7 375.1 153.2 378.0z" class="tl"/>
<path d="M99 404.9 103.6 402.7 105.8 402.5 101.2 404.6z" class="ok"/>
<path d="M254.9 366.7 259.5 368.3 261.7 369.1 257.1 367.4z" class="fr"/>
<path d="M62.9 422.4 67.4 419.9 69.6 419.6 65.1 422.0z" class="iw"/>
<path d="M135.2 386.9 139.7 383.8 141.9 383.9 137.4 386.9z" class="is1"/>
<path d="M288.8 372.5 293.4 371.7 295.6 372.5 291 373.3z" class="vp"/>
<path d="M216.5 356.7 221 356.9 223.2 357.7 218.7 357.5z" class="it1"/>
<path d="M334 361.3 338.6 359.7 340.8 361.8 336.2 363.3z" class="iu1"/>
<path d="M119.4 395.8 123.9 393.1 126.1 393.1 121.6 395.7z" class="hv1"/>
<path d="M171.3 367.0 175.8 364.6 178 365.1 173.5 367.5z" class="vi"/>
<path d="M259.5 368.3 264 369.7 266.2 370.4 261.7 369.1z" class="fr"/>
<path d="M191.6 359.2 196.1 357.8 198.3 358.5 193.8 359.8z" class="wu"/>
<path d="M313.7 367.0 318.2 365.2 320.4 366.7 315.9 368.4z" class="ph"/>
<path d="M83.2 412.2 87.8 409.7 90 409.4 85.4 411.9z" class="nm"/>
<path d="M358.9 356.5 363.4 355.1 365.6 357.9 361.1 359.3z" class="ir1"/>
<path d="M264 369.7 268.5 370.9 270.7 371.5 266.2 370.4z" class="fr"/>
<path d="M221 356.9 225.5 357.4 227.7 358.2 223.2 357.7z" class="iv1"/>
<path d="M293.4 371.7 297.9 370.6 300.1 371.5 295.6 372.5z" class="iw1"/>
<path d="M155.5 374.8 160 371.9 162.2 372.2 157.7 375.1z" class="ix1"/>
<path d="M103.6 402.7 108.1 400.5 110.3 400.3 105.8 402.5z" class="oy"/>
<path d="M67.4 419.9 72 417.5 74.2 417.1 69.6 419.6z" class="ow"/>
<path d="M338.6 359.7 343.1 358.2 345.3 360.4 340.8 361.8z" class="qa"/>
<path d="M139.7 383.8 144.2 380.7 146.4 380.9 141.9 383.9z" class="ib1"/>
<path d="M196.1 357.8 200.7 356.8 202.9 357.4 198.3 358.5z" class="iy1"/>
<path d="M268.5 370.9 273.1 371.7 275.3 372.3 270.7 371.5z" class="fr"/>
<path d="M225.5 357.4 230.1 358.2 232.3 359.0 227.7 358.2z" class="iz1"/>
<path d="M175.8 364.6 180.3 362.2 182.6 362.7 178 365.1z" class="vn"/>
<path d="M363.4 355.1 368 353.8 370.2 356.7 365.6 357.9z" class="ja1"/>
<path d="M123.9 393.1 128.4 390.0 130.6 390.0 126.1 393.1z" class="jb1"/>
<path d="M318.2 365.2 322.8 363.2 325 364.8 320.4 366.7z" class="hy1"/>
<path d="M87.8 409.7 92.3 407.4 94.5 407.1 90 409.4z" class="jc1"/>
<path d="M297.9 370.6 302.4 369.2 304.6 370.2 300.1 371.5z" class="tw"/>
<path d="M230.1 358.2 234.6 359.3 236.8 360.1 232.3 359.0z" class="fr"/>
<path d="M273.1 371.7 277.6 372.1 279.8 372.7 275.3 372.3z" class="jd1"/>
<path d="M108.1 400.5 112.6 398.3 114.8 398.1 110.3 400.3z" class="lc"/>
<path d="M160 371.9 164.6 369.1 166.8 369.4 162.2 372.2z" class="je1"/>
<path d="M343.1 358.2 347.6 356.9 349.8 359.1 345.3 360.4z" class="pn"/>
<path d="M200.7 356.8 205.2 356.1 207.4 356.7 202.9 357.4z" class="jf1"/>
<path d="M72 417.5 76.5 415.1 78.7 414.7 74.2 417.1z" class="jg1"/>
<path d="M368 353.8 372.5 352.6 374.7 355.5 370.2 356.7z" class="jh1"/>
<path d="M234.6 359.3 239.1 360.8 241.3 361.5 236.8 360.1z" class="fr"/>
<path d="M144.2 380.7 148.8 377.7 151 377.8 146.4 380.9z" class="tx"/>
<path d="M180.3 362.2 184.9 360.3 187.1 360.8 182.6 362.7z" class="ji1"/>
<path d="M322.8 363.2 327.3 361.3 329.5 363.0 325 364.8z" class="jj1"/>
<path d="M277.6 372.1 282.1 372.1 284.3 372.8 279.8 372.7z" class="jk1"/>
<path d="M302.4 369.2 307 367.7 309.2 368.7 304.6 370.2z" class="ij1"/>
<path d="M92.3 407.4 96.8 405.1 99 404.9 94.5 407.1z" class="jl1"/>
<path d="M128.4 390.0 133 386.9 135.2 386.9 130.6 390.0z" class="em1"/>
<path d="M239.1 360.8 243.7 362.4 245.9 363.1 241.3 361.5z" class="fr"/>
<path d="M205.2 356.1 209.7 355.9 211.9 356.6 207.4 356.7z" class="jm1"/>
<path d="M347.6 356.9 352.2 355.6 354.4 357.9 349.8 359.1z" class="qm"/>
<path d="M112.6 398.3 117.2 395.9 119.4 395.8 114.8 398.1z" class="jk"/>
<path d="M243.7 362.4 248.2 364.2 250.4 364.9 245.9 363.1z" class="fr"/>
<path d="M164.6 369.1 169.1 366.7 171.3 367.0 166.8 369.4z" class="jn1"/>
<path d="M372.5 352.6 377 351.4 379.2 354.4 374.7 355.5z" class="jo1"/>
<path d="M76.5 415.1 81 412.6 83.2 412.2 78.7 414.7z" class="jp1"/>
<path d="M282.1 372.1 286.6 371.8 288.8 372.5 284.3 372.8z" class="jq1"/>
<path d="M184.9 360.3 189.4 358.6 191.6 359.2 187.1 360.8z" class="xv"/>
<path d="M327.3 361.3 331.8 359.5 334 361.3 329.5 363.0z" class="qr"/>
<path d="M209.7 355.9 214.3 356.0 216.5 356.7 211.9 356.6z" class="jr1"/>
<path d="M248.2 364.2 252.7 366.0 254.9 366.7 250.4 364.9z" class="fr"/>
<path d="M148.8 377.7 153.3 374.6 155.5 374.8 151 377.8z" class="ub"/>
<path d="M307 367.7 311.5 366.0 313.7 367.0 309.2 368.7z" class="qx"/>
<path d="M96.8 405.1 101.4 402.9 103.6 402.7 99 404.9z" class="js1"/>
<path d="M60.7 422.8 65.2 420.3 67.4 419.9 62.9 422.4z" class="hr"/>
<path d="M133 386.9 137.5 383.8 139.7 383.8 135.2 386.9z" class="jt1"/>
<path d="M352.2 355.6 356.7 354.1 358.9 356.5 354.4 357.9z" class="ju1"/>
<path d="M252.7 366.0 257.3 367.7 259.5 368.3 254.9 366.7z" class="fr"/>
<path d="M286.6 371.8 291.2 371.0 293.4 371.7 288.8 372.5z" class="jv1"/>
<path d="M377 351.4 381.5 350.1 383.8 353.2 379.2 354.4z" class="jw1"/>
<path d="M117.2 395.9 121.7 393.2 123.9 393.1 119.4 395.8z" class="kt"/>
<path d="M214.3 356.0 218.8 356.2 221 356.9 216.5 356.7z" class="jx1"/>
<path d="M169.1 366.7 173.6 364.2 175.8 364.6 171.3 367.0z" class="jy1"/>
<path d="M257.3 367.7 261.8 369.1 264 369.7 259.5 368.3z" class="fr"/>
<path d="M81 412.6 85.6 410.1 87.8 409.7 83.2 412.2z" class="oj"/>
<path d="M189.4 358.6 193.9 357.2 196.1 357.8 191.6 359.2z" class="iy1"/>
<path d="M331.8 359.5 336.4 357.9 338.6 359.7 334 361.3z" class="qf"/>
<path d="M311.5 366.0 316 364.1 318.2 365.2 313.7 367.0z" class="rv"/>
<path d="M101.4 402.9 105.9 400.7 108.1 400.5 103.6 402.7z" class="jz1"/>
<path d="M261.8 369.1 266.3 370.3 268.5 370.9 264 369.7z" class="fr"/>
<path d="M153.3 374.6 157.8 371.7 160 371.9 155.5 374.8z" class="uv"/>
<path d="M218.8 356.2 223.3 356.7 225.5 357.4 221 356.9z" class="ka1"/>
<path d="M356.7 354.1 361.2 352.7 363.4 355.1 358.9 356.5z" class="kb1"/>
<path d="M65.2 420.3 69.8 417.9 72 417.5 67.4 419.9z" class="ht1"/>
<path d="M291.2 371.0 295.7 369.9 297.9 370.6 293.4 371.7z" class="vj"/>
<path d="M137.5 383.8 142 380.7 144.2 380.7 139.7 383.8z" class="sx"/>
<path d="M193.9 357.2 198.5 356.2 200.7 356.8 196.1 357.8z" class="kc1"/>
<path d="M266.3 370.3 270.8 371.1 273.1 371.7 268.5 370.9z" class="fr"/>
<path d="M121.7 393.2 126.2 390.1 128.4 390.0 123.9 393.1z" class="kd1"/>
<path d="M173.6 364.2 178.1 361.9 180.3 362.2 175.8 364.6z" class="wa"/>
<path d="M223.3 356.7 227.9 357.5 230.1 358.2 225.5 357.4z" class="fr"/>
<path d="M336.4 357.9 340.9 356.4 343.1 358.2 338.6 359.7z" class="qm"/>
<path d="M85.6 410.1 90.1 407.7 92.3 407.4 87.8 409.7z" class="pl"/>
<path d="M316 364.1 320.6 362.0 322.8 363.2 318.2 365.2z" class="sd"/>
<path d="M361.2 352.7 365.8 351.3 368 353.8 363.4 355.1z" class="ke1"/>
<path d="M295.7 369.9 300.2 368.5 302.4 369.2 297.9 370.6z" class="je1"/>
<path d="M105.9 400.7 110.4 398.5 112.6 398.3 108.1 400.5z" class="ol"/>
<path d="M270.8 371.1 275.4 371.6 277.6 372.1 273.1 371.7z" class="fr"/>
<path d="M227.9 357.5 232.4 358.7 234.6 359.3 230.1 358.2z" class="fr"/>
<path d="M69.8 417.9 74.3 415.4 76.5 415.1 72 417.5z" class="gl"/>
<path d="M157.8 371.7 162.3 368.9 164.6 369.1 160 371.9z" class="kf1"/>
<path d="M198.5 356.2 203 355.5 205.2 356.1 200.7 356.8z" class="kg1"/>
<path d="M142 380.7 146.6 377.6 148.8 377.7 144.2 380.7z" class="tx"/>
<path d="M340.9 356.4 345.4 355.0 347.6 356.9 343.1 358.2z" class="jo1"/>
<path d="M232.4 358.7 236.9 360.1 239.1 360.8 234.6 359.3z" class="fr"/>
<path d="M178.1 361.9 182.7 359.9 184.9 360.3 180.3 362.2z" class="xg"/>
<path d="M90.1 407.7 94.6 405.4 96.8 405.1 92.3 407.4z" class="kh1"/>
<path d="M275.4 371.6 279.9 371.6 282.1 372.1 277.6 372.1z" class="ki1"/>
<path d="M126.2 390.1 130.8 386.9 133 386.9 128.4 390.0z" class="pq"/>
<path d="M320.6 362.0 325.1 360.1 327.3 361.3 322.8 363.2z" class="sg"/>
<path d="M365.8 351.3 370.3 350.1 372.5 352.6 368 353.8z" class="kj1"/>
<path d="M300.2 368.5 304.8 366.9 307 367.7 302.4 369.2z" class="uq"/>
<path d="M236.9 360.1 241.5 361.8 243.7 362.4 239.1 360.8z" class="fr"/>
<path d="M203 355.5 207.5 355.4 209.7 355.9 205.2 356.1z" class="kk1"/>
<path d="M110.4 398.5 115 396.1 117.2 395.9 112.6 398.3z" class="js"/>
<path d="M74.3 415.4 78.8 412.9 81 412.6 76.5 415.1z" class="px"/>
<path d="M162.3 368.9 166.9 366.4 169.1 366.7 164.6 369.1z" class="vr"/>
<path d="M241.5 361.8 246 363.6 248.2 364.2 243.7 362.4z" class="fr"/>
<path d="M279.9 371.6 284.4 371.3 286.6 371.8 282.1 372.1z" class="kl1"/>
<path d="M345.4 355.0 350 353.6 352.2 355.6 347.6 356.9z" class="tg"/>
<path d="M182.7 359.9 187.2 358.2 189.4 358.6 184.9 360.3z" class="yg"/>
<path d="M146.6 377.6 151.1 374.5 153.3 374.6 148.8 377.7z" class="ur"/>
<path d="M207.5 355.4 212.1 355.5 214.3 356.0 209.7 355.9z" class="km1"/>
<path d="M246 363.6 250.5 365.4 252.7 366.0 248.2 364.2z" class="fr"/>
<path d="M370.3 350.1 374.8 348.8 377 351.4 372.5 352.6z" class="kn1"/>
<path d="M94.6 405.4 99.2 403.2 101.4 402.9 96.8 405.1z" class="py"/>
<path d="M58.5 423.2 63 420.8 65.2 420.3 60.7 422.8z" class="ge"/>
<path d="M325.1 360.1 329.6 358.2 331.8 359.5 327.3 361.3z" class="uc"/>
<path d="M304.8 366.9 309.3 365.1 311.5 366.0 307 367.7z" class="ue"/>
<path d="M130.8 386.9 135.3 383.8 137.5 383.8 133 386.9z" class="ew1"/>
<path d="M250.5 365.4 255.1 367.1 257.3 367.7 252.7 366.0z" class="fr"/>
<path d="M284.4 371.3 289 370.4 291.2 371.0 286.6 371.8z" class="ko1"/>
<path d="M115 396.1 119.5 393.4 121.7 393.2 117.2 395.9z" class="kp1"/>
<path d="M350 353.6 354.5 352.1 356.7 354.1 352.2 355.6z" class="kq1"/>
<path d="M78.8 412.9 83.4 410.4 85.6 410.1 81 412.6z" class="kr1"/>
<path d="M212.1 355.5 216.6 355.6 218.8 356.2 214.3 356.0z" class="ks1"/>
<path d="M166.9 366.4 171.4 364.0 173.6 364.2 169.1 366.7z" class="wk"/>
<path d="M255.1 367.1 259.6 368.6 261.8 369.1 257.3 367.7z" class="fr"/>
<path d="M187.2 358.2 191.7 356.8 193.9 357.2 189.4 358.6z" class="yq"/>
<path d="M374.8 348.8 379.3 347.5 381.5 350.1 377 351.4z" class="kn1"/>
<path d="M329.6 358.2 334.2 356.5 336.4 357.9 331.8 359.5z" class="ta"/>
<path d="M99.2 403.2 103.7 401.0 105.9 400.7 101.4 402.9z" class="kt1"/>
<path d="M309.3 365.1 313.8 363.2 316 364.1 311.5 366.0z" class="fx1"/>
<path d="M63 420.8 67.6 418.3 69.8 417.9 65.2 420.3z" class="hr"/>
<path d="M151.1 374.5 155.6 371.6 157.8 371.7 153.3 374.6z" class="ku1"/>
<path d="M259.6 368.6 264.1 369.8 266.3 370.3 261.8 369.1z" class="fr"/>
<path d="M216.6 355.6 221.1 356.1 223.3 356.7 218.8 356.2z" class="fr"/>
<path d="M289 370.4 293.5 369.3 295.7 369.9 291.2 371.0z" class="wm"/>
<path d="M135.3 383.8 139.8 380.7 142 380.7 137.5 383.8z" class="gk1"/>
<path d="M354.5 352.1 359 350.6 361.2 352.7 356.7 354.1z" class="kj1"/>
<path d="M119.5 393.4 124 390.3 126.2 390.1 121.7 393.2z" class="kv1"/>
<path d="M191.7 356.8 196.3 355.8 198.5 356.2 193.9 357.2z" class="kw1"/>
<path d="M83.4 410.4 87.9 408.0 90.1 407.7 85.6 410.1z" class="qh"/>
<path d="M264.1 369.8 268.6 370.6 270.8 371.1 266.3 370.3z" class="fr"/>
<path d="M171.4 364.0 175.9 361.6 178.1 361.9 173.6 364.2z" class="wa"/>
<path d="M221.1 356.1 225.7 357.0 227.9 357.5 223.3 356.7z" class="fr"/>
<path d="M334.2 356.5 338.7 354.9 340.9 356.4 336.4 357.9z" class="tv"/>
<path d="M313.8 363.2 318.4 361.1 320.6 362.0 316 364.1z" class="kx1"/>
<path d="M103.7 401.0 108.2 398.8 110.4 398.5 105.9 400.7z" class="ky1"/>
<path d="M293.5 369.3 298 367.8 300.2 368.5 295.7 369.9z" class="wb"/>
<path d="M67.6 418.3 72.1 415.8 74.3 415.4 69.8 417.9z" class="pt"/>
<path d="M268.6 370.6 273.2 371.0 275.4 371.6 270.8 371.1z" class="fr"/>
<path d="M225.7 357.0 230.2 358.1 232.4 358.7 227.9 357.5z" class="fr"/>
<path d="M155.6 371.6 160.1 368.7 162.3 368.9 157.8 371.7z" class="uq"/>
<path d="M359 350.6 363.5 349.2 365.8 351.3 361.2 352.7z" class="kn1"/>
<path d="M196.3 355.8 200.8 355.1 203 355.5 198.5 356.2z" class="kz1"/>
<path d="M139.8 380.7 144.4 377.6 146.6 377.6 142 380.7z" class="un"/>
<path d="M230.2 358.1 234.7 359.6 236.9 360.1 232.4 358.7z" class="fr"/>
<path d="M87.9 408.0 92.4 405.8 94.6 405.4 90.1 407.7z" class="la1"/>
<path d="M175.9 361.6 180.5 359.6 182.7 359.9 178.1 361.9z" class="lb1"/>
<path d="M124 390.3 128.6 387.1 130.8 386.9 126.2 390.1z" class="lc1"/>
<path d="M273.2 371.0 277.7 371.0 279.9 371.6 275.4 371.6z" class="ld1"/>
<path d="M338.7 354.9 343.2 353.5 345.4 355.0 340.9 356.4z" class="um"/>
<path d="M298 367.8 302.6 366.2 304.8 366.9 300.2 368.5z" class="jn1"/>
<path d="M318.4 361.1 322.9 359.0 325.1 360.1 320.6 362.0z" class="uc"/>
<path d="M234.7 359.6 239.3 361.3 241.5 361.8 236.9 360.1z" class="fr"/>
<path d="M108.2 398.8 112.8 396.4 115 396.1 110.4 398.5z" class="of"/>
<path d="M200.8 355.1 205.3 354.9 207.5 355.4 203 355.5z" class="km1"/>
<path d="M72.1 415.8 76.6 413.3 78.8 412.9 74.3 415.4z" class="qs"/>
<path d="M363.5 349.2 368.1 347.9 370.3 350.1 365.8 351.3z" class="le1"/>
<path d="M160.1 368.7 164.7 366.2 166.9 366.4 162.3 368.9z" class="wf"/>
<path d="M239.3 361.3 243.8 363.1 246 363.6 241.5 361.8z" class="fr"/>
<path d="M277.7 371.0 282.2 370.7 284.4 371.3 279.9 371.6z" class="lf1"/>
<path d="M180.5 359.6 185 357.9 187.2 358.2 182.7 359.9z" class="lg1"/>
<path d="M92.4 405.8 97 403.5 99.2 403.2 94.6 405.4z" class="lh1"/>
<path d="M144.4 377.6 148.9 374.5 151.1 374.5 146.6 377.6z" class="ur"/>
<path d="M343.2 353.5 347.8 352.1 350 353.6 345.4 355.0z" class="li1"/>
<path d="M205.3 354.9 209.9 355.0 212.1 355.5 207.5 355.4z" class="hk1"/>
<path d="M243.8 363.1 248.3 364.9 250.5 365.4 246 363.6z" class="fr"/>
<path d="M128.6 387.1 133.1 383.9 135.3 383.8 130.8 386.9z" class="lj1"/>
<path d="M302.6 366.2 307.1 364.4 309.3 365.1 304.8 366.9z" class="vi"/>
<path d="M322.9 359.0 327.4 357.1 329.6 358.2 325.1 360.1z" class="uh"/>
<path d="M368.1 347.9 372.6 346.6 374.8 348.8 370.3 350.1z" class="le1"/>
<path d="M112.8 396.4 117.3 393.6 119.5 393.4 115 396.1z" class="lk1"/>
<path d="M248.3 364.9 252.8 366.6 255.1 367.1 250.5 365.4z" class="fr"/>
<path d="M282.2 370.7 286.8 369.9 289 370.4 284.4 371.3z" class="ll1"/>
<path d="M76.6 413.3 81.2 410.8 83.4 410.4 78.8 412.9z" class="ra"/>
<path d="M164.7 366.2 169.2 363.8 171.4 364.0 166.9 366.4z" class="lm1"/>
<path d="M209.9 355.0 214.4 355.2 216.6 355.6 212.1 355.5z" class="fr"/>
<path d="M185 357.9 189.5 356.5 191.7 356.8 187.2 358.2z" class="kc1"/>
<path d="M252.8 366.6 257.4 368.1 259.6 368.6 255.1 367.1z" class="fr"/>
<path d="M347.8 352.1 352.3 350.5 354.5 352.1 350 353.6z" class="ln1"/>
<path d="M97 403.5 101.5 401.3 103.7 401.0 99.2 403.2z" class="rp"/>
<path d="M148.9 374.5 153.4 371.5 155.6 371.6 151.1 374.5z" class="ul"/>
<path d="M307.1 364.4 311.6 362.4 313.8 363.2 309.3 365.1z" class="vn"/>
<path d="M327.4 357.1 332 355.3 334.2 356.5 329.6 358.2z" class="lo1"/>
<path d="M372.6 346.6 377.1 345.2 379.3 347.5 374.8 348.8z" class="lp1"/>
<path d="M257.4 368.1 261.9 369.2 264.1 369.8 259.6 368.6z" class="fr"/>
<path d="M214.4 355.2 218.9 355.7 221.1 356.1 216.6 355.6z" class="fr"/>
<path d="M286.8 369.9 291.3 368.7 293.5 369.3 289 370.4z" class="lq1"/>
<path d="M133.1 383.9 137.6 380.8 139.8 380.7 135.3 383.8z" class="lr1"/>
<path d="M117.3 393.6 121.8 390.5 124 390.3 119.5 393.4z" class="ls1"/>
<path d="M81.2 410.8 85.7 408.4 87.9 408.0 83.4 410.4z" class="qc"/>
<path d="M189.5 356.5 194.1 355.5 196.3 355.8 191.7 356.8z" class="lt1"/>
<path d="M169.2 363.8 173.7 361.4 175.9 361.6 171.4 364.0z" class="wq"/>
<path d="M261.9 369.2 266.4 370.1 268.6 370.6 264.1 369.8z" class="fr"/>
<path d="M352.3 350.5 356.8 349.0 359 350.6 354.5 352.1z" class="lu1"/>
<path d="M218.9 355.7 223.5 356.5 225.7 357.0 221.1 356.1z" class="fr"/>
<path d="M101.5 401.3 106 399.1 108.2 398.8 103.7 401.0z" class="lv1"/>
<path d="M332 355.3 336.5 353.7 338.7 354.9 334.2 356.5z" class="sw"/>
<path d="M311.6 362.4 316.2 360.3 318.4 361.1 313.8 363.2z" class="lw1"/>
<path d="M291.3 368.7 295.8 367.2 298 367.8 293.5 369.3z" class="vr"/>
<path d="M153.4 371.5 157.9 368.6 160.1 368.7 155.6 371.6z" class="wb"/>
<path d="M266.4 370.1 271 370.5 273.2 371.0 268.6 370.6z" class="fr"/>
<path d="M223.5 356.5 228 357.7 230.2 358.1 225.7 357.0z" class="fr"/>
<path d="M194.1 355.5 198.6 354.7 200.8 355.1 196.3 355.8z" class="lx1"/>
<path d="M137.6 380.8 142.1 377.7 144.4 377.6 139.8 380.7z" class="vy"/>
<path d="M85.7 408.4 90.2 406.1 92.4 405.8 87.9 408.0z" class="rg"/>
<path d="M356.8 349.0 361.3 347.5 363.5 349.2 359 350.6z" class="ly1"/>
<path d="M173.7 361.4 178.3 359.4 180.5 359.6 175.9 361.6z" class="lb1"/>
<path d="M121.8 390.5 126.4 387.3 128.6 387.1 124 390.3z" class="lz1"/>
<path d="M228 357.7 232.5 359.1 234.7 359.6 230.2 358.1z" class="fr"/>
<path d="M271 370.5 275.5 370.5 277.7 371.0 273.2 371.0z" class="ma1"/>
<path d="M106 399.1 110.6 396.7 112.8 396.4 108.2 398.8z" class="ks"/>
<path d="M336.5 353.7 341 352.3 343.2 353.5 338.7 354.9z" class="ts"/>
<path d="M295.8 367.2 300.4 365.6 302.6 366.2 298 367.8z" class="mb1"/>
<path d="M232.5 359.1 237.1 360.8 239.3 361.3 234.7 359.6z" class="fr"/>
<path d="M316.2 360.3 320.7 358.2 322.9 359.0 318.4 361.1z" class="uh"/>
<path d="M198.6 354.7 203.1 354.6 205.3 354.9 200.8 355.1z" class="mc1"/>
<path d="M157.9 368.6 162.5 366.1 164.7 366.2 160.1 368.7z" class="gf1"/>
<path d="M237.1 360.8 241.6 362.6 243.8 363.1 239.3 361.3z" class="md1"/>
<path d="M361.3 347.5 365.9 346.2 368.1 347.9 363.5 349.2z" class="me1"/>
<path d="M275.5 370.5 280 370.2 282.2 370.7 277.7 371.0z" class="mf1"/>
<path d="M90.2 406.1 94.8 403.9 97 403.5 92.4 405.8z" class="mg1"/>
<path d="M178.3 359.4 182.8 357.7 185 357.9 180.5 359.6z" class="mh1"/>
<path d="M142.1 377.7 146.7 374.6 148.9 374.5 144.4 377.6z" class="wd"/>
<path d="M203.1 354.6 207.7 354.7 209.9 355.0 205.3 354.9z" class="fr"/>
<path d="M241.6 362.6 246.1 364.4 248.3 364.9 243.8 363.1z" class="mi1"/>
<path d="M126.4 387.3 130.9 384.1 133.1 383.9 128.6 387.1z" class="mj1"/>
<path d="M341 352.3 345.6 350.8 347.8 352.1 343.2 353.5z" class="ts"/>
<path d="M300.4 365.6 304.9 363.8 307.1 364.4 302.6 366.2z" class="uz"/>
<path d="M110.6 396.7 115.1 393.9 117.3 393.6 112.8 396.4z" class="md"/>
<path d="M320.7 358.2 325.2 356.2 327.4 357.1 322.9 359.0z" class="lo1"/>
<path d="M246.1 364.4 250.6 366.1 252.8 366.6 248.3 364.9z" class="fr"/>
<path d="M280 370.2 284.6 369.4 286.8 369.9 282.2 370.7z" class="mk1"/>
<path d="M162.5 366.1 167 363.7 169.2 363.8 164.7 366.2z" class="ml1"/>
<path d="M365.9 346.2 370.4 344.8 372.6 346.6 368.1 347.9z" class="mm1"/>
<path d="M207.7 354.7 212.2 354.8 214.4 355.2 209.9 355.0z" class="fr"/>
<path d="M182.8 357.7 187.3 356.3 189.5 356.5 185 357.9z" class="mn1"/>
<path d="M250.6 366.1 255.2 367.6 257.4 368.1 252.8 366.6z" class="fr"/>
<path d="M94.8 403.9 99.3 401.6 101.5 401.3 97 403.5z" class="mo1"/>
<path d="M345.6 350.8 350.1 349.2 352.3 350.5 347.8 352.1z" class="ly1"/>
<path d="M146.7 374.6 151.2 371.6 153.4 371.5 148.9 374.5z" class="mp1"/>
<path d="M304.9 363.8 309.4 361.7 311.6 362.4 307.1 364.4z" class="vd"/>
<path d="M255.2 367.6 259.7 368.7 261.9 369.2 257.4 368.1z" class="fr"/>
<path d="M130.9 384.1 135.4 381.0 137.6 380.8 133.1 383.9z" class="mq1"/>
<path d="M212.2 354.8 216.7 355.3 218.9 355.7 214.4 355.2z" class="fr"/>
<path d="M325.2 356.2 329.8 354.4 332 355.3 327.4 357.1z" class="up"/>
<path d="M284.6 369.4 289.1 368.2 291.3 368.7 286.8 369.9z" class="ws"/>
<path d="M115.1 393.9 119.6 390.8 121.8 390.5 117.3 393.6z" class="mr1"/>
<path d="M370.4 344.8 374.9 343.4 377.1 345.2 372.6 346.6z" class="mm1"/>
<path d="M187.3 356.3 191.9 355.2 194.1 355.5 189.5 356.5z" class="ms1"/>
<path d="M167 363.7 171.5 361.2 173.7 361.4 169.2 363.8z" class="wq"/>
<path d="M259.7 368.7 264.2 369.5 266.4 370.1 261.9 369.2z" class="fr"/>
<path d="M216.7 355.3 221.3 356.1 223.5 356.5 218.9 355.7z" class="fr"/>
<path d="M99.3 401.6 103.8 399.4 106 399.1 101.5 401.3z" class="mt1"/>
<path d="M350.1 349.2 354.6 347.6 356.8 349.0 352.3 350.5z" class="me1"/>
<path d="M151.2 371.6 155.7 368.7 157.9 368.6 153.4 371.5z" class="lq1"/>
<path d="M309.4 361.7 314 359.5 316.2 360.3 311.6 362.4z" class="vg"/>
<path d="M289.1 368.2 293.6 366.7 295.8 367.2 291.3 368.7z" class="mu1"/>
<path d="M329.8 354.4 334.3 352.7 336.5 353.7 332 355.3z" class="up"/>
<path d="M264.2 369.5 268.8 370.0 271 370.5 266.4 370.1z" class="fr"/>
<path d="M221.3 356.1 225.8 357.3 228 357.7 223.5 356.5z" class="fr"/>
<path d="M191.9 355.2 196.4 354.5 198.6 354.7 194.1 355.5z" class="mv1"/>
<path d="M135.4 381.0 139.9 377.8 142.1 377.7 137.6 380.8z" class="mw1"/>
<path d="M119.6 390.8 124.2 387.6 126.4 387.3 121.8 390.5z" class="mx1"/>
<path d="M171.5 361.2 176.1 359.2 178.3 359.4 173.7 361.4z" class="my1"/>
<path d="M225.8 357.3 230.3 358.7 232.5 359.1 228 357.7z" class="fr"/>
<path d="M354.6 347.6 359.1 346.2 361.3 347.5 356.8 349.0z" class="mz1"/>
<path d="M103.8 399.4 108.4 397.0 110.6 396.7 106 399.1z" class="le"/>
<path d="M268.8 370.0 273.3 370.0 275.5 370.5 271 370.5z" class="na1"/>
<path d="M293.6 366.7 298.2 365.1 300.4 365.6 295.8 367.2z" class="wk"/>
<path d="M230.3 358.7 234.8 360.4 237.1 360.8 232.5 359.1z" class="fr"/>
<path d="M334.3 352.7 338.8 351.2 341 352.3 336.5 353.7z" class="vs"/>
<path d="M196.4 354.5 200.9 354.3 203.1 354.6 198.6 354.7z" class="fr"/>
<path d="M314 359.5 318.5 357.4 320.7 358.2 316.2 360.3z" class="nb1"/>
<path d="M155.7 368.7 160.3 366.2 162.5 366.1 157.9 368.6z" class="yo"/>
<path d="M234.8 360.4 239.4 362.1 241.6 362.6 237.1 360.8z" class="mi1"/>
<path d="M273.3 370.0 277.8 369.7 280 370.2 275.5 370.5z" class="nc1"/>
<path d="M139.9 377.8 144.5 374.7 146.7 374.6 142.1 377.7z" class="io1"/>
<path d="M176.1 359.2 180.6 357.6 182.8 357.7 178.3 359.4z" class="mn1"/>
<path d="M359.1 346.2 363.7 344.8 365.9 346.2 361.3 347.5z" class="nd1"/>
<path d="M124.2 387.6 128.7 384.4 130.9 384.1 126.4 387.3z" class="ne1"/>
<path d="M200.9 354.3 205.5 354.4 207.7 354.7 203.1 354.6z" class="fr"/>
<path d="M239.4 362.1 243.9 363.9 246.1 364.4 241.6 362.6z" class="nf1"/>
<path d="M108.4 397.0 112.9 394.2 115.1 393.9 110.6 396.7z" class="ng1"/>
<path d="M338.8 351.2 343.3 349.8 345.6 350.8 341 352.3z" class="uy"/>
<path d="M298.2 365.1 302.7 363.2 304.9 363.8 300.4 365.6z" class="gm1"/>
<path d="M318.5 357.4 323 355.4 325.2 356.2 320.7 358.2z" class="vb"/>
<path d="M243.9 363.9 248.4 365.6 250.6 366.1 246.1 364.4z" class="fr"/>
<path d="M160.3 366.2 164.8 363.7 167 363.7 162.5 366.1z" class="nh1"/>
<path d="M277.8 369.7 282.4 368.8 284.6 369.4 280 370.2z" class="ni1"/>
<path d="M205.5 354.4 210 354.6 212.2 354.8 207.7 354.7z" class="fr"/>
<path d="M180.6 357.6 185.1 356.1 187.3 356.3 182.8 357.7z" class="nj1"/>
<path d="M363.7 344.8 368.2 343.4 370.4 344.8 365.9 346.2z" class="nd1"/>
<path d="M248.4 365.6 253 367.0 255.2 367.6 250.6 366.1z" class="fr"/>
<path d="M144.5 374.7 149 371.7 151.2 371.6 146.7 374.6z" class="nk1"/>
<path d="M343.3 349.8 347.9 348.1 350.1 349.2 345.6 350.8z" class="nl1"/>
<path d="M128.7 384.4 133.2 381.2 135.4 381.0 130.9 384.1z" class="nm1"/>
<path d="M302.7 363.2 307.2 361.2 309.4 361.7 304.9 363.8z" class="we"/>
<path d="M210 354.6 214.5 355.0 216.7 355.3 212.2 354.8z" class="fr"/>
<path d="M253 367.0 257.5 368.2 259.7 368.7 255.2 367.6z" class="fr"/>
<path d="M112.9 394.2 117.4 391.1 119.6 390.8 115.1 393.9z" class="nn1"/>
<path d="M282.4 368.8 286.9 367.6 289.1 368.2 284.6 369.4z" class="gf1"/>
<path d="M323 355.4 327.6 353.6 329.8 354.4 325.2 356.2z" class="wc"/>
<path d="M185.1 356.1 189.7 355.1 191.9 355.2 187.3 356.3z" class="no1"/>
<path d="M164.8 363.7 169.3 361.3 171.5 361.2 167 363.7z" class="np1"/>
<path d="M368.2 343.4 372.7 342.0 374.9 343.4 370.4 344.8z" class="nq1"/>
<path d="M257.5 368.2 262 368.9 264.2 369.5 259.7 368.7z" class="fr"/>
<path d="M214.5 355.0 219.1 355.8 221.3 356.1 216.7 355.3z" class="fr"/>
<path d="M347.9 348.1 352.4 346.5 354.6 347.6 350.1 349.2z" class="mz1"/>
<path d="M149 371.7 153.5 368.8 155.7 368.7 151.2 371.6z" class="ll1"/>
<path d="M286.9 367.6 291.4 366.2 293.6 366.7 289.1 368.2z" class="nr1"/>
<path d="M307.2 361.2 311.8 358.9 314 359.5 309.4 361.7z" class="vu"/>
<path d="M219.1 355.8 223.6 356.9 225.8 357.3 221.3 356.1z" class="fr"/>
<path d="M262 368.9 266.6 369.4 268.8 370.0 264.2 369.5z" class="hk1"/>
<path d="M327.6 353.6 332.1 351.9 334.3 352.7 329.8 354.4z" class="vs"/>
<path d="M133.2 381.2 137.7 378.1 139.9 377.8 135.4 381.0z" class="gb1"/>
<path d="M189.7 355.1 194.2 354.3 196.4 354.5 191.9 355.2z" class="ns1"/>
<path d="M117.4 391.1 121.9 387.9 124.2 387.6 119.6 390.8z" class="nt1"/>
<path d="M169.3 361.3 173.9 359.3 176.1 359.2 171.5 361.2z" class="nu1"/>
<path d="M223.6 356.9 228.1 358.4 230.3 358.7 225.8 357.3z" class="fr"/>
<path d="M266.6 369.4 271.1 369.4 273.3 370.0 268.8 370.0z" class="nv1"/>
<path d="M352.4 346.5 356.9 345.0 359.1 346.2 354.6 347.6z" class="nd1"/>
<path d="M194.2 354.3 198.7 354.2 200.9 354.3 196.4 354.5z" class="fr"/>
<path d="M228.1 358.4 232.6 360.0 234.8 360.4 230.3 358.7z" class="nw1"/>
<path d="M291.4 366.2 296 364.6 298.2 365.1 293.6 366.7z" class="nx1"/>
<path d="M153.5 368.8 158.1 366.3 160.3 366.2 155.7 368.7z" class="ny1"/>
<path d="M332.1 351.9 336.6 350.3 338.8 351.2 334.3 352.7z" class="uy"/>
<path d="M311.8 358.9 316.3 356.8 318.5 357.4 314 359.5z" class="vb"/>
<path d="M137.7 378.1 142.3 375.0 144.5 374.7 139.9 377.8z" class="nz1"/>
<path d="M232.6 360.0 237.2 361.7 239.4 362.1 234.8 360.4z" class="iz1"/>
<path d="M173.9 359.3 178.4 357.6 180.6 357.6 176.1 359.2z" class="jm1"/>
<path d="M271.1 369.4 275.6 369.1 277.8 369.7 273.3 370.0z" class="oa1"/>
<path d="M121.9 387.9 126.5 384.7 128.7 384.4 124.2 387.6z" class="ob1"/>
<path d="M198.7 354.2 203.3 354.3 205.5 354.4 200.9 354.3z" class="fr"/>
<path d="M356.9 345.0 361.5 343.6 363.7 344.8 359.1 346.2z" class="nd1"/>
<path d="M237.2 361.7 241.7 363.4 243.9 363.9 239.4 362.1z" class="mc1"/>
<path d="M296 364.6 300.5 362.7 302.7 363.2 298.2 365.1z" class="ji1"/>
<path d="M336.6 350.3 341.1 348.8 343.3 349.8 338.8 351.2z" class="vz"/>
<path d="M158.1 366.3 162.6 363.8 164.8 363.7 160.3 366.2z" class="oc1"/>
<path d="M241.7 363.4 246.2 365.0 248.4 365.6 243.9 363.9z" class="fr"/>
<path d="M316.3 356.8 320.8 354.7 323 355.4 318.5 357.4z" class="wc"/>
<path d="M275.6 369.1 280.2 368.2 282.4 368.8 277.8 369.7z" class="yo"/>
<path d="M203.3 354.3 207.8 354.4 210 354.6 205.5 354.4z" class="fr"/>
<path d="M178.4 357.6 182.9 356.1 185.1 356.1 180.6 357.6z" class="od1"/>
<path d="M142.3 375.0 146.8 371.9 149 371.7 144.5 374.7z" class="oe1"/>
<path d="M246.2 365.0 250.8 366.4 253 367.0 248.4 365.6z" class="fr"/>
<path d="M361.5 343.6 366 342.2 368.2 343.4 363.7 344.8z" class="nd1"/>
<path d="M126.5 384.7 131 381.5 133.2 381.2 128.7 384.4z" class="of1"/>
<path d="M207.8 354.4 212.3 354.8 214.5 355.0 210 354.6z" class="fr"/>
<path d="M341.1 348.8 345.7 347.2 347.9 348.1 343.3 349.8z" class="og1"/>
<path d="M300.5 362.7 305 360.6 307.2 361.2 302.7 363.2z" class="oh1"/>
<path d="M250.8 366.4 255.3 367.5 257.5 368.2 253 367.0z" class="fr"/>
<path d="M280.2 368.2 284.7 367.0 286.9 367.6 282.4 368.8z" class="oi1"/>
<path d="M320.8 354.7 325.3 352.9 327.6 353.6 323 355.4z" class="vs"/>
<path d="M162.6 363.8 167.1 361.4 169.3 361.3 164.8 363.7z" class="oj1"/>
<path d="M182.9 356.1 187.5 355.1 189.7 355.1 185.1 356.1z" class="ok1"/>
<path d="M212.3 354.8 216.9 355.6 219.1 355.8 214.5 355.0z" class="fr"/>
<path d="M255.3 367.5 259.8 368.3 262 368.9 257.5 368.2z" class="fr"/>
<path d="M366 342.2 370.5 340.7 372.7 342.0 368.2 343.4z" class="mm1"/>
<path d="M146.8 371.9 151.3 369.0 153.5 368.8 149 371.7z" class="ol1"/>
<path d="M345.7 347.2 350.2 345.5 352.4 346.5 347.9 348.1z" class="mz1"/>
<path d="M131 381.5 135.5 378.3 137.7 378.1 133.2 381.2z" class="om1"/>
<path d="M284.7 367.0 289.2 365.6 291.4 366.2 286.9 367.6z" class="xc"/>
<path d="M305 360.6 309.6 358.4 311.8 358.9 307.2 361.2z" class="vk"/>
<path d="M216.9 355.6 221.4 356.7 223.6 356.9 219.1 355.8z" class="fr"/>
<path d="M187.5 355.1 192 354.3 194.2 354.3 189.7 355.1z" class="hk1"/>
<path d="M259.8 368.3 264.4 368.7 266.6 369.4 262 368.9z" class="on1"/>
<path d="M325.3 352.9 329.9 351.2 332.1 351.9 327.6 353.6z" class="ww"/>
<path d="M167.1 361.4 171.7 359.4 173.9 359.3 169.3 361.3z" class="oo1"/>
<path d="M221.4 356.7 225.9 358.0 228.1 358.4 223.6 356.9z" class="fr"/>
<path d="M264.4 368.7 268.9 368.7 271.1 369.4 266.6 369.4z" class="op1"/>
<path d="M192 354.3 196.5 354.1 198.7 354.2 194.2 354.3z" class="fr"/>
<path d="M350.2 345.5 354.7 344.0 356.9 345.0 352.4 346.5z" class="mz1"/>
<path d="M151.3 369.0 155.9 366.5 158.1 366.3 153.5 368.8z" class="oq1"/>
<path d="M225.9 358.0 230.4 359.6 232.6 360.0 228.1 358.4z" class="hk1"/>
<path d="M289.2 365.6 293.8 364.0 296 364.6 291.4 366.2z" class="or1"/>
<path d="M309.6 358.4 314.1 356.2 316.3 356.8 311.8 358.9z" class="wo"/>
<path d="M329.9 351.2 334.4 349.6 336.6 350.3 332.1 351.9z" class="vm"/>
<path d="M135.5 378.3 140.1 375.2 142.3 375.0 137.7 378.1z" class="os1"/>
<path d="M171.7 359.4 176.2 357.7 178.4 357.6 173.9 359.3z" class="jr1"/>
<path d="M230.4 359.6 235 361.2 237.2 361.7 232.6 360.0z" class="hk1"/>
<path d="M268.9 368.7 273.4 368.4 275.6 369.1 271.1 369.4z" class="ot1"/>
<path d="M196.5 354.1 201.1 354.2 203.3 354.3 198.7 354.2z" class="fr"/>
<path d="M235 361.2 239.5 362.9 241.7 363.4 237.2 361.7z" class="fr"/>
<path d="M354.7 344.0 359.3 342.5 361.5 343.6 356.9 345.0z" class="mz1"/>
<path d="M293.8 364.0 298.3 362.2 300.5 362.7 296 364.6z" class="we"/>
<path d="M155.9 366.5 160.4 364.0 162.6 363.8 158.1 366.3z" class="ou1"/>
<path d="M334.4 349.6 338.9 348.1 341.1 348.8 336.6 350.3z" class="ov1"/>
<path d="M239.5 362.9 244 364.5 246.2 365.0 241.7 363.4z" class="fr"/>
<path d="M314.1 356.2 318.6 354.2 320.8 354.7 316.3 356.8z" class="wc"/>
<path d="M201.1 354.2 205.6 354.3 207.8 354.4 203.3 354.3z" class="fr"/>
<path d="M176.2 357.7 180.7 356.2 182.9 356.1 178.4 357.6z" class="ow1"/>
<path d="M273.4 368.4 278 367.6 280.2 368.2 275.6 369.1z" class="yh"/>
<path d="M140.1 375.2 144.6 372.2 146.8 371.9 142.3 375.0z" class="ox1"/>
<path d="M244 364.5 248.6 365.8 250.8 366.4 246.2 365.0z" class="fr"/>
<path d="M359.3 342.5 363.8 341.1 366 342.2 361.5 343.6z" class="me1"/>
<path d="M205.6 354.3 210.1 354.7 212.3 354.8 207.8 354.4z" class="fr"/>
<path d="M298.3 362.2 302.8 360.1 305 360.6 300.5 362.7z" class="oy1"/>
<path d="M338.9 348.1 343.5 346.4 345.7 347.2 341.1 348.8z" class="og1"/>
<path d="M248.6 365.8 253.1 366.8 255.3 367.5 250.8 366.4z" class="fr"/>
<path d="M160.4 364.0 164.9 361.6 167.1 361.4 162.6 363.8z" class="oz1"/>
<path d="M278 367.6 282.5 366.5 284.7 367.0 280.2 368.2z" class="ml1"/>
<path d="M180.7 356.2 185.3 355.2 187.5 355.1 182.9 356.1z" class="pa1"/>
<path d="M318.6 354.2 323.1 352.3 325.3 352.9 320.8 354.7z" class="ww"/>
<path d="M210.1 354.7 214.6 355.4 216.9 355.6 212.3 354.8z" class="fr"/>
<path d="M253.1 366.8 257.6 367.6 259.8 368.3 255.3 367.5z" class="hk1"/>
<path d="M144.6 372.2 149.1 369.3 151.3 369.0 146.8 371.9z" class="pb1"/>
<path d="M363.8 341.1 368.3 339.6 370.5 340.7 366 342.2z" class="mm1"/>
<path d="M214.6 355.4 219.2 356.5 221.4 356.7 216.9 355.6z" class="fr"/>
<path d="M343.5 346.4 348 344.7 350.2 345.5 345.7 347.2z" class="mz1"/>
<path d="M185.3 355.2 189.8 354.4 192 354.3 187.5 355.1z" class="fr"/>
<path d="M282.5 366.5 287 365.1 289.2 365.6 284.7 367.0z" class="xr"/>
<path d="M302.8 360.1 307.3 357.9 309.6 358.4 305 360.6z" class="xp"/>
<path d="M257.6 367.6 262.2 368.0 264.4 368.7 259.8 368.3z" class="pc1"/>
<path d="M323.1 352.3 327.7 350.6 329.9 351.2 325.3 352.9z" class="yi"/>
<path d="M164.9 361.6 169.5 359.5 171.7 359.4 167.1 361.4z" class="pd1"/>
<path d="M219.2 356.5 223.7 357.8 225.9 358.0 221.4 356.7z" class="ka1"/>
<path d="M149.1 369.3 153.7 366.7 155.9 366.5 151.3 369.0z" class="pe1"/>
<path d="M189.8 354.4 194.3 354.2 196.5 354.1 192 354.3z" class="fr"/>
<path d="M262.2 368.0 266.7 367.9 268.9 368.7 264.4 368.7z" class="ot1"/>
<path d="M223.7 357.8 228.2 359.3 230.4 359.6 225.9 358.0z" class="ka1"/>
<path d="M348 344.7 352.5 343.1 354.7 344.0 350.2 345.5z" class="mz1"/>
<path d="M287 365.1 291.6 363.5 293.8 364.0 289.2 365.6z" class="wq"/>
<path d="M307.3 357.9 311.9 355.8 314.1 356.2 309.6 358.4z" class="wo"/>
<path d="M327.7 350.6 332.2 349.0 334.4 349.6 329.9 351.2z" class="xh"/>
<path d="M169.5 359.5 174 357.9 176.2 357.7 171.7 359.4z" class="pf1"/>
<path d="M228.2 359.3 232.8 360.8 235 361.2 230.4 359.6z" class="pg1"/>
<path d="M194.3 354.2 198.9 354.3 201.1 354.2 196.5 354.1z" class="fr"/>
<path d="M266.7 367.9 271.2 367.7 273.4 368.4 268.9 368.7z" class="ph1"/>
<path d="M232.8 360.8 237.3 362.4 239.5 362.9 235 361.2z" class="fr"/>
<path d="M153.7 366.7 158.2 364.2 160.4 364.0 155.9 366.5z" class="pi1"/>
<path d="M352.5 343.1 357.1 341.6 359.3 342.5 354.7 344.0z" class="mz1"/>
<path d="M291.6 363.5 296.1 361.7 298.3 362.2 293.8 364.0z" class="wu"/>
<path d="M332.2 349.0 336.7 347.4 338.9 348.1 334.4 349.6z" class="xh"/>
<path d="M198.9 354.3 203.4 354.3 205.6 354.3 201.1 354.2z" class="fr"/>
<path d="M237.3 362.4 241.8 363.9 244 364.5 239.5 362.9z" class="fr"/>
<path d="M174 357.9 178.5 356.4 180.7 356.2 176.2 357.7z" class="pj1"/>
<path d="M311.9 355.8 316.4 353.7 318.6 354.2 314.1 356.2z" class="xj"/>
<path d="M271.2 367.7 275.8 366.9 278 367.6 273.4 368.4z" class="yr"/>
<path d="M241.8 363.9 246.4 365.1 248.6 365.8 244 364.5z" class="fr"/>
<path d="M203.4 354.3 207.9 354.7 210.1 354.7 205.6 354.3z" class="fr"/>
<path d="M357.1 341.6 361.6 340.2 363.8 341.1 359.3 342.5z" class="me1"/>
<path d="M296.1 361.7 300.6 359.7 302.8 360.1 298.3 362.2z" class="oy1"/>
<path d="M158.2 364.2 162.7 361.8 164.9 361.6 160.4 364.0z" class="pk1"/>
<path d="M336.7 347.4 341.3 345.7 343.5 346.4 338.9 348.1z" class="vz"/>
<path d="M178.5 356.4 183.1 355.3 185.3 355.2 180.7 356.2z" class="fr"/>
<path d="M246.4 365.1 250.9 366.1 253.1 366.8 248.6 365.8z" class="fr"/>
<path d="M275.8 366.9 280.3 365.8 282.5 366.5 278 367.6z" class="xc"/>
<path d="M316.4 353.7 320.9 351.8 323.1 352.3 318.6 354.2z" class="yi"/>
<path d="M207.9 354.7 212.4 355.4 214.6 355.4 210.1 354.7z" class="fr"/>
<path d="M250.9 366.1 255.4 366.8 257.6 367.6 253.1 366.8z" class="pl1"/>
<path d="M361.6 340.2 366.1 338.7 368.3 339.6 363.8 341.1z" class="me1"/>
<path d="M183.1 355.3 187.6 354.5 189.8 354.4 185.3 355.2z" class="fr"/>
<path d="M212.4 355.4 217 356.4 219.2 356.5 214.6 355.4z" class="mc1"/>
<path d="M300.6 359.7 305.1 357.5 307.3 357.9 302.8 360.1z" class="xp"/>
<path d="M341.3 345.7 345.8 344.0 348 344.7 343.5 346.4z" class="nl1"/>
<path d="M280.3 365.8 284.8 364.5 287 365.1 282.5 366.5z" class="or1"/>
<path d="M162.7 361.8 167.3 359.8 169.5 359.5 164.9 361.6z" class="pm1"/>
<path d="M320.9 351.8 325.5 350.1 327.7 350.6 323.1 352.3z" class="ys"/>
<path d="M255.4 366.8 260 367.2 262.2 368.0 257.6 367.6z" class="pn1"/>
<path d="M217 356.4 221.5 357.6 223.7 357.8 219.2 356.5z" class="ka1"/>
<path d="M187.6 354.5 192.1 354.3 194.3 354.2 189.8 354.4z" class="fr"/>
<path d="M260 367.2 264.5 367.1 266.7 367.9 262.2 368.0z" class="po1"/>
<path d="M221.5 357.6 226 359.0 228.2 359.3 223.7 357.8z" class="pg1"/>
<path d="M284.8 364.5 289.4 363.0 291.6 363.5 287 365.1z" class="xg"/>
<path d="M345.8 344.0 350.3 342.4 352.5 343.1 348 344.7z" class="nl1"/>
<path d="M167.3 359.8 171.8 358.1 174 357.9 169.5 359.5z" class="pp1"/>
<path d="M305.1 357.5 309.7 355.4 311.9 355.8 307.3 357.9z" class="xt"/>
<path d="M325.5 350.1 330 348.5 332.2 349.0 327.7 350.6z" class="yy"/>
<path d="M226 359.0 230.6 360.5 232.8 360.8 228.2 359.3z" class="mi1"/>
<path d="M192.1 354.3 196.6 354.4 198.9 354.3 194.3 354.2z" class="fr"/>
<path d="M264.5 367.1 269 366.9 271.2 367.7 266.7 367.9z" class="oc1"/>
<path d="M230.6 360.5 235.1 361.9 237.3 362.4 232.8 360.8z" class="fr"/>
<path d="M289.4 363.0 293.9 361.2 296.1 361.7 291.6 363.5z" class="xm"/>
<path d="M350.3 342.4 354.9 340.9 357.1 341.6 352.5 343.1z" class="nl1"/>
<path d="M171.8 358.1 176.3 356.6 178.5 356.4 174 357.9z" class="pq1"/>
<path d="M196.6 354.4 201.2 354.4 203.4 354.3 198.9 354.3z" class="fr"/>
<path d="M330 348.5 334.5 346.9 336.7 347.4 332.2 349.0z" class="xh"/>
<path d="M235.1 361.9 239.6 363.3 241.8 363.9 237.3 362.4z" class="fr"/>
<path d="M309.7 355.4 314.2 353.3 316.4 353.7 311.9 355.8z" class="yp"/>
<path d="M269 366.9 273.6 366.2 275.8 366.9 271.2 367.7z" class="nh1"/>
<path d="M239.6 363.3 244.2 364.4 246.4 365.1 241.8 363.9z" class="fr"/>
<path d="M201.2 354.4 205.7 354.7 207.9 354.7 203.4 354.3z" class="fr"/>
<path d="M354.9 340.9 359.4 339.4 361.6 340.2 357.1 341.6z" class="ly1"/>
<path d="M176.3 356.6 180.9 355.5 183.1 355.3 178.5 356.4z" class="fr"/>
<path d="M293.9 361.2 298.4 359.3 300.6 359.7 296.1 361.7z" class="wz"/>
<path d="M334.5 346.9 339.1 345.1 341.3 345.7 336.7 347.4z" class="vm"/>
<path d="M244.2 364.4 248.7 365.3 250.9 366.1 246.4 365.1z" class="fr"/>
<path d="M314.2 353.3 318.7 351.4 320.9 351.8 316.4 353.7z" class="yw"/>
<path d="M273.6 366.2 278.1 365.1 280.3 365.8 275.8 366.9z" class="yl"/>
<path d="M205.7 354.7 210.2 355.3 212.4 355.4 207.9 354.7z" class="fr"/>
<path d="M248.7 365.3 253.2 365.9 255.4 366.8 250.9 366.1z" class="pr1"/>
<path d="M180.9 355.5 185.4 354.7 187.6 354.5 183.1 355.3z" class="fr"/>
<path d="M359.4 339.4 363.9 337.9 366.1 338.7 361.6 340.2z" class="ly1"/>
<path d="M210.2 355.3 214.8 356.2 217 356.4 212.4 355.4z" class="fr"/>
<path d="M298.4 359.3 302.9 357.1 305.1 357.5 300.6 359.7z" class="wo"/>
<path d="M339.1 345.1 343.6 343.4 345.8 344.0 341.3 345.7z" class="vz"/>
<path d="M278.1 365.1 282.6 363.9 284.8 364.5 280.3 365.8z" class="ps1"/>
<path d="M318.7 351.4 323.3 349.7 325.5 350.1 320.9 351.8z" class="zc"/>
<path d="M253.2 365.9 257.8 366.3 260 367.2 255.4 366.8z" class="pt1"/>
<path d="M214.8 356.2 219.3 357.4 221.5 357.6 217 356.4z" class="pu1"/>
<path d="M185.4 354.7 189.9 354.5 192.1 354.3 187.6 354.5z" class="fr"/>
<path d="M219.3 357.4 223.8 358.6 226 359.0 221.5 357.6z" class="fr"/>
<path d="M257.8 366.3 262.3 366.2 264.5 367.1 260 367.2z" class="pv1"/>
<path d="M282.6 363.9 287.1 362.5 289.4 363.0 284.8 364.5z" class="pw1"/>
<path d="M343.6 343.4 348.1 341.8 350.3 342.4 345.8 344.0z" class="uy"/>
<path d="M302.9 357.1 307.5 355.0 309.7 355.4 305.1 357.5z" class="xt"/>
<path d="M323.3 349.7 327.8 348.1 330 348.5 325.5 350.1z" class="zb"/>
<path d="M189.9 354.5 194.4 354.5 196.6 354.4 192.1 354.3z" class="fr"/>
<path d="M223.8 358.6 228.4 360.0 230.6 360.5 226 359.0z" class="fr"/>
<path d="M262.3 366.2 266.8 366.0 269 366.9 264.5 367.1z" class="oz1"/>
<path d="M228.4 360.0 232.9 361.3 235.1 361.9 230.6 360.5z" class="fr"/>
<path d="M194.4 354.5 199 354.5 201.2 354.4 196.6 354.4z" class="fr"/>
<path d="M287.1 362.5 291.7 360.8 293.9 361.2 289.4 363.0z" class="yg"/>
<path d="M348.1 341.8 352.7 340.3 354.9 340.9 350.3 342.4z" class="uy"/>
<path d="M327.8 348.1 332.3 346.5 334.5 346.9 330 348.5z" class="zb"/>
<path d="M307.5 355.0 312 353.0 314.2 353.3 309.7 355.4z" class="yp"/>
<path d="M232.9 361.3 237.4 362.6 239.6 363.3 235.1 361.9z" class="fr"/>
<path d="M266.8 366.0 271.4 365.4 273.6 366.2 269 366.9z" class="px1"/>
<path d="M199 354.5 203.5 354.7 205.7 354.7 201.2 354.4z" class="fr"/>
<path d="M237.4 362.6 242 363.6 244.2 364.4 239.6 363.3z" class="fr"/>
<path d="M352.7 340.3 357.2 338.8 359.4 339.4 354.9 340.9z" class="uy"/>
<path d="M291.7 360.8 296.2 359.0 298.4 359.3 293.9 361.2z" class="py1"/>
<path d="M332.3 346.5 336.9 344.7 339.1 345.1 334.5 346.9z" class="ys"/>
<path d="M312 353.0 316.5 351.1 318.7 351.4 314.2 353.3z" class="zb"/>
<path d="M242 363.6 246.5 364.4 248.7 365.3 244.2 364.4z" class="ig1"/>
<path d="M271.4 365.4 275.9 364.4 278.1 365.1 273.6 366.2z" class="oj1"/>
<path d="M203.5 354.7 208 355.3 210.2 355.3 205.7 354.7z" class="fr"/>
<path d="M246.5 364.4 251 364.9 253.2 365.9 248.7 365.3z" class="pz1"/>
<path d="M208 355.3 212.6 356.1 214.8 356.2 210.2 355.3z" class="fr"/>
<path d="M357.2 338.8 361.7 337.2 363.9 337.9 359.4 339.4z" class="ly1"/>
<path d="M296.2 359.0 300.7 356.9 302.9 357.1 298.4 359.3z" class="yt"/>
<path d="M336.9 344.7 341.4 343.0 343.6 343.4 339.1 345.1z" class="yx"/>
<path d="M275.9 364.4 280.4 363.3 282.6 363.9 278.1 365.1z" class="qa1"/>
<path d="M316.5 351.1 321.1 349.4 323.3 349.7 318.7 351.4z" class="qb1"/>
<path d="M212.6 356.1 217.1 357.1 219.3 357.4 214.8 356.2z" class="fr"/>
<path d="M251 364.9 255.6 365.2 257.8 366.3 253.2 365.9z" class="qc1"/>
<path d="M217.1 357.1 221.6 358.2 223.8 358.6 219.3 357.4z" class="fr"/>
<path d="M280.4 363.3 284.9 362.0 287.1 362.5 282.6 363.9z" class="qd1"/>
<path d="M255.6 365.2 260.1 365.1 262.3 366.2 257.8 366.3z" class="qe1"/>
<path d="M341.4 343.0 345.9 341.4 348.1 341.8 343.6 343.4z" class="yx"/>
<path d="M300.7 356.9 305.3 354.8 307.5 355.0 302.9 357.1z" class="qf1"/>
<path d="M321.1 349.4 325.6 347.8 327.8 348.1 323.3 349.7z" class="qb1"/>
<path d="M221.6 358.2 226.2 359.4 228.4 360.0 223.8 358.6z" class="fr"/>
<path d="M260.1 365.1 264.6 365.0 266.8 366.0 262.3 366.2z" class="pt1"/>
<path d="M226.2 359.4 230.7 360.6 232.9 361.3 228.4 360.0z" class="fr"/>
<path d="M284.9 362.0 289.5 360.4 291.7 360.8 287.1 362.5z" class="qg1"/>
<path d="M345.9 341.4 350.5 339.8 352.7 340.3 348.1 341.8z" class="xj"/>
<path d="M325.6 347.8 330.1 346.2 332.3 346.5 327.8 348.1z" class="zb"/>
<path d="M305.3 354.8 309.8 352.8 312 353.0 307.5 355.0z" class="qh1"/>
<path d="M230.7 360.6 235.2 361.7 237.4 362.6 232.9 361.3z" class="fr"/>
<path d="M264.6 365.0 269.1 364.4 271.4 365.4 266.8 366.0z" class="qi1"/>
<path d="M235.2 361.7 239.8 362.5 242 363.6 237.4 362.6z" class="mc1"/>
<path d="M289.5 360.4 294 358.6 296.2 359.0 291.7 360.8z" class="mh1"/>
<path d="M350.5 339.8 355 338.3 357.2 338.8 352.7 340.3z" class="ww"/>
<path d="M330.1 346.2 334.7 344.4 336.9 344.7 332.3 346.5z" class="ys"/>
<path d="M309.8 352.8 314.3 350.9 316.5 351.1 312 353.0z" class="qj1"/>
<path d="M239.8 362.5 244.3 363.2 246.5 364.4 242 363.6z" class="qk1"/>
<path d="M269.1 364.4 273.7 363.5 275.9 364.4 271.4 365.4z" class="ql1"/>
<path d="M244.3 363.2 248.8 363.6 251 364.9 246.5 364.4z" class="qm1"/>
<path d="M355 338.3 359.5 336.7 361.7 337.2 357.2 338.8z" class="vs"/>
<path d="M294 358.6 298.5 356.6 300.7 356.9 296.2 359.0z" class="kc1"/>
<path d="M334.7 344.4 339.2 342.6 341.4 343.0 336.9 344.7z" class="ys"/>
<path d="M314.3 350.9 318.9 349.2 321.1 349.4 316.5 351.1z" class="qn1"/>
<path d="M273.7 363.5 278.2 362.5 280.4 363.3 275.9 364.4z" class="qo1"/>
<path d="M248.8 363.6 253.4 363.9 255.6 365.2 251 364.9z" class="pr1"/>
<path d="M298.5 356.6 303.1 354.6 305.3 354.8 300.7 356.9z" class="qp1"/>
<path d="M339.2 342.6 343.7 341.0 345.9 341.4 341.4 343.0z" class="yw"/>
<path d="M278.2 362.5 282.7 361.3 284.9 362.0 280.4 363.3z" class="oo1"/>
<path d="M318.9 349.2 323.4 347.6 325.6 347.8 321.1 349.4z" class="qq1"/>
<path d="M253.4 363.9 257.9 363.8 260.1 365.1 255.6 365.2z" class="pr1"/>
<path d="M257.9 363.8 262.4 363.7 264.6 365.0 260.1 365.1z" class="pr1"/>
<path d="M282.7 361.3 287.3 359.9 289.5 360.4 284.9 362.0z" class="iq1"/>
<path d="M343.7 341.0 348.3 339.5 350.5 339.8 345.9 341.4z" class="qr1"/>
<path d="M303.1 354.6 307.6 352.7 309.8 352.8 305.3 354.8z" class="qs1"/>
<path d="M323.4 347.6 327.9 346.1 330.1 346.2 325.6 347.8z" class="qt1"/>
<path d="M262.4 363.7 266.9 363.2 269.1 364.4 264.6 365.0z" class="qu1"/>
<path d="M287.3 359.9 291.8 358.2 294 358.6 289.5 360.4z" class="qv1"/>
<path d="M348.3 339.5 352.8 337.9 355 338.3 350.5 339.8z" class="xj"/>
<path d="M327.9 346.1 332.5 344.3 334.7 344.4 330.1 346.2z" class="qj1"/>
<path d="M307.6 352.7 312.1 350.9 314.3 350.9 309.8 352.8z" class="qw1"/>
<path d="M266.9 363.2 271.5 362.4 273.7 363.5 269.1 364.4z" class="pm1"/>
<path d="M352.8 337.9 357.3 336.3 359.5 336.7 355 338.3z" class="vs"/>
<path d="M291.8 358.2 296.3 356.3 298.5 356.6 294 358.6z" class="kg1"/>
<path d="M332.5 344.3 337 342.5 339.2 342.6 334.7 344.4z" class="qj1"/>
<path d="M312.1 350.9 316.7 349.2 318.9 349.2 314.3 350.9z" class="qx1"/>
<path d="M271.5 362.4 276 361.6 278.2 362.5 273.7 363.5z" class="qy1"/>
<path d="M296.3 356.3 300.9 354.4 303.1 354.6 298.5 356.6z" class="qz1"/>
<path d="M337 342.5 341.5 340.9 343.7 341.0 339.2 342.6z" class="ra1"/>
<path d="M316.7 349.2 321.2 347.6 323.4 347.6 318.9 349.2z" class="rb1"/>
<path d="M276 361.6 280.5 360.5 282.7 361.3 278.2 362.5z" class="rc1"/>
<path d="M341.5 340.9 346.1 339.3 348.3 339.5 343.7 341.0z" class="qp1"/>
<path d="M321.2 347.6 325.7 346.1 327.9 346.1 323.4 347.6z" class="rd1"/>
<path d="M300.9 354.4 305.4 352.5 307.6 352.7 303.1 354.6z" class="re1"/>
<path d="M280.5 360.5 285.1 359.3 287.3 359.9 282.7 361.3z" class="rf1"/>
<path d="M346.1 339.3 350.6 337.8 352.8 337.9 348.3 339.5z" class="qp1"/>
<path d="M285.1 359.3 289.6 357.8 291.8 358.2 287.3 359.9z" class="rg1"/>
<path d="M325.7 346.1 330.3 344.3 332.5 344.3 327.9 346.1z" class="qt1"/>
<path d="M305.4 352.5 309.9 350.8 312.1 350.9 307.6 352.7z" class="rh1"/>
<path d="M350.6 337.8 355.1 336.2 357.3 336.3 352.8 337.9z" class="ri1"/>
<path d="M289.6 357.8 294.1 356.0 296.3 356.3 291.8 358.2z" class="kz1"/>
<path d="M330.3 344.3 334.8 342.5 337 342.5 332.5 344.3z" class="qt1"/>
<path d="M309.9 350.8 314.5 349.1 316.7 349.2 312.1 350.9z" class="rb1"/>
<path d="M334.8 342.5 339.3 340.8 341.5 340.9 337 342.5z" class="rj1"/>
<path d="M294.1 356.0 298.7 354.1 300.9 354.4 296.3 356.3z" class="rk1"/>
<path d="M314.5 349.1 319 347.6 321.2 347.6 316.7 349.2z" class="rd1"/>
<path d="M339.3 340.8 343.9 339.3 346.1 339.3 341.5 340.9z" class="rl1"/>
<path d="M319 347.6 323.5 346.0 325.7 346.1 321.2 347.6z" class="rm1"/>
<path d="M298.7 354.1 303.2 352.4 305.4 352.5 300.9 354.4z" class="rn1"/>
<path d="M343.9 339.3 348.4 337.7 350.6 337.8 346.1 339.3z" class="rn1"/>
<path d="M323.5 346.0 328.1 344.2 330.3 344.3 325.7 346.1z" class="qx1"/>
<path d="M303.2 352.4 307.7 350.6 309.9 350.8 305.4 352.5z" class="ro1"/>
<path d="M348.4 337.7 352.9 336.1 355.1 336.2 350.6 337.8z" class="rp1"/>
<path d="M328.1 344.2 332.6 342.5 334.8 342.5 330.3 344.3z" class="rh1"/>
<path d="M307.7 350.6 312.3 349.1 314.5 349.1 309.9 350.8z" class="rd1"/>
<path d="M332.6 342.5 337.1 340.8 339.3 340.8 334.8 342.5z" class="rl1"/>
<path d="M312.3 349.1 316.8 347.5 319 347.6 314.5 349.1z" class="rq1"/>
<path d="M337.1 340.8 341.6 339.3 343.9 339.3 339.3 340.8z" class="rl1"/>
<path d="M316.8 347.5 321.3 346.0 323.5 346.0 319 347.6z" class="rm1"/>
<path d="M341.6 339.3 346.2 337.7 348.4 337.7 343.9 339.3z" class="rl1"/>
<path d="M321.3 346.0 325.9 344.2 328.1 344.2 323.5 346.0z" class="ro1"/>
<path d="M346.2 337.7 350.7 336.1 352.9 336.1 348.4 337.7z" class="rj1"/>
<path d="M325.9 344.2 330.4 342.4 332.6 342.5 328.1 344.2z" class="ro1"/>
<path d="M330.4 342.4 334.9 340.8 337.1 340.8 332.6 342.5z" class="rd1"/>
<path d="M334.9 340.8 339.4 339.2 341.6 339.3 337.1 340.8z" class="rr1"/>
<path d="M339.4 339.2 344 337.7 346.2 337.7 341.6 339.3z" class="rl1"/>
<path d="M344 337.7 348.5 336.1 350.7 336.1 346.2 337.7z" class="rj1"/></g>
<path d="M58.5 423.2 61.4 422.6 64.4 422.1 67.3 421.6 70.3 421.1 73.2 420.6 76.1 420.0 79.1 419.5 82.0 419.1 84.9 419.0 87.9 419.1 90.8 419.3 93.8 419.7 96.7 420.5 99.6 421.3 102.6 422.1 105.5 422.8 108.4 423.5 111.4 424.2 114.3 424.9 117.2 425.9 120.2 427.4M61.4 421.6 64.4 421.1 67.3 420.5 70.2 420.0 73.2 419.6 76.1 419.1 79.1 418.5 82.0 418.0 84.9 417.6 87.9 417.5 90.8 417.6 93.7 417.9 96.7 418.3 99.6 419.1 102.6 420.0 105.5 420.7 108.4 421.5 111.4 422.3 114.3 423.0 117.2 423.7 120.2 424.9 123.1 426.4M64.4 420.0 67.3 419.5 70.2 419.0 73.2 418.5 76.1 418.0 79.1 417.6 82.0 417.0 84.9 416.6 87.9 416.3 90.8 416.2 93.7 416.3 96.7 416.6 99.6 417.1 102.5 418.0 105.5 419.0 108.4 419.8 111.4 420.7 114.3 421.5 117.2 422.3 120.2 423.3 123.1 424.5 126.0 426.3M67.3 418.5 70.2 417.9 73.2 417.4 76.1 416.9 79.0 416.5 82.0 416.1 84.9 415.6 87.9 415.2 90.8 414.9 93.7 414.8 96.7 415.0 99.6 415.4 102.5 416.0 105.5 417.0 108.4 418.0 111.3 418.9 114.3 419.9 117.2 420.9 120.2 421.8 123.1 422.8 126.0 424.2 129.0 426.2M70.2 416.9 73.2 416.3 76.1 415.8 79.0 415.4 82.0 415.0 84.9 414.6 87.8 414.1 90.8 413.7 93.7 413.5 96.7 413.5 99.6 413.8 102.5 414.2 105.5 414.8 108.4 415.9 111.3 417.0 114.3 418.1 117.2 419.1 120.2 420.2 123.1 421.2 126.0 422.4 129.0 424.0 131.9 426.1M73.2 415.3 76.1 414.7 79.0 414.2 82.0 413.8 84.9 413.4 87.8 413.0 90.8 412.6 93.7 412.3 96.6 412.1 99.6 412.1 102.5 412.5 105.5 413.0 108.4 413.7 111.3 414.8 114.3 416.0 117.2 417.2 120.1 418.3 123.1 419.5 126.0 420.7 129.0 422.0 131.9 423.7 134.8 426.0M76.1 413.6 79.0 413.1 82.0 412.6 84.9 412.2 87.8 411.8 90.8 411.5 93.7 411.1 96.6 410.8 99.6 410.7 102.5 410.8 105.5 411.2 108.4 411.7 111.3 412.5 114.3 413.8 117.2 415.0 120.1 416.3 123.1 417.5 126.0 418.8 128.9 420.1 131.9 421.6 134.8 423.4 137.8 426.0M79.0 412.0 82.0 411.5 84.9 411.0 87.8 410.6 90.8 410.3 93.7 409.9 96.6 409.6 99.6 409.3 102.5 409.2 105.4 409.4 108.4 409.8 111.3 410.5 114.3 411.4 117.2 412.7 120.1 414.0 123.1 415.4 126.0 416.7 128.9 418.1 131.9 419.6 134.8 421.1 137.7 423.2 140.7 425.9M81.9 410.4 84.9 409.9 87.8 409.4 90.8 409.0 93.7 408.7 96.6 408.4 99.6 408.1 102.5 407.9 105.4 407.8 108.4 408.0 111.3 408.5 114.2 409.3 117.2 410.2 120.1 411.6 123.1 413.1 126.0 414.5 128.9 415.9 131.9 417.4 134.8 419.0 137.7 420.7 140.7 422.9 143.6 425.8M84.9 408.8 87.8 408.3 90.7 407.9 93.7 407.5 96.6 407.2 99.6 406.9 102.5 406.7 105.4 406.5 108.4 406.5 111.3 406.7 114.2 407.3 117.2 408.1 120.1 409.1 123.1 410.6 126.0 412.1 128.9 413.6 131.9 415.2 134.8 416.8 137.7 418.5 140.7 420.3 143.6 422.6 146.5 425.7M87.8 407.3 90.7 406.8 93.7 406.4 96.6 406.0 99.5 405.8 102.5 405.5 105.4 405.3 108.4 405.1 111.3 405.2 114.2 405.5 117.2 406.1 120.1 406.9 123.0 408.0 126.0 409.6 128.9 411.2 131.9 412.8 134.8 414.4 137.7 416.1 140.7 417.9 143.6 419.9 146.5 422.4 149.5 425.7M90.7 405.9 93.7 405.4 96.6 405.0 99.5 404.6 102.5 404.4 105.4 404.1 108.4 403.9 111.3 403.8 114.2 403.9 117.2 404.2 120.1 404.9 123.0 405.8 126.0 407.0 128.9 408.6 131.8 410.3 134.8 412.0 137.7 413.7 140.7 415.5 143.6 417.4 146.5 419.5 149.5 422.1 152.4 425.6M93.7 404.4 96.6 404.0 99.5 403.6 102.5 403.2 105.4 403.0 108.3 402.8 111.3 402.6 114.2 402.5 117.2 402.6 120.1 403.0 123.0 403.7 126.0 404.7 128.9 405.9 131.8 407.6 134.8 409.4 137.7 411.1 140.6 412.9 143.6 414.8 146.5 416.9 149.5 419.1 152.4 421.8 155.3 425.5M96.6 403.0 99.5 402.5 102.5 402.1 105.4 401.8 108.3 401.6 111.3 401.4 114.2 401.3 117.1 401.2 120.1 401.4 123.0 401.8 126.0 402.6 128.9 403.6 131.8 404.9 134.8 406.6 137.7 408.5 140.6 410.3 143.6 412.2 146.5 414.2 149.5 416.3 152.4 418.6 155.3 421.5 158.3 425.3M99.5 401.5 102.5 401.1 105.4 400.7 108.3 400.4 111.3 400.2 114.2 400.0 117.1 399.9 120.1 399.9 123.0 400.1 126.0 400.6 128.9 401.4 131.8 402.4 134.8 403.8 137.7 405.6 140.6 407.5 143.6 409.4 146.5 411.4 149.4 413.5 152.4 415.7 155.3 418.1 158.3 421.2 161.2 425.1M102.4 400.1 105.4 399.6 108.3 399.2 111.3 398.9 114.2 398.8 117.1 398.6 120.1 398.5 123.0 398.6 125.9 398.8 128.9 399.3 131.8 400.1 134.8 401.2 137.7 402.6 140.6 404.5 143.6 406.5 146.5 408.5 149.4 410.5 152.4 412.7 155.3 415.0 158.2 417.5 161.2 420.7 164.1 424.8M105.4 398.6 108.3 398.2 111.3 397.8 114.2 397.5 117.1 397.3 120.1 397.2 123.0 397.1 125.9 397.2 128.9 397.4 131.8 398.0 134.7 398.9 137.7 400.0 140.6 401.5 143.6 403.4 146.5 405.5 149.4 407.5 152.4 409.6 155.3 411.8 158.2 414.3 161.2 416.9 164.1 420.1 167.0 424.4M108.3 397.1 111.2 396.6 114.2 396.3 117.1 396.0 120.1 395.8 123.0 395.7 125.9 395.7 128.9 395.8 131.8 396.1 134.7 396.6 137.7 397.6 140.6 398.8 143.5 400.3 146.5 402.3 149.4 404.4 152.4 406.5 155.3 408.7 158.2 411.0 161.2 413.5 164.1 416.2 167.0 419.6 170.0 424.1M111.2 395.3 114.2 394.9 117.1 394.5 120.0 394.3 123.0 394.1 125.9 394.1 128.9 394.1 131.8 394.2 134.7 394.5 137.7 395.1 140.6 396.1 143.5 397.4 146.5 398.9 149.4 401.0 152.4 403.2 155.3 405.4 158.2 407.6 161.2 410.1 164.1 412.7 167.0 415.6 170.0 419.1 172.9 423.7M114.2 393.4 117.1 393.0 120.0 392.6 123.0 392.4 125.9 392.2 128.8 392.2 131.8 392.2 134.7 392.4 137.7 392.8 140.6 393.4 143.5 394.5 146.5 395.8 149.4 397.4 152.3 399.6 155.3 401.9 158.2 404.2 161.2 406.5 164.1 409.0 167.0 411.8 170.0 414.8 172.9 418.5 175.8 423.3M117.1 391.3 120.0 390.9 123.0 390.6 125.9 390.3 128.8 390.3 131.8 390.2 134.7 390.3 137.7 390.5 140.6 390.9 143.5 391.7 146.5 392.7 149.4 394.1 152.3 395.9 155.3 398.1 158.2 400.5 161.1 402.9 164.1 405.3 167.0 408.0 170.0 410.9 172.9 414.0 175.8 417.8 178.8 422.8M120.0 389.2 123.0 388.8 125.9 388.5 128.8 388.3 131.8 388.2 134.7 388.2 137.6 388.3 140.6 388.6 143.5 389.0 146.5 389.8 149.4 391.0 152.3 392.4 155.3 394.3 158.2 396.6 161.1 399.1 164.1 401.5 167.0 404.1 169.9 406.9 172.9 409.9 175.8 413.2 178.8 417.2 181.7 422.4M123.0 387.1 125.9 386.8 128.8 386.4 131.8 386.2 134.7 386.2 137.6 386.2 140.6 386.4 143.5 386.7 146.4 387.2 149.4 388.0 152.3 389.2 155.3 390.8 158.2 392.7 161.1 395.1 164.1 397.6 167.0 400.2 169.9 402.9 172.9 405.7 175.8 408.9 178.8 412.3 181.7 416.4 184.6 421.9M125.9 385.1 128.8 384.7 131.8 384.4 134.7 384.2 137.6 384.2 140.6 384.3 143.5 384.5 146.4 384.8 149.4 385.3 152.3 386.2 155.3 387.5 158.2 389.1 161.1 391.0 164.1 393.5 167.0 396.2 169.9 398.8 172.9 401.6 175.8 404.6 178.7 407.9 181.7 411.4 184.6 415.7 187.6 421.3M128.8 383.0 131.7 382.7 134.7 382.4 137.6 382.2 140.6 382.2 143.5 382.3 146.4 382.5 149.4 382.9 152.3 383.5 155.2 384.4 158.2 385.7 161.1 387.4 164.1 389.4 167.0 392.0 169.9 394.7 172.9 397.4 175.8 400.2 178.7 403.3 181.7 406.8 184.6 410.4 187.5 414.8 190.5 420.6M131.7 381.0 134.7 380.6 137.6 380.3 140.6 380.2 143.5 380.2 146.4 380.3 149.4 380.6 152.3 380.9 155.2 381.6 158.2 382.6 161.1 383.9 164.0 385.6 167.0 387.7 169.9 390.4 172.9 393.2 175.8 396.0 178.7 398.9 181.7 402.1 184.6 405.6 187.5 409.3 190.5 413.9 193.4 419.9M134.7 378.9 137.6 378.6 140.5 378.3 143.5 378.2 146.4 378.2 149.4 378.4 152.3 378.6 155.2 379.0 158.2 379.7 161.1 380.7 164.0 382.1 167.0 383.9 169.9 386.1 172.8 388.8 175.8 391.6 178.7 394.5 181.7 397.5 184.6 400.8 187.5 404.4 190.5 408.3 193.4 413.0 196.3 419.1M137.6 376.9 140.5 376.6 143.5 376.3 146.4 376.2 149.3 376.2 152.3 376.4 155.2 376.7 158.2 377.1 161.1 377.9 164.0 378.9 167.0 380.4 169.9 382.2 172.8 384.4 175.8 387.2 178.7 390.1 181.7 393.1 184.6 396.2 187.5 399.6 190.5 403.3 193.4 407.3 196.3 412.1 199.3 418.4M140.5 374.9 143.5 374.6 146.4 374.3 149.3 374.2 152.3 374.3 155.2 374.5 158.2 374.8 161.1 375.3 164.0 376.0 167.0 377.1 169.9 378.6 172.8 380.5 175.8 382.8 178.7 385.7 181.6 388.7 184.6 391.7 187.5 394.9 190.5 398.3 193.4 402.2 196.3 406.3 199.3 411.3 202.2 417.7M143.5 372.9 146.4 372.6 149.3 372.4 152.3 372.2 155.2 372.3 158.1 372.6 161.1 372.9 164.0 373.4 167.0 374.2 169.9 375.4 172.8 376.9 175.8 378.9 178.7 381.2 181.6 384.1 184.6 387.2 187.5 390.3 190.4 393.6 193.4 397.1 196.3 401.1 199.3 405.3 202.2 410.4 205.1 417.0M146.4 371.0 149.3 370.7 152.3 370.4 155.2 370.3 158.1 370.4 161.1 370.7 164.0 371.1 166.9 371.6 169.9 372.5 172.8 373.6 175.8 375.2 178.7 377.2 181.6 379.6 184.6 382.6 187.5 385.8 190.4 389.0 193.4 392.3 196.3 395.9 199.2 400.0 202.2 404.3 205.1 409.5 208.1 416.4M149.3 369.2 152.3 368.9 155.2 368.6 158.1 368.5 161.1 368.7 164.0 368.9 166.9 369.3 169.9 369.9 172.8 370.8 175.7 372.0 178.7 373.6 181.6 375.7 184.6 378.2 187.5 381.2 190.4 384.4 193.4 387.7 196.3 391.1 199.2 394.8 202.2 399.0 205.1 403.4 208.1 408.7 211.0 415.7M152.2 367.5 155.2 367.2 158.1 367.0 161.1 366.9 164.0 367.0 166.9 367.3 169.9 367.7 172.8 368.4 175.7 369.2 178.7 370.5 181.6 372.1 184.6 374.2 187.5 376.8 190.4 379.8 193.4 383.1 196.3 386.4 199.2 389.9 202.2 393.7 205.1 397.9 208.0 402.4 211.0 407.9 213.9 415.0M155.2 365.9 158.1 365.6 161.1 365.4 164.0 365.3 166.9 365.5 169.9 365.8 172.8 366.2 175.7 366.8 178.7 367.8 181.6 369.0 184.5 370.7 187.5 372.8 190.4 375.4 193.4 378.5 196.3 381.8 199.2 385.2 202.2 388.7 205.1 392.5 208.0 396.8 211.0 401.4 213.9 406.9 216.8 414.2M158.1 364.3 161.0 364.0 164.0 363.8 166.9 363.7 169.9 363.9 172.8 364.2 175.7 364.6 178.7 365.3 181.6 366.2 184.5 367.5 187.5 369.2 190.4 371.4 193.3 373.9 196.3 377.1 199.2 380.5 202.2 383.8 205.1 387.4 208.0 391.3 211.0 395.7 213.9 400.3 216.8 405.9 219.8 413.2M161.0 362.7 164.0 362.4 166.9 362.2 169.8 362.1 172.8 362.3 175.7 362.6 178.7 363.1 181.6 363.7 184.5 364.7 187.5 366.0 190.4 367.7 193.3 369.9 196.3 372.5 199.2 375.7 202.1 379.1 205.1 382.5 208.0 386.1 211.0 390.1 213.9 394.5 216.8 399.2 219.8 404.9 222.7 412.4M164.0 361.2 166.9 360.9 169.8 360.7 172.8 360.7 175.7 360.8 178.6 361.2 181.6 361.7 184.5 362.3 187.5 363.3 190.4 364.6 193.3 366.4 196.3 368.6 199.2 371.2 202.1 374.4 205.1 377.9 208.0 381.3 211.0 384.9 213.9 388.9 216.8 393.5 219.8 398.2 222.7 404.0 225.6 411.6M166.9 359.9 169.8 359.6 172.8 359.4 175.7 359.4 178.6 359.6 181.6 359.9 184.5 360.4 187.5 361.1 190.4 362.1 193.3 363.4 196.3 365.2 199.2 367.4 202.1 370.1 205.1 373.3 208.0 376.8 210.9 380.3 213.9 383.9 216.8 387.9 219.8 392.5 222.7 397.3 225.6 403.2 228.6 410.8M169.8 358.8 172.8 358.5 175.7 358.3 178.6 358.3 181.6 358.5 184.5 358.8 187.4 359.3 190.4 360.0 193.3 361.0 196.3 362.3 199.2 364.1 202.1 366.4 205.1 369.1 208.0 372.3 210.9 375.8 213.9 379.4 216.8 383.0 219.7 387.1 222.7 391.7 225.6 396.5 228.6 402.5 231.5 410.2M172.8 357.7 175.7 357.5 178.6 357.3 181.6 357.2 184.5 357.5 187.4 357.8 190.4 358.3 193.3 359.0 196.2 360.0 199.2 361.4 202.1 363.2 205.1 365.4 208.0 368.2 210.9 371.5 213.9 375.0 216.8 378.5 219.7 382.2 222.7 386.3 225.6 391.0 228.5 395.9 231.5 401.8 234.4 409.7M175.7 356.8 178.6 356.5 181.6 356.4 184.5 356.3 187.4 356.5 190.4 356.9 193.3 357.4 196.2 358.2 199.2 359.2 202.1 360.5 205.0 362.3 208.0 364.6 210.9 367.4 213.9 370.7 216.8 374.2 219.7 377.8 222.7 381.5 225.6 385.6 228.5 390.4 231.5 395.3 234.4 401.3 237.4 409.3M178.6 356.0 181.5 355.8 184.5 355.6 187.4 355.6 190.4 355.8 193.3 356.2 196.2 356.7 199.2 357.4 202.1 358.4 205.0 359.8 208.0 361.6 210.9 363.9 213.9 366.7 216.8 370.0 219.7 373.6 222.7 377.2 225.6 380.9 228.5 385.1 231.5 389.8 234.4 394.8 237.3 400.9 240.3 409.0M181.5 355.4 184.5 355.1 187.4 355.0 190.4 354.9 193.3 355.2 196.2 355.6 199.2 356.1 202.1 356.8 205.0 357.9 208.0 359.2 210.9 361.1 213.8 363.4 216.8 366.2 219.7 369.5 222.7 373.1 225.6 376.7 228.5 380.4 231.5 384.6 234.4 389.4 237.3 394.4 240.3 400.6 243.2 408.8M184.5 354.8 187.4 354.6 190.3 354.5 193.3 354.5 196.2 354.7 199.2 355.1 202.1 355.6 205.0 356.4 208.0 357.4 210.9 358.8 213.8 360.6 216.8 362.9 219.7 365.7 222.6 369.1 225.6 372.7 228.5 376.3 231.5 380.0 234.4 384.3 237.3 389.1 240.3 394.1 243.2 400.3 246.1 408.6M187.4 354.5 190.3 354.3 193.3 354.1 196.2 354.1 199.1 354.4 202.1 354.8 205.0 355.3 208.0 356.1 210.9 357.1 213.8 358.5 216.8 360.3 219.7 362.6 222.6 365.4 225.6 368.8 228.5 372.4 231.4 376.0 234.4 379.8 237.3 384.0 240.3 388.8 243.2 393.9 246.1 400.1 249.1 408.5M190.3 354.5 193.3 354.3 196.2 354.2 199.1 354.2 202.1 354.4 205.0 354.8 207.9 355.4 210.9 356.1 213.8 357.1 216.8 358.5 219.7 360.3 222.6 362.6 225.6 365.4 228.5 368.8 231.4 372.4 234.4 376.0 237.3 379.7 240.3 383.9 243.2 388.8 246.1 393.8 249.1 400.1 252.0 408.5M193.3 354.5 196.2 354.3 199.1 354.2 202.1 354.2 205.0 354.5 207.9 354.9 210.9 355.4 213.8 356.2 216.8 357.2 219.7 358.6 222.6 360.4 225.6 362.7 228.5 365.5 231.4 368.8 234.4 372.4 237.3 376.0 240.2 379.7 243.2 383.9 246.1 388.8 249.1 393.9 252.0 400.2 254.9 408.6M196.2 354.5 199.1 354.3 202.1 354.3 205.0 354.3 207.9 354.6 210.9 355.0 213.8 355.5 216.7 356.3 219.7 357.3 222.6 358.7 225.6 360.5 228.5 362.8 231.4 365.5 234.4 368.9 237.3 372.5 240.2 376.1 243.2 379.8 246.1 384.0 249.0 388.9 252.0 393.9 254.9 400.3 257.9 408.8M199.1 354.5 202.1 354.4 205.0 354.3 207.9 354.4 210.9 354.7 213.8 355.1 216.7 355.7 219.7 356.4 222.6 357.4 225.5 358.8 228.5 360.6 231.4 362.9 234.4 365.6 237.3 369.0 240.2 372.6 243.2 376.1 246.1 379.8 249.0 384.0 252.0 389.0 254.9 394.0 257.8 400.4 260.8 409.0M202.0 354.6 205.0 354.6 207.9 354.5 210.9 354.6 213.8 354.9 216.7 355.4 219.7 355.9 222.6 356.7 225.5 357.7 228.5 359.0 231.4 360.8 234.3 363.1 237.3 365.9 240.2 369.2 243.2 372.8 246.1 376.3 249.0 380.0 252.0 384.2 254.9 389.1 257.8 394.2 260.8 400.6 263.7 409.2M205.0 354.9 207.9 354.9 210.8 354.9 213.8 355.0 216.7 355.3 219.7 355.8 222.6 356.4 225.5 357.1 228.5 358.1 231.4 359.4 234.3 361.2 237.3 363.5 240.2 366.2 243.2 369.5 246.1 373.1 249.0 376.6 252.0 380.3 254.9 384.5 257.8 389.4 260.8 394.4 263.7 400.8 266.6 409.5M207.9 355.2 210.8 355.3 213.8 355.4 216.7 355.5 219.7 355.9 222.6 356.3 225.5 356.9 228.5 357.7 231.4 358.7 234.3 360.0 237.3 361.7 240.2 364.0 243.1 366.7 246.1 370.0 249.0 373.5 252.0 377.0 254.9 380.7 257.8 384.8 260.8 389.7 263.7 394.8 266.6 401.2 269.6 409.9M210.8 355.8 213.8 355.9 216.7 356.0 219.6 356.2 222.6 356.6 225.5 357.1 228.5 357.7 231.4 358.4 234.3 359.4 237.3 360.7 240.2 362.4 243.1 364.6 246.1 367.3 249.0 370.5 251.9 374.0 254.9 377.5 257.8 381.1 260.8 385.2 263.7 390.1 266.6 395.1 269.6 401.5 272.5 410.3M213.8 356.3 216.7 356.6 219.6 356.7 222.6 357.0 225.5 357.4 228.4 357.9 231.4 358.5 234.3 359.2 237.3 360.2 240.2 361.5 243.1 363.1 246.1 365.3 249.0 367.9 251.9 371.2 254.9 374.6 257.8 378.0 260.7 381.5 263.7 385.6 266.6 390.4 269.6 395.5 272.5 401.8 275.4 410.6M216.7 357.0 219.6 357.3 222.6 357.6 225.5 357.9 228.4 358.3 231.4 358.9 234.3 359.5 237.2 360.2 240.2 361.1 243.1 362.4 246.1 364.0 249.0 366.1 251.9 368.7 254.9 371.9 257.8 375.2 260.7 378.6 263.7 382.0 266.6 386.0 269.6 390.8 272.5 395.8 275.4 402.2 278.4 411.0M219.6 357.7 222.6 358.2 225.5 358.5 228.4 358.9 231.4 359.4 234.3 359.9 237.2 360.5 240.2 361.2 243.1 362.1 246.1 363.3 249.0 364.9 251.9 367.0 254.9 369.5 257.8 372.6 260.7 375.9 263.7 379.2 266.6 382.6 269.5 386.5 272.5 391.3 275.4 396.2 278.4 402.5 281.3 411.4M222.6 358.5 225.5 359.0 228.4 359.5 231.4 359.9 234.3 360.4 237.2 361.0 240.2 361.6 243.1 362.3 246.0 363.2 249.0 364.4 251.9 365.9 254.9 367.9 257.8 370.4 260.7 373.4 263.7 376.6 266.6 379.8 269.5 383.2 272.5 387.0 275.4 391.7 278.3 396.6 281.3 402.9 284.2 411.7M225.5 359.3 228.4 359.9 231.4 360.5 234.3 361.0 237.2 361.6 240.2 362.1 243.1 362.8 246.0 363.5 249.0 364.4 251.9 365.5 254.8 366.9 257.8 368.9 260.7 371.3 263.7 374.3 266.6 377.4 269.5 380.6 272.5 383.8 275.4 387.6 278.3 392.2 281.3 397.0 284.2 403.3 287.1 412.2M228.4 360.0 231.3 360.9 234.3 361.5 237.2 362.1 240.2 362.7 243.1 363.3 246.0 364.0 249.0 364.7 251.9 365.5 254.8 366.6 257.8 368.0 260.7 369.9 263.6 372.3 266.6 375.2 269.5 378.2 272.5 381.3 275.4 384.4 278.3 388.2 281.3 392.8 284.2 397.5 287.1 403.8 290.1 412.6M231.3 360.8 234.3 361.8 237.2 362.5 240.1 363.1 243.1 363.8 246.0 364.5 249.0 365.1 251.9 365.9 254.8 366.7 257.8 367.7 260.7 369.1 263.6 370.9 266.6 373.2 269.5 376.0 272.5 379.0 275.4 382.0 278.3 385.1 281.3 388.7 284.2 393.3 287.1 398.0 290.1 404.2 293.0 413.1M234.3 361.5 237.2 362.6 240.1 363.4 243.1 364.1 246.0 364.9 249.0 365.6 251.9 366.2 254.8 366.9 257.8 367.7 260.7 368.7 263.6 370.1 266.6 371.9 269.5 374.1 272.4 376.8 275.4 379.8 278.3 382.7 281.3 385.7 284.2 389.3 287.1 393.7 290.1 398.4 293.0 404.6 295.9 413.5M237.2 362.1 240.1 363.3 243.1 364.3 246.0 365.1 248.9 365.9 251.9 366.6 254.8 367.3 257.8 368.0 260.7 368.7 263.6 369.7 266.6 371.0 269.5 372.7 272.4 374.9 275.4 377.6 278.3 380.4 281.2 383.3 284.2 386.2 287.1 389.7 290.1 394.2 293.0 398.8 295.9 405.0 298.9 413.9M240.1 362.6 243.1 364.0 246.0 365.0 248.9 365.9 251.9 366.7 254.8 367.5 257.7 368.2 260.7 368.9 263.6 369.6 266.6 370.5 269.5 371.8 272.4 373.5 275.4 375.6 278.3 378.2 281.2 381.0 284.2 383.8 287.1 386.6 290.0 390.1 293.0 394.5 295.9 399.1 298.9 405.2 301.8 414.2M243.1 363.0 246.0 364.5 248.9 365.6 251.9 366.6 254.8 367.5 257.7 368.3 260.7 369.0 263.6 369.6 266.5 370.4 269.5 371.3 272.4 372.5 275.4 374.1 278.3 376.2 281.2 378.8 284.2 381.5 287.1 384.2 290.0 387.0 293.0 390.4 295.9 394.8 298.9 399.3 301.8 405.5 304.7 414.5M246.0 363.4 248.9 364.9 251.9 366.2 254.8 367.1 257.7 368.1 260.7 368.9 263.6 369.6 266.5 370.3 269.5 371.0 272.4 371.9 275.4 373.0 278.3 374.7 281.2 376.7 284.2 379.2 287.1 381.9 290.0 384.6 293.0 387.3 295.9 390.7 298.8 395.0 301.8 399.6 304.7 405.7 307.7 414.7M248.9 363.6 251.9 365.3 254.8 366.5 257.7 367.6 260.7 368.5 263.6 369.4 266.5 370.1 269.5 370.8 272.4 371.5 275.3 372.3 278.3 373.5 281.2 375.1 284.2 377.1 287.1 379.6 290.0 382.2 293.0 384.9 295.9 387.6 298.8 390.9 301.8 395.2 304.7 399.8 307.6 405.9 310.6 415.0M251.8 363.8 254.8 365.5 257.7 366.8 260.7 367.9 263.6 368.9 266.5 369.7 269.5 370.4 272.4 371.1 275.3 371.8 278.3 372.6 281.2 373.8 284.1 375.4 287.1 377.3 290.0 379.8 293.0 382.5 295.9 385.1 298.8 387.8 301.8 391.1 304.7 395.4 307.6 399.9 310.6 406.1 313.5 415.2M254.8 363.9 257.7 365.6 260.6 366.9 263.6 368.0 266.5 369.0 269.5 369.8 272.4 370.6 275.3 371.2 278.3 372.0 281.2 372.8 284.1 373.9 287.1 375.5 290.0 377.5 292.9 380.0 295.9 382.6 298.8 385.2 301.8 387.9 304.7 391.3 307.6 395.6 310.6 400.1 313.5 406.3 316.4 415.5M257.7 363.8 260.6 365.5 263.6 366.9 266.5 367.9 269.4 368.9 272.4 369.8 275.3 370.5 278.3 371.2 281.2 371.9 284.1 372.8 287.1 373.9 290.0 375.5 292.9 377.5 295.9 380.0 298.8 382.7 301.8 385.3 304.7 388.0 307.6 391.3 310.6 395.7 313.5 400.3 316.4 406.5 319.4 415.8M260.6 363.8 263.6 365.5 266.5 366.8 269.4 367.8 272.4 368.8 275.3 369.6 278.3 370.4 281.2 371.1 284.1 371.8 287.1 372.6 290.0 373.8 292.9 375.4 295.9 377.4 298.8 379.9 301.7 382.6 304.7 385.3 307.6 388.0 310.6 391.4 313.5 395.8 316.4 400.4 319.4 406.7 322.3 416.1M263.6 363.6 266.5 365.2 269.4 366.5 272.4 367.5 275.3 368.5 278.2 369.3 281.2 370.0 284.1 370.7 287.1 371.5 290.0 372.3 292.9 373.5 295.9 375.1 298.8 377.2 301.7 379.7 304.7 382.5 307.6 385.1 310.5 387.9 313.5 391.3 316.4 395.8 319.4 400.5 322.3 406.8 325.2 416.3M266.5 363.2 269.4 364.8 272.4 366.0 275.3 367.0 278.2 367.9 281.2 368.7 284.1 369.5 287.0 370.2 290.0 370.9 292.9 371.8 295.9 373.0 298.8 374.7 301.7 376.8 304.7 379.4 307.6 382.2 310.5 384.9 313.5 387.7 316.4 391.2 319.3 395.7 322.3 400.4 325.2 406.9 328.2 416.5M269.4 362.8 272.4 364.3 275.3 365.4 278.2 366.3 281.2 367.2 284.1 368.0 287.0 368.8 290.0 369.5 292.9 370.2 295.8 371.1 298.8 372.4 301.7 374.1 304.7 376.2 307.6 378.9 310.5 381.8 313.5 384.5 316.4 387.4 319.3 391.0 322.3 395.6 325.2 400.4 328.2 406.9 331.1 416.6M272.3 362.3 275.3 363.6 278.2 364.7 281.2 365.5 284.1 366.4 287.0 367.2 290.0 367.9 292.9 368.6 295.8 369.4 298.8 370.3 301.7 371.6 304.7 373.4 307.6 375.6 310.5 378.3 313.5 381.3 316.4 384.1 319.3 387.1 322.3 390.7 325.2 395.4 328.1 400.3 331.1 406.9 334.0 416.7M275.3 361.7 278.2 363.0 281.2 363.9 284.1 364.7 287.0 365.5 290.0 366.2 292.9 366.9 295.8 367.7 298.8 368.5 301.7 369.4 304.6 370.8 307.6 372.6 310.5 374.9 313.5 377.7 316.4 380.7 319.3 383.6 322.3 386.7 325.2 390.4 328.1 395.2 331.1 400.1 334.0 406.8 336.9 416.7M278.2 361.1 281.1 362.2 284.1 363.1 287.0 363.8 290.0 364.5 292.9 365.2 295.8 365.9 298.8 366.7 301.7 367.5 304.6 368.5 307.6 369.9 310.5 371.8 313.4 374.1 316.4 377.0 319.3 380.1 322.3 383.1 325.2 386.2 328.1 390.1 331.1 394.9 334.0 400.0 336.9 406.8 339.9 416.8M281.1 360.4 284.1 361.4 287.0 362.1 289.9 362.8 292.9 363.5 295.8 364.2 298.8 364.8 301.7 365.6 304.6 366.4 307.6 367.5 310.5 368.9 313.4 370.9 316.4 373.3 319.3 376.3 322.2 379.5 325.2 382.6 328.1 385.8 331.1 389.7 334.0 394.7 336.9 399.8 339.9 406.7 342.8 416.8M284.1 359.6 287.0 360.4 289.9 361.1 292.9 361.7 295.8 362.3 298.7 363.0 301.7 363.6 304.6 364.4 307.6 365.3 310.5 366.4 313.4 367.8 316.4 369.9 319.3 372.4 322.2 375.5 325.2 378.7 328.1 381.9 331.1 385.2 334.0 389.3 336.9 394.4 339.9 399.6 342.8 406.6 345.7 416.9M287.0 358.7 289.9 359.4 292.9 360.0 295.8 360.4 298.7 361.1 301.7 361.7 304.6 362.4 307.6 363.1 310.5 364.1 313.4 365.2 316.4 366.7 319.3 368.8 322.2 371.4 325.2 374.6 328.1 378.0 331.0 381.3 334.0 384.7 336.9 388.8 339.9 394.0 342.8 399.4 345.7 406.5 348.7 416.9M289.9 357.6 292.9 358.3 295.8 358.7 298.7 359.1 301.7 359.7 304.6 360.3 307.5 361.0 310.5 361.8 313.4 362.8 316.4 363.9 319.3 365.5 322.2 367.7 325.2 370.4 328.1 373.7 331.0 377.2 334.0 380.6 336.9 384.1 339.8 388.3 342.8 393.7 345.7 399.1 348.7 406.4 351.6 417.0M292.9 356.5 295.8 357.0 298.7 357.4 301.7 357.7 304.6 358.3 307.5 358.9 310.5 359.6 313.4 360.4 316.3 361.4 319.3 362.6 322.2 364.3 325.2 366.5 328.1 369.4 331.0 372.7 334.0 376.3 336.9 379.8 339.8 383.4 342.8 387.8 345.7 393.3 348.7 398.9 351.6 406.3 354.5 417.0M295.8 355.3 298.7 355.7 301.7 356.0 304.6 356.4 307.5 356.9 310.5 357.4 313.4 358.1 316.3 359.0 319.3 360.0 322.2 361.3 325.1 363.0 328.1 365.4 331.0 368.3 334.0 371.8 336.9 375.5 339.8 379.1 342.8 382.8 345.7 387.3 348.6 392.9 351.6 398.6 354.5 406.2 357.5 417.1M298.7 354.1 301.6 354.5 304.6 354.7 307.5 355.0 310.5 355.5 313.4 356.0 316.3 356.8 319.3 357.6 322.2 358.7 325.1 360.0 328.1 361.8 331.0 364.3 334.0 367.3 336.9 370.8 339.8 374.6 342.8 378.4 345.7 382.2 348.6 386.8 351.6 392.5 354.5 398.4 357.4 406.1 360.4 417.2M301.6 353.0 304.6 353.2 307.5 353.4 310.5 353.7 313.4 354.1 316.3 354.7 319.3 355.4 322.2 356.3 325.1 357.4 328.1 358.8 331.0 360.7 333.9 363.2 336.9 366.3 339.8 369.9 342.8 373.8 345.7 377.6 348.6 381.6 351.6 386.3 354.5 392.2 357.4 398.1 360.4 406.0 363.3 417.2M304.6 351.8 307.5 352.0 310.4 352.2 313.4 352.4 316.3 352.8 319.3 353.4 322.2 354.2 325.1 355.1 328.1 356.2 331.0 357.7 333.9 359.6 336.9 362.2 339.8 365.3 342.7 369.0 345.7 373.0 348.6 377.0 351.6 381.0 354.5 385.8 357.4 391.8 360.4 397.9 363.3 405.8 366.2 417.3M307.5 350.7 310.4 350.9 313.4 351.0 316.3 351.2 319.2 351.6 322.2 352.2 325.1 353.0 328.1 353.9 331.0 355.1 333.9 356.6 336.9 358.5 339.8 361.2 342.7 364.4 345.7 368.2 348.6 372.3 351.5 376.3 354.5 380.4 357.4 385.3 360.4 391.4 363.3 397.6 366.2 405.7 369.2 417.3M310.4 349.7 313.4 349.8 316.3 349.9 319.2 350.0 322.2 350.5 325.1 351.1 328.0 351.8 331.0 352.8 333.9 354.0 336.9 355.5 339.8 357.5 342.7 360.2 345.7 363.5 348.6 367.4 351.5 371.5 354.5 375.6 357.4 379.8 360.4 384.8 363.3 391.0 366.2 397.3 369.2 405.5 372.1 417.3M313.4 348.7 316.3 348.8 319.2 348.8 322.2 349.0 325.1 349.4 328.0 350.0 331.0 350.8 333.9 351.8 336.9 353.0 339.8 354.6 342.7 356.6 345.7 359.4 348.6 362.7 351.5 366.6 354.5 370.9 357.4 375.0 360.3 379.3 363.3 384.4 366.2 390.7 369.2 397.0 372.1 405.4 375.0 417.2M316.3 347.7 319.2 347.8 322.2 347.8 325.1 347.9 328.0 348.4 331.0 349.0 333.9 349.8 336.8 350.8 339.8 352.1 342.7 353.6 345.7 355.7 348.6 358.5 351.5 361.9 354.5 365.9 357.4 370.2 360.3 374.4 363.3 378.8 366.2 383.9 369.1 390.3 372.1 396.8 375.0 405.2 378.0 417.2M319.2 346.7 322.2 346.8 325.1 346.8 328.0 346.9 331.0 347.4 333.9 348.0 336.8 348.8 339.8 349.8 342.7 351.1 345.6 352.7 348.6 354.9 351.5 357.7 354.5 361.2 357.4 365.2 360.3 369.6 363.3 373.8 366.2 378.2 369.1 383.5 372.1 389.9 375.0 396.5 378.0 405.0 380.9 417.2M322.1 345.7 325.1 345.7 328.0 345.8 331.0 345.9 333.9 346.3 336.8 346.9 339.8 347.8 342.7 348.9 345.6 350.2 348.6 351.8 351.5 354.0 354.4 356.9 357.4 360.4 360.3 364.5 363.3 368.9 366.2 373.2 369.1 377.7 372.1 383.0 375.0 389.6 377.9 396.2 380.9 404.9 383.8 417.2M325.1 344.5 328.0 344.6 330.9 344.6 333.9 344.7 336.8 345.2 339.8 345.8 342.7 346.7 345.6 347.8 348.6 349.1 351.5 350.8 354.4 353.0 357.4 355.9 360.3 359.5 363.3 363.7 366.2 368.2 369.1 372.6 372.1 377.1 375.0 382.5 377.9 389.2 380.9 395.9 383.8 404.7 386.7 417.1M328.0 343.3 330.9 343.4 333.9 343.4 336.8 343.5 339.8 344.0 342.7 344.6 345.6 345.5 348.6 346.6 351.5 348.0 354.4 349.7 357.4 352.0 360.3 355.0 363.2 358.6 366.2 362.8 369.1 367.4 372.1 371.9 375.0 376.5 377.9 382.0 380.9 388.7 383.8 395.6 386.7 404.5 389.7 417.1M330.9 342.2 333.9 342.3 336.8 342.3 339.7 342.4 342.7 342.9 345.6 343.6 348.6 344.5 351.5 345.6 354.4 347.0 357.4 348.8 360.3 351.1 363.2 354.1 366.2 357.8 369.1 362.1 372.0 366.7 375.0 371.2 377.9 375.9 380.9 381.5 383.8 388.3 386.7 395.3 389.7 404.3 392.6 417.0M333.9 341.2 336.8 341.2 339.7 341.2 342.7 341.4 345.6 341.9 348.5 342.5 351.5 343.5 354.4 344.6 357.4 346.1 360.3 347.9 363.2 350.2 366.2 353.3 369.1 357.0 372.0 361.3 375.0 366.0 377.9 370.6 380.9 375.4 383.8 381.0 386.7 387.9 389.7 395.0 392.6 404.1 395.5 417.0M336.8 340.1 339.7 340.2 342.7 340.2 345.6 340.4 348.5 340.9 351.5 341.5 354.4 342.5 357.3 343.7 360.3 345.2 363.2 347.0 366.2 349.3 369.1 352.4 372.0 356.2 375.0 360.6 377.9 365.3 380.8 370.0 383.8 374.8 386.7 380.5 389.7 387.5 392.6 394.6 395.5 403.9 398.5 416.9M339.7 339.1 342.7 339.2 345.6 339.2 348.5 339.4 351.5 339.9 354.4 340.6 357.3 341.6 360.3 342.8 363.2 344.3 366.2 346.1 369.1 348.5 372.0 351.7 375.0 355.5 377.9 359.9 380.8 364.7 383.8 369.4 386.7 374.3 389.6 380.0 392.6 387.1 395.5 394.3 398.5 403.6 401.4 416.8M342.7 338.1 345.6 338.2 348.5 338.2 351.5 338.4 354.4 338.9 357.3 339.6 360.3 340.6 363.2 341.9 366.1 343.4 369.1 345.2 372.0 347.7 375.0 350.9 377.9 354.7 380.8 359.2 383.8 364.0 386.7 368.8 389.6 373.7 392.6 379.5 395.5 386.7 398.4 394.0 401.4 403.4 404.3 416.7M345.6 337.1 348.5 337.2 351.5 337.2 354.4 337.4 357.3 337.9 360.3 338.6 363.2 339.6 366.1 340.9 369.1 342.5 372.0 344.3 374.9 346.8 377.9 350.0 380.8 353.9 383.8 358.5 386.7 363.4 389.6 368.2 392.6 373.1 395.5 379.0 398.4 386.3 401.4 393.7 404.3 403.2 407.3 416.6M348.5 336.1 351.4 336.1 354.4 336.2 357.3 336.3 360.3 336.9 363.2 337.6 366.1 338.7 369.1 340.0 372.0 341.5 374.9 343.4 377.9 345.9 380.8 349.2 383.8 353.2 386.7 357.7 389.6 362.7 392.6 367.5 395.5 372.6 398.4 378.5 401.4 385.9 404.3 393.3 407.2 402.9 410.2 416.5" fill="none" stroke="#000" stroke-opacity="0.38" stroke-width=".45"/>
<polyline points="58.5,423.2 63.0,420.8 67.6,418.3 72.1,415.8 76.6,413.3 81.2,410.8 85.7,408.4 90.2,406.1 94.8,403.9 99.3,401.6 103.8,399.4 108.4,397.0 112.9,394.2 117.4,391.1 121.9,387.9 126.5,384.7 131.0,381.5 135.5,378.3 140.1,375.2 144.6,372.2 149.1,369.3 153.7,366.7 158.2,364.2 162.7,361.8 167.3,359.8 171.8,358.1 176.3,356.6 180.9,355.5 185.4,354.7 189.9,354.5 194.4,354.5 199.0,354.5 203.5,354.7 208.0,355.3 212.6,356.1 217.1,357.1 221.6,358.2 226.2,359.4 230.7,360.6 235.2,361.7 239.8,362.5 244.3,363.2 248.8,363.6 253.4,363.9 257.9,363.8 262.4,363.7 266.9,363.2 271.5,362.4 276.0,361.6 280.5,360.5 285.1,359.3 289.6,357.8 294.1,356.0 298.7,354.1 303.2,352.4 307.7,350.6 312.3,349.1 316.8,347.5 321.3,346.0 325.9,344.2 330.4,342.4 334.9,340.8 339.4,339.2 344.0,337.7 348.5,336.1" fill="none" stroke="#000" stroke-opacity=".55" stroke-width=".7"/>
<g id="ticksB"><line x1="45.7" y1="475.5" x2="49.7" y2="475.5" stroke="#999" stroke-width="0.7"/>
<text x="39.5" y="479.1" text-anchor="end" font-size="10.7">0</text>
<line x1="45.7" y1="427.6" x2="49.7" y2="427.6" stroke="#999" stroke-width="0.7"/>
<text x="39.5" y="431.2" text-anchor="end" font-size="10.7">20</text>
<line x1="45.7" y1="379.6" x2="49.7" y2="379.6" stroke="#999" stroke-width="0.7"/>
<text x="39.5" y="383.2" text-anchor="end" font-size="10.7">40</text>
<line x1="45.7" y1="331.7" x2="49.7" y2="331.7" stroke="#999" stroke-width="0.7"/>
<text x="39.5" y="335.3" text-anchor="end" font-size="10.7">60</text>
<line x1="49.7" y1="475.5" x2="45.2" y2="477.6" stroke="#aaa" stroke-width="0.7"/>
<text x="38.5" y="490.5" text-anchor="middle" font-size="10.7">3</text>
<line x1="107.7" y1="477.5" x2="103.2" y2="479.6" stroke="#aaa" stroke-width="0.7"/>
<text x="96.5" y="492.5" text-anchor="middle" font-size="10.7">4</text>
<line x1="165.7" y1="479.5" x2="161.2" y2="481.6" stroke="#aaa" stroke-width="0.7"/>
<text x="154.5" y="494.5" text-anchor="middle" font-size="10.7">5</text>
<line x1="223.7" y1="481.5" x2="219.2" y2="483.6" stroke="#aaa" stroke-width="0.7"/>
<text x="212.5" y="496.5" text-anchor="middle" font-size="10.7">6</text>
<line x1="281.7" y1="483.5" x2="277.2" y2="485.6" stroke="#aaa" stroke-width="0.7"/>
<text x="270.5" y="498.5" text-anchor="middle" font-size="10.7">7</text>
<line x1="339.7" y1="485.5" x2="335.2" y2="487.6" stroke="#aaa" stroke-width="0.7"/>
<text x="328.5" y="500.5" text-anchor="middle" font-size="10.7">8</text>
<line x1="339.7" y1="485.5" x2="345.7" y2="485.5" stroke="#888" stroke-width="0.7"/>
<text x="353.0" y="495.6" text-anchor="middle" font-size="10.7">0</text>
<line x1="383.8" y1="459.2" x2="389.8" y2="459.2" stroke="#888" stroke-width="0.7"/>
<text x="397.1" y="469.4" text-anchor="middle" font-size="10.7">5</text></g>
<rect x="188.8" y="333.8" width="23.7" height="20.5" rx="1" fill="#fff" stroke="#dcdcdc" stroke-width="0.6"/>
<text class="tipl" x="190.7" y="339.8" font-size="4.4">X <tspan class="tipv" font-size="4.6" x="194.4">5.22222</tspan></text>
<text class="tipl" x="190.7" y="345.9" font-size="4.4">Y <tspan class="tipv" font-size="4.6" x="194.4">1</tspan></text>
<text class="tipl" x="190.7" y="352.0" font-size="4.4">Z <tspan class="tipv" font-size="4.6" x="194.4">50.6364</tspan></text>
<rect x="186.6" y="353.4" width="2.2" height="2.2" fill="#111"/>
<rect x="349.7" y="315.8" width="18.8" height="19.4" rx="1" fill="#fff" stroke="#dcdcdc" stroke-width="0.6"/>
<text class="tipl" x="351.6" y="321.6" font-size="4.4">X <tspan class="tipv" font-size="4.6" x="355.3">8</tspan></text>
<text class="tipl" x="351.6" y="327.4" font-size="4.4">Y <tspan class="tipv" font-size="4.6" x="355.3">1</tspan></text>
<text class="tipl" x="351.6" y="333.1" font-size="4.4">Z <tspan class="tipv" font-size="4.6" x="355.3">60.97</tspan></text>
<rect x="348.1" y="335" width="2.2" height="2.2" fill="#111"/>
<text id="qb" transform="translate(17.7,459.3) rotate(-90)" font-size="12.5" letter-spacing=".2">Q<tspan font-size="10" dy="5">siphon drainage</tspan><tspan dy="-5"> (m</tspan><tspan font-size="9" dy="-4.5">3</tspan><tspan dy="4.5">/d)</tspan></text>
<text id="db" x="183" y="516.5" font-size="12.5">D<tspan font-size="10" dy="3.6">pipe</tspan><tspan dy="-3.6"> (mm)</tspan></text>
<text id="hb" x="384.8" y="506.3" font-size="12">H<tspan font-size="9.6" dy="3.6">lift</tspan><tspan dy="-3.6"> (m)</tspan></text>
<text x="222" y="543.3" font-size="11" text-anchor="middle">(<tspan font-weight="bold">b</tspan>)</text>
</svg></body></html>
